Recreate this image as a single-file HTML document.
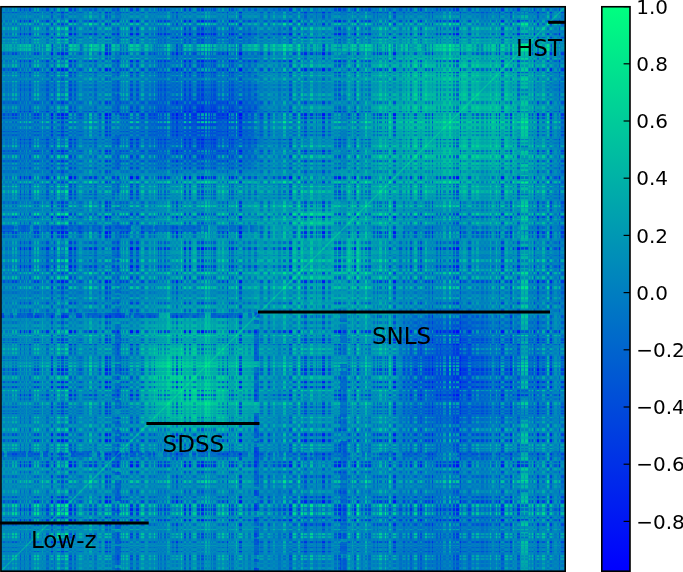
<!DOCTYPE html>
<html><head><meta charset="utf-8"><title>Correlation matrix</title>
<style>html,body{margin:0;padding:0;background:#fff;width:683px;height:572px;overflow:hidden}svg{display:block}</style>
</head><body><svg width="683" height="572" viewBox="0 0 683 572"><defs><clipPath id="pc"><rect x="0.90" y="6.75" width="564.30" height="564.45"/></clipPath><filter id="bl" x="-10%" y="-10%" width="120%" height="120%"><feGaussianBlur stdDeviation="4.0"/></filter><linearGradient id="cb" x1="0" y1="0" x2="0" y2="1"><stop offset="0" stop-color="#00ff80"/><stop offset="1" stop-color="#0000ff"/></linearGradient></defs><g clip-path="url(#pc)"><g filter="url(#bl)"><rect x="-10.9" y="-5.0" width="12.4" height="12.4" fill="#0080bf"/><rect x="0.9" y="-5.0" width="12.4" height="12.4" fill="#0080bf"/><rect x="12.7" y="-5.0" width="12.4" height="12.4" fill="#0080bf"/><rect x="24.4" y="-5.0" width="12.4" height="12.4" fill="#0080bf"/><rect x="36.2" y="-5.0" width="12.4" height="12.4" fill="#0081be"/><rect x="47.9" y="-5.0" width="12.4" height="12.4" fill="#0082be"/><rect x="59.7" y="-5.0" width="12.4" height="12.4" fill="#0081be"/><rect x="71.4" y="-5.0" width="12.4" height="12.4" fill="#007fbf"/><rect x="83.2" y="-5.0" width="12.4" height="12.4" fill="#0082be"/><rect x="95.0" y="-5.0" width="12.4" height="12.4" fill="#008aba"/><rect x="106.7" y="-5.0" width="12.4" height="12.4" fill="#0088bb"/><rect x="118.5" y="-5.0" width="12.4" height="12.4" fill="#0087bc"/><rect x="130.2" y="-5.0" width="12.4" height="12.4" fill="#0086bc"/><rect x="142.0" y="-5.0" width="12.4" height="12.4" fill="#0082be"/><rect x="153.7" y="-5.0" width="12.4" height="12.4" fill="#0081bf"/><rect x="165.5" y="-5.0" width="12.4" height="12.4" fill="#0083bd"/><rect x="177.2" y="-5.0" width="12.4" height="12.4" fill="#0085bc"/><rect x="189.0" y="-5.0" width="12.4" height="12.4" fill="#0087bc"/><rect x="200.8" y="-5.0" width="12.4" height="12.4" fill="#0087bb"/><rect x="212.5" y="-5.0" width="12.4" height="12.4" fill="#0086bc"/><rect x="224.3" y="-5.0" width="12.4" height="12.4" fill="#0087bc"/><rect x="236.0" y="-5.0" width="12.4" height="12.4" fill="#0089ba"/><rect x="247.8" y="-5.0" width="12.4" height="12.4" fill="#008bba"/><rect x="259.5" y="-5.0" width="12.4" height="12.4" fill="#0082be"/><rect x="271.3" y="-5.0" width="12.4" height="12.4" fill="#007ec0"/><rect x="283.1" y="-5.0" width="12.4" height="12.4" fill="#007cc1"/><rect x="294.8" y="-5.0" width="12.4" height="12.4" fill="#007bc1"/><rect x="306.6" y="-5.0" width="12.4" height="12.4" fill="#007bc1"/><rect x="318.3" y="-5.0" width="12.4" height="12.4" fill="#007fc0"/><rect x="330.1" y="-5.0" width="12.4" height="12.4" fill="#0084bd"/><rect x="341.8" y="-5.0" width="12.4" height="12.4" fill="#0083bd"/><rect x="353.6" y="-5.0" width="12.4" height="12.4" fill="#0081be"/><rect x="365.3" y="-5.0" width="12.4" height="12.4" fill="#007ec0"/><rect x="377.1" y="-5.0" width="12.4" height="12.4" fill="#007cc1"/><rect x="388.9" y="-5.0" width="12.4" height="12.4" fill="#007dc1"/><rect x="400.6" y="-5.0" width="12.4" height="12.4" fill="#0080bf"/><rect x="412.4" y="-5.0" width="12.4" height="12.4" fill="#0080bf"/><rect x="424.1" y="-5.0" width="12.4" height="12.4" fill="#007fc0"/><rect x="435.9" y="-5.0" width="12.4" height="12.4" fill="#0080bf"/><rect x="447.6" y="-5.0" width="12.4" height="12.4" fill="#0084bd"/><rect x="459.4" y="-5.0" width="12.4" height="12.4" fill="#0083be"/><rect x="471.2" y="-5.0" width="12.4" height="12.4" fill="#007cc1"/><rect x="482.9" y="-5.0" width="12.4" height="12.4" fill="#007bc2"/><rect x="494.7" y="-5.0" width="12.4" height="12.4" fill="#007fc0"/><rect x="506.4" y="-5.0" width="12.4" height="12.4" fill="#007fc0"/><rect x="518.2" y="-5.0" width="12.4" height="12.4" fill="#0084bd"/><rect x="529.9" y="-5.0" width="12.4" height="12.4" fill="#007ac2"/><rect x="541.7" y="-5.0" width="12.4" height="12.4" fill="#0080bf"/><rect x="553.4" y="-5.0" width="12.4" height="12.4" fill="#008aba"/><rect x="565.2" y="-5.0" width="12.4" height="12.4" fill="#008aba"/><rect x="-10.9" y="6.8" width="12.4" height="12.4" fill="#0080bf"/><rect x="0.9" y="6.8" width="12.4" height="12.4" fill="#0080bf"/><rect x="12.7" y="6.8" width="12.4" height="12.4" fill="#0080bf"/><rect x="24.4" y="6.8" width="12.4" height="12.4" fill="#0080bf"/><rect x="36.2" y="6.8" width="12.4" height="12.4" fill="#0081be"/><rect x="47.9" y="6.8" width="12.4" height="12.4" fill="#0082be"/><rect x="59.7" y="6.8" width="12.4" height="12.4" fill="#0081be"/><rect x="71.4" y="6.8" width="12.4" height="12.4" fill="#007fbf"/><rect x="83.2" y="6.8" width="12.4" height="12.4" fill="#0082be"/><rect x="95.0" y="6.8" width="12.4" height="12.4" fill="#008aba"/><rect x="106.7" y="6.8" width="12.4" height="12.4" fill="#0088bb"/><rect x="118.5" y="6.8" width="12.4" height="12.4" fill="#0087bc"/><rect x="130.2" y="6.8" width="12.4" height="12.4" fill="#0086bc"/><rect x="142.0" y="6.8" width="12.4" height="12.4" fill="#0082be"/><rect x="153.7" y="6.8" width="12.4" height="12.4" fill="#0081bf"/><rect x="165.5" y="6.8" width="12.4" height="12.4" fill="#0083bd"/><rect x="177.2" y="6.8" width="12.4" height="12.4" fill="#0085bc"/><rect x="189.0" y="6.8" width="12.4" height="12.4" fill="#0087bc"/><rect x="200.8" y="6.8" width="12.4" height="12.4" fill="#0087bb"/><rect x="212.5" y="6.8" width="12.4" height="12.4" fill="#0086bc"/><rect x="224.3" y="6.8" width="12.4" height="12.4" fill="#0087bc"/><rect x="236.0" y="6.8" width="12.4" height="12.4" fill="#0089ba"/><rect x="247.8" y="6.8" width="12.4" height="12.4" fill="#008bba"/><rect x="259.5" y="6.8" width="12.4" height="12.4" fill="#0082be"/><rect x="271.3" y="6.8" width="12.4" height="12.4" fill="#007ec0"/><rect x="283.1" y="6.8" width="12.4" height="12.4" fill="#007cc1"/><rect x="294.8" y="6.8" width="12.4" height="12.4" fill="#007bc1"/><rect x="306.6" y="6.8" width="12.4" height="12.4" fill="#007bc1"/><rect x="318.3" y="6.8" width="12.4" height="12.4" fill="#007fc0"/><rect x="330.1" y="6.8" width="12.4" height="12.4" fill="#0084bd"/><rect x="341.8" y="6.8" width="12.4" height="12.4" fill="#0083bd"/><rect x="353.6" y="6.8" width="12.4" height="12.4" fill="#0081be"/><rect x="365.3" y="6.8" width="12.4" height="12.4" fill="#007ec0"/><rect x="377.1" y="6.8" width="12.4" height="12.4" fill="#007cc1"/><rect x="388.9" y="6.8" width="12.4" height="12.4" fill="#007dc1"/><rect x="400.6" y="6.8" width="12.4" height="12.4" fill="#0080bf"/><rect x="412.4" y="6.8" width="12.4" height="12.4" fill="#0080bf"/><rect x="424.1" y="6.8" width="12.4" height="12.4" fill="#007fc0"/><rect x="435.9" y="6.8" width="12.4" height="12.4" fill="#0080bf"/><rect x="447.6" y="6.8" width="12.4" height="12.4" fill="#0084bd"/><rect x="459.4" y="6.8" width="12.4" height="12.4" fill="#0083be"/><rect x="471.2" y="6.8" width="12.4" height="12.4" fill="#007cc1"/><rect x="482.9" y="6.8" width="12.4" height="12.4" fill="#007bc2"/><rect x="494.7" y="6.8" width="12.4" height="12.4" fill="#007fc0"/><rect x="506.4" y="6.8" width="12.4" height="12.4" fill="#007fc0"/><rect x="518.2" y="6.8" width="12.4" height="12.4" fill="#0084bd"/><rect x="529.9" y="6.8" width="12.4" height="12.4" fill="#007ac2"/><rect x="541.7" y="6.8" width="12.4" height="12.4" fill="#0080bf"/><rect x="553.4" y="6.8" width="12.4" height="12.4" fill="#008aba"/><rect x="565.2" y="6.8" width="12.4" height="12.4" fill="#008aba"/><rect x="-10.9" y="18.5" width="12.4" height="12.4" fill="#0081bf"/><rect x="0.9" y="18.5" width="12.4" height="12.4" fill="#0081bf"/><rect x="12.7" y="18.5" width="12.4" height="12.4" fill="#0081be"/><rect x="24.4" y="18.5" width="12.4" height="12.4" fill="#0082be"/><rect x="36.2" y="18.5" width="12.4" height="12.4" fill="#0084bd"/><rect x="47.9" y="18.5" width="12.4" height="12.4" fill="#0086bc"/><rect x="59.7" y="18.5" width="12.4" height="12.4" fill="#0085bc"/><rect x="71.4" y="18.5" width="12.4" height="12.4" fill="#0081be"/><rect x="83.2" y="18.5" width="12.4" height="12.4" fill="#0083bd"/><rect x="95.0" y="18.5" width="12.4" height="12.4" fill="#008cb9"/><rect x="106.7" y="18.5" width="12.4" height="12.4" fill="#008aba"/><rect x="118.5" y="18.5" width="12.4" height="12.4" fill="#0088bb"/><rect x="130.2" y="18.5" width="12.4" height="12.4" fill="#0087bb"/><rect x="142.0" y="18.5" width="12.4" height="12.4" fill="#007fc0"/><rect x="153.7" y="18.5" width="12.4" height="12.4" fill="#0079c2"/><rect x="165.5" y="18.5" width="12.4" height="12.4" fill="#007bc1"/><rect x="177.2" y="18.5" width="12.4" height="12.4" fill="#007bc1"/><rect x="189.0" y="18.5" width="12.4" height="12.4" fill="#0079c2"/><rect x="200.8" y="18.5" width="12.4" height="12.4" fill="#0079c3"/><rect x="212.5" y="18.5" width="12.4" height="12.4" fill="#007ac2"/><rect x="224.3" y="18.5" width="12.4" height="12.4" fill="#007cc1"/><rect x="236.0" y="18.5" width="12.4" height="12.4" fill="#007ec0"/><rect x="247.8" y="18.5" width="12.4" height="12.4" fill="#0081bf"/><rect x="259.5" y="18.5" width="12.4" height="12.4" fill="#0084bd"/><rect x="271.3" y="18.5" width="12.4" height="12.4" fill="#0082be"/><rect x="283.1" y="18.5" width="12.4" height="12.4" fill="#0080bf"/><rect x="294.8" y="18.5" width="12.4" height="12.4" fill="#0081be"/><rect x="306.6" y="18.5" width="12.4" height="12.4" fill="#0084bd"/><rect x="318.3" y="18.5" width="12.4" height="12.4" fill="#0087bb"/><rect x="330.1" y="18.5" width="12.4" height="12.4" fill="#008bb9"/><rect x="341.8" y="18.5" width="12.4" height="12.4" fill="#008aba"/><rect x="353.6" y="18.5" width="12.4" height="12.4" fill="#0088bb"/><rect x="365.3" y="18.5" width="12.4" height="12.4" fill="#008aba"/><rect x="377.1" y="18.5" width="12.4" height="12.4" fill="#008bb9"/><rect x="388.9" y="18.5" width="12.4" height="12.4" fill="#008db9"/><rect x="400.6" y="18.5" width="12.4" height="12.4" fill="#0090b7"/><rect x="412.4" y="18.5" width="12.4" height="12.4" fill="#0091b7"/><rect x="424.1" y="18.5" width="12.4" height="12.4" fill="#008eb8"/><rect x="435.9" y="18.5" width="12.4" height="12.4" fill="#008fb8"/><rect x="447.6" y="18.5" width="12.4" height="12.4" fill="#0093b6"/><rect x="459.4" y="18.5" width="12.4" height="12.4" fill="#0092b6"/><rect x="471.2" y="18.5" width="12.4" height="12.4" fill="#008db9"/><rect x="482.9" y="18.5" width="12.4" height="12.4" fill="#008cb9"/><rect x="494.7" y="18.5" width="12.4" height="12.4" fill="#0090b7"/><rect x="506.4" y="18.5" width="12.4" height="12.4" fill="#008fb8"/><rect x="518.2" y="18.5" width="12.4" height="12.4" fill="#0094b5"/><rect x="529.9" y="18.5" width="12.4" height="12.4" fill="#008aba"/><rect x="541.7" y="18.5" width="12.4" height="12.4" fill="#0087bc"/><rect x="553.4" y="18.5" width="12.4" height="12.4" fill="#0082be"/><rect x="565.2" y="18.5" width="12.4" height="12.4" fill="#0082be"/><rect x="-10.9" y="30.3" width="12.4" height="12.4" fill="#0080bf"/><rect x="0.9" y="30.3" width="12.4" height="12.4" fill="#0080bf"/><rect x="12.7" y="30.3" width="12.4" height="12.4" fill="#0081bf"/><rect x="24.4" y="30.3" width="12.4" height="12.4" fill="#0083bd"/><rect x="36.2" y="30.3" width="12.4" height="12.4" fill="#0087bc"/><rect x="47.9" y="30.3" width="12.4" height="12.4" fill="#008cb9"/><rect x="59.7" y="30.3" width="12.4" height="12.4" fill="#008bba"/><rect x="71.4" y="30.3" width="12.4" height="12.4" fill="#0082be"/><rect x="83.2" y="30.3" width="12.4" height="12.4" fill="#0083be"/><rect x="95.0" y="30.3" width="12.4" height="12.4" fill="#008cb9"/><rect x="106.7" y="30.3" width="12.4" height="12.4" fill="#008bba"/><rect x="118.5" y="30.3" width="12.4" height="12.4" fill="#0088bb"/><rect x="130.2" y="30.3" width="12.4" height="12.4" fill="#0087bc"/><rect x="142.0" y="30.3" width="12.4" height="12.4" fill="#007cc1"/><rect x="153.7" y="30.3" width="12.4" height="12.4" fill="#0074c5"/><rect x="165.5" y="30.3" width="12.4" height="12.4" fill="#0076c4"/><rect x="177.2" y="30.3" width="12.4" height="12.4" fill="#0073c5"/><rect x="189.0" y="30.3" width="12.4" height="12.4" fill="#006bc9"/><rect x="200.8" y="30.3" width="12.4" height="12.4" fill="#006aca"/><rect x="212.5" y="30.3" width="12.4" height="12.4" fill="#006fc8"/><rect x="224.3" y="30.3" width="12.4" height="12.4" fill="#0073c6"/><rect x="236.0" y="30.3" width="12.4" height="12.4" fill="#0072c6"/><rect x="247.8" y="30.3" width="12.4" height="12.4" fill="#0076c4"/><rect x="259.5" y="30.3" width="12.4" height="12.4" fill="#0081be"/><rect x="271.3" y="30.3" width="12.4" height="12.4" fill="#0081be"/><rect x="283.1" y="30.3" width="12.4" height="12.4" fill="#007fbf"/><rect x="294.8" y="30.3" width="12.4" height="12.4" fill="#0084bd"/><rect x="306.6" y="30.3" width="12.4" height="12.4" fill="#008aba"/><rect x="318.3" y="30.3" width="12.4" height="12.4" fill="#008eb8"/><rect x="330.1" y="30.3" width="12.4" height="12.4" fill="#008fb8"/><rect x="341.8" y="30.3" width="12.4" height="12.4" fill="#008bb9"/><rect x="353.6" y="30.3" width="12.4" height="12.4" fill="#008aba"/><rect x="365.3" y="30.3" width="12.4" height="12.4" fill="#0090b7"/><rect x="377.1" y="30.3" width="12.4" height="12.4" fill="#0095b4"/><rect x="388.9" y="30.3" width="12.4" height="12.4" fill="#0098b3"/><rect x="400.6" y="30.3" width="12.4" height="12.4" fill="#009cb1"/><rect x="412.4" y="30.3" width="12.4" height="12.4" fill="#009bb2"/><rect x="424.1" y="30.3" width="12.4" height="12.4" fill="#0096b4"/><rect x="435.9" y="30.3" width="12.4" height="12.4" fill="#0096b4"/><rect x="447.6" y="30.3" width="12.4" height="12.4" fill="#0099b3"/><rect x="459.4" y="30.3" width="12.4" height="12.4" fill="#0099b2"/><rect x="471.2" y="30.3" width="12.4" height="12.4" fill="#0097b4"/><rect x="482.9" y="30.3" width="12.4" height="12.4" fill="#0097b4"/><rect x="494.7" y="30.3" width="12.4" height="12.4" fill="#009ab2"/><rect x="506.4" y="30.3" width="12.4" height="12.4" fill="#009ab2"/><rect x="518.2" y="30.3" width="12.4" height="12.4" fill="#00a1ae"/><rect x="529.9" y="30.3" width="12.4" height="12.4" fill="#0097b3"/><rect x="541.7" y="30.3" width="12.4" height="12.4" fill="#008eb8"/><rect x="553.4" y="30.3" width="12.4" height="12.4" fill="#0080bf"/><rect x="565.2" y="30.3" width="12.4" height="12.4" fill="#0080bf"/><rect x="-10.9" y="42.0" width="12.4" height="12.4" fill="#008aba"/><rect x="0.9" y="42.0" width="12.4" height="12.4" fill="#008aba"/><rect x="12.7" y="42.0" width="12.4" height="12.4" fill="#008bba"/><rect x="24.4" y="42.0" width="12.4" height="12.4" fill="#008db9"/><rect x="36.2" y="42.0" width="12.4" height="12.4" fill="#0091b7"/><rect x="47.9" y="42.0" width="12.4" height="12.4" fill="#0096b4"/><rect x="59.7" y="42.0" width="12.4" height="12.4" fill="#0094b5"/><rect x="71.4" y="42.0" width="12.4" height="12.4" fill="#008cb9"/><rect x="83.2" y="42.0" width="12.4" height="12.4" fill="#008db9"/><rect x="95.0" y="42.0" width="12.4" height="12.4" fill="#0096b4"/><rect x="106.7" y="42.0" width="12.4" height="12.4" fill="#0095b5"/><rect x="118.5" y="42.0" width="12.4" height="12.4" fill="#0092b6"/><rect x="130.2" y="42.0" width="12.4" height="12.4" fill="#0091b7"/><rect x="142.0" y="42.0" width="12.4" height="12.4" fill="#0086bc"/><rect x="153.7" y="42.0" width="12.4" height="12.4" fill="#007ec0"/><rect x="165.5" y="42.0" width="12.4" height="12.4" fill="#007fbf"/><rect x="177.2" y="42.0" width="12.4" height="12.4" fill="#007cc1"/><rect x="189.0" y="42.0" width="12.4" height="12.4" fill="#0074c5"/><rect x="200.8" y="42.0" width="12.4" height="12.4" fill="#0073c6"/><rect x="212.5" y="42.0" width="12.4" height="12.4" fill="#0078c3"/><rect x="224.3" y="42.0" width="12.4" height="12.4" fill="#007bc1"/><rect x="236.0" y="42.0" width="12.4" height="12.4" fill="#007bc2"/><rect x="247.8" y="42.0" width="12.4" height="12.4" fill="#007fbf"/><rect x="259.5" y="42.0" width="12.4" height="12.4" fill="#008bb9"/><rect x="271.3" y="42.0" width="12.4" height="12.4" fill="#008cb9"/><rect x="283.1" y="42.0" width="12.4" height="12.4" fill="#008aba"/><rect x="294.8" y="42.0" width="12.4" height="12.4" fill="#008eb8"/><rect x="306.6" y="42.0" width="12.4" height="12.4" fill="#0095b5"/><rect x="318.3" y="42.0" width="12.4" height="12.4" fill="#0098b3"/><rect x="330.1" y="42.0" width="12.4" height="12.4" fill="#0099b2"/><rect x="341.8" y="42.0" width="12.4" height="12.4" fill="#0096b4"/><rect x="353.6" y="42.0" width="12.4" height="12.4" fill="#0095b5"/><rect x="365.3" y="42.0" width="12.4" height="12.4" fill="#009bb1"/><rect x="377.1" y="42.0" width="12.4" height="12.4" fill="#00a1ae"/><rect x="388.9" y="42.0" width="12.4" height="12.4" fill="#00a4ad"/><rect x="400.6" y="42.0" width="12.4" height="12.4" fill="#00a8ab"/><rect x="412.4" y="42.0" width="12.4" height="12.4" fill="#00a7ab"/><rect x="424.1" y="42.0" width="12.4" height="12.4" fill="#00a2ae"/><rect x="435.9" y="42.0" width="12.4" height="12.4" fill="#00a2ae"/><rect x="447.6" y="42.0" width="12.4" height="12.4" fill="#00a6ac"/><rect x="459.4" y="42.0" width="12.4" height="12.4" fill="#00a7ac"/><rect x="471.2" y="42.0" width="12.4" height="12.4" fill="#00a3ad"/><rect x="482.9" y="42.0" width="12.4" height="12.4" fill="#00a3ad"/><rect x="494.7" y="42.0" width="12.4" height="12.4" fill="#00a7ac"/><rect x="506.4" y="42.0" width="12.4" height="12.4" fill="#00a6ac"/><rect x="518.2" y="42.0" width="12.4" height="12.4" fill="#00ada8"/><rect x="529.9" y="42.0" width="12.4" height="12.4" fill="#00a3ae"/><rect x="541.7" y="42.0" width="12.4" height="12.4" fill="#0099b3"/><rect x="553.4" y="42.0" width="12.4" height="12.4" fill="#008aba"/><rect x="565.2" y="42.0" width="12.4" height="12.4" fill="#008aba"/><rect x="-10.9" y="53.8" width="12.4" height="12.4" fill="#0081be"/><rect x="0.9" y="53.8" width="12.4" height="12.4" fill="#0081be"/><rect x="12.7" y="53.8" width="12.4" height="12.4" fill="#0082be"/><rect x="24.4" y="53.8" width="12.4" height="12.4" fill="#0083be"/><rect x="36.2" y="53.8" width="12.4" height="12.4" fill="#0084bd"/><rect x="47.9" y="53.8" width="12.4" height="12.4" fill="#0086bc"/><rect x="59.7" y="53.8" width="12.4" height="12.4" fill="#0085bc"/><rect x="71.4" y="53.8" width="12.4" height="12.4" fill="#0082be"/><rect x="83.2" y="53.8" width="12.4" height="12.4" fill="#0085bc"/><rect x="95.0" y="53.8" width="12.4" height="12.4" fill="#008eb8"/><rect x="106.7" y="53.8" width="12.4" height="12.4" fill="#008bb9"/><rect x="118.5" y="53.8" width="12.4" height="12.4" fill="#008aba"/><rect x="130.2" y="53.8" width="12.4" height="12.4" fill="#0088bb"/><rect x="142.0" y="53.8" width="12.4" height="12.4" fill="#007bc1"/><rect x="153.7" y="53.8" width="12.4" height="12.4" fill="#0073c6"/><rect x="165.5" y="53.8" width="12.4" height="12.4" fill="#0075c4"/><rect x="177.2" y="53.8" width="12.4" height="12.4" fill="#0074c5"/><rect x="189.0" y="53.8" width="12.4" height="12.4" fill="#006fc7"/><rect x="200.8" y="53.8" width="12.4" height="12.4" fill="#006fc8"/><rect x="212.5" y="53.8" width="12.4" height="12.4" fill="#0072c6"/><rect x="224.3" y="53.8" width="12.4" height="12.4" fill="#0076c4"/><rect x="236.0" y="53.8" width="12.4" height="12.4" fill="#0077c4"/><rect x="247.8" y="53.8" width="12.4" height="12.4" fill="#007cc1"/><rect x="259.5" y="53.8" width="12.4" height="12.4" fill="#008aba"/><rect x="271.3" y="53.8" width="12.4" height="12.4" fill="#008bba"/><rect x="283.1" y="53.8" width="12.4" height="12.4" fill="#008aba"/><rect x="294.8" y="53.8" width="12.4" height="12.4" fill="#008db9"/><rect x="306.6" y="53.8" width="12.4" height="12.4" fill="#008fb8"/><rect x="318.3" y="53.8" width="12.4" height="12.4" fill="#0092b6"/><rect x="330.1" y="53.8" width="12.4" height="12.4" fill="#0097b4"/><rect x="341.8" y="53.8" width="12.4" height="12.4" fill="#0095b4"/><rect x="353.6" y="53.8" width="12.4" height="12.4" fill="#0094b5"/><rect x="365.3" y="53.8" width="12.4" height="12.4" fill="#009db1"/><rect x="377.1" y="53.8" width="12.4" height="12.4" fill="#00a1ae"/><rect x="388.9" y="53.8" width="12.4" height="12.4" fill="#00a4ad"/><rect x="400.6" y="53.8" width="12.4" height="12.4" fill="#00ada8"/><rect x="412.4" y="53.8" width="12.4" height="12.4" fill="#00b0a7"/><rect x="424.1" y="53.8" width="12.4" height="12.4" fill="#00ada9"/><rect x="435.9" y="53.8" width="12.4" height="12.4" fill="#00aea8"/><rect x="447.6" y="53.8" width="12.4" height="12.4" fill="#00b4a5"/><rect x="459.4" y="53.8" width="12.4" height="12.4" fill="#00b3a5"/><rect x="471.2" y="53.8" width="12.4" height="12.4" fill="#00aca9"/><rect x="482.9" y="53.8" width="12.4" height="12.4" fill="#00aaaa"/><rect x="494.7" y="53.8" width="12.4" height="12.4" fill="#00ada8"/><rect x="506.4" y="53.8" width="12.4" height="12.4" fill="#00a8ab"/><rect x="518.2" y="53.8" width="12.4" height="12.4" fill="#00a7ac"/><rect x="529.9" y="53.8" width="12.4" height="12.4" fill="#009bb1"/><rect x="541.7" y="53.8" width="12.4" height="12.4" fill="#0091b7"/><rect x="553.4" y="53.8" width="12.4" height="12.4" fill="#0081bf"/><rect x="565.2" y="53.8" width="12.4" height="12.4" fill="#0081bf"/><rect x="-10.9" y="65.5" width="12.4" height="12.4" fill="#007fc0"/><rect x="0.9" y="65.5" width="12.4" height="12.4" fill="#007fc0"/><rect x="12.7" y="65.5" width="12.4" height="12.4" fill="#007fbf"/><rect x="24.4" y="65.5" width="12.4" height="12.4" fill="#0080bf"/><rect x="36.2" y="65.5" width="12.4" height="12.4" fill="#0080bf"/><rect x="47.9" y="65.5" width="12.4" height="12.4" fill="#007ec0"/><rect x="59.7" y="65.5" width="12.4" height="12.4" fill="#007ec0"/><rect x="71.4" y="65.5" width="12.4" height="12.4" fill="#0080bf"/><rect x="83.2" y="65.5" width="12.4" height="12.4" fill="#0085bd"/><rect x="95.0" y="65.5" width="12.4" height="12.4" fill="#008bba"/><rect x="106.7" y="65.5" width="12.4" height="12.4" fill="#0088bb"/><rect x="118.5" y="65.5" width="12.4" height="12.4" fill="#0088bb"/><rect x="130.2" y="65.5" width="12.4" height="12.4" fill="#0086bc"/><rect x="142.0" y="65.5" width="12.4" height="12.4" fill="#0079c2"/><rect x="153.7" y="65.5" width="12.4" height="12.4" fill="#0070c7"/><rect x="165.5" y="65.5" width="12.4" height="12.4" fill="#0073c6"/><rect x="177.2" y="65.5" width="12.4" height="12.4" fill="#0073c6"/><rect x="189.0" y="65.5" width="12.4" height="12.4" fill="#0071c7"/><rect x="200.8" y="65.5" width="12.4" height="12.4" fill="#0071c6"/><rect x="212.5" y="65.5" width="12.4" height="12.4" fill="#0071c6"/><rect x="224.3" y="65.5" width="12.4" height="12.4" fill="#0076c4"/><rect x="236.0" y="65.5" width="12.4" height="12.4" fill="#0077c3"/><rect x="247.8" y="65.5" width="12.4" height="12.4" fill="#007dc1"/><rect x="259.5" y="65.5" width="12.4" height="12.4" fill="#008cb9"/><rect x="271.3" y="65.5" width="12.4" height="12.4" fill="#008db8"/><rect x="283.1" y="65.5" width="12.4" height="12.4" fill="#008cb9"/><rect x="294.8" y="65.5" width="12.4" height="12.4" fill="#008eb8"/><rect x="306.6" y="65.5" width="12.4" height="12.4" fill="#008cb9"/><rect x="318.3" y="65.5" width="12.4" height="12.4" fill="#0090b7"/><rect x="330.1" y="65.5" width="12.4" height="12.4" fill="#0099b3"/><rect x="341.8" y="65.5" width="12.4" height="12.4" fill="#009ab2"/><rect x="353.6" y="65.5" width="12.4" height="12.4" fill="#0098b3"/><rect x="365.3" y="65.5" width="12.4" height="12.4" fill="#00a1ae"/><rect x="377.1" y="65.5" width="12.4" height="12.4" fill="#00a4ad"/><rect x="388.9" y="65.5" width="12.4" height="12.4" fill="#00a6ac"/><rect x="400.6" y="65.5" width="12.4" height="12.4" fill="#00b4a5"/><rect x="412.4" y="65.5" width="12.4" height="12.4" fill="#00b9a2"/><rect x="424.1" y="65.5" width="12.4" height="12.4" fill="#00b6a4"/><rect x="435.9" y="65.5" width="12.4" height="12.4" fill="#00b9a3"/><rect x="447.6" y="65.5" width="12.4" height="12.4" fill="#00c09f"/><rect x="459.4" y="65.5" width="12.4" height="12.4" fill="#00bfa0"/><rect x="471.2" y="65.5" width="12.4" height="12.4" fill="#00b3a6"/><rect x="482.9" y="65.5" width="12.4" height="12.4" fill="#00b0a7"/><rect x="494.7" y="65.5" width="12.4" height="12.4" fill="#00b5a5"/><rect x="506.4" y="65.5" width="12.4" height="12.4" fill="#00ada9"/><rect x="518.2" y="65.5" width="12.4" height="12.4" fill="#00a7ac"/><rect x="529.9" y="65.5" width="12.4" height="12.4" fill="#009bb2"/><rect x="541.7" y="65.5" width="12.4" height="12.4" fill="#0090b7"/><rect x="553.4" y="65.5" width="12.4" height="12.4" fill="#007fc0"/><rect x="565.2" y="65.5" width="12.4" height="12.4" fill="#007fc0"/><rect x="-10.9" y="77.3" width="12.4" height="12.4" fill="#0079c3"/><rect x="0.9" y="77.3" width="12.4" height="12.4" fill="#0079c3"/><rect x="12.7" y="77.3" width="12.4" height="12.4" fill="#007ac2"/><rect x="24.4" y="77.3" width="12.4" height="12.4" fill="#007dc1"/><rect x="36.2" y="77.3" width="12.4" height="12.4" fill="#007bc1"/><rect x="47.9" y="77.3" width="12.4" height="12.4" fill="#0076c4"/><rect x="59.7" y="77.3" width="12.4" height="12.4" fill="#0076c4"/><rect x="71.4" y="77.3" width="12.4" height="12.4" fill="#007ec0"/><rect x="83.2" y="77.3" width="12.4" height="12.4" fill="#0083bd"/><rect x="95.0" y="77.3" width="12.4" height="12.4" fill="#0087bc"/><rect x="106.7" y="77.3" width="12.4" height="12.4" fill="#0083bd"/><rect x="118.5" y="77.3" width="12.4" height="12.4" fill="#0084bd"/><rect x="130.2" y="77.3" width="12.4" height="12.4" fill="#0084bd"/><rect x="142.0" y="77.3" width="12.4" height="12.4" fill="#0077c4"/><rect x="153.7" y="77.3" width="12.4" height="12.4" fill="#006ec8"/><rect x="165.5" y="77.3" width="12.4" height="12.4" fill="#0070c7"/><rect x="177.2" y="77.3" width="12.4" height="12.4" fill="#0071c6"/><rect x="189.0" y="77.3" width="12.4" height="12.4" fill="#0072c6"/><rect x="200.8" y="77.3" width="12.4" height="12.4" fill="#0073c6"/><rect x="212.5" y="77.3" width="12.4" height="12.4" fill="#0070c7"/><rect x="224.3" y="77.3" width="12.4" height="12.4" fill="#0073c6"/><rect x="236.0" y="77.3" width="12.4" height="12.4" fill="#0074c5"/><rect x="247.8" y="77.3" width="12.4" height="12.4" fill="#007ac2"/><rect x="259.5" y="77.3" width="12.4" height="12.4" fill="#0089ba"/><rect x="271.3" y="77.3" width="12.4" height="12.4" fill="#008aba"/><rect x="283.1" y="77.3" width="12.4" height="12.4" fill="#0089bb"/><rect x="294.8" y="77.3" width="12.4" height="12.4" fill="#0088bb"/><rect x="306.6" y="77.3" width="12.4" height="12.4" fill="#0083bd"/><rect x="318.3" y="77.3" width="12.4" height="12.4" fill="#0088bb"/><rect x="330.1" y="77.3" width="12.4" height="12.4" fill="#0096b4"/><rect x="341.8" y="77.3" width="12.4" height="12.4" fill="#0099b3"/><rect x="353.6" y="77.3" width="12.4" height="12.4" fill="#0096b4"/><rect x="365.3" y="77.3" width="12.4" height="12.4" fill="#009db1"/><rect x="377.1" y="77.3" width="12.4" height="12.4" fill="#009db1"/><rect x="388.9" y="77.3" width="12.4" height="12.4" fill="#009eb0"/><rect x="400.6" y="77.3" width="12.4" height="12.4" fill="#00aea8"/><rect x="412.4" y="77.3" width="12.4" height="12.4" fill="#00b4a5"/><rect x="424.1" y="77.3" width="12.4" height="12.4" fill="#00b1a7"/><rect x="435.9" y="77.3" width="12.4" height="12.4" fill="#00b4a5"/><rect x="447.6" y="77.3" width="12.4" height="12.4" fill="#00bea0"/><rect x="459.4" y="77.3" width="12.4" height="12.4" fill="#00baa2"/><rect x="471.2" y="77.3" width="12.4" height="12.4" fill="#00aaaa"/><rect x="482.9" y="77.3" width="12.4" height="12.4" fill="#00a6ac"/><rect x="494.7" y="77.3" width="12.4" height="12.4" fill="#00afa7"/><rect x="506.4" y="77.3" width="12.4" height="12.4" fill="#00a9aa"/><rect x="518.2" y="77.3" width="12.4" height="12.4" fill="#00a3ae"/><rect x="529.9" y="77.3" width="12.4" height="12.4" fill="#0097b4"/><rect x="541.7" y="77.3" width="12.4" height="12.4" fill="#008bb9"/><rect x="553.4" y="77.3" width="12.4" height="12.4" fill="#007bc2"/><rect x="565.2" y="77.3" width="12.4" height="12.4" fill="#007bc2"/><rect x="-10.9" y="89.1" width="12.4" height="12.4" fill="#0075c4"/><rect x="0.9" y="89.1" width="12.4" height="12.4" fill="#0075c4"/><rect x="12.7" y="89.1" width="12.4" height="12.4" fill="#0076c4"/><rect x="24.4" y="89.1" width="12.4" height="12.4" fill="#0078c3"/><rect x="36.2" y="89.1" width="12.4" height="12.4" fill="#0077c3"/><rect x="47.9" y="89.1" width="12.4" height="12.4" fill="#0074c5"/><rect x="59.7" y="89.1" width="12.4" height="12.4" fill="#0074c5"/><rect x="71.4" y="89.1" width="12.4" height="12.4" fill="#007ac2"/><rect x="83.2" y="89.1" width="12.4" height="12.4" fill="#007fc0"/><rect x="95.0" y="89.1" width="12.4" height="12.4" fill="#0084bd"/><rect x="106.7" y="89.1" width="12.4" height="12.4" fill="#007ec0"/><rect x="118.5" y="89.1" width="12.4" height="12.4" fill="#007cc1"/><rect x="130.2" y="89.1" width="12.4" height="12.4" fill="#007cc1"/><rect x="142.0" y="89.1" width="12.4" height="12.4" fill="#006fc8"/><rect x="153.7" y="89.1" width="12.4" height="12.4" fill="#0066cc"/><rect x="165.5" y="89.1" width="12.4" height="12.4" fill="#0067cb"/><rect x="177.2" y="89.1" width="12.4" height="12.4" fill="#0066cc"/><rect x="189.0" y="89.1" width="12.4" height="12.4" fill="#0061ce"/><rect x="200.8" y="89.1" width="12.4" height="12.4" fill="#0061ce"/><rect x="212.5" y="89.1" width="12.4" height="12.4" fill="#0062ce"/><rect x="224.3" y="89.1" width="12.4" height="12.4" fill="#0067cc"/><rect x="236.0" y="89.1" width="12.4" height="12.4" fill="#0068cb"/><rect x="247.8" y="89.1" width="12.4" height="12.4" fill="#006fc8"/><rect x="259.5" y="89.1" width="12.4" height="12.4" fill="#0085bc"/><rect x="271.3" y="89.1" width="12.4" height="12.4" fill="#0087bb"/><rect x="283.1" y="89.1" width="12.4" height="12.4" fill="#0086bc"/><rect x="294.8" y="89.1" width="12.4" height="12.4" fill="#0087bc"/><rect x="306.6" y="89.1" width="12.4" height="12.4" fill="#0085bd"/><rect x="318.3" y="89.1" width="12.4" height="12.4" fill="#0089bb"/><rect x="330.1" y="89.1" width="12.4" height="12.4" fill="#0093b6"/><rect x="341.8" y="89.1" width="12.4" height="12.4" fill="#0094b5"/><rect x="353.6" y="89.1" width="12.4" height="12.4" fill="#0092b6"/><rect x="365.3" y="89.1" width="12.4" height="12.4" fill="#009cb1"/><rect x="377.1" y="89.1" width="12.4" height="12.4" fill="#009faf"/><rect x="388.9" y="89.1" width="12.4" height="12.4" fill="#00a1ae"/><rect x="400.6" y="89.1" width="12.4" height="12.4" fill="#00b0a7"/><rect x="412.4" y="89.1" width="12.4" height="12.4" fill="#00b5a5"/><rect x="424.1" y="89.1" width="12.4" height="12.4" fill="#00b2a6"/><rect x="435.9" y="89.1" width="12.4" height="12.4" fill="#00b4a5"/><rect x="447.6" y="89.1" width="12.4" height="12.4" fill="#00bba1"/><rect x="459.4" y="89.1" width="12.4" height="12.4" fill="#00b9a3"/><rect x="471.2" y="89.1" width="12.4" height="12.4" fill="#00aca9"/><rect x="482.9" y="89.1" width="12.4" height="12.4" fill="#00aaaa"/><rect x="494.7" y="89.1" width="12.4" height="12.4" fill="#00b2a6"/><rect x="506.4" y="89.1" width="12.4" height="12.4" fill="#00aba9"/><rect x="518.2" y="89.1" width="12.4" height="12.4" fill="#00a3ad"/><rect x="529.9" y="89.1" width="12.4" height="12.4" fill="#0097b4"/><rect x="541.7" y="89.1" width="12.4" height="12.4" fill="#008cb9"/><rect x="553.4" y="89.1" width="12.4" height="12.4" fill="#007cc1"/><rect x="565.2" y="89.1" width="12.4" height="12.4" fill="#007cc1"/><rect x="-10.9" y="100.8" width="12.4" height="12.4" fill="#0077c3"/><rect x="0.9" y="100.8" width="12.4" height="12.4" fill="#0077c3"/><rect x="12.7" y="100.8" width="12.4" height="12.4" fill="#0076c4"/><rect x="24.4" y="100.8" width="12.4" height="12.4" fill="#0074c5"/><rect x="36.2" y="100.8" width="12.4" height="12.4" fill="#0076c4"/><rect x="47.9" y="100.8" width="12.4" height="12.4" fill="#007cc1"/><rect x="59.7" y="100.8" width="12.4" height="12.4" fill="#007bc1"/><rect x="71.4" y="100.8" width="12.4" height="12.4" fill="#0077c4"/><rect x="83.2" y="100.8" width="12.4" height="12.4" fill="#0079c2"/><rect x="95.0" y="100.8" width="12.4" height="12.4" fill="#0084bd"/><rect x="106.7" y="100.8" width="12.4" height="12.4" fill="#007cc1"/><rect x="118.5" y="100.8" width="12.4" height="12.4" fill="#0073c5"/><rect x="130.2" y="100.8" width="12.4" height="12.4" fill="#0071c6"/><rect x="142.0" y="100.8" width="12.4" height="12.4" fill="#0065cc"/><rect x="153.7" y="100.8" width="12.4" height="12.4" fill="#005cd1"/><rect x="165.5" y="100.8" width="12.4" height="12.4" fill="#005ed0"/><rect x="177.2" y="100.8" width="12.4" height="12.4" fill="#0056d4"/><rect x="189.0" y="100.8" width="12.4" height="12.4" fill="#0044dd"/><rect x="200.8" y="100.8" width="12.4" height="12.4" fill="#0044dd"/><rect x="212.5" y="100.8" width="12.4" height="12.4" fill="#004dd8"/><rect x="224.3" y="100.8" width="12.4" height="12.4" fill="#0057d3"/><rect x="236.0" y="100.8" width="12.4" height="12.4" fill="#0058d3"/><rect x="247.8" y="100.8" width="12.4" height="12.4" fill="#0060cf"/><rect x="259.5" y="100.8" width="12.4" height="12.4" fill="#0081be"/><rect x="271.3" y="100.8" width="12.4" height="12.4" fill="#0086bc"/><rect x="283.1" y="100.8" width="12.4" height="12.4" fill="#0084bd"/><rect x="294.8" y="100.8" width="12.4" height="12.4" fill="#008aba"/><rect x="306.6" y="100.8" width="12.4" height="12.4" fill="#0092b6"/><rect x="318.3" y="100.8" width="12.4" height="12.4" fill="#0094b5"/><rect x="330.1" y="100.8" width="12.4" height="12.4" fill="#0091b6"/><rect x="341.8" y="100.8" width="12.4" height="12.4" fill="#008db8"/><rect x="353.6" y="100.8" width="12.4" height="12.4" fill="#008eb8"/><rect x="365.3" y="100.8" width="12.4" height="12.4" fill="#00a0af"/><rect x="377.1" y="100.8" width="12.4" height="12.4" fill="#00aca9"/><rect x="388.9" y="100.8" width="12.4" height="12.4" fill="#00afa7"/><rect x="400.6" y="100.8" width="12.4" height="12.4" fill="#00b9a3"/><rect x="412.4" y="100.8" width="12.4" height="12.4" fill="#00bca1"/><rect x="424.1" y="100.8" width="12.4" height="12.4" fill="#00b9a2"/><rect x="435.9" y="100.8" width="12.4" height="12.4" fill="#00b8a3"/><rect x="447.6" y="100.8" width="12.4" height="12.4" fill="#00baa2"/><rect x="459.4" y="100.8" width="12.4" height="12.4" fill="#00baa2"/><rect x="471.2" y="100.8" width="12.4" height="12.4" fill="#00b9a2"/><rect x="482.9" y="100.8" width="12.4" height="12.4" fill="#00bba2"/><rect x="494.7" y="100.8" width="12.4" height="12.4" fill="#00bfa0"/><rect x="506.4" y="100.8" width="12.4" height="12.4" fill="#00b3a5"/><rect x="518.2" y="100.8" width="12.4" height="12.4" fill="#00a7ac"/><rect x="529.9" y="100.8" width="12.4" height="12.4" fill="#009ab2"/><rect x="541.7" y="100.8" width="12.4" height="12.4" fill="#0092b6"/><rect x="553.4" y="100.8" width="12.4" height="12.4" fill="#0083bd"/><rect x="565.2" y="100.8" width="12.4" height="12.4" fill="#0083bd"/><rect x="-10.9" y="112.6" width="12.4" height="12.4" fill="#0079c3"/><rect x="0.9" y="112.6" width="12.4" height="12.4" fill="#0079c3"/><rect x="12.7" y="112.6" width="12.4" height="12.4" fill="#0077c3"/><rect x="24.4" y="112.6" width="12.4" height="12.4" fill="#0074c5"/><rect x="36.2" y="112.6" width="12.4" height="12.4" fill="#0077c4"/><rect x="47.9" y="112.6" width="12.4" height="12.4" fill="#007fbf"/><rect x="59.7" y="112.6" width="12.4" height="12.4" fill="#007ec0"/><rect x="71.4" y="112.6" width="12.4" height="12.4" fill="#0077c4"/><rect x="83.2" y="112.6" width="12.4" height="12.4" fill="#0079c3"/><rect x="95.0" y="112.6" width="12.4" height="12.4" fill="#0085bd"/><rect x="106.7" y="112.6" width="12.4" height="12.4" fill="#007dc1"/><rect x="118.5" y="112.6" width="12.4" height="12.4" fill="#0073c6"/><rect x="130.2" y="112.6" width="12.4" height="12.4" fill="#0070c7"/><rect x="142.0" y="112.6" width="12.4" height="12.4" fill="#0065cd"/><rect x="153.7" y="112.6" width="12.4" height="12.4" fill="#005cd1"/><rect x="165.5" y="112.6" width="12.4" height="12.4" fill="#005ed0"/><rect x="177.2" y="112.6" width="12.4" height="12.4" fill="#0055d5"/><rect x="189.0" y="112.6" width="12.4" height="12.4" fill="#0041de"/><rect x="200.8" y="112.6" width="12.4" height="12.4" fill="#0041df"/><rect x="212.5" y="112.6" width="12.4" height="12.4" fill="#004cd9"/><rect x="224.3" y="112.6" width="12.4" height="12.4" fill="#0057d3"/><rect x="236.0" y="112.6" width="12.4" height="12.4" fill="#0057d3"/><rect x="247.8" y="112.6" width="12.4" height="12.4" fill="#0060cf"/><rect x="259.5" y="112.6" width="12.4" height="12.4" fill="#0081be"/><rect x="271.3" y="112.6" width="12.4" height="12.4" fill="#0086bc"/><rect x="283.1" y="112.6" width="12.4" height="12.4" fill="#0084bd"/><rect x="294.8" y="112.6" width="12.4" height="12.4" fill="#008bb9"/><rect x="306.6" y="112.6" width="12.4" height="12.4" fill="#0095b4"/><rect x="318.3" y="112.6" width="12.4" height="12.4" fill="#0097b4"/><rect x="330.1" y="112.6" width="12.4" height="12.4" fill="#0091b6"/><rect x="341.8" y="112.6" width="12.4" height="12.4" fill="#008cb9"/><rect x="353.6" y="112.6" width="12.4" height="12.4" fill="#008db8"/><rect x="365.3" y="112.6" width="12.4" height="12.4" fill="#00a0af"/><rect x="377.1" y="112.6" width="12.4" height="12.4" fill="#00aea8"/><rect x="388.9" y="112.6" width="12.4" height="12.4" fill="#00b2a6"/><rect x="400.6" y="112.6" width="12.4" height="12.4" fill="#00baa2"/><rect x="412.4" y="112.6" width="12.4" height="12.4" fill="#00bca1"/><rect x="424.1" y="112.6" width="12.4" height="12.4" fill="#00b9a2"/><rect x="435.9" y="112.6" width="12.4" height="12.4" fill="#00b8a3"/><rect x="447.6" y="112.6" width="12.4" height="12.4" fill="#00b9a3"/><rect x="459.4" y="112.6" width="12.4" height="12.4" fill="#00baa2"/><rect x="471.2" y="112.6" width="12.4" height="12.4" fill="#00bca1"/><rect x="482.9" y="112.6" width="12.4" height="12.4" fill="#00bea0"/><rect x="494.7" y="112.6" width="12.4" height="12.4" fill="#00c19f"/><rect x="506.4" y="112.6" width="12.4" height="12.4" fill="#00b4a5"/><rect x="518.2" y="112.6" width="12.4" height="12.4" fill="#00a7ac"/><rect x="529.9" y="112.6" width="12.4" height="12.4" fill="#0099b2"/><rect x="541.7" y="112.6" width="12.4" height="12.4" fill="#0093b5"/><rect x="553.4" y="112.6" width="12.4" height="12.4" fill="#0084bd"/><rect x="565.2" y="112.6" width="12.4" height="12.4" fill="#0084bd"/><rect x="-10.9" y="124.3" width="12.4" height="12.4" fill="#0075c5"/><rect x="0.9" y="124.3" width="12.4" height="12.4" fill="#0075c5"/><rect x="12.7" y="124.3" width="12.4" height="12.4" fill="#0074c5"/><rect x="24.4" y="124.3" width="12.4" height="12.4" fill="#0073c6"/><rect x="36.2" y="124.3" width="12.4" height="12.4" fill="#0074c5"/><rect x="47.9" y="124.3" width="12.4" height="12.4" fill="#0078c3"/><rect x="59.7" y="124.3" width="12.4" height="12.4" fill="#0077c3"/><rect x="71.4" y="124.3" width="12.4" height="12.4" fill="#0077c4"/><rect x="83.2" y="124.3" width="12.4" height="12.4" fill="#007bc2"/><rect x="95.0" y="124.3" width="12.4" height="12.4" fill="#0084bd"/><rect x="106.7" y="124.3" width="12.4" height="12.4" fill="#007bc1"/><rect x="118.5" y="124.3" width="12.4" height="12.4" fill="#0073c5"/><rect x="130.2" y="124.3" width="12.4" height="12.4" fill="#0072c6"/><rect x="142.0" y="124.3" width="12.4" height="12.4" fill="#0068cb"/><rect x="153.7" y="124.3" width="12.4" height="12.4" fill="#0060cf"/><rect x="165.5" y="124.3" width="12.4" height="12.4" fill="#0062ce"/><rect x="177.2" y="124.3" width="12.4" height="12.4" fill="#005dd1"/><rect x="189.0" y="124.3" width="12.4" height="12.4" fill="#004fd8"/><rect x="200.8" y="124.3" width="12.4" height="12.4" fill="#004ed8"/><rect x="212.5" y="124.3" width="12.4" height="12.4" fill="#0056d4"/><rect x="224.3" y="124.3" width="12.4" height="12.4" fill="#005ed0"/><rect x="236.0" y="124.3" width="12.4" height="12.4" fill="#005ed0"/><rect x="247.8" y="124.3" width="12.4" height="12.4" fill="#0065cc"/><rect x="259.5" y="124.3" width="12.4" height="12.4" fill="#0082be"/><rect x="271.3" y="124.3" width="12.4" height="12.4" fill="#0086bc"/><rect x="283.1" y="124.3" width="12.4" height="12.4" fill="#0084bd"/><rect x="294.8" y="124.3" width="12.4" height="12.4" fill="#0088bb"/><rect x="306.6" y="124.3" width="12.4" height="12.4" fill="#008db8"/><rect x="318.3" y="124.3" width="12.4" height="12.4" fill="#0090b7"/><rect x="330.1" y="124.3" width="12.4" height="12.4" fill="#0092b6"/><rect x="341.8" y="124.3" width="12.4" height="12.4" fill="#008fb7"/><rect x="353.6" y="124.3" width="12.4" height="12.4" fill="#008eb8"/><rect x="365.3" y="124.3" width="12.4" height="12.4" fill="#009db0"/><rect x="377.1" y="124.3" width="12.4" height="12.4" fill="#00a7ac"/><rect x="388.9" y="124.3" width="12.4" height="12.4" fill="#00aaaa"/><rect x="400.6" y="124.3" width="12.4" height="12.4" fill="#00b4a5"/><rect x="412.4" y="124.3" width="12.4" height="12.4" fill="#00b7a4"/><rect x="424.1" y="124.3" width="12.4" height="12.4" fill="#00b2a6"/><rect x="435.9" y="124.3" width="12.4" height="12.4" fill="#00b3a6"/><rect x="447.6" y="124.3" width="12.4" height="12.4" fill="#00b7a3"/><rect x="459.4" y="124.3" width="12.4" height="12.4" fill="#00b8a3"/><rect x="471.2" y="124.3" width="12.4" height="12.4" fill="#00b4a5"/><rect x="482.9" y="124.3" width="12.4" height="12.4" fill="#00b4a5"/><rect x="494.7" y="124.3" width="12.4" height="12.4" fill="#00b9a3"/><rect x="506.4" y="124.3" width="12.4" height="12.4" fill="#00aea8"/><rect x="518.2" y="124.3" width="12.4" height="12.4" fill="#00a2ae"/><rect x="529.9" y="124.3" width="12.4" height="12.4" fill="#0095b4"/><rect x="541.7" y="124.3" width="12.4" height="12.4" fill="#008fb8"/><rect x="553.4" y="124.3" width="12.4" height="12.4" fill="#0080bf"/><rect x="565.2" y="124.3" width="12.4" height="12.4" fill="#0080bf"/><rect x="-10.9" y="136.1" width="12.4" height="12.4" fill="#0075c5"/><rect x="0.9" y="136.1" width="12.4" height="12.4" fill="#0075c5"/><rect x="12.7" y="136.1" width="12.4" height="12.4" fill="#0074c5"/><rect x="24.4" y="136.1" width="12.4" height="12.4" fill="#0074c5"/><rect x="36.2" y="136.1" width="12.4" height="12.4" fill="#0074c5"/><rect x="47.9" y="136.1" width="12.4" height="12.4" fill="#0076c4"/><rect x="59.7" y="136.1" width="12.4" height="12.4" fill="#0076c4"/><rect x="71.4" y="136.1" width="12.4" height="12.4" fill="#0079c2"/><rect x="83.2" y="136.1" width="12.4" height="12.4" fill="#007ec0"/><rect x="95.0" y="136.1" width="12.4" height="12.4" fill="#0086bc"/><rect x="106.7" y="136.1" width="12.4" height="12.4" fill="#007dc1"/><rect x="118.5" y="136.1" width="12.4" height="12.4" fill="#0076c4"/><rect x="130.2" y="136.1" width="12.4" height="12.4" fill="#0075c5"/><rect x="142.0" y="136.1" width="12.4" height="12.4" fill="#006cc9"/><rect x="153.7" y="136.1" width="12.4" height="12.4" fill="#0067cc"/><rect x="165.5" y="136.1" width="12.4" height="12.4" fill="#0069ca"/><rect x="177.2" y="136.1" width="12.4" height="12.4" fill="#0065cd"/><rect x="189.0" y="136.1" width="12.4" height="12.4" fill="#005bd2"/><rect x="200.8" y="136.1" width="12.4" height="12.4" fill="#005ad2"/><rect x="212.5" y="136.1" width="12.4" height="12.4" fill="#005fcf"/><rect x="224.3" y="136.1" width="12.4" height="12.4" fill="#0067cc"/><rect x="236.0" y="136.1" width="12.4" height="12.4" fill="#0067cc"/><rect x="247.8" y="136.1" width="12.4" height="12.4" fill="#006dc8"/><rect x="259.5" y="136.1" width="12.4" height="12.4" fill="#0085bc"/><rect x="271.3" y="136.1" width="12.4" height="12.4" fill="#0087bb"/><rect x="283.1" y="136.1" width="12.4" height="12.4" fill="#0086bc"/><rect x="294.8" y="136.1" width="12.4" height="12.4" fill="#0089ba"/><rect x="306.6" y="136.1" width="12.4" height="12.4" fill="#008cb9"/><rect x="318.3" y="136.1" width="12.4" height="12.4" fill="#0090b7"/><rect x="330.1" y="136.1" width="12.4" height="12.4" fill="#0094b5"/><rect x="341.8" y="136.1" width="12.4" height="12.4" fill="#0092b6"/><rect x="353.6" y="136.1" width="12.4" height="12.4" fill="#0091b7"/><rect x="365.3" y="136.1" width="12.4" height="12.4" fill="#009eb0"/><rect x="377.1" y="136.1" width="12.4" height="12.4" fill="#00a5ad"/><rect x="388.9" y="136.1" width="12.4" height="12.4" fill="#00a7ab"/><rect x="400.6" y="136.1" width="12.4" height="12.4" fill="#00b2a6"/><rect x="412.4" y="136.1" width="12.4" height="12.4" fill="#00b5a5"/><rect x="424.1" y="136.1" width="12.4" height="12.4" fill="#00b1a6"/><rect x="435.9" y="136.1" width="12.4" height="12.4" fill="#00b2a6"/><rect x="447.6" y="136.1" width="12.4" height="12.4" fill="#00b9a3"/><rect x="459.4" y="136.1" width="12.4" height="12.4" fill="#00b9a3"/><rect x="471.2" y="136.1" width="12.4" height="12.4" fill="#00b2a6"/><rect x="482.9" y="136.1" width="12.4" height="12.4" fill="#00b1a6"/><rect x="494.7" y="136.1" width="12.4" height="12.4" fill="#00b6a4"/><rect x="506.4" y="136.1" width="12.4" height="12.4" fill="#00aca9"/><rect x="518.2" y="136.1" width="12.4" height="12.4" fill="#00a2ae"/><rect x="529.9" y="136.1" width="12.4" height="12.4" fill="#0096b4"/><rect x="541.7" y="136.1" width="12.4" height="12.4" fill="#008eb8"/><rect x="553.4" y="136.1" width="12.4" height="12.4" fill="#007fc0"/><rect x="565.2" y="136.1" width="12.4" height="12.4" fill="#007fc0"/><rect x="-10.9" y="147.9" width="12.4" height="12.4" fill="#0076c4"/><rect x="0.9" y="147.9" width="12.4" height="12.4" fill="#0076c4"/><rect x="12.7" y="147.9" width="12.4" height="12.4" fill="#0076c4"/><rect x="24.4" y="147.9" width="12.4" height="12.4" fill="#0076c4"/><rect x="36.2" y="147.9" width="12.4" height="12.4" fill="#0076c4"/><rect x="47.9" y="147.9" width="12.4" height="12.4" fill="#0078c3"/><rect x="59.7" y="147.9" width="12.4" height="12.4" fill="#0078c3"/><rect x="71.4" y="147.9" width="12.4" height="12.4" fill="#007bc1"/><rect x="83.2" y="147.9" width="12.4" height="12.4" fill="#0080bf"/><rect x="95.0" y="147.9" width="12.4" height="12.4" fill="#0089bb"/><rect x="106.7" y="147.9" width="12.4" height="12.4" fill="#007fbf"/><rect x="118.5" y="147.9" width="12.4" height="12.4" fill="#0078c3"/><rect x="130.2" y="147.9" width="12.4" height="12.4" fill="#0076c4"/><rect x="142.0" y="147.9" width="12.4" height="12.4" fill="#006dc8"/><rect x="153.7" y="147.9" width="12.4" height="12.4" fill="#0067cb"/><rect x="165.5" y="147.9" width="12.4" height="12.4" fill="#0069ca"/><rect x="177.2" y="147.9" width="12.4" height="12.4" fill="#0065cd"/><rect x="189.0" y="147.9" width="12.4" height="12.4" fill="#005ad2"/><rect x="200.8" y="147.9" width="12.4" height="12.4" fill="#005ad2"/><rect x="212.5" y="147.9" width="12.4" height="12.4" fill="#005fcf"/><rect x="224.3" y="147.9" width="12.4" height="12.4" fill="#0067cc"/><rect x="236.0" y="147.9" width="12.4" height="12.4" fill="#0067cc"/><rect x="247.8" y="147.9" width="12.4" height="12.4" fill="#006ec8"/><rect x="259.5" y="147.9" width="12.4" height="12.4" fill="#0086bc"/><rect x="271.3" y="147.9" width="12.4" height="12.4" fill="#0089bb"/><rect x="283.1" y="147.9" width="12.4" height="12.4" fill="#0088bb"/><rect x="294.8" y="147.9" width="12.4" height="12.4" fill="#008cb9"/><rect x="306.6" y="147.9" width="12.4" height="12.4" fill="#008eb8"/><rect x="318.3" y="147.9" width="12.4" height="12.4" fill="#0092b6"/><rect x="330.1" y="147.9" width="12.4" height="12.4" fill="#0096b4"/><rect x="341.8" y="147.9" width="12.4" height="12.4" fill="#0094b5"/><rect x="353.6" y="147.9" width="12.4" height="12.4" fill="#0093b6"/><rect x="365.3" y="147.9" width="12.4" height="12.4" fill="#00a0af"/><rect x="377.1" y="147.9" width="12.4" height="12.4" fill="#00a8ab"/><rect x="388.9" y="147.9" width="12.4" height="12.4" fill="#00aaaa"/><rect x="400.6" y="147.9" width="12.4" height="12.4" fill="#00b4a5"/><rect x="412.4" y="147.9" width="12.4" height="12.4" fill="#00b7a3"/><rect x="424.1" y="147.9" width="12.4" height="12.4" fill="#00b5a4"/><rect x="435.9" y="147.9" width="12.4" height="12.4" fill="#00b7a4"/><rect x="447.6" y="147.9" width="12.4" height="12.4" fill="#00bca1"/><rect x="459.4" y="147.9" width="12.4" height="12.4" fill="#00bca1"/><rect x="471.2" y="147.9" width="12.4" height="12.4" fill="#00b5a4"/><rect x="482.9" y="147.9" width="12.4" height="12.4" fill="#00b4a5"/><rect x="494.7" y="147.9" width="12.4" height="12.4" fill="#00b9a2"/><rect x="506.4" y="147.9" width="12.4" height="12.4" fill="#00b0a7"/><rect x="518.2" y="147.9" width="12.4" height="12.4" fill="#00a8ab"/><rect x="529.9" y="147.9" width="12.4" height="12.4" fill="#009bb1"/><rect x="541.7" y="147.9" width="12.4" height="12.4" fill="#0091b7"/><rect x="553.4" y="147.9" width="12.4" height="12.4" fill="#0081bf"/><rect x="565.2" y="147.9" width="12.4" height="12.4" fill="#0081bf"/><rect x="-10.9" y="159.6" width="12.4" height="12.4" fill="#007ac2"/><rect x="0.9" y="159.6" width="12.4" height="12.4" fill="#007ac2"/><rect x="12.7" y="159.6" width="12.4" height="12.4" fill="#007ac2"/><rect x="24.4" y="159.6" width="12.4" height="12.4" fill="#007bc2"/><rect x="36.2" y="159.6" width="12.4" height="12.4" fill="#007bc2"/><rect x="47.9" y="159.6" width="12.4" height="12.4" fill="#007bc2"/><rect x="59.7" y="159.6" width="12.4" height="12.4" fill="#007bc2"/><rect x="71.4" y="159.6" width="12.4" height="12.4" fill="#007fc0"/><rect x="83.2" y="159.6" width="12.4" height="12.4" fill="#0084bd"/><rect x="95.0" y="159.6" width="12.4" height="12.4" fill="#008bb9"/><rect x="106.7" y="159.6" width="12.4" height="12.4" fill="#0083bd"/><rect x="118.5" y="159.6" width="12.4" height="12.4" fill="#007fc0"/><rect x="130.2" y="159.6" width="12.4" height="12.4" fill="#007dc0"/><rect x="142.0" y="159.6" width="12.4" height="12.4" fill="#0077c4"/><rect x="153.7" y="159.6" width="12.4" height="12.4" fill="#0073c5"/><rect x="165.5" y="159.6" width="12.4" height="12.4" fill="#0075c4"/><rect x="177.2" y="159.6" width="12.4" height="12.4" fill="#0073c5"/><rect x="189.0" y="159.6" width="12.4" height="12.4" fill="#006ec8"/><rect x="200.8" y="159.6" width="12.4" height="12.4" fill="#006dc8"/><rect x="212.5" y="159.6" width="12.4" height="12.4" fill="#0070c7"/><rect x="224.3" y="159.6" width="12.4" height="12.4" fill="#0074c5"/><rect x="236.0" y="159.6" width="12.4" height="12.4" fill="#0075c4"/><rect x="247.8" y="159.6" width="12.4" height="12.4" fill="#007bc2"/><rect x="259.5" y="159.6" width="12.4" height="12.4" fill="#008bb9"/><rect x="271.3" y="159.6" width="12.4" height="12.4" fill="#008db9"/><rect x="283.1" y="159.6" width="12.4" height="12.4" fill="#008cb9"/><rect x="294.8" y="159.6" width="12.4" height="12.4" fill="#008fb7"/><rect x="306.6" y="159.6" width="12.4" height="12.4" fill="#0090b7"/><rect x="318.3" y="159.6" width="12.4" height="12.4" fill="#0093b5"/><rect x="330.1" y="159.6" width="12.4" height="12.4" fill="#009ab2"/><rect x="341.8" y="159.6" width="12.4" height="12.4" fill="#0099b2"/><rect x="353.6" y="159.6" width="12.4" height="12.4" fill="#0098b3"/><rect x="365.3" y="159.6" width="12.4" height="12.4" fill="#00a2ae"/><rect x="377.1" y="159.6" width="12.4" height="12.4" fill="#00a7ab"/><rect x="388.9" y="159.6" width="12.4" height="12.4" fill="#00a9ab"/><rect x="400.6" y="159.6" width="12.4" height="12.4" fill="#00b1a7"/><rect x="412.4" y="159.6" width="12.4" height="12.4" fill="#00b4a5"/><rect x="424.1" y="159.6" width="12.4" height="12.4" fill="#00b2a6"/><rect x="435.9" y="159.6" width="12.4" height="12.4" fill="#00b4a5"/><rect x="447.6" y="159.6" width="12.4" height="12.4" fill="#00baa2"/><rect x="459.4" y="159.6" width="12.4" height="12.4" fill="#00b9a2"/><rect x="471.2" y="159.6" width="12.4" height="12.4" fill="#00b0a7"/><rect x="482.9" y="159.6" width="12.4" height="12.4" fill="#00aea8"/><rect x="494.7" y="159.6" width="12.4" height="12.4" fill="#00b4a5"/><rect x="506.4" y="159.6" width="12.4" height="12.4" fill="#00aea8"/><rect x="518.2" y="159.6" width="12.4" height="12.4" fill="#00a9ab"/><rect x="529.9" y="159.6" width="12.4" height="12.4" fill="#009cb1"/><rect x="541.7" y="159.6" width="12.4" height="12.4" fill="#0091b7"/><rect x="553.4" y="159.6" width="12.4" height="12.4" fill="#0080bf"/><rect x="565.2" y="159.6" width="12.4" height="12.4" fill="#0080bf"/><rect x="-10.9" y="171.4" width="12.4" height="12.4" fill="#0081bf"/><rect x="0.9" y="171.4" width="12.4" height="12.4" fill="#0081bf"/><rect x="12.7" y="171.4" width="12.4" height="12.4" fill="#0082be"/><rect x="24.4" y="171.4" width="12.4" height="12.4" fill="#0084bd"/><rect x="36.2" y="171.4" width="12.4" height="12.4" fill="#0084bd"/><rect x="47.9" y="171.4" width="12.4" height="12.4" fill="#0080bf"/><rect x="59.7" y="171.4" width="12.4" height="12.4" fill="#0080bf"/><rect x="71.4" y="171.4" width="12.4" height="12.4" fill="#0086bc"/><rect x="83.2" y="171.4" width="12.4" height="12.4" fill="#008aba"/><rect x="95.0" y="171.4" width="12.4" height="12.4" fill="#008eb8"/><rect x="106.7" y="171.4" width="12.4" height="12.4" fill="#008bb9"/><rect x="118.5" y="171.4" width="12.4" height="12.4" fill="#008cb9"/><rect x="130.2" y="171.4" width="12.4" height="12.4" fill="#008cb9"/><rect x="142.0" y="171.4" width="12.4" height="12.4" fill="#008cb9"/><rect x="153.7" y="171.4" width="12.4" height="12.4" fill="#008eb8"/><rect x="165.5" y="171.4" width="12.4" height="12.4" fill="#0090b7"/><rect x="177.2" y="171.4" width="12.4" height="12.4" fill="#0094b5"/><rect x="189.0" y="171.4" width="12.4" height="12.4" fill="#0099b2"/><rect x="200.8" y="171.4" width="12.4" height="12.4" fill="#009ab2"/><rect x="212.5" y="171.4" width="12.4" height="12.4" fill="#0095b5"/><rect x="224.3" y="171.4" width="12.4" height="12.4" fill="#0094b5"/><rect x="236.0" y="171.4" width="12.4" height="12.4" fill="#0095b4"/><rect x="247.8" y="171.4" width="12.4" height="12.4" fill="#0098b3"/><rect x="259.5" y="171.4" width="12.4" height="12.4" fill="#0096b4"/><rect x="271.3" y="171.4" width="12.4" height="12.4" fill="#0094b5"/><rect x="283.1" y="171.4" width="12.4" height="12.4" fill="#0094b5"/><rect x="294.8" y="171.4" width="12.4" height="12.4" fill="#0095b4"/><rect x="306.6" y="171.4" width="12.4" height="12.4" fill="#0091b6"/><rect x="318.3" y="171.4" width="12.4" height="12.4" fill="#0095b5"/><rect x="330.1" y="171.4" width="12.4" height="12.4" fill="#00a0af"/><rect x="341.8" y="171.4" width="12.4" height="12.4" fill="#00a2ae"/><rect x="353.6" y="171.4" width="12.4" height="12.4" fill="#00a0af"/><rect x="365.3" y="171.4" width="12.4" height="12.4" fill="#00a5ac"/><rect x="377.1" y="171.4" width="12.4" height="12.4" fill="#00a4ad"/><rect x="388.9" y="171.4" width="12.4" height="12.4" fill="#00a4ad"/><rect x="400.6" y="171.4" width="12.4" height="12.4" fill="#00a9ab"/><rect x="412.4" y="171.4" width="12.4" height="12.4" fill="#00aaaa"/><rect x="424.1" y="171.4" width="12.4" height="12.4" fill="#00a7ab"/><rect x="435.9" y="171.4" width="12.4" height="12.4" fill="#00aaaa"/><rect x="447.6" y="171.4" width="12.4" height="12.4" fill="#00b2a6"/><rect x="459.4" y="171.4" width="12.4" height="12.4" fill="#00afa7"/><rect x="471.2" y="171.4" width="12.4" height="12.4" fill="#00a2ae"/><rect x="482.9" y="171.4" width="12.4" height="12.4" fill="#009eb0"/><rect x="494.7" y="171.4" width="12.4" height="12.4" fill="#00a6ac"/><rect x="506.4" y="171.4" width="12.4" height="12.4" fill="#00a4ad"/><rect x="518.2" y="171.4" width="12.4" height="12.4" fill="#00a5ad"/><rect x="529.9" y="171.4" width="12.4" height="12.4" fill="#0098b3"/><rect x="541.7" y="171.4" width="12.4" height="12.4" fill="#008db9"/><rect x="553.4" y="171.4" width="12.4" height="12.4" fill="#007dc1"/><rect x="565.2" y="171.4" width="12.4" height="12.4" fill="#007dc1"/><rect x="-10.9" y="183.1" width="12.4" height="12.4" fill="#0081be"/><rect x="0.9" y="183.1" width="12.4" height="12.4" fill="#0081be"/><rect x="12.7" y="183.1" width="12.4" height="12.4" fill="#0082be"/><rect x="24.4" y="183.1" width="12.4" height="12.4" fill="#0085bd"/><rect x="36.2" y="183.1" width="12.4" height="12.4" fill="#0084bd"/><rect x="47.9" y="183.1" width="12.4" height="12.4" fill="#0082be"/><rect x="59.7" y="183.1" width="12.4" height="12.4" fill="#0082be"/><rect x="71.4" y="183.1" width="12.4" height="12.4" fill="#0085bc"/><rect x="83.2" y="183.1" width="12.4" height="12.4" fill="#0089ba"/><rect x="95.0" y="183.1" width="12.4" height="12.4" fill="#008eb8"/><rect x="106.7" y="183.1" width="12.4" height="12.4" fill="#008bb9"/><rect x="118.5" y="183.1" width="12.4" height="12.4" fill="#008bb9"/><rect x="130.2" y="183.1" width="12.4" height="12.4" fill="#008cb9"/><rect x="142.0" y="183.1" width="12.4" height="12.4" fill="#008db9"/><rect x="153.7" y="183.1" width="12.4" height="12.4" fill="#0090b7"/><rect x="165.5" y="183.1" width="12.4" height="12.4" fill="#0092b6"/><rect x="177.2" y="183.1" width="12.4" height="12.4" fill="#0097b4"/><rect x="189.0" y="183.1" width="12.4" height="12.4" fill="#009db1"/><rect x="200.8" y="183.1" width="12.4" height="12.4" fill="#009db1"/><rect x="212.5" y="183.1" width="12.4" height="12.4" fill="#0098b3"/><rect x="224.3" y="183.1" width="12.4" height="12.4" fill="#0096b4"/><rect x="236.0" y="183.1" width="12.4" height="12.4" fill="#0098b3"/><rect x="247.8" y="183.1" width="12.4" height="12.4" fill="#009ab2"/><rect x="259.5" y="183.1" width="12.4" height="12.4" fill="#0097b4"/><rect x="271.3" y="183.1" width="12.4" height="12.4" fill="#0094b5"/><rect x="283.1" y="183.1" width="12.4" height="12.4" fill="#0095b5"/><rect x="294.8" y="183.1" width="12.4" height="12.4" fill="#0097b4"/><rect x="306.6" y="183.1" width="12.4" height="12.4" fill="#0093b5"/><rect x="318.3" y="183.1" width="12.4" height="12.4" fill="#0097b4"/><rect x="330.1" y="183.1" width="12.4" height="12.4" fill="#00a0af"/><rect x="341.8" y="183.1" width="12.4" height="12.4" fill="#00a2ae"/><rect x="353.6" y="183.1" width="12.4" height="12.4" fill="#00a0af"/><rect x="365.3" y="183.1" width="12.4" height="12.4" fill="#00a4ad"/><rect x="377.1" y="183.1" width="12.4" height="12.4" fill="#00a4ad"/><rect x="388.9" y="183.1" width="12.4" height="12.4" fill="#00a4ad"/><rect x="400.6" y="183.1" width="12.4" height="12.4" fill="#00a7ab"/><rect x="412.4" y="183.1" width="12.4" height="12.4" fill="#00a8ab"/><rect x="424.1" y="183.1" width="12.4" height="12.4" fill="#00a5ad"/><rect x="435.9" y="183.1" width="12.4" height="12.4" fill="#00a7ac"/><rect x="447.6" y="183.1" width="12.4" height="12.4" fill="#00aea8"/><rect x="459.4" y="183.1" width="12.4" height="12.4" fill="#00aca9"/><rect x="471.2" y="183.1" width="12.4" height="12.4" fill="#00a0af"/><rect x="482.9" y="183.1" width="12.4" height="12.4" fill="#009db1"/><rect x="494.7" y="183.1" width="12.4" height="12.4" fill="#00a4ad"/><rect x="506.4" y="183.1" width="12.4" height="12.4" fill="#00a1ae"/><rect x="518.2" y="183.1" width="12.4" height="12.4" fill="#00a2ae"/><rect x="529.9" y="183.1" width="12.4" height="12.4" fill="#0096b4"/><rect x="541.7" y="183.1" width="12.4" height="12.4" fill="#008cb9"/><rect x="553.4" y="183.1" width="12.4" height="12.4" fill="#007cc1"/><rect x="565.2" y="183.1" width="12.4" height="12.4" fill="#007cc1"/><rect x="-10.9" y="194.9" width="12.4" height="12.4" fill="#0084bd"/><rect x="0.9" y="194.9" width="12.4" height="12.4" fill="#0084bd"/><rect x="12.7" y="194.9" width="12.4" height="12.4" fill="#0084bd"/><rect x="24.4" y="194.9" width="12.4" height="12.4" fill="#0084bd"/><rect x="36.2" y="194.9" width="12.4" height="12.4" fill="#0085bc"/><rect x="47.9" y="194.9" width="12.4" height="12.4" fill="#0089ba"/><rect x="59.7" y="194.9" width="12.4" height="12.4" fill="#0088bb"/><rect x="71.4" y="194.9" width="12.4" height="12.4" fill="#0083be"/><rect x="83.2" y="194.9" width="12.4" height="12.4" fill="#0084bd"/><rect x="95.0" y="194.9" width="12.4" height="12.4" fill="#008db8"/><rect x="106.7" y="194.9" width="12.4" height="12.4" fill="#008bb9"/><rect x="118.5" y="194.9" width="12.4" height="12.4" fill="#0088bb"/><rect x="130.2" y="194.9" width="12.4" height="12.4" fill="#0088bb"/><rect x="142.0" y="194.9" width="12.4" height="12.4" fill="#008aba"/><rect x="153.7" y="194.9" width="12.4" height="12.4" fill="#008fb8"/><rect x="165.5" y="194.9" width="12.4" height="12.4" fill="#0091b6"/><rect x="177.2" y="194.9" width="12.4" height="12.4" fill="#0093b5"/><rect x="189.0" y="194.9" width="12.4" height="12.4" fill="#0094b5"/><rect x="200.8" y="194.9" width="12.4" height="12.4" fill="#0094b5"/><rect x="212.5" y="194.9" width="12.4" height="12.4" fill="#0094b5"/><rect x="224.3" y="194.9" width="12.4" height="12.4" fill="#0094b5"/><rect x="236.0" y="194.9" width="12.4" height="12.4" fill="#0096b4"/><rect x="247.8" y="194.9" width="12.4" height="12.4" fill="#0098b3"/><rect x="259.5" y="194.9" width="12.4" height="12.4" fill="#0097b3"/><rect x="271.3" y="194.9" width="12.4" height="12.4" fill="#0096b4"/><rect x="283.1" y="194.9" width="12.4" height="12.4" fill="#0097b3"/><rect x="294.8" y="194.9" width="12.4" height="12.4" fill="#009db1"/><rect x="306.6" y="194.9" width="12.4" height="12.4" fill="#009faf"/><rect x="318.3" y="194.9" width="12.4" height="12.4" fill="#00a2ae"/><rect x="330.1" y="194.9" width="12.4" height="12.4" fill="#00a5ad"/><rect x="341.8" y="194.9" width="12.4" height="12.4" fill="#00a2ae"/><rect x="353.6" y="194.9" width="12.4" height="12.4" fill="#009eb0"/><rect x="365.3" y="194.9" width="12.4" height="12.4" fill="#00a1ae"/><rect x="377.1" y="194.9" width="12.4" height="12.4" fill="#00a5ac"/><rect x="388.9" y="194.9" width="12.4" height="12.4" fill="#00a6ac"/><rect x="400.6" y="194.9" width="12.4" height="12.4" fill="#00a4ad"/><rect x="412.4" y="194.9" width="12.4" height="12.4" fill="#00a2ae"/><rect x="424.1" y="194.9" width="12.4" height="12.4" fill="#009faf"/><rect x="435.9" y="194.9" width="12.4" height="12.4" fill="#009faf"/><rect x="447.6" y="194.9" width="12.4" height="12.4" fill="#00a2ae"/><rect x="459.4" y="194.9" width="12.4" height="12.4" fill="#00a2ae"/><rect x="471.2" y="194.9" width="12.4" height="12.4" fill="#009eb0"/><rect x="482.9" y="194.9" width="12.4" height="12.4" fill="#009eb0"/><rect x="494.7" y="194.9" width="12.4" height="12.4" fill="#00a2ae"/><rect x="506.4" y="194.9" width="12.4" height="12.4" fill="#009eb0"/><rect x="518.2" y="194.9" width="12.4" height="12.4" fill="#009cb1"/><rect x="529.9" y="194.9" width="12.4" height="12.4" fill="#0091b7"/><rect x="541.7" y="194.9" width="12.4" height="12.4" fill="#008bba"/><rect x="553.4" y="194.9" width="12.4" height="12.4" fill="#007ec0"/><rect x="565.2" y="194.9" width="12.4" height="12.4" fill="#007ec0"/><rect x="-10.9" y="206.7" width="12.4" height="12.4" fill="#0088bb"/><rect x="0.9" y="206.7" width="12.4" height="12.4" fill="#0088bb"/><rect x="12.7" y="206.7" width="12.4" height="12.4" fill="#0087bc"/><rect x="24.4" y="206.7" width="12.4" height="12.4" fill="#0084bd"/><rect x="36.2" y="206.7" width="12.4" height="12.4" fill="#0088bb"/><rect x="47.9" y="206.7" width="12.4" height="12.4" fill="#0091b6"/><rect x="59.7" y="206.7" width="12.4" height="12.4" fill="#0090b7"/><rect x="71.4" y="206.7" width="12.4" height="12.4" fill="#0083bd"/><rect x="83.2" y="206.7" width="12.4" height="12.4" fill="#0083be"/><rect x="95.0" y="206.7" width="12.4" height="12.4" fill="#008eb8"/><rect x="106.7" y="206.7" width="12.4" height="12.4" fill="#008cb9"/><rect x="118.5" y="206.7" width="12.4" height="12.4" fill="#0087bc"/><rect x="130.2" y="206.7" width="12.4" height="12.4" fill="#0086bc"/><rect x="142.0" y="206.7" width="12.4" height="12.4" fill="#008cb9"/><rect x="153.7" y="206.7" width="12.4" height="12.4" fill="#0093b6"/><rect x="165.5" y="206.7" width="12.4" height="12.4" fill="#0096b4"/><rect x="177.2" y="206.7" width="12.4" height="12.4" fill="#0096b4"/><rect x="189.0" y="206.7" width="12.4" height="12.4" fill="#0092b6"/><rect x="200.8" y="206.7" width="12.4" height="12.4" fill="#0091b6"/><rect x="212.5" y="206.7" width="12.4" height="12.4" fill="#0095b5"/><rect x="224.3" y="206.7" width="12.4" height="12.4" fill="#0097b3"/><rect x="236.0" y="206.7" width="12.4" height="12.4" fill="#0098b3"/><rect x="247.8" y="206.7" width="12.4" height="12.4" fill="#009bb2"/><rect x="259.5" y="206.7" width="12.4" height="12.4" fill="#009eb0"/><rect x="271.3" y="206.7" width="12.4" height="12.4" fill="#009db0"/><rect x="283.1" y="206.7" width="12.4" height="12.4" fill="#00a0af"/><rect x="294.8" y="206.7" width="12.4" height="12.4" fill="#00aaaa"/><rect x="306.6" y="206.7" width="12.4" height="12.4" fill="#00b2a6"/><rect x="318.3" y="206.7" width="12.4" height="12.4" fill="#00b4a5"/><rect x="330.1" y="206.7" width="12.4" height="12.4" fill="#00b0a7"/><rect x="341.8" y="206.7" width="12.4" height="12.4" fill="#00aaaa"/><rect x="353.6" y="206.7" width="12.4" height="12.4" fill="#00a7ab"/><rect x="365.3" y="206.7" width="12.4" height="12.4" fill="#009fb0"/><rect x="377.1" y="206.7" width="12.4" height="12.4" fill="#00a0af"/><rect x="388.9" y="206.7" width="12.4" height="12.4" fill="#00a0af"/><rect x="400.6" y="206.7" width="12.4" height="12.4" fill="#0098b3"/><rect x="412.4" y="206.7" width="12.4" height="12.4" fill="#0093b5"/><rect x="424.1" y="206.7" width="12.4" height="12.4" fill="#0092b6"/><rect x="435.9" y="206.7" width="12.4" height="12.4" fill="#008fb7"/><rect x="447.6" y="206.7" width="12.4" height="12.4" fill="#008eb8"/><rect x="459.4" y="206.7" width="12.4" height="12.4" fill="#008fb8"/><rect x="471.2" y="206.7" width="12.4" height="12.4" fill="#0093b6"/><rect x="482.9" y="206.7" width="12.4" height="12.4" fill="#0097b4"/><rect x="494.7" y="206.7" width="12.4" height="12.4" fill="#0099b3"/><rect x="506.4" y="206.7" width="12.4" height="12.4" fill="#0095b5"/><rect x="518.2" y="206.7" width="12.4" height="12.4" fill="#0095b4"/><rect x="529.9" y="206.7" width="12.4" height="12.4" fill="#008aba"/><rect x="541.7" y="206.7" width="12.4" height="12.4" fill="#0089bb"/><rect x="553.4" y="206.7" width="12.4" height="12.4" fill="#0082be"/><rect x="565.2" y="206.7" width="12.4" height="12.4" fill="#0082be"/><rect x="-10.9" y="218.4" width="12.4" height="12.4" fill="#008aba"/><rect x="0.9" y="218.4" width="12.4" height="12.4" fill="#008aba"/><rect x="12.7" y="218.4" width="12.4" height="12.4" fill="#0088bb"/><rect x="24.4" y="218.4" width="12.4" height="12.4" fill="#0084bd"/><rect x="36.2" y="218.4" width="12.4" height="12.4" fill="#0088bb"/><rect x="47.9" y="218.4" width="12.4" height="12.4" fill="#0097b4"/><rect x="59.7" y="218.4" width="12.4" height="12.4" fill="#0095b4"/><rect x="71.4" y="218.4" width="12.4" height="12.4" fill="#0084bd"/><rect x="83.2" y="218.4" width="12.4" height="12.4" fill="#0082be"/><rect x="95.0" y="218.4" width="12.4" height="12.4" fill="#008eb8"/><rect x="106.7" y="218.4" width="12.4" height="12.4" fill="#008cb9"/><rect x="118.5" y="218.4" width="12.4" height="12.4" fill="#0084bd"/><rect x="130.2" y="218.4" width="12.4" height="12.4" fill="#0083bd"/><rect x="142.0" y="218.4" width="12.4" height="12.4" fill="#008bb9"/><rect x="153.7" y="218.4" width="12.4" height="12.4" fill="#0095b5"/><rect x="165.5" y="218.4" width="12.4" height="12.4" fill="#009ab2"/><rect x="177.2" y="218.4" width="12.4" height="12.4" fill="#0098b3"/><rect x="189.0" y="218.4" width="12.4" height="12.4" fill="#008fb8"/><rect x="200.8" y="218.4" width="12.4" height="12.4" fill="#008db8"/><rect x="212.5" y="218.4" width="12.4" height="12.4" fill="#0093b6"/><rect x="224.3" y="218.4" width="12.4" height="12.4" fill="#0097b4"/><rect x="236.0" y="218.4" width="12.4" height="12.4" fill="#0099b3"/><rect x="247.8" y="218.4" width="12.4" height="12.4" fill="#009ab2"/><rect x="259.5" y="218.4" width="12.4" height="12.4" fill="#009eb0"/><rect x="271.3" y="218.4" width="12.4" height="12.4" fill="#009db1"/><rect x="283.1" y="218.4" width="12.4" height="12.4" fill="#00a0af"/><rect x="294.8" y="218.4" width="12.4" height="12.4" fill="#00ada8"/><rect x="306.6" y="218.4" width="12.4" height="12.4" fill="#00b9a2"/><rect x="318.3" y="218.4" width="12.4" height="12.4" fill="#00baa2"/><rect x="330.1" y="218.4" width="12.4" height="12.4" fill="#00b0a7"/><rect x="341.8" y="218.4" width="12.4" height="12.4" fill="#00a9aa"/><rect x="353.6" y="218.4" width="12.4" height="12.4" fill="#00aaaa"/><rect x="365.3" y="218.4" width="12.4" height="12.4" fill="#00a2ae"/><rect x="377.1" y="218.4" width="12.4" height="12.4" fill="#00a2ae"/><rect x="388.9" y="218.4" width="12.4" height="12.4" fill="#00a2ae"/><rect x="400.6" y="218.4" width="12.4" height="12.4" fill="#0099b2"/><rect x="412.4" y="218.4" width="12.4" height="12.4" fill="#0094b5"/><rect x="424.1" y="218.4" width="12.4" height="12.4" fill="#0093b6"/><rect x="435.9" y="218.4" width="12.4" height="12.4" fill="#008fb7"/><rect x="447.6" y="218.4" width="12.4" height="12.4" fill="#008cb9"/><rect x="459.4" y="218.4" width="12.4" height="12.4" fill="#008db8"/><rect x="471.2" y="218.4" width="12.4" height="12.4" fill="#0094b5"/><rect x="482.9" y="218.4" width="12.4" height="12.4" fill="#0099b2"/><rect x="494.7" y="218.4" width="12.4" height="12.4" fill="#009ab2"/><rect x="506.4" y="218.4" width="12.4" height="12.4" fill="#0096b4"/><rect x="518.2" y="218.4" width="12.4" height="12.4" fill="#0097b4"/><rect x="529.9" y="218.4" width="12.4" height="12.4" fill="#008cb9"/><rect x="541.7" y="218.4" width="12.4" height="12.4" fill="#008aba"/><rect x="553.4" y="218.4" width="12.4" height="12.4" fill="#0084bd"/><rect x="565.2" y="218.4" width="12.4" height="12.4" fill="#0084bd"/><rect x="-10.9" y="230.2" width="12.4" height="12.4" fill="#008cb9"/><rect x="0.9" y="230.2" width="12.4" height="12.4" fill="#008cb9"/><rect x="12.7" y="230.2" width="12.4" height="12.4" fill="#008bb9"/><rect x="24.4" y="230.2" width="12.4" height="12.4" fill="#0088bb"/><rect x="36.2" y="230.2" width="12.4" height="12.4" fill="#008cb9"/><rect x="47.9" y="230.2" width="12.4" height="12.4" fill="#0095b5"/><rect x="59.7" y="230.2" width="12.4" height="12.4" fill="#0094b5"/><rect x="71.4" y="230.2" width="12.4" height="12.4" fill="#008aba"/><rect x="83.2" y="230.2" width="12.4" height="12.4" fill="#008aba"/><rect x="95.0" y="230.2" width="12.4" height="12.4" fill="#0093b6"/><rect x="106.7" y="230.2" width="12.4" height="12.4" fill="#0090b7"/><rect x="118.5" y="230.2" width="12.4" height="12.4" fill="#008aba"/><rect x="130.2" y="230.2" width="12.4" height="12.4" fill="#008aba"/><rect x="142.0" y="230.2" width="12.4" height="12.4" fill="#0091b6"/><rect x="153.7" y="230.2" width="12.4" height="12.4" fill="#009ab2"/><rect x="165.5" y="230.2" width="12.4" height="12.4" fill="#009fb0"/><rect x="177.2" y="230.2" width="12.4" height="12.4" fill="#009eb0"/><rect x="189.0" y="230.2" width="12.4" height="12.4" fill="#009ab2"/><rect x="200.8" y="230.2" width="12.4" height="12.4" fill="#0098b3"/><rect x="212.5" y="230.2" width="12.4" height="12.4" fill="#009ab2"/><rect x="224.3" y="230.2" width="12.4" height="12.4" fill="#009cb1"/><rect x="236.0" y="230.2" width="12.4" height="12.4" fill="#009fb0"/><rect x="247.8" y="230.2" width="12.4" height="12.4" fill="#00a0af"/><rect x="259.5" y="230.2" width="12.4" height="12.4" fill="#00a2ae"/><rect x="271.3" y="230.2" width="12.4" height="12.4" fill="#00a0af"/><rect x="283.1" y="230.2" width="12.4" height="12.4" fill="#00a3ad"/><rect x="294.8" y="230.2" width="12.4" height="12.4" fill="#00aea8"/><rect x="306.6" y="230.2" width="12.4" height="12.4" fill="#00b4a5"/><rect x="318.3" y="230.2" width="12.4" height="12.4" fill="#00b6a4"/><rect x="330.1" y="230.2" width="12.4" height="12.4" fill="#00b4a5"/><rect x="341.8" y="230.2" width="12.4" height="12.4" fill="#00b0a7"/><rect x="353.6" y="230.2" width="12.4" height="12.4" fill="#00b0a7"/><rect x="365.3" y="230.2" width="12.4" height="12.4" fill="#00a6ac"/><rect x="377.1" y="230.2" width="12.4" height="12.4" fill="#00a1af"/><rect x="388.9" y="230.2" width="12.4" height="12.4" fill="#00a0af"/><rect x="400.6" y="230.2" width="12.4" height="12.4" fill="#0099b2"/><rect x="412.4" y="230.2" width="12.4" height="12.4" fill="#0096b4"/><rect x="424.1" y="230.2" width="12.4" height="12.4" fill="#0094b5"/><rect x="435.9" y="230.2" width="12.4" height="12.4" fill="#0092b6"/><rect x="447.6" y="230.2" width="12.4" height="12.4" fill="#0091b6"/><rect x="459.4" y="230.2" width="12.4" height="12.4" fill="#0091b6"/><rect x="471.2" y="230.2" width="12.4" height="12.4" fill="#0093b6"/><rect x="482.9" y="230.2" width="12.4" height="12.4" fill="#0096b4"/><rect x="494.7" y="230.2" width="12.4" height="12.4" fill="#0099b2"/><rect x="506.4" y="230.2" width="12.4" height="12.4" fill="#0097b4"/><rect x="518.2" y="230.2" width="12.4" height="12.4" fill="#009ab2"/><rect x="529.9" y="230.2" width="12.4" height="12.4" fill="#008fb8"/><rect x="541.7" y="230.2" width="12.4" height="12.4" fill="#008cb9"/><rect x="553.4" y="230.2" width="12.4" height="12.4" fill="#0084bd"/><rect x="565.2" y="230.2" width="12.4" height="12.4" fill="#0084bd"/><rect x="-10.9" y="241.9" width="12.4" height="12.4" fill="#007fc0"/><rect x="0.9" y="241.9" width="12.4" height="12.4" fill="#007fc0"/><rect x="12.7" y="241.9" width="12.4" height="12.4" fill="#0080bf"/><rect x="24.4" y="241.9" width="12.4" height="12.4" fill="#0084bd"/><rect x="36.2" y="241.9" width="12.4" height="12.4" fill="#0083be"/><rect x="47.9" y="241.9" width="12.4" height="12.4" fill="#007dc1"/><rect x="59.7" y="241.9" width="12.4" height="12.4" fill="#007ec0"/><rect x="71.4" y="241.9" width="12.4" height="12.4" fill="#0086bc"/><rect x="83.2" y="241.9" width="12.4" height="12.4" fill="#008bb9"/><rect x="95.0" y="241.9" width="12.4" height="12.4" fill="#008db9"/><rect x="106.7" y="241.9" width="12.4" height="12.4" fill="#008aba"/><rect x="118.5" y="241.9" width="12.4" height="12.4" fill="#008bb9"/><rect x="130.2" y="241.9" width="12.4" height="12.4" fill="#008cb9"/><rect x="142.0" y="241.9" width="12.4" height="12.4" fill="#008eb8"/><rect x="153.7" y="241.9" width="12.4" height="12.4" fill="#0093b5"/><rect x="165.5" y="241.9" width="12.4" height="12.4" fill="#0096b4"/><rect x="177.2" y="241.9" width="12.4" height="12.4" fill="#009bb1"/><rect x="189.0" y="241.9" width="12.4" height="12.4" fill="#00a3ae"/><rect x="200.8" y="241.9" width="12.4" height="12.4" fill="#00a3ae"/><rect x="212.5" y="241.9" width="12.4" height="12.4" fill="#009bb1"/><rect x="224.3" y="241.9" width="12.4" height="12.4" fill="#0099b3"/><rect x="236.0" y="241.9" width="12.4" height="12.4" fill="#009bb2"/><rect x="247.8" y="241.9" width="12.4" height="12.4" fill="#009fb0"/><rect x="259.5" y="241.9" width="12.4" height="12.4" fill="#00a4ad"/><rect x="271.3" y="241.9" width="12.4" height="12.4" fill="#00a4ad"/><rect x="283.1" y="241.9" width="12.4" height="12.4" fill="#00a6ac"/><rect x="294.8" y="241.9" width="12.4" height="12.4" fill="#00a8ab"/><rect x="306.6" y="241.9" width="12.4" height="12.4" fill="#00a0af"/><rect x="318.3" y="241.9" width="12.4" height="12.4" fill="#00a4ad"/><rect x="330.1" y="241.9" width="12.4" height="12.4" fill="#00b6a4"/><rect x="341.8" y="241.9" width="12.4" height="12.4" fill="#00baa2"/><rect x="353.6" y="241.9" width="12.4" height="12.4" fill="#00b5a5"/><rect x="365.3" y="241.9" width="12.4" height="12.4" fill="#00a3ad"/><rect x="377.1" y="241.9" width="12.4" height="12.4" fill="#0097b4"/><rect x="388.9" y="241.9" width="12.4" height="12.4" fill="#0095b5"/><rect x="400.6" y="241.9" width="12.4" height="12.4" fill="#0093b6"/><rect x="412.4" y="241.9" width="12.4" height="12.4" fill="#0092b6"/><rect x="424.1" y="241.9" width="12.4" height="12.4" fill="#0090b7"/><rect x="435.9" y="241.9" width="12.4" height="12.4" fill="#0090b7"/><rect x="447.6" y="241.9" width="12.4" height="12.4" fill="#0097b4"/><rect x="459.4" y="241.9" width="12.4" height="12.4" fill="#0094b5"/><rect x="471.2" y="241.9" width="12.4" height="12.4" fill="#0088bb"/><rect x="482.9" y="241.9" width="12.4" height="12.4" fill="#0088bb"/><rect x="494.7" y="241.9" width="12.4" height="12.4" fill="#008fb8"/><rect x="506.4" y="241.9" width="12.4" height="12.4" fill="#0091b6"/><rect x="518.2" y="241.9" width="12.4" height="12.4" fill="#0099b3"/><rect x="529.9" y="241.9" width="12.4" height="12.4" fill="#008eb8"/><rect x="541.7" y="241.9" width="12.4" height="12.4" fill="#0087bb"/><rect x="553.4" y="241.9" width="12.4" height="12.4" fill="#007fc0"/><rect x="565.2" y="241.9" width="12.4" height="12.4" fill="#007fc0"/><rect x="-10.9" y="253.7" width="12.4" height="12.4" fill="#0079c3"/><rect x="0.9" y="253.7" width="12.4" height="12.4" fill="#0079c3"/><rect x="12.7" y="253.7" width="12.4" height="12.4" fill="#007bc2"/><rect x="24.4" y="253.7" width="12.4" height="12.4" fill="#0080bf"/><rect x="36.2" y="253.7" width="12.4" height="12.4" fill="#007dc0"/><rect x="47.9" y="253.7" width="12.4" height="12.4" fill="#0074c5"/><rect x="59.7" y="253.7" width="12.4" height="12.4" fill="#0075c4"/><rect x="71.4" y="253.7" width="12.4" height="12.4" fill="#0081be"/><rect x="83.2" y="253.7" width="12.4" height="12.4" fill="#0087bb"/><rect x="95.0" y="253.7" width="12.4" height="12.4" fill="#0088bb"/><rect x="106.7" y="253.7" width="12.4" height="12.4" fill="#0085bc"/><rect x="118.5" y="253.7" width="12.4" height="12.4" fill="#0089bb"/><rect x="130.2" y="253.7" width="12.4" height="12.4" fill="#008aba"/><rect x="142.0" y="253.7" width="12.4" height="12.4" fill="#008aba"/><rect x="153.7" y="253.7" width="12.4" height="12.4" fill="#008eb8"/><rect x="165.5" y="253.7" width="12.4" height="12.4" fill="#0090b7"/><rect x="177.2" y="253.7" width="12.4" height="12.4" fill="#0096b4"/><rect x="189.0" y="253.7" width="12.4" height="12.4" fill="#00a1af"/><rect x="200.8" y="253.7" width="12.4" height="12.4" fill="#00a2ae"/><rect x="212.5" y="253.7" width="12.4" height="12.4" fill="#0098b3"/><rect x="224.3" y="253.7" width="12.4" height="12.4" fill="#0095b5"/><rect x="236.0" y="253.7" width="12.4" height="12.4" fill="#0097b4"/><rect x="247.8" y="253.7" width="12.4" height="12.4" fill="#009bb1"/><rect x="259.5" y="253.7" width="12.4" height="12.4" fill="#00a3ae"/><rect x="271.3" y="253.7" width="12.4" height="12.4" fill="#00a3ad"/><rect x="283.1" y="253.7" width="12.4" height="12.4" fill="#00a5ad"/><rect x="294.8" y="253.7" width="12.4" height="12.4" fill="#00a5ac"/><rect x="306.6" y="253.7" width="12.4" height="12.4" fill="#009ab2"/><rect x="318.3" y="253.7" width="12.4" height="12.4" fill="#009faf"/><rect x="330.1" y="253.7" width="12.4" height="12.4" fill="#00b4a5"/><rect x="341.8" y="253.7" width="12.4" height="12.4" fill="#00b9a2"/><rect x="353.6" y="253.7" width="12.4" height="12.4" fill="#00b3a6"/><rect x="365.3" y="253.7" width="12.4" height="12.4" fill="#00a1af"/><rect x="377.1" y="253.7" width="12.4" height="12.4" fill="#0093b5"/><rect x="388.9" y="253.7" width="12.4" height="12.4" fill="#0091b7"/><rect x="400.6" y="253.7" width="12.4" height="12.4" fill="#008fb7"/><rect x="412.4" y="253.7" width="12.4" height="12.4" fill="#008eb8"/><rect x="424.1" y="253.7" width="12.4" height="12.4" fill="#008cb9"/><rect x="435.9" y="253.7" width="12.4" height="12.4" fill="#008db8"/><rect x="447.6" y="253.7" width="12.4" height="12.4" fill="#0095b4"/><rect x="459.4" y="253.7" width="12.4" height="12.4" fill="#0092b6"/><rect x="471.2" y="253.7" width="12.4" height="12.4" fill="#0084bd"/><rect x="482.9" y="253.7" width="12.4" height="12.4" fill="#0083be"/><rect x="494.7" y="253.7" width="12.4" height="12.4" fill="#008bb9"/><rect x="506.4" y="253.7" width="12.4" height="12.4" fill="#008eb8"/><rect x="518.2" y="253.7" width="12.4" height="12.4" fill="#0095b5"/><rect x="529.9" y="253.7" width="12.4" height="12.4" fill="#008aba"/><rect x="541.7" y="253.7" width="12.4" height="12.4" fill="#0084bd"/><rect x="553.4" y="253.7" width="12.4" height="12.4" fill="#007bc1"/><rect x="565.2" y="253.7" width="12.4" height="12.4" fill="#007bc1"/><rect x="-10.9" y="265.5" width="12.4" height="12.4" fill="#007dc1"/><rect x="0.9" y="265.5" width="12.4" height="12.4" fill="#007dc1"/><rect x="12.7" y="265.5" width="12.4" height="12.4" fill="#007dc0"/><rect x="24.4" y="265.5" width="12.4" height="12.4" fill="#007fc0"/><rect x="36.2" y="265.5" width="12.4" height="12.4" fill="#007fc0"/><rect x="47.9" y="265.5" width="12.4" height="12.4" fill="#007ec0"/><rect x="59.7" y="265.5" width="12.4" height="12.4" fill="#007ec0"/><rect x="71.4" y="265.5" width="12.4" height="12.4" fill="#007ec0"/><rect x="83.2" y="265.5" width="12.4" height="12.4" fill="#0082be"/><rect x="95.0" y="265.5" width="12.4" height="12.4" fill="#0088bb"/><rect x="106.7" y="265.5" width="12.4" height="12.4" fill="#0086bc"/><rect x="118.5" y="265.5" width="12.4" height="12.4" fill="#0085bd"/><rect x="130.2" y="265.5" width="12.4" height="12.4" fill="#0085bc"/><rect x="142.0" y="265.5" width="12.4" height="12.4" fill="#0088bb"/><rect x="153.7" y="265.5" width="12.4" height="12.4" fill="#008db9"/><rect x="165.5" y="265.5" width="12.4" height="12.4" fill="#0090b7"/><rect x="177.2" y="265.5" width="12.4" height="12.4" fill="#0093b6"/><rect x="189.0" y="265.5" width="12.4" height="12.4" fill="#0096b4"/><rect x="200.8" y="265.5" width="12.4" height="12.4" fill="#0097b4"/><rect x="212.5" y="265.5" width="12.4" height="12.4" fill="#0093b5"/><rect x="224.3" y="265.5" width="12.4" height="12.4" fill="#0093b6"/><rect x="236.0" y="265.5" width="12.4" height="12.4" fill="#0095b5"/><rect x="247.8" y="265.5" width="12.4" height="12.4" fill="#0099b3"/><rect x="259.5" y="265.5" width="12.4" height="12.4" fill="#009fb0"/><rect x="271.3" y="265.5" width="12.4" height="12.4" fill="#009eb0"/><rect x="283.1" y="265.5" width="12.4" height="12.4" fill="#009faf"/><rect x="294.8" y="265.5" width="12.4" height="12.4" fill="#00a5ad"/><rect x="306.6" y="265.5" width="12.4" height="12.4" fill="#00a4ad"/><rect x="318.3" y="265.5" width="12.4" height="12.4" fill="#00a8ab"/><rect x="330.1" y="265.5" width="12.4" height="12.4" fill="#00aea8"/><rect x="341.8" y="265.5" width="12.4" height="12.4" fill="#00ada8"/><rect x="353.6" y="265.5" width="12.4" height="12.4" fill="#00abaa"/><rect x="365.3" y="265.5" width="12.4" height="12.4" fill="#009eb0"/><rect x="377.1" y="265.5" width="12.4" height="12.4" fill="#0096b4"/><rect x="388.9" y="265.5" width="12.4" height="12.4" fill="#0095b5"/><rect x="400.6" y="265.5" width="12.4" height="12.4" fill="#008fb8"/><rect x="412.4" y="265.5" width="12.4" height="12.4" fill="#008bb9"/><rect x="424.1" y="265.5" width="12.4" height="12.4" fill="#0089ba"/><rect x="435.9" y="265.5" width="12.4" height="12.4" fill="#0088bb"/><rect x="447.6" y="265.5" width="12.4" height="12.4" fill="#008bb9"/><rect x="459.4" y="265.5" width="12.4" height="12.4" fill="#008aba"/><rect x="471.2" y="265.5" width="12.4" height="12.4" fill="#0086bc"/><rect x="482.9" y="265.5" width="12.4" height="12.4" fill="#0088bb"/><rect x="494.7" y="265.5" width="12.4" height="12.4" fill="#008db9"/><rect x="506.4" y="265.5" width="12.4" height="12.4" fill="#008cb9"/><rect x="518.2" y="265.5" width="12.4" height="12.4" fill="#008fb8"/><rect x="529.9" y="265.5" width="12.4" height="12.4" fill="#0084bd"/><rect x="541.7" y="265.5" width="12.4" height="12.4" fill="#0081be"/><rect x="553.4" y="265.5" width="12.4" height="12.4" fill="#007bc2"/><rect x="565.2" y="265.5" width="12.4" height="12.4" fill="#007bc2"/><rect x="-10.9" y="277.2" width="12.4" height="12.4" fill="#0080bf"/><rect x="0.9" y="277.2" width="12.4" height="12.4" fill="#0080bf"/><rect x="12.7" y="277.2" width="12.4" height="12.4" fill="#0080bf"/><rect x="24.4" y="277.2" width="12.4" height="12.4" fill="#007fc0"/><rect x="36.2" y="277.2" width="12.4" height="12.4" fill="#0081bf"/><rect x="47.9" y="277.2" width="12.4" height="12.4" fill="#0085bd"/><rect x="59.7" y="277.2" width="12.4" height="12.4" fill="#0084bd"/><rect x="71.4" y="277.2" width="12.4" height="12.4" fill="#007dc0"/><rect x="83.2" y="277.2" width="12.4" height="12.4" fill="#007fc0"/><rect x="95.0" y="277.2" width="12.4" height="12.4" fill="#0089bb"/><rect x="106.7" y="277.2" width="12.4" height="12.4" fill="#0087bb"/><rect x="118.5" y="277.2" width="12.4" height="12.4" fill="#0084bd"/><rect x="130.2" y="277.2" width="12.4" height="12.4" fill="#0083bd"/><rect x="142.0" y="277.2" width="12.4" height="12.4" fill="#0087bc"/><rect x="153.7" y="277.2" width="12.4" height="12.4" fill="#008cb9"/><rect x="165.5" y="277.2" width="12.4" height="12.4" fill="#008fb7"/><rect x="177.2" y="277.2" width="12.4" height="12.4" fill="#0090b7"/><rect x="189.0" y="277.2" width="12.4" height="12.4" fill="#0090b7"/><rect x="200.8" y="277.2" width="12.4" height="12.4" fill="#0090b7"/><rect x="212.5" y="277.2" width="12.4" height="12.4" fill="#0090b7"/><rect x="224.3" y="277.2" width="12.4" height="12.4" fill="#0091b6"/><rect x="236.0" y="277.2" width="12.4" height="12.4" fill="#0093b5"/><rect x="247.8" y="277.2" width="12.4" height="12.4" fill="#0096b4"/><rect x="259.5" y="277.2" width="12.4" height="12.4" fill="#0098b3"/><rect x="271.3" y="277.2" width="12.4" height="12.4" fill="#0097b4"/><rect x="283.1" y="277.2" width="12.4" height="12.4" fill="#0098b3"/><rect x="294.8" y="277.2" width="12.4" height="12.4" fill="#009fb0"/><rect x="306.6" y="277.2" width="12.4" height="12.4" fill="#00a4ad"/><rect x="318.3" y="277.2" width="12.4" height="12.4" fill="#00a6ac"/><rect x="330.1" y="277.2" width="12.4" height="12.4" fill="#00a3ae"/><rect x="341.8" y="277.2" width="12.4" height="12.4" fill="#00a0af"/><rect x="353.6" y="277.2" width="12.4" height="12.4" fill="#00a0af"/><rect x="365.3" y="277.2" width="12.4" height="12.4" fill="#0098b3"/><rect x="377.1" y="277.2" width="12.4" height="12.4" fill="#0095b5"/><rect x="388.9" y="277.2" width="12.4" height="12.4" fill="#0094b5"/><rect x="400.6" y="277.2" width="12.4" height="12.4" fill="#008cb9"/><rect x="412.4" y="277.2" width="12.4" height="12.4" fill="#0087bb"/><rect x="424.1" y="277.2" width="12.4" height="12.4" fill="#0086bc"/><rect x="435.9" y="277.2" width="12.4" height="12.4" fill="#0084bd"/><rect x="447.6" y="277.2" width="12.4" height="12.4" fill="#0084bd"/><rect x="459.4" y="277.2" width="12.4" height="12.4" fill="#0084bd"/><rect x="471.2" y="277.2" width="12.4" height="12.4" fill="#0085bd"/><rect x="482.9" y="277.2" width="12.4" height="12.4" fill="#0088bb"/><rect x="494.7" y="277.2" width="12.4" height="12.4" fill="#008cb9"/><rect x="506.4" y="277.2" width="12.4" height="12.4" fill="#0089ba"/><rect x="518.2" y="277.2" width="12.4" height="12.4" fill="#008aba"/><rect x="529.9" y="277.2" width="12.4" height="12.4" fill="#0080bf"/><rect x="541.7" y="277.2" width="12.4" height="12.4" fill="#0080bf"/><rect x="553.4" y="277.2" width="12.4" height="12.4" fill="#007cc1"/><rect x="565.2" y="277.2" width="12.4" height="12.4" fill="#007cc1"/><rect x="-10.9" y="289.0" width="12.4" height="12.4" fill="#0081be"/><rect x="0.9" y="289.0" width="12.4" height="12.4" fill="#0081be"/><rect x="12.7" y="289.0" width="12.4" height="12.4" fill="#0081bf"/><rect x="24.4" y="289.0" width="12.4" height="12.4" fill="#0080bf"/><rect x="36.2" y="289.0" width="12.4" height="12.4" fill="#0082be"/><rect x="47.9" y="289.0" width="12.4" height="12.4" fill="#0087bb"/><rect x="59.7" y="289.0" width="12.4" height="12.4" fill="#0086bc"/><rect x="71.4" y="289.0" width="12.4" height="12.4" fill="#007ec0"/><rect x="83.2" y="289.0" width="12.4" height="12.4" fill="#007fc0"/><rect x="95.0" y="289.0" width="12.4" height="12.4" fill="#008aba"/><rect x="106.7" y="289.0" width="12.4" height="12.4" fill="#0088bb"/><rect x="118.5" y="289.0" width="12.4" height="12.4" fill="#0084bd"/><rect x="130.2" y="289.0" width="12.4" height="12.4" fill="#0083bd"/><rect x="142.0" y="289.0" width="12.4" height="12.4" fill="#0086bc"/><rect x="153.7" y="289.0" width="12.4" height="12.4" fill="#008cb9"/><rect x="165.5" y="289.0" width="12.4" height="12.4" fill="#008fb8"/><rect x="177.2" y="289.0" width="12.4" height="12.4" fill="#008fb7"/><rect x="189.0" y="289.0" width="12.4" height="12.4" fill="#008eb8"/><rect x="200.8" y="289.0" width="12.4" height="12.4" fill="#008eb8"/><rect x="212.5" y="289.0" width="12.4" height="12.4" fill="#008fb7"/><rect x="224.3" y="289.0" width="12.4" height="12.4" fill="#0091b7"/><rect x="236.0" y="289.0" width="12.4" height="12.4" fill="#0092b6"/><rect x="247.8" y="289.0" width="12.4" height="12.4" fill="#0094b5"/><rect x="259.5" y="289.0" width="12.4" height="12.4" fill="#0094b5"/><rect x="271.3" y="289.0" width="12.4" height="12.4" fill="#0093b5"/><rect x="283.1" y="289.0" width="12.4" height="12.4" fill="#0096b4"/><rect x="294.8" y="289.0" width="12.4" height="12.4" fill="#009eb0"/><rect x="306.6" y="289.0" width="12.4" height="12.4" fill="#00a3ad"/><rect x="318.3" y="289.0" width="12.4" height="12.4" fill="#00a4ad"/><rect x="330.1" y="289.0" width="12.4" height="12.4" fill="#009faf"/><rect x="341.8" y="289.0" width="12.4" height="12.4" fill="#009bb2"/><rect x="353.6" y="289.0" width="12.4" height="12.4" fill="#009cb1"/><rect x="365.3" y="289.0" width="12.4" height="12.4" fill="#0096b4"/><rect x="377.1" y="289.0" width="12.4" height="12.4" fill="#0094b5"/><rect x="388.9" y="289.0" width="12.4" height="12.4" fill="#0094b5"/><rect x="400.6" y="289.0" width="12.4" height="12.4" fill="#008cb9"/><rect x="412.4" y="289.0" width="12.4" height="12.4" fill="#0088bb"/><rect x="424.1" y="289.0" width="12.4" height="12.4" fill="#0087bc"/><rect x="435.9" y="289.0" width="12.4" height="12.4" fill="#0085bd"/><rect x="447.6" y="289.0" width="12.4" height="12.4" fill="#0085bd"/><rect x="459.4" y="289.0" width="12.4" height="12.4" fill="#0085bd"/><rect x="471.2" y="289.0" width="12.4" height="12.4" fill="#0087bc"/><rect x="482.9" y="289.0" width="12.4" height="12.4" fill="#008aba"/><rect x="494.7" y="289.0" width="12.4" height="12.4" fill="#008db9"/><rect x="506.4" y="289.0" width="12.4" height="12.4" fill="#008aba"/><rect x="518.2" y="289.0" width="12.4" height="12.4" fill="#008bb9"/><rect x="529.9" y="289.0" width="12.4" height="12.4" fill="#0081bf"/><rect x="541.7" y="289.0" width="12.4" height="12.4" fill="#0082be"/><rect x="553.4" y="289.0" width="12.4" height="12.4" fill="#007ec0"/><rect x="565.2" y="289.0" width="12.4" height="12.4" fill="#007ec0"/><rect x="-10.9" y="300.7" width="12.4" height="12.4" fill="#0083bd"/><rect x="0.9" y="300.7" width="12.4" height="12.4" fill="#0083bd"/><rect x="12.7" y="300.7" width="12.4" height="12.4" fill="#0083bd"/><rect x="24.4" y="300.7" width="12.4" height="12.4" fill="#0083bd"/><rect x="36.2" y="300.7" width="12.4" height="12.4" fill="#0085bc"/><rect x="47.9" y="300.7" width="12.4" height="12.4" fill="#008aba"/><rect x="59.7" y="300.7" width="12.4" height="12.4" fill="#0089bb"/><rect x="71.4" y="300.7" width="12.4" height="12.4" fill="#0081be"/><rect x="83.2" y="300.7" width="12.4" height="12.4" fill="#0083be"/><rect x="95.0" y="300.7" width="12.4" height="12.4" fill="#008eb8"/><rect x="106.7" y="300.7" width="12.4" height="12.4" fill="#008cb9"/><rect x="118.5" y="300.7" width="12.4" height="12.4" fill="#0088bb"/><rect x="130.2" y="300.7" width="12.4" height="12.4" fill="#0087bb"/><rect x="142.0" y="300.7" width="12.4" height="12.4" fill="#008bba"/><rect x="153.7" y="300.7" width="12.4" height="12.4" fill="#0091b6"/><rect x="165.5" y="300.7" width="12.4" height="12.4" fill="#0095b5"/><rect x="177.2" y="300.7" width="12.4" height="12.4" fill="#0096b4"/><rect x="189.0" y="300.7" width="12.4" height="12.4" fill="#0094b5"/><rect x="200.8" y="300.7" width="12.4" height="12.4" fill="#0094b5"/><rect x="212.5" y="300.7" width="12.4" height="12.4" fill="#0096b4"/><rect x="224.3" y="300.7" width="12.4" height="12.4" fill="#0095b4"/><rect x="236.0" y="300.7" width="12.4" height="12.4" fill="#0095b4"/><rect x="247.8" y="300.7" width="12.4" height="12.4" fill="#0095b5"/><rect x="259.5" y="300.7" width="12.4" height="12.4" fill="#0096b4"/><rect x="271.3" y="300.7" width="12.4" height="12.4" fill="#0095b5"/><rect x="283.1" y="300.7" width="12.4" height="12.4" fill="#0097b3"/><rect x="294.8" y="300.7" width="12.4" height="12.4" fill="#009fb0"/><rect x="306.6" y="300.7" width="12.4" height="12.4" fill="#00a4ad"/><rect x="318.3" y="300.7" width="12.4" height="12.4" fill="#00a5ad"/><rect x="330.1" y="300.7" width="12.4" height="12.4" fill="#00a1ae"/><rect x="341.8" y="300.7" width="12.4" height="12.4" fill="#009db1"/><rect x="353.6" y="300.7" width="12.4" height="12.4" fill="#009db0"/><rect x="365.3" y="300.7" width="12.4" height="12.4" fill="#0097b3"/><rect x="377.1" y="300.7" width="12.4" height="12.4" fill="#0097b3"/><rect x="388.9" y="300.7" width="12.4" height="12.4" fill="#0096b4"/><rect x="400.6" y="300.7" width="12.4" height="12.4" fill="#008bb9"/><rect x="412.4" y="300.7" width="12.4" height="12.4" fill="#0086bc"/><rect x="424.1" y="300.7" width="12.4" height="12.4" fill="#0085bd"/><rect x="435.9" y="300.7" width="12.4" height="12.4" fill="#0082be"/><rect x="447.6" y="300.7" width="12.4" height="12.4" fill="#0081bf"/><rect x="459.4" y="300.7" width="12.4" height="12.4" fill="#0081be"/><rect x="471.2" y="300.7" width="12.4" height="12.4" fill="#0085bc"/><rect x="482.9" y="300.7" width="12.4" height="12.4" fill="#008aba"/><rect x="494.7" y="300.7" width="12.4" height="12.4" fill="#008db9"/><rect x="506.4" y="300.7" width="12.4" height="12.4" fill="#008aba"/><rect x="518.2" y="300.7" width="12.4" height="12.4" fill="#008bb9"/><rect x="529.9" y="300.7" width="12.4" height="12.4" fill="#0081be"/><rect x="541.7" y="300.7" width="12.4" height="12.4" fill="#0084bd"/><rect x="553.4" y="300.7" width="12.4" height="12.4" fill="#0082be"/><rect x="565.2" y="300.7" width="12.4" height="12.4" fill="#0082be"/><rect x="-10.9" y="312.5" width="12.4" height="12.4" fill="#0088bb"/><rect x="0.9" y="312.5" width="12.4" height="12.4" fill="#0088bb"/><rect x="12.7" y="312.5" width="12.4" height="12.4" fill="#0089ba"/><rect x="24.4" y="312.5" width="12.4" height="12.4" fill="#008cb9"/><rect x="36.2" y="312.5" width="12.4" height="12.4" fill="#008eb8"/><rect x="47.9" y="312.5" width="12.4" height="12.4" fill="#0090b7"/><rect x="59.7" y="312.5" width="12.4" height="12.4" fill="#008fb8"/><rect x="71.4" y="312.5" width="12.4" height="12.4" fill="#008aba"/><rect x="83.2" y="312.5" width="12.4" height="12.4" fill="#008db9"/><rect x="95.0" y="312.5" width="12.4" height="12.4" fill="#0098b3"/><rect x="106.7" y="312.5" width="12.4" height="12.4" fill="#0094b5"/><rect x="118.5" y="312.5" width="12.4" height="12.4" fill="#0090b7"/><rect x="130.2" y="312.5" width="12.4" height="12.4" fill="#0091b7"/><rect x="142.0" y="312.5" width="12.4" height="12.4" fill="#009ab2"/><rect x="153.7" y="312.5" width="12.4" height="12.4" fill="#00a6ac"/><rect x="165.5" y="312.5" width="12.4" height="12.4" fill="#00abaa"/><rect x="177.2" y="312.5" width="12.4" height="12.4" fill="#00ada9"/><rect x="189.0" y="312.5" width="12.4" height="12.4" fill="#00ada9"/><rect x="200.8" y="312.5" width="12.4" height="12.4" fill="#00ada9"/><rect x="212.5" y="312.5" width="12.4" height="12.4" fill="#00aca9"/><rect x="224.3" y="312.5" width="12.4" height="12.4" fill="#00a2ae"/><rect x="236.0" y="312.5" width="12.4" height="12.4" fill="#009fb0"/><rect x="247.8" y="312.5" width="12.4" height="12.4" fill="#0094b5"/><rect x="259.5" y="312.5" width="12.4" height="12.4" fill="#0095b4"/><rect x="271.3" y="312.5" width="12.4" height="12.4" fill="#0095b4"/><rect x="283.1" y="312.5" width="12.4" height="12.4" fill="#0097b3"/><rect x="294.8" y="312.5" width="12.4" height="12.4" fill="#009ab2"/><rect x="306.6" y="312.5" width="12.4" height="12.4" fill="#009cb1"/><rect x="318.3" y="312.5" width="12.4" height="12.4" fill="#00a0af"/><rect x="330.1" y="312.5" width="12.4" height="12.4" fill="#00a1af"/><rect x="341.8" y="312.5" width="12.4" height="12.4" fill="#009bb1"/><rect x="353.6" y="312.5" width="12.4" height="12.4" fill="#009cb1"/><rect x="365.3" y="312.5" width="12.4" height="12.4" fill="#0099b2"/><rect x="377.1" y="312.5" width="12.4" height="12.4" fill="#009bb1"/><rect x="388.9" y="312.5" width="12.4" height="12.4" fill="#0099b3"/><rect x="400.6" y="312.5" width="12.4" height="12.4" fill="#007bc1"/><rect x="412.4" y="312.5" width="12.4" height="12.4" fill="#006ec8"/><rect x="424.1" y="312.5" width="12.4" height="12.4" fill="#006ec8"/><rect x="435.9" y="312.5" width="12.4" height="12.4" fill="#0067cc"/><rect x="447.6" y="312.5" width="12.4" height="12.4" fill="#0061cf"/><rect x="459.4" y="312.5" width="12.4" height="12.4" fill="#0061ce"/><rect x="471.2" y="312.5" width="12.4" height="12.4" fill="#006ec8"/><rect x="482.9" y="312.5" width="12.4" height="12.4" fill="#007bc2"/><rect x="494.7" y="312.5" width="12.4" height="12.4" fill="#007ec0"/><rect x="506.4" y="312.5" width="12.4" height="12.4" fill="#007dc1"/><rect x="518.2" y="312.5" width="12.4" height="12.4" fill="#0080bf"/><rect x="529.9" y="312.5" width="12.4" height="12.4" fill="#0077c4"/><rect x="541.7" y="312.5" width="12.4" height="12.4" fill="#0081be"/><rect x="553.4" y="312.5" width="12.4" height="12.4" fill="#008bb9"/><rect x="565.2" y="312.5" width="12.4" height="12.4" fill="#008bb9"/><rect x="-10.9" y="324.3" width="12.4" height="12.4" fill="#0090b7"/><rect x="0.9" y="324.3" width="12.4" height="12.4" fill="#0090b7"/><rect x="12.7" y="324.3" width="12.4" height="12.4" fill="#0092b6"/><rect x="24.4" y="324.3" width="12.4" height="12.4" fill="#0094b5"/><rect x="36.2" y="324.3" width="12.4" height="12.4" fill="#0097b4"/><rect x="47.9" y="324.3" width="12.4" height="12.4" fill="#0099b3"/><rect x="59.7" y="324.3" width="12.4" height="12.4" fill="#0097b3"/><rect x="71.4" y="324.3" width="12.4" height="12.4" fill="#0092b6"/><rect x="83.2" y="324.3" width="12.4" height="12.4" fill="#0095b4"/><rect x="95.0" y="324.3" width="12.4" height="12.4" fill="#00a1af"/><rect x="106.7" y="324.3" width="12.4" height="12.4" fill="#009db1"/><rect x="118.5" y="324.3" width="12.4" height="12.4" fill="#0099b2"/><rect x="130.2" y="324.3" width="12.4" height="12.4" fill="#009ab2"/><rect x="142.0" y="324.3" width="12.4" height="12.4" fill="#00a4ad"/><rect x="153.7" y="324.3" width="12.4" height="12.4" fill="#00b1a7"/><rect x="165.5" y="324.3" width="12.4" height="12.4" fill="#00b6a4"/><rect x="177.2" y="324.3" width="12.4" height="12.4" fill="#00b8a3"/><rect x="189.0" y="324.3" width="12.4" height="12.4" fill="#00b9a3"/><rect x="200.8" y="324.3" width="12.4" height="12.4" fill="#00b9a3"/><rect x="212.5" y="324.3" width="12.4" height="12.4" fill="#00b5a4"/><rect x="224.3" y="324.3" width="12.4" height="12.4" fill="#00aca9"/><rect x="236.0" y="324.3" width="12.4" height="12.4" fill="#00aca9"/><rect x="247.8" y="324.3" width="12.4" height="12.4" fill="#009fb0"/><rect x="259.5" y="324.3" width="12.4" height="12.4" fill="#0096b4"/><rect x="271.3" y="324.3" width="12.4" height="12.4" fill="#0093b5"/><rect x="283.1" y="324.3" width="12.4" height="12.4" fill="#0095b5"/><rect x="294.8" y="324.3" width="12.4" height="12.4" fill="#0096b4"/><rect x="306.6" y="324.3" width="12.4" height="12.4" fill="#0098b3"/><rect x="318.3" y="324.3" width="12.4" height="12.4" fill="#009cb1"/><rect x="330.1" y="324.3" width="12.4" height="12.4" fill="#00a0af"/><rect x="341.8" y="324.3" width="12.4" height="12.4" fill="#009ab2"/><rect x="353.6" y="324.3" width="12.4" height="12.4" fill="#009ab2"/><rect x="365.3" y="324.3" width="12.4" height="12.4" fill="#0098b3"/><rect x="377.1" y="324.3" width="12.4" height="12.4" fill="#009bb2"/><rect x="388.9" y="324.3" width="12.4" height="12.4" fill="#0098b3"/><rect x="400.6" y="324.3" width="12.4" height="12.4" fill="#0076c4"/><rect x="412.4" y="324.3" width="12.4" height="12.4" fill="#0068cb"/><rect x="424.1" y="324.3" width="12.4" height="12.4" fill="#0068cb"/><rect x="435.9" y="324.3" width="12.4" height="12.4" fill="#0060cf"/><rect x="447.6" y="324.3" width="12.4" height="12.4" fill="#0058d3"/><rect x="459.4" y="324.3" width="12.4" height="12.4" fill="#0059d3"/><rect x="471.2" y="324.3" width="12.4" height="12.4" fill="#0067cb"/><rect x="482.9" y="324.3" width="12.4" height="12.4" fill="#0076c4"/><rect x="494.7" y="324.3" width="12.4" height="12.4" fill="#0079c3"/><rect x="506.4" y="324.3" width="12.4" height="12.4" fill="#0078c3"/><rect x="518.2" y="324.3" width="12.4" height="12.4" fill="#007cc1"/><rect x="529.9" y="324.3" width="12.4" height="12.4" fill="#0073c5"/><rect x="541.7" y="324.3" width="12.4" height="12.4" fill="#007fc0"/><rect x="553.4" y="324.3" width="12.4" height="12.4" fill="#008aba"/><rect x="565.2" y="324.3" width="12.4" height="12.4" fill="#008aba"/><rect x="-10.9" y="336.0" width="12.4" height="12.4" fill="#008bb9"/><rect x="0.9" y="336.0" width="12.4" height="12.4" fill="#008bb9"/><rect x="12.7" y="336.0" width="12.4" height="12.4" fill="#008bb9"/><rect x="24.4" y="336.0" width="12.4" height="12.4" fill="#008cb9"/><rect x="36.2" y="336.0" width="12.4" height="12.4" fill="#008eb8"/><rect x="47.9" y="336.0" width="12.4" height="12.4" fill="#0092b6"/><rect x="59.7" y="336.0" width="12.4" height="12.4" fill="#0091b7"/><rect x="71.4" y="336.0" width="12.4" height="12.4" fill="#008aba"/><rect x="83.2" y="336.0" width="12.4" height="12.4" fill="#008db9"/><rect x="95.0" y="336.0" width="12.4" height="12.4" fill="#0098b3"/><rect x="106.7" y="336.0" width="12.4" height="12.4" fill="#0095b5"/><rect x="118.5" y="336.0" width="12.4" height="12.4" fill="#0092b6"/><rect x="130.2" y="336.0" width="12.4" height="12.4" fill="#0093b6"/><rect x="142.0" y="336.0" width="12.4" height="12.4" fill="#009cb1"/><rect x="153.7" y="336.0" width="12.4" height="12.4" fill="#00a8ab"/><rect x="165.5" y="336.0" width="12.4" height="12.4" fill="#00aca9"/><rect x="177.2" y="336.0" width="12.4" height="12.4" fill="#00afa7"/><rect x="189.0" y="336.0" width="12.4" height="12.4" fill="#00b1a7"/><rect x="200.8" y="336.0" width="12.4" height="12.4" fill="#00afa7"/><rect x="212.5" y="336.0" width="12.4" height="12.4" fill="#00a8ab"/><rect x="224.3" y="336.0" width="12.4" height="12.4" fill="#00a1ae"/><rect x="236.0" y="336.0" width="12.4" height="12.4" fill="#00aca9"/><rect x="247.8" y="336.0" width="12.4" height="12.4" fill="#00a3ae"/><rect x="259.5" y="336.0" width="12.4" height="12.4" fill="#0096b4"/><rect x="271.3" y="336.0" width="12.4" height="12.4" fill="#0091b6"/><rect x="283.1" y="336.0" width="12.4" height="12.4" fill="#0092b6"/><rect x="294.8" y="336.0" width="12.4" height="12.4" fill="#0094b5"/><rect x="306.6" y="336.0" width="12.4" height="12.4" fill="#0096b4"/><rect x="318.3" y="336.0" width="12.4" height="12.4" fill="#009ab2"/><rect x="330.1" y="336.0" width="12.4" height="12.4" fill="#009cb1"/><rect x="341.8" y="336.0" width="12.4" height="12.4" fill="#0096b4"/><rect x="353.6" y="336.0" width="12.4" height="12.4" fill="#0098b3"/><rect x="365.3" y="336.0" width="12.4" height="12.4" fill="#0096b4"/><rect x="377.1" y="336.0" width="12.4" height="12.4" fill="#009ab2"/><rect x="388.9" y="336.0" width="12.4" height="12.4" fill="#0098b3"/><rect x="400.6" y="336.0" width="12.4" height="12.4" fill="#0077c4"/><rect x="412.4" y="336.0" width="12.4" height="12.4" fill="#0068cb"/><rect x="424.1" y="336.0" width="12.4" height="12.4" fill="#0068cb"/><rect x="435.9" y="336.0" width="12.4" height="12.4" fill="#005fcf"/><rect x="447.6" y="336.0" width="12.4" height="12.4" fill="#0058d3"/><rect x="459.4" y="336.0" width="12.4" height="12.4" fill="#0058d3"/><rect x="471.2" y="336.0" width="12.4" height="12.4" fill="#0066cc"/><rect x="482.9" y="336.0" width="12.4" height="12.4" fill="#0074c5"/><rect x="494.7" y="336.0" width="12.4" height="12.4" fill="#0077c4"/><rect x="506.4" y="336.0" width="12.4" height="12.4" fill="#0077c4"/><rect x="518.2" y="336.0" width="12.4" height="12.4" fill="#007dc1"/><rect x="529.9" y="336.0" width="12.4" height="12.4" fill="#0074c5"/><rect x="541.7" y="336.0" width="12.4" height="12.4" fill="#007ec0"/><rect x="553.4" y="336.0" width="12.4" height="12.4" fill="#0088bb"/><rect x="565.2" y="336.0" width="12.4" height="12.4" fill="#0088bb"/><rect x="-10.9" y="347.8" width="12.4" height="12.4" fill="#008aba"/><rect x="0.9" y="347.8" width="12.4" height="12.4" fill="#008aba"/><rect x="12.7" y="347.8" width="12.4" height="12.4" fill="#0089ba"/><rect x="24.4" y="347.8" width="12.4" height="12.4" fill="#0088bb"/><rect x="36.2" y="347.8" width="12.4" height="12.4" fill="#008bba"/><rect x="47.9" y="347.8" width="12.4" height="12.4" fill="#0093b5"/><rect x="59.7" y="347.8" width="12.4" height="12.4" fill="#0091b6"/><rect x="71.4" y="347.8" width="12.4" height="12.4" fill="#0086bc"/><rect x="83.2" y="347.8" width="12.4" height="12.4" fill="#0087bc"/><rect x="95.0" y="347.8" width="12.4" height="12.4" fill="#0094b5"/><rect x="106.7" y="347.8" width="12.4" height="12.4" fill="#0091b6"/><rect x="118.5" y="347.8" width="12.4" height="12.4" fill="#008db9"/><rect x="130.2" y="347.8" width="12.4" height="12.4" fill="#008eb8"/><rect x="142.0" y="347.8" width="12.4" height="12.4" fill="#00a3ae"/><rect x="153.7" y="347.8" width="12.4" height="12.4" fill="#00bba2"/><rect x="165.5" y="347.8" width="12.4" height="12.4" fill="#00c09f"/><rect x="177.2" y="347.8" width="12.4" height="12.4" fill="#00c19f"/><rect x="189.0" y="347.8" width="12.4" height="12.4" fill="#00bea0"/><rect x="200.8" y="347.8" width="12.4" height="12.4" fill="#00bba1"/><rect x="212.5" y="347.8" width="12.4" height="12.4" fill="#00b2a6"/><rect x="224.3" y="347.8" width="12.4" height="12.4" fill="#00a7ac"/><rect x="236.0" y="347.8" width="12.4" height="12.4" fill="#00b4a5"/><rect x="247.8" y="347.8" width="12.4" height="12.4" fill="#00abaa"/><rect x="259.5" y="347.8" width="12.4" height="12.4" fill="#0096b4"/><rect x="271.3" y="347.8" width="12.4" height="12.4" fill="#008fb7"/><rect x="283.1" y="347.8" width="12.4" height="12.4" fill="#0090b7"/><rect x="294.8" y="347.8" width="12.4" height="12.4" fill="#0094b5"/><rect x="306.6" y="347.8" width="12.4" height="12.4" fill="#0099b3"/><rect x="318.3" y="347.8" width="12.4" height="12.4" fill="#009cb1"/><rect x="330.1" y="347.8" width="12.4" height="12.4" fill="#0099b2"/><rect x="341.8" y="347.8" width="12.4" height="12.4" fill="#0092b6"/><rect x="353.6" y="347.8" width="12.4" height="12.4" fill="#0094b5"/><rect x="365.3" y="347.8" width="12.4" height="12.4" fill="#0095b5"/><rect x="377.1" y="347.8" width="12.4" height="12.4" fill="#009bb2"/><rect x="388.9" y="347.8" width="12.4" height="12.4" fill="#0098b3"/><rect x="400.6" y="347.8" width="12.4" height="12.4" fill="#0072c6"/><rect x="412.4" y="347.8" width="12.4" height="12.4" fill="#0060cf"/><rect x="424.1" y="347.8" width="12.4" height="12.4" fill="#0061cf"/><rect x="435.9" y="347.8" width="12.4" height="12.4" fill="#0056d4"/><rect x="447.6" y="347.8" width="12.4" height="12.4" fill="#004dd9"/><rect x="459.4" y="347.8" width="12.4" height="12.4" fill="#004ed8"/><rect x="471.2" y="347.8" width="12.4" height="12.4" fill="#0061cf"/><rect x="482.9" y="347.8" width="12.4" height="12.4" fill="#0071c6"/><rect x="494.7" y="347.8" width="12.4" height="12.4" fill="#0072c6"/><rect x="506.4" y="347.8" width="12.4" height="12.4" fill="#0072c6"/><rect x="518.2" y="347.8" width="12.4" height="12.4" fill="#0079c3"/><rect x="529.9" y="347.8" width="12.4" height="12.4" fill="#0070c7"/><rect x="541.7" y="347.8" width="12.4" height="12.4" fill="#007bc2"/><rect x="553.4" y="347.8" width="12.4" height="12.4" fill="#0087bc"/><rect x="565.2" y="347.8" width="12.4" height="12.4" fill="#0087bc"/><rect x="-10.9" y="359.5" width="12.4" height="12.4" fill="#008eb8"/><rect x="0.9" y="359.5" width="12.4" height="12.4" fill="#008eb8"/><rect x="12.7" y="359.5" width="12.4" height="12.4" fill="#008cb9"/><rect x="24.4" y="359.5" width="12.4" height="12.4" fill="#0088bb"/><rect x="36.2" y="359.5" width="12.4" height="12.4" fill="#008db8"/><rect x="47.9" y="359.5" width="12.4" height="12.4" fill="#009bb1"/><rect x="59.7" y="359.5" width="12.4" height="12.4" fill="#0098b3"/><rect x="71.4" y="359.5" width="12.4" height="12.4" fill="#0085bd"/><rect x="83.2" y="359.5" width="12.4" height="12.4" fill="#0083bd"/><rect x="95.0" y="359.5" width="12.4" height="12.4" fill="#0095b5"/><rect x="106.7" y="359.5" width="12.4" height="12.4" fill="#0092b6"/><rect x="118.5" y="359.5" width="12.4" height="12.4" fill="#008aba"/><rect x="130.2" y="359.5" width="12.4" height="12.4" fill="#008cb9"/><rect x="142.0" y="359.5" width="12.4" height="12.4" fill="#00aaaa"/><rect x="153.7" y="359.5" width="12.4" height="12.4" fill="#00c99a"/><rect x="165.5" y="359.5" width="12.4" height="12.4" fill="#00d097"/><rect x="177.2" y="359.5" width="12.4" height="12.4" fill="#00ce98"/><rect x="189.0" y="359.5" width="12.4" height="12.4" fill="#00c59c"/><rect x="200.8" y="359.5" width="12.4" height="12.4" fill="#00c29e"/><rect x="212.5" y="359.5" width="12.4" height="12.4" fill="#00bda1"/><rect x="224.3" y="359.5" width="12.4" height="12.4" fill="#00afa8"/><rect x="236.0" y="359.5" width="12.4" height="12.4" fill="#00b8a3"/><rect x="247.8" y="359.5" width="12.4" height="12.4" fill="#00aca9"/><rect x="259.5" y="359.5" width="12.4" height="12.4" fill="#0093b5"/><rect x="271.3" y="359.5" width="12.4" height="12.4" fill="#008db8"/><rect x="283.1" y="359.5" width="12.4" height="12.4" fill="#008fb8"/><rect x="294.8" y="359.5" width="12.4" height="12.4" fill="#0095b4"/><rect x="306.6" y="359.5" width="12.4" height="12.4" fill="#00a0af"/><rect x="318.3" y="359.5" width="12.4" height="12.4" fill="#00a2ae"/><rect x="330.1" y="359.5" width="12.4" height="12.4" fill="#0097b3"/><rect x="341.8" y="359.5" width="12.4" height="12.4" fill="#008db9"/><rect x="353.6" y="359.5" width="12.4" height="12.4" fill="#0090b7"/><rect x="365.3" y="359.5" width="12.4" height="12.4" fill="#0093b5"/><rect x="377.1" y="359.5" width="12.4" height="12.4" fill="#009cb1"/><rect x="388.9" y="359.5" width="12.4" height="12.4" fill="#0099b2"/><rect x="400.6" y="359.5" width="12.4" height="12.4" fill="#006dc9"/><rect x="412.4" y="359.5" width="12.4" height="12.4" fill="#0059d3"/><rect x="424.1" y="359.5" width="12.4" height="12.4" fill="#005ad2"/><rect x="435.9" y="359.5" width="12.4" height="12.4" fill="#004ed8"/><rect x="447.6" y="359.5" width="12.4" height="12.4" fill="#003fdf"/><rect x="459.4" y="359.5" width="12.4" height="12.4" fill="#0042de"/><rect x="471.2" y="359.5" width="12.4" height="12.4" fill="#005ed0"/><rect x="482.9" y="359.5" width="12.4" height="12.4" fill="#0071c6"/><rect x="494.7" y="359.5" width="12.4" height="12.4" fill="#0070c7"/><rect x="506.4" y="359.5" width="12.4" height="12.4" fill="#006ec8"/><rect x="518.2" y="359.5" width="12.4" height="12.4" fill="#0072c6"/><rect x="529.9" y="359.5" width="12.4" height="12.4" fill="#006aca"/><rect x="541.7" y="359.5" width="12.4" height="12.4" fill="#0079c3"/><rect x="553.4" y="359.5" width="12.4" height="12.4" fill="#0087bc"/><rect x="565.2" y="359.5" width="12.4" height="12.4" fill="#0087bc"/><rect x="-10.9" y="371.3" width="12.4" height="12.4" fill="#008db8"/><rect x="0.9" y="371.3" width="12.4" height="12.4" fill="#008db8"/><rect x="12.7" y="371.3" width="12.4" height="12.4" fill="#008cb9"/><rect x="24.4" y="371.3" width="12.4" height="12.4" fill="#0088bb"/><rect x="36.2" y="371.3" width="12.4" height="12.4" fill="#008db9"/><rect x="47.9" y="371.3" width="12.4" height="12.4" fill="#009ab2"/><rect x="59.7" y="371.3" width="12.4" height="12.4" fill="#0098b3"/><rect x="71.4" y="371.3" width="12.4" height="12.4" fill="#0085bd"/><rect x="83.2" y="371.3" width="12.4" height="12.4" fill="#0084bd"/><rect x="95.0" y="371.3" width="12.4" height="12.4" fill="#0094b5"/><rect x="106.7" y="371.3" width="12.4" height="12.4" fill="#0091b6"/><rect x="118.5" y="371.3" width="12.4" height="12.4" fill="#008aba"/><rect x="130.2" y="371.3" width="12.4" height="12.4" fill="#008cb9"/><rect x="142.0" y="371.3" width="12.4" height="12.4" fill="#00aaaa"/><rect x="153.7" y="371.3" width="12.4" height="12.4" fill="#00ca9a"/><rect x="165.5" y="371.3" width="12.4" height="12.4" fill="#00d197"/><rect x="177.2" y="371.3" width="12.4" height="12.4" fill="#00d097"/><rect x="189.0" y="371.3" width="12.4" height="12.4" fill="#00c89b"/><rect x="200.8" y="371.3" width="12.4" height="12.4" fill="#00c59c"/><rect x="212.5" y="371.3" width="12.4" height="12.4" fill="#00bf9f"/><rect x="224.3" y="371.3" width="12.4" height="12.4" fill="#00b0a7"/><rect x="236.0" y="371.3" width="12.4" height="12.4" fill="#00b8a3"/><rect x="247.8" y="371.3" width="12.4" height="12.4" fill="#00aba9"/><rect x="259.5" y="371.3" width="12.4" height="12.4" fill="#0093b5"/><rect x="271.3" y="371.3" width="12.4" height="12.4" fill="#008db9"/><rect x="283.1" y="371.3" width="12.4" height="12.4" fill="#008fb8"/><rect x="294.8" y="371.3" width="12.4" height="12.4" fill="#0095b5"/><rect x="306.6" y="371.3" width="12.4" height="12.4" fill="#009fb0"/><rect x="318.3" y="371.3" width="12.4" height="12.4" fill="#00a1ae"/><rect x="330.1" y="371.3" width="12.4" height="12.4" fill="#0099b3"/><rect x="341.8" y="371.3" width="12.4" height="12.4" fill="#008eb8"/><rect x="353.6" y="371.3" width="12.4" height="12.4" fill="#0091b7"/><rect x="365.3" y="371.3" width="12.4" height="12.4" fill="#0092b6"/><rect x="377.1" y="371.3" width="12.4" height="12.4" fill="#009bb2"/><rect x="388.9" y="371.3" width="12.4" height="12.4" fill="#0098b3"/><rect x="400.6" y="371.3" width="12.4" height="12.4" fill="#006cc9"/><rect x="412.4" y="371.3" width="12.4" height="12.4" fill="#0059d3"/><rect x="424.1" y="371.3" width="12.4" height="12.4" fill="#005ad2"/><rect x="435.9" y="371.3" width="12.4" height="12.4" fill="#004ed8"/><rect x="447.6" y="371.3" width="12.4" height="12.4" fill="#0040df"/><rect x="459.4" y="371.3" width="12.4" height="12.4" fill="#0042de"/><rect x="471.2" y="371.3" width="12.4" height="12.4" fill="#005dd0"/><rect x="482.9" y="371.3" width="12.4" height="12.4" fill="#0070c7"/><rect x="494.7" y="371.3" width="12.4" height="12.4" fill="#0070c7"/><rect x="506.4" y="371.3" width="12.4" height="12.4" fill="#006ec8"/><rect x="518.2" y="371.3" width="12.4" height="12.4" fill="#0073c5"/><rect x="529.9" y="371.3" width="12.4" height="12.4" fill="#006bca"/><rect x="541.7" y="371.3" width="12.4" height="12.4" fill="#0078c3"/><rect x="553.4" y="371.3" width="12.4" height="12.4" fill="#0086bc"/><rect x="565.2" y="371.3" width="12.4" height="12.4" fill="#0086bc"/><rect x="-10.9" y="383.1" width="12.4" height="12.4" fill="#0089ba"/><rect x="0.9" y="383.1" width="12.4" height="12.4" fill="#0089ba"/><rect x="12.7" y="383.1" width="12.4" height="12.4" fill="#0089bb"/><rect x="24.4" y="383.1" width="12.4" height="12.4" fill="#0088bb"/><rect x="36.2" y="383.1" width="12.4" height="12.4" fill="#008aba"/><rect x="47.9" y="383.1" width="12.4" height="12.4" fill="#0091b7"/><rect x="59.7" y="383.1" width="12.4" height="12.4" fill="#008fb7"/><rect x="71.4" y="383.1" width="12.4" height="12.4" fill="#0086bc"/><rect x="83.2" y="383.1" width="12.4" height="12.4" fill="#0087bb"/><rect x="95.0" y="383.1" width="12.4" height="12.4" fill="#0094b5"/><rect x="106.7" y="383.1" width="12.4" height="12.4" fill="#0090b7"/><rect x="118.5" y="383.1" width="12.4" height="12.4" fill="#008cb9"/><rect x="130.2" y="383.1" width="12.4" height="12.4" fill="#008eb8"/><rect x="142.0" y="383.1" width="12.4" height="12.4" fill="#00a9ab"/><rect x="153.7" y="383.1" width="12.4" height="12.4" fill="#00c49d"/><rect x="165.5" y="383.1" width="12.4" height="12.4" fill="#00c89b"/><rect x="177.2" y="383.1" width="12.4" height="12.4" fill="#00cc99"/><rect x="189.0" y="383.1" width="12.4" height="12.4" fill="#00d097"/><rect x="200.8" y="383.1" width="12.4" height="12.4" fill="#00cf98"/><rect x="212.5" y="383.1" width="12.4" height="12.4" fill="#00c39e"/><rect x="224.3" y="383.1" width="12.4" height="12.4" fill="#00afa7"/><rect x="236.0" y="383.1" width="12.4" height="12.4" fill="#00b8a3"/><rect x="247.8" y="383.1" width="12.4" height="12.4" fill="#00aca9"/><rect x="259.5" y="383.1" width="12.4" height="12.4" fill="#0095b5"/><rect x="271.3" y="383.1" width="12.4" height="12.4" fill="#008eb8"/><rect x="283.1" y="383.1" width="12.4" height="12.4" fill="#0090b7"/><rect x="294.8" y="383.1" width="12.4" height="12.4" fill="#0092b6"/><rect x="306.6" y="383.1" width="12.4" height="12.4" fill="#0095b4"/><rect x="318.3" y="383.1" width="12.4" height="12.4" fill="#009ab2"/><rect x="330.1" y="383.1" width="12.4" height="12.4" fill="#009eb0"/><rect x="341.8" y="383.1" width="12.4" height="12.4" fill="#0097b3"/><rect x="353.6" y="383.1" width="12.4" height="12.4" fill="#0096b4"/><rect x="365.3" y="383.1" width="12.4" height="12.4" fill="#0093b6"/><rect x="377.1" y="383.1" width="12.4" height="12.4" fill="#0096b4"/><rect x="388.9" y="383.1" width="12.4" height="12.4" fill="#0094b5"/><rect x="400.6" y="383.1" width="12.4" height="12.4" fill="#0072c6"/><rect x="412.4" y="383.1" width="12.4" height="12.4" fill="#0063cd"/><rect x="424.1" y="383.1" width="12.4" height="12.4" fill="#0064cd"/><rect x="435.9" y="383.1" width="12.4" height="12.4" fill="#005bd1"/><rect x="447.6" y="383.1" width="12.4" height="12.4" fill="#0053d6"/><rect x="459.4" y="383.1" width="12.4" height="12.4" fill="#0053d5"/><rect x="471.2" y="383.1" width="12.4" height="12.4" fill="#0062ce"/><rect x="482.9" y="383.1" width="12.4" height="12.4" fill="#0070c7"/><rect x="494.7" y="383.1" width="12.4" height="12.4" fill="#0071c6"/><rect x="506.4" y="383.1" width="12.4" height="12.4" fill="#0073c6"/><rect x="518.2" y="383.1" width="12.4" height="12.4" fill="#007cc1"/><rect x="529.9" y="383.1" width="12.4" height="12.4" fill="#0073c6"/><rect x="541.7" y="383.1" width="12.4" height="12.4" fill="#007bc2"/><rect x="553.4" y="383.1" width="12.4" height="12.4" fill="#0085bd"/><rect x="565.2" y="383.1" width="12.4" height="12.4" fill="#0085bd"/><rect x="-10.9" y="394.8" width="12.4" height="12.4" fill="#0086bc"/><rect x="0.9" y="394.8" width="12.4" height="12.4" fill="#0086bc"/><rect x="12.7" y="394.8" width="12.4" height="12.4" fill="#0086bc"/><rect x="24.4" y="394.8" width="12.4" height="12.4" fill="#0086bc"/><rect x="36.2" y="394.8" width="12.4" height="12.4" fill="#0088bb"/><rect x="47.9" y="394.8" width="12.4" height="12.4" fill="#008bba"/><rect x="59.7" y="394.8" width="12.4" height="12.4" fill="#008aba"/><rect x="71.4" y="394.8" width="12.4" height="12.4" fill="#0085bc"/><rect x="83.2" y="394.8" width="12.4" height="12.4" fill="#0087bb"/><rect x="95.0" y="394.8" width="12.4" height="12.4" fill="#0091b6"/><rect x="106.7" y="394.8" width="12.4" height="12.4" fill="#008db8"/><rect x="118.5" y="394.8" width="12.4" height="12.4" fill="#008bba"/><rect x="130.2" y="394.8" width="12.4" height="12.4" fill="#008db8"/><rect x="142.0" y="394.8" width="12.4" height="12.4" fill="#00a5ad"/><rect x="153.7" y="394.8" width="12.4" height="12.4" fill="#00bea0"/><rect x="165.5" y="394.8" width="12.4" height="12.4" fill="#00c19e"/><rect x="177.2" y="394.8" width="12.4" height="12.4" fill="#00c89b"/><rect x="189.0" y="394.8" width="12.4" height="12.4" fill="#00d196"/><rect x="200.8" y="394.8" width="12.4" height="12.4" fill="#00d097"/><rect x="212.5" y="394.8" width="12.4" height="12.4" fill="#00c29e"/><rect x="224.3" y="394.8" width="12.4" height="12.4" fill="#00ada9"/><rect x="236.0" y="394.8" width="12.4" height="12.4" fill="#00b5a4"/><rect x="247.8" y="394.8" width="12.4" height="12.4" fill="#00aaaa"/><rect x="259.5" y="394.8" width="12.4" height="12.4" fill="#0094b5"/><rect x="271.3" y="394.8" width="12.4" height="12.4" fill="#008eb8"/><rect x="283.1" y="394.8" width="12.4" height="12.4" fill="#008fb8"/><rect x="294.8" y="394.8" width="12.4" height="12.4" fill="#008fb7"/><rect x="306.6" y="394.8" width="12.4" height="12.4" fill="#0090b7"/><rect x="318.3" y="394.8" width="12.4" height="12.4" fill="#0096b4"/><rect x="330.1" y="394.8" width="12.4" height="12.4" fill="#009eb0"/><rect x="341.8" y="394.8" width="12.4" height="12.4" fill="#0099b2"/><rect x="353.6" y="394.8" width="12.4" height="12.4" fill="#0096b4"/><rect x="365.3" y="394.8" width="12.4" height="12.4" fill="#0092b6"/><rect x="377.1" y="394.8" width="12.4" height="12.4" fill="#0093b6"/><rect x="388.9" y="394.8" width="12.4" height="12.4" fill="#0090b7"/><rect x="400.6" y="394.8" width="12.4" height="12.4" fill="#0075c5"/><rect x="412.4" y="394.8" width="12.4" height="12.4" fill="#0069cb"/><rect x="424.1" y="394.8" width="12.4" height="12.4" fill="#0069cb"/><rect x="435.9" y="394.8" width="12.4" height="12.4" fill="#0062ce"/><rect x="447.6" y="394.8" width="12.4" height="12.4" fill="#005dd0"/><rect x="459.4" y="394.8" width="12.4" height="12.4" fill="#005dd1"/><rect x="471.2" y="394.8" width="12.4" height="12.4" fill="#0066cc"/><rect x="482.9" y="394.8" width="12.4" height="12.4" fill="#0070c7"/><rect x="494.7" y="394.8" width="12.4" height="12.4" fill="#0072c6"/><rect x="506.4" y="394.8" width="12.4" height="12.4" fill="#0075c5"/><rect x="518.2" y="394.8" width="12.4" height="12.4" fill="#007fbf"/><rect x="529.9" y="394.8" width="12.4" height="12.4" fill="#0076c4"/><rect x="541.7" y="394.8" width="12.4" height="12.4" fill="#007bc2"/><rect x="553.4" y="394.8" width="12.4" height="12.4" fill="#0083be"/><rect x="565.2" y="394.8" width="12.4" height="12.4" fill="#0083be"/><rect x="-10.9" y="406.6" width="12.4" height="12.4" fill="#0084bd"/><rect x="0.9" y="406.6" width="12.4" height="12.4" fill="#0084bd"/><rect x="12.7" y="406.6" width="12.4" height="12.4" fill="#0084bd"/><rect x="24.4" y="406.6" width="12.4" height="12.4" fill="#0084bd"/><rect x="36.2" y="406.6" width="12.4" height="12.4" fill="#0085bc"/><rect x="47.9" y="406.6" width="12.4" height="12.4" fill="#0089ba"/><rect x="59.7" y="406.6" width="12.4" height="12.4" fill="#0088bb"/><rect x="71.4" y="406.6" width="12.4" height="12.4" fill="#0082be"/><rect x="83.2" y="406.6" width="12.4" height="12.4" fill="#0084bd"/><rect x="95.0" y="406.6" width="12.4" height="12.4" fill="#008db8"/><rect x="106.7" y="406.6" width="12.4" height="12.4" fill="#0089ba"/><rect x="118.5" y="406.6" width="12.4" height="12.4" fill="#0087bc"/><rect x="130.2" y="406.6" width="12.4" height="12.4" fill="#0089bb"/><rect x="142.0" y="406.6" width="12.4" height="12.4" fill="#00a0af"/><rect x="153.7" y="406.6" width="12.4" height="12.4" fill="#00b9a2"/><rect x="165.5" y="406.6" width="12.4" height="12.4" fill="#00bea0"/><rect x="177.2" y="406.6" width="12.4" height="12.4" fill="#00c39d"/><rect x="189.0" y="406.6" width="12.4" height="12.4" fill="#00ca9a"/><rect x="200.8" y="406.6" width="12.4" height="12.4" fill="#00c99b"/><rect x="212.5" y="406.6" width="12.4" height="12.4" fill="#00bda1"/><rect x="224.3" y="406.6" width="12.4" height="12.4" fill="#00a8ab"/><rect x="236.0" y="406.6" width="12.4" height="12.4" fill="#00b0a7"/><rect x="247.8" y="406.6" width="12.4" height="12.4" fill="#00a5ac"/><rect x="259.5" y="406.6" width="12.4" height="12.4" fill="#0090b7"/><rect x="271.3" y="406.6" width="12.4" height="12.4" fill="#008bb9"/><rect x="283.1" y="406.6" width="12.4" height="12.4" fill="#008cb9"/><rect x="294.8" y="406.6" width="12.4" height="12.4" fill="#008db9"/><rect x="306.6" y="406.6" width="12.4" height="12.4" fill="#008eb8"/><rect x="318.3" y="406.6" width="12.4" height="12.4" fill="#0093b5"/><rect x="330.1" y="406.6" width="12.4" height="12.4" fill="#009ab2"/><rect x="341.8" y="406.6" width="12.4" height="12.4" fill="#0094b5"/><rect x="353.6" y="406.6" width="12.4" height="12.4" fill="#0093b6"/><rect x="365.3" y="406.6" width="12.4" height="12.4" fill="#008fb8"/><rect x="377.1" y="406.6" width="12.4" height="12.4" fill="#0090b7"/><rect x="388.9" y="406.6" width="12.4" height="12.4" fill="#008eb8"/><rect x="400.6" y="406.6" width="12.4" height="12.4" fill="#0073c6"/><rect x="412.4" y="406.6" width="12.4" height="12.4" fill="#0067cc"/><rect x="424.1" y="406.6" width="12.4" height="12.4" fill="#0067cc"/><rect x="435.9" y="406.6" width="12.4" height="12.4" fill="#0060cf"/><rect x="447.6" y="406.6" width="12.4" height="12.4" fill="#005bd1"/><rect x="459.4" y="406.6" width="12.4" height="12.4" fill="#005bd2"/><rect x="471.2" y="406.6" width="12.4" height="12.4" fill="#0064cd"/><rect x="482.9" y="406.6" width="12.4" height="12.4" fill="#006ec8"/><rect x="494.7" y="406.6" width="12.4" height="12.4" fill="#0070c7"/><rect x="506.4" y="406.6" width="12.4" height="12.4" fill="#0072c6"/><rect x="518.2" y="406.6" width="12.4" height="12.4" fill="#007dc1"/><rect x="529.9" y="406.6" width="12.4" height="12.4" fill="#0074c5"/><rect x="541.7" y="406.6" width="12.4" height="12.4" fill="#0079c3"/><rect x="553.4" y="406.6" width="12.4" height="12.4" fill="#0080bf"/><rect x="565.2" y="406.6" width="12.4" height="12.4" fill="#0080bf"/><rect x="-10.9" y="418.3" width="12.4" height="12.4" fill="#0086bc"/><rect x="0.9" y="418.3" width="12.4" height="12.4" fill="#0086bc"/><rect x="12.7" y="418.3" width="12.4" height="12.4" fill="#0085bc"/><rect x="24.4" y="418.3" width="12.4" height="12.4" fill="#0085bd"/><rect x="36.2" y="418.3" width="12.4" height="12.4" fill="#0086bc"/><rect x="47.9" y="418.3" width="12.4" height="12.4" fill="#008aba"/><rect x="59.7" y="418.3" width="12.4" height="12.4" fill="#0089ba"/><rect x="71.4" y="418.3" width="12.4" height="12.4" fill="#0083be"/><rect x="83.2" y="418.3" width="12.4" height="12.4" fill="#0085bd"/><rect x="95.0" y="418.3" width="12.4" height="12.4" fill="#008eb8"/><rect x="106.7" y="418.3" width="12.4" height="12.4" fill="#0089ba"/><rect x="118.5" y="418.3" width="12.4" height="12.4" fill="#0086bc"/><rect x="130.2" y="418.3" width="12.4" height="12.4" fill="#0087bc"/><rect x="142.0" y="418.3" width="12.4" height="12.4" fill="#0093b5"/><rect x="153.7" y="418.3" width="12.4" height="12.4" fill="#00a3ad"/><rect x="165.5" y="418.3" width="12.4" height="12.4" fill="#00a9aa"/><rect x="177.2" y="418.3" width="12.4" height="12.4" fill="#00ada8"/><rect x="189.0" y="418.3" width="12.4" height="12.4" fill="#00afa7"/><rect x="200.8" y="418.3" width="12.4" height="12.4" fill="#00aea8"/><rect x="212.5" y="418.3" width="12.4" height="12.4" fill="#00a8ab"/><rect x="224.3" y="418.3" width="12.4" height="12.4" fill="#009eb0"/><rect x="236.0" y="418.3" width="12.4" height="12.4" fill="#00a5ad"/><rect x="247.8" y="418.3" width="12.4" height="12.4" fill="#009bb2"/><rect x="259.5" y="418.3" width="12.4" height="12.4" fill="#008bba"/><rect x="271.3" y="418.3" width="12.4" height="12.4" fill="#0086bc"/><rect x="283.1" y="418.3" width="12.4" height="12.4" fill="#0087bc"/><rect x="294.8" y="418.3" width="12.4" height="12.4" fill="#0088bb"/><rect x="306.6" y="418.3" width="12.4" height="12.4" fill="#008bb9"/><rect x="318.3" y="418.3" width="12.4" height="12.4" fill="#008fb7"/><rect x="330.1" y="418.3" width="12.4" height="12.4" fill="#0092b6"/><rect x="341.8" y="418.3" width="12.4" height="12.4" fill="#008cb9"/><rect x="353.6" y="418.3" width="12.4" height="12.4" fill="#008cb9"/><rect x="365.3" y="418.3" width="12.4" height="12.4" fill="#008aba"/><rect x="377.1" y="418.3" width="12.4" height="12.4" fill="#008db8"/><rect x="388.9" y="418.3" width="12.4" height="12.4" fill="#008cb9"/><rect x="400.6" y="418.3" width="12.4" height="12.4" fill="#0076c4"/><rect x="412.4" y="418.3" width="12.4" height="12.4" fill="#006cc9"/><rect x="424.1" y="418.3" width="12.4" height="12.4" fill="#006bc9"/><rect x="435.9" y="418.3" width="12.4" height="12.4" fill="#0066cc"/><rect x="447.6" y="418.3" width="12.4" height="12.4" fill="#0063ce"/><rect x="459.4" y="418.3" width="12.4" height="12.4" fill="#0063cd"/><rect x="471.2" y="418.3" width="12.4" height="12.4" fill="#006cc9"/><rect x="482.9" y="418.3" width="12.4" height="12.4" fill="#0076c4"/><rect x="494.7" y="418.3" width="12.4" height="12.4" fill="#0078c3"/><rect x="506.4" y="418.3" width="12.4" height="12.4" fill="#007ac2"/><rect x="518.2" y="418.3" width="12.4" height="12.4" fill="#0084bd"/><rect x="529.9" y="418.3" width="12.4" height="12.4" fill="#007bc2"/><rect x="541.7" y="418.3" width="12.4" height="12.4" fill="#007ec0"/><rect x="553.4" y="418.3" width="12.4" height="12.4" fill="#0082be"/><rect x="565.2" y="418.3" width="12.4" height="12.4" fill="#0082be"/><rect x="-10.9" y="430.1" width="12.4" height="12.4" fill="#008cb9"/><rect x="0.9" y="430.1" width="12.4" height="12.4" fill="#008cb9"/><rect x="12.7" y="430.1" width="12.4" height="12.4" fill="#008bb9"/><rect x="24.4" y="430.1" width="12.4" height="12.4" fill="#008aba"/><rect x="36.2" y="430.1" width="12.4" height="12.4" fill="#008bba"/><rect x="47.9" y="430.1" width="12.4" height="12.4" fill="#008fb7"/><rect x="59.7" y="430.1" width="12.4" height="12.4" fill="#008eb8"/><rect x="71.4" y="430.1" width="12.4" height="12.4" fill="#0088bb"/><rect x="83.2" y="430.1" width="12.4" height="12.4" fill="#008aba"/><rect x="95.0" y="430.1" width="12.4" height="12.4" fill="#0094b5"/><rect x="106.7" y="430.1" width="12.4" height="12.4" fill="#008eb8"/><rect x="118.5" y="430.1" width="12.4" height="12.4" fill="#0088bb"/><rect x="130.2" y="430.1" width="12.4" height="12.4" fill="#0088bb"/><rect x="142.0" y="430.1" width="12.4" height="12.4" fill="#0086bc"/><rect x="153.7" y="430.1" width="12.4" height="12.4" fill="#008aba"/><rect x="165.5" y="430.1" width="12.4" height="12.4" fill="#0091b7"/><rect x="177.2" y="430.1" width="12.4" height="12.4" fill="#0093b6"/><rect x="189.0" y="430.1" width="12.4" height="12.4" fill="#0091b7"/><rect x="200.8" y="430.1" width="12.4" height="12.4" fill="#0090b7"/><rect x="212.5" y="430.1" width="12.4" height="12.4" fill="#0091b7"/><rect x="224.3" y="430.1" width="12.4" height="12.4" fill="#0094b5"/><rect x="236.0" y="430.1" width="12.4" height="12.4" fill="#009ab2"/><rect x="247.8" y="430.1" width="12.4" height="12.4" fill="#0090b7"/><rect x="259.5" y="430.1" width="12.4" height="12.4" fill="#0086bc"/><rect x="271.3" y="430.1" width="12.4" height="12.4" fill="#0083be"/><rect x="283.1" y="430.1" width="12.4" height="12.4" fill="#0083be"/><rect x="294.8" y="430.1" width="12.4" height="12.4" fill="#0085bd"/><rect x="306.6" y="430.1" width="12.4" height="12.4" fill="#0089ba"/><rect x="318.3" y="430.1" width="12.4" height="12.4" fill="#008cb9"/><rect x="330.1" y="430.1" width="12.4" height="12.4" fill="#008aba"/><rect x="341.8" y="430.1" width="12.4" height="12.4" fill="#0083be"/><rect x="353.6" y="430.1" width="12.4" height="12.4" fill="#0086bc"/><rect x="365.3" y="430.1" width="12.4" height="12.4" fill="#0087bb"/><rect x="377.1" y="430.1" width="12.4" height="12.4" fill="#008cb9"/><rect x="388.9" y="430.1" width="12.4" height="12.4" fill="#008cb9"/><rect x="400.6" y="430.1" width="12.4" height="12.4" fill="#007dc1"/><rect x="412.4" y="430.1" width="12.4" height="12.4" fill="#0076c4"/><rect x="424.1" y="430.1" width="12.4" height="12.4" fill="#0074c5"/><rect x="435.9" y="430.1" width="12.4" height="12.4" fill="#0072c6"/><rect x="447.6" y="430.1" width="12.4" height="12.4" fill="#0070c7"/><rect x="459.4" y="430.1" width="12.4" height="12.4" fill="#0071c7"/><rect x="471.2" y="430.1" width="12.4" height="12.4" fill="#007bc2"/><rect x="482.9" y="430.1" width="12.4" height="12.4" fill="#0084bd"/><rect x="494.7" y="430.1" width="12.4" height="12.4" fill="#0086bc"/><rect x="506.4" y="430.1" width="12.4" height="12.4" fill="#0088bb"/><rect x="518.2" y="430.1" width="12.4" height="12.4" fill="#0091b7"/><rect x="529.9" y="430.1" width="12.4" height="12.4" fill="#0087bc"/><rect x="541.7" y="430.1" width="12.4" height="12.4" fill="#0087bb"/><rect x="553.4" y="430.1" width="12.4" height="12.4" fill="#0087bc"/><rect x="565.2" y="430.1" width="12.4" height="12.4" fill="#0087bc"/><rect x="-10.9" y="441.8" width="12.4" height="12.4" fill="#008bba"/><rect x="0.9" y="441.8" width="12.4" height="12.4" fill="#008bba"/><rect x="12.7" y="441.8" width="12.4" height="12.4" fill="#008aba"/><rect x="24.4" y="441.8" width="12.4" height="12.4" fill="#0089ba"/><rect x="36.2" y="441.8" width="12.4" height="12.4" fill="#0089ba"/><rect x="47.9" y="441.8" width="12.4" height="12.4" fill="#008cb9"/><rect x="59.7" y="441.8" width="12.4" height="12.4" fill="#008bb9"/><rect x="71.4" y="441.8" width="12.4" height="12.4" fill="#0088bb"/><rect x="83.2" y="441.8" width="12.4" height="12.4" fill="#008aba"/><rect x="95.0" y="441.8" width="12.4" height="12.4" fill="#0092b6"/><rect x="106.7" y="441.8" width="12.4" height="12.4" fill="#008cb9"/><rect x="118.5" y="441.8" width="12.4" height="12.4" fill="#0088bb"/><rect x="130.2" y="441.8" width="12.4" height="12.4" fill="#0088bb"/><rect x="142.0" y="441.8" width="12.4" height="12.4" fill="#0085bc"/><rect x="153.7" y="441.8" width="12.4" height="12.4" fill="#0088bb"/><rect x="165.5" y="441.8" width="12.4" height="12.4" fill="#008eb8"/><rect x="177.2" y="441.8" width="12.4" height="12.4" fill="#0091b7"/><rect x="189.0" y="441.8" width="12.4" height="12.4" fill="#008fb7"/><rect x="200.8" y="441.8" width="12.4" height="12.4" fill="#008fb8"/><rect x="212.5" y="441.8" width="12.4" height="12.4" fill="#0090b7"/><rect x="224.3" y="441.8" width="12.4" height="12.4" fill="#0093b6"/><rect x="236.0" y="441.8" width="12.4" height="12.4" fill="#0099b2"/><rect x="247.8" y="441.8" width="12.4" height="12.4" fill="#008fb7"/><rect x="259.5" y="441.8" width="12.4" height="12.4" fill="#0087bb"/><rect x="271.3" y="441.8" width="12.4" height="12.4" fill="#0084bd"/><rect x="283.1" y="441.8" width="12.4" height="12.4" fill="#0084bd"/><rect x="294.8" y="441.8" width="12.4" height="12.4" fill="#0085bd"/><rect x="306.6" y="441.8" width="12.4" height="12.4" fill="#0088bb"/><rect x="318.3" y="441.8" width="12.4" height="12.4" fill="#008bba"/><rect x="330.1" y="441.8" width="12.4" height="12.4" fill="#008aba"/><rect x="341.8" y="441.8" width="12.4" height="12.4" fill="#0084bd"/><rect x="353.6" y="441.8" width="12.4" height="12.4" fill="#0086bc"/><rect x="365.3" y="441.8" width="12.4" height="12.4" fill="#0088bb"/><rect x="377.1" y="441.8" width="12.4" height="12.4" fill="#008bb9"/><rect x="388.9" y="441.8" width="12.4" height="12.4" fill="#008cb9"/><rect x="400.6" y="441.8" width="12.4" height="12.4" fill="#007ec0"/><rect x="412.4" y="441.8" width="12.4" height="12.4" fill="#0078c3"/><rect x="424.1" y="441.8" width="12.4" height="12.4" fill="#0076c4"/><rect x="435.9" y="441.8" width="12.4" height="12.4" fill="#0073c5"/><rect x="447.6" y="441.8" width="12.4" height="12.4" fill="#0073c6"/><rect x="459.4" y="441.8" width="12.4" height="12.4" fill="#0073c5"/><rect x="471.2" y="441.8" width="12.4" height="12.4" fill="#007bc1"/><rect x="482.9" y="441.8" width="12.4" height="12.4" fill="#0084bd"/><rect x="494.7" y="441.8" width="12.4" height="12.4" fill="#0087bb"/><rect x="506.4" y="441.8" width="12.4" height="12.4" fill="#008aba"/><rect x="518.2" y="441.8" width="12.4" height="12.4" fill="#0092b6"/><rect x="529.9" y="441.8" width="12.4" height="12.4" fill="#0088bb"/><rect x="541.7" y="441.8" width="12.4" height="12.4" fill="#0088bb"/><rect x="553.4" y="441.8" width="12.4" height="12.4" fill="#0087bb"/><rect x="565.2" y="441.8" width="12.4" height="12.4" fill="#0087bb"/><rect x="-10.9" y="453.6" width="12.4" height="12.4" fill="#008aba"/><rect x="0.9" y="453.6" width="12.4" height="12.4" fill="#008aba"/><rect x="12.7" y="453.6" width="12.4" height="12.4" fill="#008aba"/><rect x="24.4" y="453.6" width="12.4" height="12.4" fill="#008bba"/><rect x="36.2" y="453.6" width="12.4" height="12.4" fill="#008aba"/><rect x="47.9" y="453.6" width="12.4" height="12.4" fill="#0089bb"/><rect x="59.7" y="453.6" width="12.4" height="12.4" fill="#0089bb"/><rect x="71.4" y="453.6" width="12.4" height="12.4" fill="#008bba"/><rect x="83.2" y="453.6" width="12.4" height="12.4" fill="#008eb8"/><rect x="95.0" y="453.6" width="12.4" height="12.4" fill="#0091b6"/><rect x="106.7" y="453.6" width="12.4" height="12.4" fill="#008bba"/><rect x="118.5" y="453.6" width="12.4" height="12.4" fill="#008cb9"/><rect x="130.2" y="453.6" width="12.4" height="12.4" fill="#008eb8"/><rect x="142.0" y="453.6" width="12.4" height="12.4" fill="#0089ba"/><rect x="153.7" y="453.6" width="12.4" height="12.4" fill="#0089ba"/><rect x="165.5" y="453.6" width="12.4" height="12.4" fill="#008eb8"/><rect x="177.2" y="453.6" width="12.4" height="12.4" fill="#0092b6"/><rect x="189.0" y="453.6" width="12.4" height="12.4" fill="#0094b5"/><rect x="200.8" y="453.6" width="12.4" height="12.4" fill="#0094b5"/><rect x="212.5" y="453.6" width="12.4" height="12.4" fill="#0092b6"/><rect x="224.3" y="453.6" width="12.4" height="12.4" fill="#0094b5"/><rect x="236.0" y="453.6" width="12.4" height="12.4" fill="#009cb1"/><rect x="247.8" y="453.6" width="12.4" height="12.4" fill="#0093b5"/><rect x="259.5" y="453.6" width="12.4" height="12.4" fill="#008bb9"/><rect x="271.3" y="453.6" width="12.4" height="12.4" fill="#0088bb"/><rect x="283.1" y="453.6" width="12.4" height="12.4" fill="#0088bb"/><rect x="294.8" y="453.6" width="12.4" height="12.4" fill="#0087bc"/><rect x="306.6" y="453.6" width="12.4" height="12.4" fill="#0086bc"/><rect x="318.3" y="453.6" width="12.4" height="12.4" fill="#008aba"/><rect x="330.1" y="453.6" width="12.4" height="12.4" fill="#0090b7"/><rect x="341.8" y="453.6" width="12.4" height="12.4" fill="#008cb9"/><rect x="353.6" y="453.6" width="12.4" height="12.4" fill="#008cb9"/><rect x="365.3" y="453.6" width="12.4" height="12.4" fill="#008bb9"/><rect x="377.1" y="453.6" width="12.4" height="12.4" fill="#008bb9"/><rect x="388.9" y="453.6" width="12.4" height="12.4" fill="#008cb9"/><rect x="400.6" y="453.6" width="12.4" height="12.4" fill="#0083bd"/><rect x="412.4" y="453.6" width="12.4" height="12.4" fill="#007fc0"/><rect x="424.1" y="453.6" width="12.4" height="12.4" fill="#007dc1"/><rect x="435.9" y="453.6" width="12.4" height="12.4" fill="#007bc1"/><rect x="447.6" y="453.6" width="12.4" height="12.4" fill="#007dc1"/><rect x="459.4" y="453.6" width="12.4" height="12.4" fill="#007cc1"/><rect x="471.2" y="453.6" width="12.4" height="12.4" fill="#007dc0"/><rect x="482.9" y="453.6" width="12.4" height="12.4" fill="#0083bd"/><rect x="494.7" y="453.6" width="12.4" height="12.4" fill="#0088bb"/><rect x="506.4" y="453.6" width="12.4" height="12.4" fill="#008bb9"/><rect x="518.2" y="453.6" width="12.4" height="12.4" fill="#0095b4"/><rect x="529.9" y="453.6" width="12.4" height="12.4" fill="#008bb9"/><rect x="541.7" y="453.6" width="12.4" height="12.4" fill="#008aba"/><rect x="553.4" y="453.6" width="12.4" height="12.4" fill="#0088bb"/><rect x="565.2" y="453.6" width="12.4" height="12.4" fill="#0088bb"/><rect x="-10.9" y="465.4" width="12.4" height="12.4" fill="#008fb7"/><rect x="0.9" y="465.4" width="12.4" height="12.4" fill="#008fb7"/><rect x="12.7" y="465.4" width="12.4" height="12.4" fill="#0090b7"/><rect x="24.4" y="465.4" width="12.4" height="12.4" fill="#0090b7"/><rect x="36.2" y="465.4" width="12.4" height="12.4" fill="#0090b7"/><rect x="47.9" y="465.4" width="12.4" height="12.4" fill="#0091b7"/><rect x="59.7" y="465.4" width="12.4" height="12.4" fill="#0090b7"/><rect x="71.4" y="465.4" width="12.4" height="12.4" fill="#008fb8"/><rect x="83.2" y="465.4" width="12.4" height="12.4" fill="#0091b7"/><rect x="95.0" y="465.4" width="12.4" height="12.4" fill="#0097b4"/><rect x="106.7" y="465.4" width="12.4" height="12.4" fill="#0091b6"/><rect x="118.5" y="465.4" width="12.4" height="12.4" fill="#0093b6"/><rect x="130.2" y="465.4" width="12.4" height="12.4" fill="#0094b5"/><rect x="142.0" y="465.4" width="12.4" height="12.4" fill="#008fb8"/><rect x="153.7" y="465.4" width="12.4" height="12.4" fill="#008db8"/><rect x="165.5" y="465.4" width="12.4" height="12.4" fill="#0091b6"/><rect x="177.2" y="465.4" width="12.4" height="12.4" fill="#0094b5"/><rect x="189.0" y="465.4" width="12.4" height="12.4" fill="#0095b4"/><rect x="200.8" y="465.4" width="12.4" height="12.4" fill="#0095b4"/><rect x="212.5" y="465.4" width="12.4" height="12.4" fill="#0094b5"/><rect x="224.3" y="465.4" width="12.4" height="12.4" fill="#0097b3"/><rect x="236.0" y="465.4" width="12.4" height="12.4" fill="#00a0af"/><rect x="247.8" y="465.4" width="12.4" height="12.4" fill="#0097b3"/><rect x="259.5" y="465.4" width="12.4" height="12.4" fill="#008db8"/><rect x="271.3" y="465.4" width="12.4" height="12.4" fill="#0089ba"/><rect x="283.1" y="465.4" width="12.4" height="12.4" fill="#0089ba"/><rect x="294.8" y="465.4" width="12.4" height="12.4" fill="#0089bb"/><rect x="306.6" y="465.4" width="12.4" height="12.4" fill="#0089bb"/><rect x="318.3" y="465.4" width="12.4" height="12.4" fill="#008db8"/><rect x="330.1" y="465.4" width="12.4" height="12.4" fill="#0093b5"/><rect x="341.8" y="465.4" width="12.4" height="12.4" fill="#008fb8"/><rect x="353.6" y="465.4" width="12.4" height="12.4" fill="#008eb8"/><rect x="365.3" y="465.4" width="12.4" height="12.4" fill="#008db8"/><rect x="377.1" y="465.4" width="12.4" height="12.4" fill="#008eb8"/><rect x="388.9" y="465.4" width="12.4" height="12.4" fill="#008fb8"/><rect x="400.6" y="465.4" width="12.4" height="12.4" fill="#008bb9"/><rect x="412.4" y="465.4" width="12.4" height="12.4" fill="#0089bb"/><rect x="424.1" y="465.4" width="12.4" height="12.4" fill="#0086bc"/><rect x="435.9" y="465.4" width="12.4" height="12.4" fill="#0084bd"/><rect x="447.6" y="465.4" width="12.4" height="12.4" fill="#0085bd"/><rect x="459.4" y="465.4" width="12.4" height="12.4" fill="#0084bd"/><rect x="471.2" y="465.4" width="12.4" height="12.4" fill="#0083bd"/><rect x="482.9" y="465.4" width="12.4" height="12.4" fill="#0087bc"/><rect x="494.7" y="465.4" width="12.4" height="12.4" fill="#008bba"/><rect x="506.4" y="465.4" width="12.4" height="12.4" fill="#008eb8"/><rect x="518.2" y="465.4" width="12.4" height="12.4" fill="#0097b4"/><rect x="529.9" y="465.4" width="12.4" height="12.4" fill="#008db8"/><rect x="541.7" y="465.4" width="12.4" height="12.4" fill="#008cb9"/><rect x="553.4" y="465.4" width="12.4" height="12.4" fill="#008aba"/><rect x="565.2" y="465.4" width="12.4" height="12.4" fill="#008aba"/><rect x="-10.9" y="477.1" width="12.4" height="12.4" fill="#008aba"/><rect x="0.9" y="477.1" width="12.4" height="12.4" fill="#008aba"/><rect x="12.7" y="477.1" width="12.4" height="12.4" fill="#0089ba"/><rect x="24.4" y="477.1" width="12.4" height="12.4" fill="#0087bb"/><rect x="36.2" y="477.1" width="12.4" height="12.4" fill="#008aba"/><rect x="47.9" y="477.1" width="12.4" height="12.4" fill="#0092b6"/><rect x="59.7" y="477.1" width="12.4" height="12.4" fill="#0090b7"/><rect x="71.4" y="477.1" width="12.4" height="12.4" fill="#0082be"/><rect x="83.2" y="477.1" width="12.4" height="12.4" fill="#0083be"/><rect x="95.0" y="477.1" width="12.4" height="12.4" fill="#0091b7"/><rect x="106.7" y="477.1" width="12.4" height="12.4" fill="#008db8"/><rect x="118.5" y="477.1" width="12.4" height="12.4" fill="#008aba"/><rect x="130.2" y="477.1" width="12.4" height="12.4" fill="#008aba"/><rect x="142.0" y="477.1" width="12.4" height="12.4" fill="#0085bd"/><rect x="153.7" y="477.1" width="12.4" height="12.4" fill="#0084bd"/><rect x="165.5" y="477.1" width="12.4" height="12.4" fill="#0088bb"/><rect x="177.2" y="477.1" width="12.4" height="12.4" fill="#0087bb"/><rect x="189.0" y="477.1" width="12.4" height="12.4" fill="#0084bd"/><rect x="200.8" y="477.1" width="12.4" height="12.4" fill="#0083bd"/><rect x="212.5" y="477.1" width="12.4" height="12.4" fill="#0086bc"/><rect x="224.3" y="477.1" width="12.4" height="12.4" fill="#008cb9"/><rect x="236.0" y="477.1" width="12.4" height="12.4" fill="#0095b4"/><rect x="247.8" y="477.1" width="12.4" height="12.4" fill="#008cb9"/><rect x="259.5" y="477.1" width="12.4" height="12.4" fill="#0082be"/><rect x="271.3" y="477.1" width="12.4" height="12.4" fill="#007ec0"/><rect x="283.1" y="477.1" width="12.4" height="12.4" fill="#007ec0"/><rect x="294.8" y="477.1" width="12.4" height="12.4" fill="#0081be"/><rect x="306.6" y="477.1" width="12.4" height="12.4" fill="#0087bb"/><rect x="318.3" y="477.1" width="12.4" height="12.4" fill="#008bb9"/><rect x="330.1" y="477.1" width="12.4" height="12.4" fill="#0089ba"/><rect x="341.8" y="477.1" width="12.4" height="12.4" fill="#0082be"/><rect x="353.6" y="477.1" width="12.4" height="12.4" fill="#0082be"/><rect x="365.3" y="477.1" width="12.4" height="12.4" fill="#0084bd"/><rect x="377.1" y="477.1" width="12.4" height="12.4" fill="#0089ba"/><rect x="388.9" y="477.1" width="12.4" height="12.4" fill="#008aba"/><rect x="400.6" y="477.1" width="12.4" height="12.4" fill="#0084bd"/><rect x="412.4" y="477.1" width="12.4" height="12.4" fill="#0080bf"/><rect x="424.1" y="477.1" width="12.4" height="12.4" fill="#007ec0"/><rect x="435.9" y="477.1" width="12.4" height="12.4" fill="#007bc2"/><rect x="447.6" y="477.1" width="12.4" height="12.4" fill="#0078c3"/><rect x="459.4" y="477.1" width="12.4" height="12.4" fill="#0079c3"/><rect x="471.2" y="477.1" width="12.4" height="12.4" fill="#007ec0"/><rect x="482.9" y="477.1" width="12.4" height="12.4" fill="#0083bd"/><rect x="494.7" y="477.1" width="12.4" height="12.4" fill="#0085bd"/><rect x="506.4" y="477.1" width="12.4" height="12.4" fill="#0085bc"/><rect x="518.2" y="477.1" width="12.4" height="12.4" fill="#008db9"/><rect x="529.9" y="477.1" width="12.4" height="12.4" fill="#0083be"/><rect x="541.7" y="477.1" width="12.4" height="12.4" fill="#0084bd"/><rect x="553.4" y="477.1" width="12.4" height="12.4" fill="#0082be"/><rect x="565.2" y="477.1" width="12.4" height="12.4" fill="#0082be"/><rect x="-10.9" y="488.9" width="12.4" height="12.4" fill="#0086bc"/><rect x="0.9" y="488.9" width="12.4" height="12.4" fill="#0086bc"/><rect x="12.7" y="488.9" width="12.4" height="12.4" fill="#0086bc"/><rect x="24.4" y="488.9" width="12.4" height="12.4" fill="#0085bc"/><rect x="36.2" y="488.9" width="12.4" height="12.4" fill="#0087bb"/><rect x="47.9" y="488.9" width="12.4" height="12.4" fill="#008cb9"/><rect x="59.7" y="488.9" width="12.4" height="12.4" fill="#008aba"/><rect x="71.4" y="488.9" width="12.4" height="12.4" fill="#0080bf"/><rect x="83.2" y="488.9" width="12.4" height="12.4" fill="#0082be"/><rect x="95.0" y="488.9" width="12.4" height="12.4" fill="#008fb8"/><rect x="106.7" y="488.9" width="12.4" height="12.4" fill="#008bba"/><rect x="118.5" y="488.9" width="12.4" height="12.4" fill="#0087bb"/><rect x="130.2" y="488.9" width="12.4" height="12.4" fill="#0088bb"/><rect x="142.0" y="488.9" width="12.4" height="12.4" fill="#0083bd"/><rect x="153.7" y="488.9" width="12.4" height="12.4" fill="#0082be"/><rect x="165.5" y="488.9" width="12.4" height="12.4" fill="#0085bc"/><rect x="177.2" y="488.9" width="12.4" height="12.4" fill="#0086bc"/><rect x="189.0" y="488.9" width="12.4" height="12.4" fill="#0085bc"/><rect x="200.8" y="488.9" width="12.4" height="12.4" fill="#0085bd"/><rect x="212.5" y="488.9" width="12.4" height="12.4" fill="#0085bd"/><rect x="224.3" y="488.9" width="12.4" height="12.4" fill="#0089ba"/><rect x="236.0" y="488.9" width="12.4" height="12.4" fill="#0092b6"/><rect x="247.8" y="488.9" width="12.4" height="12.4" fill="#0089ba"/><rect x="259.5" y="488.9" width="12.4" height="12.4" fill="#0080bf"/><rect x="271.3" y="488.9" width="12.4" height="12.4" fill="#007dc0"/><rect x="283.1" y="488.9" width="12.4" height="12.4" fill="#007dc1"/><rect x="294.8" y="488.9" width="12.4" height="12.4" fill="#007ec0"/><rect x="306.6" y="488.9" width="12.4" height="12.4" fill="#0081be"/><rect x="318.3" y="488.9" width="12.4" height="12.4" fill="#0086bc"/><rect x="330.1" y="488.9" width="12.4" height="12.4" fill="#008aba"/><rect x="341.8" y="488.9" width="12.4" height="12.4" fill="#0084bd"/><rect x="353.6" y="488.9" width="12.4" height="12.4" fill="#0083be"/><rect x="365.3" y="488.9" width="12.4" height="12.4" fill="#0082be"/><rect x="377.1" y="488.9" width="12.4" height="12.4" fill="#0085bc"/><rect x="388.9" y="488.9" width="12.4" height="12.4" fill="#0086bc"/><rect x="400.6" y="488.9" width="12.4" height="12.4" fill="#007fc0"/><rect x="412.4" y="488.9" width="12.4" height="12.4" fill="#007bc2"/><rect x="424.1" y="488.9" width="12.4" height="12.4" fill="#0079c2"/><rect x="435.9" y="488.9" width="12.4" height="12.4" fill="#0077c4"/><rect x="447.6" y="488.9" width="12.4" height="12.4" fill="#0076c4"/><rect x="459.4" y="488.9" width="12.4" height="12.4" fill="#0076c4"/><rect x="471.2" y="488.9" width="12.4" height="12.4" fill="#0079c2"/><rect x="482.9" y="488.9" width="12.4" height="12.4" fill="#007ec0"/><rect x="494.7" y="488.9" width="12.4" height="12.4" fill="#0080bf"/><rect x="506.4" y="488.9" width="12.4" height="12.4" fill="#0082be"/><rect x="518.2" y="488.9" width="12.4" height="12.4" fill="#008cb9"/><rect x="529.9" y="488.9" width="12.4" height="12.4" fill="#0082be"/><rect x="541.7" y="488.9" width="12.4" height="12.4" fill="#0081be"/><rect x="553.4" y="488.9" width="12.4" height="12.4" fill="#0080bf"/><rect x="565.2" y="488.9" width="12.4" height="12.4" fill="#0080bf"/><rect x="-10.9" y="500.6" width="12.4" height="12.4" fill="#0083be"/><rect x="0.9" y="500.6" width="12.4" height="12.4" fill="#0083be"/><rect x="12.7" y="500.6" width="12.4" height="12.4" fill="#0085bc"/><rect x="24.4" y="500.6" width="12.4" height="12.4" fill="#008aba"/><rect x="36.2" y="500.6" width="12.4" height="12.4" fill="#0087bb"/><rect x="47.9" y="500.6" width="12.4" height="12.4" fill="#007ec0"/><rect x="59.7" y="500.6" width="12.4" height="12.4" fill="#007fc0"/><rect x="71.4" y="500.6" width="12.4" height="12.4" fill="#008aba"/><rect x="83.2" y="500.6" width="12.4" height="12.4" fill="#0090b7"/><rect x="95.0" y="500.6" width="12.4" height="12.4" fill="#0090b7"/><rect x="106.7" y="500.6" width="12.4" height="12.4" fill="#0088bb"/><rect x="118.5" y="500.6" width="12.4" height="12.4" fill="#008bb9"/><rect x="130.2" y="500.6" width="12.4" height="12.4" fill="#008eb8"/><rect x="142.0" y="500.6" width="12.4" height="12.4" fill="#0089ba"/><rect x="153.7" y="500.6" width="12.4" height="12.4" fill="#0088bb"/><rect x="165.5" y="500.6" width="12.4" height="12.4" fill="#008aba"/><rect x="177.2" y="500.6" width="12.4" height="12.4" fill="#008fb7"/><rect x="189.0" y="500.6" width="12.4" height="12.4" fill="#0099b3"/><rect x="200.8" y="500.6" width="12.4" height="12.4" fill="#0099b3"/><rect x="212.5" y="500.6" width="12.4" height="12.4" fill="#0090b7"/><rect x="224.3" y="500.6" width="12.4" height="12.4" fill="#008fb8"/><rect x="236.0" y="500.6" width="12.4" height="12.4" fill="#0096b4"/><rect x="247.8" y="500.6" width="12.4" height="12.4" fill="#008eb8"/><rect x="259.5" y="500.6" width="12.4" height="12.4" fill="#0088bb"/><rect x="271.3" y="500.6" width="12.4" height="12.4" fill="#0085bd"/><rect x="283.1" y="500.6" width="12.4" height="12.4" fill="#0084bd"/><rect x="294.8" y="500.6" width="12.4" height="12.4" fill="#007fc0"/><rect x="306.6" y="500.6" width="12.4" height="12.4" fill="#0076c4"/><rect x="318.3" y="500.6" width="12.4" height="12.4" fill="#007ec0"/><rect x="330.1" y="500.6" width="12.4" height="12.4" fill="#0093b5"/><rect x="341.8" y="500.6" width="12.4" height="12.4" fill="#0094b5"/><rect x="353.6" y="500.6" width="12.4" height="12.4" fill="#008fb7"/><rect x="365.3" y="500.6" width="12.4" height="12.4" fill="#0088bb"/><rect x="377.1" y="500.6" width="12.4" height="12.4" fill="#0082be"/><rect x="388.9" y="500.6" width="12.4" height="12.4" fill="#0080bf"/><rect x="400.6" y="500.6" width="12.4" height="12.4" fill="#007ac2"/><rect x="412.4" y="500.6" width="12.4" height="12.4" fill="#0077c3"/><rect x="424.1" y="500.6" width="12.4" height="12.4" fill="#0076c4"/><rect x="435.9" y="500.6" width="12.4" height="12.4" fill="#0077c4"/><rect x="447.6" y="500.6" width="12.4" height="12.4" fill="#007dc0"/><rect x="459.4" y="500.6" width="12.4" height="12.4" fill="#007ac2"/><rect x="471.2" y="500.6" width="12.4" height="12.4" fill="#0073c5"/><rect x="482.9" y="500.6" width="12.4" height="12.4" fill="#0076c4"/><rect x="494.7" y="500.6" width="12.4" height="12.4" fill="#007dc1"/><rect x="506.4" y="500.6" width="12.4" height="12.4" fill="#0084bd"/><rect x="518.2" y="500.6" width="12.4" height="12.4" fill="#0094b5"/><rect x="529.9" y="500.6" width="12.4" height="12.4" fill="#008bba"/><rect x="541.7" y="500.6" width="12.4" height="12.4" fill="#0085bc"/><rect x="553.4" y="500.6" width="12.4" height="12.4" fill="#0081bf"/><rect x="565.2" y="500.6" width="12.4" height="12.4" fill="#0081bf"/><rect x="-10.9" y="512.4" width="12.4" height="12.4" fill="#0083be"/><rect x="0.9" y="512.4" width="12.4" height="12.4" fill="#0083be"/><rect x="12.7" y="512.4" width="12.4" height="12.4" fill="#0085bc"/><rect x="24.4" y="512.4" width="12.4" height="12.4" fill="#008aba"/><rect x="36.2" y="512.4" width="12.4" height="12.4" fill="#0088bb"/><rect x="47.9" y="512.4" width="12.4" height="12.4" fill="#007dc0"/><rect x="59.7" y="512.4" width="12.4" height="12.4" fill="#007fbf"/><rect x="71.4" y="512.4" width="12.4" height="12.4" fill="#008db9"/><rect x="83.2" y="512.4" width="12.4" height="12.4" fill="#0092b6"/><rect x="95.0" y="512.4" width="12.4" height="12.4" fill="#0090b7"/><rect x="106.7" y="512.4" width="12.4" height="12.4" fill="#0088bb"/><rect x="118.5" y="512.4" width="12.4" height="12.4" fill="#008cb9"/><rect x="130.2" y="512.4" width="12.4" height="12.4" fill="#0090b7"/><rect x="142.0" y="512.4" width="12.4" height="12.4" fill="#008aba"/><rect x="153.7" y="512.4" width="12.4" height="12.4" fill="#0089bb"/><rect x="165.5" y="512.4" width="12.4" height="12.4" fill="#008bba"/><rect x="177.2" y="512.4" width="12.4" height="12.4" fill="#0091b7"/><rect x="189.0" y="512.4" width="12.4" height="12.4" fill="#009cb1"/><rect x="200.8" y="512.4" width="12.4" height="12.4" fill="#009cb1"/><rect x="212.5" y="512.4" width="12.4" height="12.4" fill="#0092b6"/><rect x="224.3" y="512.4" width="12.4" height="12.4" fill="#0090b7"/><rect x="236.0" y="512.4" width="12.4" height="12.4" fill="#0098b3"/><rect x="247.8" y="512.4" width="12.4" height="12.4" fill="#0090b7"/><rect x="259.5" y="512.4" width="12.4" height="12.4" fill="#0089ba"/><rect x="271.3" y="512.4" width="12.4" height="12.4" fill="#0086bc"/><rect x="283.1" y="512.4" width="12.4" height="12.4" fill="#0085bc"/><rect x="294.8" y="512.4" width="12.4" height="12.4" fill="#007fbf"/><rect x="306.6" y="512.4" width="12.4" height="12.4" fill="#0075c5"/><rect x="318.3" y="512.4" width="12.4" height="12.4" fill="#007dc1"/><rect x="330.1" y="512.4" width="12.4" height="12.4" fill="#0094b5"/><rect x="341.8" y="512.4" width="12.4" height="12.4" fill="#0096b4"/><rect x="353.6" y="512.4" width="12.4" height="12.4" fill="#0091b6"/><rect x="365.3" y="512.4" width="12.4" height="12.4" fill="#0089ba"/><rect x="377.1" y="512.4" width="12.4" height="12.4" fill="#0082be"/><rect x="388.9" y="512.4" width="12.4" height="12.4" fill="#0080bf"/><rect x="400.6" y="512.4" width="12.4" height="12.4" fill="#007ac2"/><rect x="412.4" y="512.4" width="12.4" height="12.4" fill="#0078c3"/><rect x="424.1" y="512.4" width="12.4" height="12.4" fill="#0076c4"/><rect x="435.9" y="512.4" width="12.4" height="12.4" fill="#0078c3"/><rect x="447.6" y="512.4" width="12.4" height="12.4" fill="#007fc0"/><rect x="459.4" y="512.4" width="12.4" height="12.4" fill="#007cc1"/><rect x="471.2" y="512.4" width="12.4" height="12.4" fill="#0073c5"/><rect x="482.9" y="512.4" width="12.4" height="12.4" fill="#0076c4"/><rect x="494.7" y="512.4" width="12.4" height="12.4" fill="#007dc0"/><rect x="506.4" y="512.4" width="12.4" height="12.4" fill="#0085bc"/><rect x="518.2" y="512.4" width="12.4" height="12.4" fill="#0096b4"/><rect x="529.9" y="512.4" width="12.4" height="12.4" fill="#008db9"/><rect x="541.7" y="512.4" width="12.4" height="12.4" fill="#0086bc"/><rect x="553.4" y="512.4" width="12.4" height="12.4" fill="#0082be"/><rect x="565.2" y="512.4" width="12.4" height="12.4" fill="#0082be"/><rect x="-10.9" y="524.2" width="12.4" height="12.4" fill="#0086bc"/><rect x="0.9" y="524.2" width="12.4" height="12.4" fill="#0086bc"/><rect x="12.7" y="524.2" width="12.4" height="12.4" fill="#0087bc"/><rect x="24.4" y="524.2" width="12.4" height="12.4" fill="#0087bc"/><rect x="36.2" y="524.2" width="12.4" height="12.4" fill="#0089bb"/><rect x="47.9" y="524.2" width="12.4" height="12.4" fill="#008bb9"/><rect x="59.7" y="524.2" width="12.4" height="12.4" fill="#008cb9"/><rect x="71.4" y="524.2" width="12.4" height="12.4" fill="#0089ba"/><rect x="83.2" y="524.2" width="12.4" height="12.4" fill="#008bba"/><rect x="95.0" y="524.2" width="12.4" height="12.4" fill="#0090b7"/><rect x="106.7" y="524.2" width="12.4" height="12.4" fill="#008aba"/><rect x="118.5" y="524.2" width="12.4" height="12.4" fill="#0089ba"/><rect x="130.2" y="524.2" width="12.4" height="12.4" fill="#008bba"/><rect x="142.0" y="524.2" width="12.4" height="12.4" fill="#0086bc"/><rect x="153.7" y="524.2" width="12.4" height="12.4" fill="#0085bc"/><rect x="165.5" y="524.2" width="12.4" height="12.4" fill="#0088bb"/><rect x="177.2" y="524.2" width="12.4" height="12.4" fill="#008bba"/><rect x="189.0" y="524.2" width="12.4" height="12.4" fill="#008eb8"/><rect x="200.8" y="524.2" width="12.4" height="12.4" fill="#008eb8"/><rect x="212.5" y="524.2" width="12.4" height="12.4" fill="#008aba"/><rect x="224.3" y="524.2" width="12.4" height="12.4" fill="#008db9"/><rect x="236.0" y="524.2" width="12.4" height="12.4" fill="#0096b4"/><rect x="247.8" y="524.2" width="12.4" height="12.4" fill="#008eb8"/><rect x="259.5" y="524.2" width="12.4" height="12.4" fill="#0085bd"/><rect x="271.3" y="524.2" width="12.4" height="12.4" fill="#0081be"/><rect x="283.1" y="524.2" width="12.4" height="12.4" fill="#0081bf"/><rect x="294.8" y="524.2" width="12.4" height="12.4" fill="#007fbf"/><rect x="306.6" y="524.2" width="12.4" height="12.4" fill="#007ec0"/><rect x="318.3" y="524.2" width="12.4" height="12.4" fill="#0083be"/><rect x="330.1" y="524.2" width="12.4" height="12.4" fill="#008bb9"/><rect x="341.8" y="524.2" width="12.4" height="12.4" fill="#0088bb"/><rect x="353.6" y="524.2" width="12.4" height="12.4" fill="#0088bb"/><rect x="365.3" y="524.2" width="12.4" height="12.4" fill="#0085bc"/><rect x="377.1" y="524.2" width="12.4" height="12.4" fill="#0084bd"/><rect x="388.9" y="524.2" width="12.4" height="12.4" fill="#0084bd"/><rect x="400.6" y="524.2" width="12.4" height="12.4" fill="#007bc2"/><rect x="412.4" y="524.2" width="12.4" height="12.4" fill="#0076c4"/><rect x="424.1" y="524.2" width="12.4" height="12.4" fill="#0075c5"/><rect x="435.9" y="524.2" width="12.4" height="12.4" fill="#0074c5"/><rect x="447.6" y="524.2" width="12.4" height="12.4" fill="#0076c4"/><rect x="459.4" y="524.2" width="12.4" height="12.4" fill="#0075c4"/><rect x="471.2" y="524.2" width="12.4" height="12.4" fill="#0076c4"/><rect x="482.9" y="524.2" width="12.4" height="12.4" fill="#007cc1"/><rect x="494.7" y="524.2" width="12.4" height="12.4" fill="#0080bf"/><rect x="506.4" y="524.2" width="12.4" height="12.4" fill="#0084bd"/><rect x="518.2" y="524.2" width="12.4" height="12.4" fill="#0091b7"/><rect x="529.9" y="524.2" width="12.4" height="12.4" fill="#0087bb"/><rect x="541.7" y="524.2" width="12.4" height="12.4" fill="#0084bd"/><rect x="553.4" y="524.2" width="12.4" height="12.4" fill="#0081be"/><rect x="565.2" y="524.2" width="12.4" height="12.4" fill="#0081be"/><rect x="-10.9" y="535.9" width="12.4" height="12.4" fill="#0086bc"/><rect x="0.9" y="535.9" width="12.4" height="12.4" fill="#0086bc"/><rect x="12.7" y="535.9" width="12.4" height="12.4" fill="#0086bc"/><rect x="24.4" y="535.9" width="12.4" height="12.4" fill="#0085bc"/><rect x="36.2" y="535.9" width="12.4" height="12.4" fill="#0088bb"/><rect x="47.9" y="535.9" width="12.4" height="12.4" fill="#008eb8"/><rect x="59.7" y="535.9" width="12.4" height="12.4" fill="#008eb8"/><rect x="71.4" y="535.9" width="12.4" height="12.4" fill="#0087bc"/><rect x="83.2" y="535.9" width="12.4" height="12.4" fill="#0088bb"/><rect x="95.0" y="535.9" width="12.4" height="12.4" fill="#0090b7"/><rect x="106.7" y="535.9" width="12.4" height="12.4" fill="#008bba"/><rect x="118.5" y="535.9" width="12.4" height="12.4" fill="#0089ba"/><rect x="130.2" y="535.9" width="12.4" height="12.4" fill="#008aba"/><rect x="142.0" y="535.9" width="12.4" height="12.4" fill="#0085bd"/><rect x="153.7" y="535.9" width="12.4" height="12.4" fill="#0084bd"/><rect x="165.5" y="535.9" width="12.4" height="12.4" fill="#0086bc"/><rect x="177.2" y="535.9" width="12.4" height="12.4" fill="#0088bb"/><rect x="189.0" y="535.9" width="12.4" height="12.4" fill="#0089bb"/><rect x="200.8" y="535.9" width="12.4" height="12.4" fill="#0088bb"/><rect x="212.5" y="535.9" width="12.4" height="12.4" fill="#0087bc"/><rect x="224.3" y="535.9" width="12.4" height="12.4" fill="#008bba"/><rect x="236.0" y="535.9" width="12.4" height="12.4" fill="#0094b5"/><rect x="247.8" y="535.9" width="12.4" height="12.4" fill="#008cb9"/><rect x="259.5" y="535.9" width="12.4" height="12.4" fill="#0082be"/><rect x="271.3" y="535.9" width="12.4" height="12.4" fill="#007fc0"/><rect x="283.1" y="535.9" width="12.4" height="12.4" fill="#007ec0"/><rect x="294.8" y="535.9" width="12.4" height="12.4" fill="#007fc0"/><rect x="306.6" y="535.9" width="12.4" height="12.4" fill="#0080bf"/><rect x="318.3" y="535.9" width="12.4" height="12.4" fill="#0084bd"/><rect x="330.1" y="535.9" width="12.4" height="12.4" fill="#0088bb"/><rect x="341.8" y="535.9" width="12.4" height="12.4" fill="#0083bd"/><rect x="353.6" y="535.9" width="12.4" height="12.4" fill="#0084bd"/><rect x="365.3" y="535.9" width="12.4" height="12.4" fill="#0083bd"/><rect x="377.1" y="535.9" width="12.4" height="12.4" fill="#0084bd"/><rect x="388.9" y="535.9" width="12.4" height="12.4" fill="#0084bd"/><rect x="400.6" y="535.9" width="12.4" height="12.4" fill="#007ac2"/><rect x="412.4" y="535.9" width="12.4" height="12.4" fill="#0075c4"/><rect x="424.1" y="535.9" width="12.4" height="12.4" fill="#0074c5"/><rect x="435.9" y="535.9" width="12.4" height="12.4" fill="#0073c6"/><rect x="447.6" y="535.9" width="12.4" height="12.4" fill="#0074c5"/><rect x="459.4" y="535.9" width="12.4" height="12.4" fill="#0074c5"/><rect x="471.2" y="535.9" width="12.4" height="12.4" fill="#0077c4"/><rect x="482.9" y="535.9" width="12.4" height="12.4" fill="#007dc0"/><rect x="494.7" y="535.9" width="12.4" height="12.4" fill="#0080bf"/><rect x="506.4" y="535.9" width="12.4" height="12.4" fill="#0083be"/><rect x="518.2" y="535.9" width="12.4" height="12.4" fill="#008db9"/><rect x="529.9" y="535.9" width="12.4" height="12.4" fill="#0083bd"/><rect x="541.7" y="535.9" width="12.4" height="12.4" fill="#0082be"/><rect x="553.4" y="535.9" width="12.4" height="12.4" fill="#0081bf"/><rect x="565.2" y="535.9" width="12.4" height="12.4" fill="#0081bf"/><rect x="-10.9" y="547.7" width="12.4" height="12.4" fill="#0081bf"/><rect x="0.9" y="547.7" width="12.4" height="12.4" fill="#0081bf"/><rect x="12.7" y="547.7" width="12.4" height="12.4" fill="#0082be"/><rect x="24.4" y="547.7" width="12.4" height="12.4" fill="#0085bc"/><rect x="36.2" y="547.7" width="12.4" height="12.4" fill="#0087bc"/><rect x="47.9" y="547.7" width="12.4" height="12.4" fill="#0086bc"/><rect x="59.7" y="547.7" width="12.4" height="12.4" fill="#0086bc"/><rect x="71.4" y="547.7" width="12.4" height="12.4" fill="#0086bc"/><rect x="83.2" y="547.7" width="12.4" height="12.4" fill="#0089bb"/><rect x="95.0" y="547.7" width="12.4" height="12.4" fill="#008fb7"/><rect x="106.7" y="547.7" width="12.4" height="12.4" fill="#008aba"/><rect x="118.5" y="547.7" width="12.4" height="12.4" fill="#008aba"/><rect x="130.2" y="547.7" width="12.4" height="12.4" fill="#008bb9"/><rect x="142.0" y="547.7" width="12.4" height="12.4" fill="#0085bc"/><rect x="153.7" y="547.7" width="12.4" height="12.4" fill="#0084bd"/><rect x="165.5" y="547.7" width="12.4" height="12.4" fill="#0086bc"/><rect x="177.2" y="547.7" width="12.4" height="12.4" fill="#0089bb"/><rect x="189.0" y="547.7" width="12.4" height="12.4" fill="#008cb9"/><rect x="200.8" y="547.7" width="12.4" height="12.4" fill="#008cb9"/><rect x="212.5" y="547.7" width="12.4" height="12.4" fill="#0088bb"/><rect x="224.3" y="547.7" width="12.4" height="12.4" fill="#008aba"/><rect x="236.0" y="547.7" width="12.4" height="12.4" fill="#0091b6"/><rect x="247.8" y="547.7" width="12.4" height="12.4" fill="#0089ba"/><rect x="259.5" y="547.7" width="12.4" height="12.4" fill="#0082be"/><rect x="271.3" y="547.7" width="12.4" height="12.4" fill="#0080bf"/><rect x="283.1" y="547.7" width="12.4" height="12.4" fill="#007fbf"/><rect x="294.8" y="547.7" width="12.4" height="12.4" fill="#007dc0"/><rect x="306.6" y="547.7" width="12.4" height="12.4" fill="#007bc2"/><rect x="318.3" y="547.7" width="12.4" height="12.4" fill="#0080bf"/><rect x="330.1" y="547.7" width="12.4" height="12.4" fill="#008bba"/><rect x="341.8" y="547.7" width="12.4" height="12.4" fill="#0088bb"/><rect x="353.6" y="547.7" width="12.4" height="12.4" fill="#0086bc"/><rect x="365.3" y="547.7" width="12.4" height="12.4" fill="#0083be"/><rect x="377.1" y="547.7" width="12.4" height="12.4" fill="#0082be"/><rect x="388.9" y="547.7" width="12.4" height="12.4" fill="#0081be"/><rect x="400.6" y="547.7" width="12.4" height="12.4" fill="#0079c2"/><rect x="412.4" y="547.7" width="12.4" height="12.4" fill="#0075c4"/><rect x="424.1" y="547.7" width="12.4" height="12.4" fill="#0074c5"/><rect x="435.9" y="547.7" width="12.4" height="12.4" fill="#0074c5"/><rect x="447.6" y="547.7" width="12.4" height="12.4" fill="#0077c4"/><rect x="459.4" y="547.7" width="12.4" height="12.4" fill="#0076c4"/><rect x="471.2" y="547.7" width="12.4" height="12.4" fill="#0075c4"/><rect x="482.9" y="547.7" width="12.4" height="12.4" fill="#007ac2"/><rect x="494.7" y="547.7" width="12.4" height="12.4" fill="#007ec0"/><rect x="506.4" y="547.7" width="12.4" height="12.4" fill="#0081be"/><rect x="518.2" y="547.7" width="12.4" height="12.4" fill="#008bba"/><rect x="529.9" y="547.7" width="12.4" height="12.4" fill="#0081bf"/><rect x="541.7" y="547.7" width="12.4" height="12.4" fill="#0081be"/><rect x="553.4" y="547.7" width="12.4" height="12.4" fill="#0080bf"/><rect x="565.2" y="547.7" width="12.4" height="12.4" fill="#0080bf"/><rect x="-10.9" y="559.4" width="12.4" height="12.4" fill="#007fc0"/><rect x="0.9" y="559.4" width="12.4" height="12.4" fill="#007fc0"/><rect x="12.7" y="559.4" width="12.4" height="12.4" fill="#0081bf"/><rect x="24.4" y="559.4" width="12.4" height="12.4" fill="#0085bc"/><rect x="36.2" y="559.4" width="12.4" height="12.4" fill="#0086bc"/><rect x="47.9" y="559.4" width="12.4" height="12.4" fill="#0082be"/><rect x="59.7" y="559.4" width="12.4" height="12.4" fill="#0082be"/><rect x="71.4" y="559.4" width="12.4" height="12.4" fill="#0085bc"/><rect x="83.2" y="559.4" width="12.4" height="12.4" fill="#0089ba"/><rect x="95.0" y="559.4" width="12.4" height="12.4" fill="#008fb8"/><rect x="106.7" y="559.4" width="12.4" height="12.4" fill="#0089ba"/><rect x="118.5" y="559.4" width="12.4" height="12.4" fill="#008aba"/><rect x="130.2" y="559.4" width="12.4" height="12.4" fill="#008cb9"/><rect x="142.0" y="559.4" width="12.4" height="12.4" fill="#0086bc"/><rect x="153.7" y="559.4" width="12.4" height="12.4" fill="#0084bd"/><rect x="165.5" y="559.4" width="12.4" height="12.4" fill="#0086bc"/><rect x="177.2" y="559.4" width="12.4" height="12.4" fill="#0089ba"/><rect x="189.0" y="559.4" width="12.4" height="12.4" fill="#008eb8"/><rect x="200.8" y="559.4" width="12.4" height="12.4" fill="#008eb8"/><rect x="212.5" y="559.4" width="12.4" height="12.4" fill="#0089ba"/><rect x="224.3" y="559.4" width="12.4" height="12.4" fill="#008aba"/><rect x="236.0" y="559.4" width="12.4" height="12.4" fill="#0090b7"/><rect x="247.8" y="559.4" width="12.4" height="12.4" fill="#0088bb"/><rect x="259.5" y="559.4" width="12.4" height="12.4" fill="#0082be"/><rect x="271.3" y="559.4" width="12.4" height="12.4" fill="#0080bf"/><rect x="283.1" y="559.4" width="12.4" height="12.4" fill="#0080bf"/><rect x="294.8" y="559.4" width="12.4" height="12.4" fill="#007dc1"/><rect x="306.6" y="559.4" width="12.4" height="12.4" fill="#0078c3"/><rect x="318.3" y="559.4" width="12.4" height="12.4" fill="#007ec0"/><rect x="330.1" y="559.4" width="12.4" height="12.4" fill="#008cb9"/><rect x="341.8" y="559.4" width="12.4" height="12.4" fill="#008aba"/><rect x="353.6" y="559.4" width="12.4" height="12.4" fill="#0087bb"/><rect x="365.3" y="559.4" width="12.4" height="12.4" fill="#0083be"/><rect x="377.1" y="559.4" width="12.4" height="12.4" fill="#0080bf"/><rect x="388.9" y="559.4" width="12.4" height="12.4" fill="#0080bf"/><rect x="400.6" y="559.4" width="12.4" height="12.4" fill="#0079c3"/><rect x="412.4" y="559.4" width="12.4" height="12.4" fill="#0075c4"/><rect x="424.1" y="559.4" width="12.4" height="12.4" fill="#0074c5"/><rect x="435.9" y="559.4" width="12.4" height="12.4" fill="#0074c5"/><rect x="447.6" y="559.4" width="12.4" height="12.4" fill="#0078c3"/><rect x="459.4" y="559.4" width="12.4" height="12.4" fill="#0077c4"/><rect x="471.2" y="559.4" width="12.4" height="12.4" fill="#0074c5"/><rect x="482.9" y="559.4" width="12.4" height="12.4" fill="#0078c3"/><rect x="494.7" y="559.4" width="12.4" height="12.4" fill="#007ec0"/><rect x="506.4" y="559.4" width="12.4" height="12.4" fill="#0081bf"/><rect x="518.2" y="559.4" width="12.4" height="12.4" fill="#0089ba"/><rect x="529.9" y="559.4" width="12.4" height="12.4" fill="#0080bf"/><rect x="541.7" y="559.4" width="12.4" height="12.4" fill="#0080bf"/><rect x="553.4" y="559.4" width="12.4" height="12.4" fill="#007fbf"/><rect x="565.2" y="559.4" width="12.4" height="12.4" fill="#007fbf"/><rect x="-10.9" y="571.2" width="12.4" height="12.4" fill="#007fc0"/><rect x="0.9" y="571.2" width="12.4" height="12.4" fill="#007fc0"/><rect x="12.7" y="571.2" width="12.4" height="12.4" fill="#0081bf"/><rect x="24.4" y="571.2" width="12.4" height="12.4" fill="#0085bc"/><rect x="36.2" y="571.2" width="12.4" height="12.4" fill="#0086bc"/><rect x="47.9" y="571.2" width="12.4" height="12.4" fill="#0082be"/><rect x="59.7" y="571.2" width="12.4" height="12.4" fill="#0082be"/><rect x="71.4" y="571.2" width="12.4" height="12.4" fill="#0085bc"/><rect x="83.2" y="571.2" width="12.4" height="12.4" fill="#0089ba"/><rect x="95.0" y="571.2" width="12.4" height="12.4" fill="#008fb8"/><rect x="106.7" y="571.2" width="12.4" height="12.4" fill="#0089ba"/><rect x="118.5" y="571.2" width="12.4" height="12.4" fill="#008aba"/><rect x="130.2" y="571.2" width="12.4" height="12.4" fill="#008cb9"/><rect x="142.0" y="571.2" width="12.4" height="12.4" fill="#0086bc"/><rect x="153.7" y="571.2" width="12.4" height="12.4" fill="#0084bd"/><rect x="165.5" y="571.2" width="12.4" height="12.4" fill="#0086bc"/><rect x="177.2" y="571.2" width="12.4" height="12.4" fill="#0089ba"/><rect x="189.0" y="571.2" width="12.4" height="12.4" fill="#008eb8"/><rect x="200.8" y="571.2" width="12.4" height="12.4" fill="#008eb8"/><rect x="212.5" y="571.2" width="12.4" height="12.4" fill="#0089ba"/><rect x="224.3" y="571.2" width="12.4" height="12.4" fill="#008aba"/><rect x="236.0" y="571.2" width="12.4" height="12.4" fill="#0090b7"/><rect x="247.8" y="571.2" width="12.4" height="12.4" fill="#0088bb"/><rect x="259.5" y="571.2" width="12.4" height="12.4" fill="#0082be"/><rect x="271.3" y="571.2" width="12.4" height="12.4" fill="#0080bf"/><rect x="283.1" y="571.2" width="12.4" height="12.4" fill="#0080bf"/><rect x="294.8" y="571.2" width="12.4" height="12.4" fill="#007dc1"/><rect x="306.6" y="571.2" width="12.4" height="12.4" fill="#0078c3"/><rect x="318.3" y="571.2" width="12.4" height="12.4" fill="#007ec0"/><rect x="330.1" y="571.2" width="12.4" height="12.4" fill="#008cb9"/><rect x="341.8" y="571.2" width="12.4" height="12.4" fill="#008aba"/><rect x="353.6" y="571.2" width="12.4" height="12.4" fill="#0087bb"/><rect x="365.3" y="571.2" width="12.4" height="12.4" fill="#0083be"/><rect x="377.1" y="571.2" width="12.4" height="12.4" fill="#0080bf"/><rect x="388.9" y="571.2" width="12.4" height="12.4" fill="#0080bf"/><rect x="400.6" y="571.2" width="12.4" height="12.4" fill="#0079c3"/><rect x="412.4" y="571.2" width="12.4" height="12.4" fill="#0075c4"/><rect x="424.1" y="571.2" width="12.4" height="12.4" fill="#0074c5"/><rect x="435.9" y="571.2" width="12.4" height="12.4" fill="#0074c5"/><rect x="447.6" y="571.2" width="12.4" height="12.4" fill="#0078c3"/><rect x="459.4" y="571.2" width="12.4" height="12.4" fill="#0077c4"/><rect x="471.2" y="571.2" width="12.4" height="12.4" fill="#0074c5"/><rect x="482.9" y="571.2" width="12.4" height="12.4" fill="#0078c3"/><rect x="494.7" y="571.2" width="12.4" height="12.4" fill="#007ec0"/><rect x="506.4" y="571.2" width="12.4" height="12.4" fill="#0081bf"/><rect x="518.2" y="571.2" width="12.4" height="12.4" fill="#0089ba"/><rect x="529.9" y="571.2" width="12.4" height="12.4" fill="#0080bf"/><rect x="541.7" y="571.2" width="12.4" height="12.4" fill="#0080bf"/><rect x="553.4" y="571.2" width="12.4" height="12.4" fill="#007fbf"/><rect x="565.2" y="571.2" width="12.4" height="12.4" fill="#007fbf"/></g><defs><mask id="mp" maskUnits="userSpaceOnUse" x="0" y="0" width="683" height="572"><rect x="0.9" y="567.2" width="564.3" height="2" fill="#fff" fill-opacity="0.38"/><rect x="0.9" y="563.2" width="564.3" height="1" fill="#fff" fill-opacity="0.39"/><rect x="0.9" y="558.2" width="564.3" height="2" fill="#fff" fill-opacity="0.63"/><rect x="0.9" y="555.2" width="564.3" height="2" fill="#fff" fill-opacity="0.63"/><rect x="0.9" y="536.2" width="564.3" height="2" fill="#fff" fill-opacity="0.72"/><rect x="0.9" y="533.2" width="564.3" height="2" fill="#fff" fill-opacity="0.81"/><rect x="0.9" y="519.2" width="564.3" height="2" fill="#fff" fill-opacity="0.87"/><rect x="0.9" y="512.2" width="564.3" height="3" fill="#fff" fill-opacity="0.99"/><rect x="0.9" y="508.2" width="564.3" height="3" fill="#fff" fill-opacity="0.84"/><rect x="0.9" y="504.2" width="564.3" height="3" fill="#fff" fill-opacity="0.98"/><rect x="0.9" y="490.2" width="564.3" height="3" fill="#fff" fill-opacity="0.41"/><rect x="0.9" y="471.2" width="564.3" height="2" fill="#fff" fill-opacity="0.43"/><rect x="0.9" y="464.2" width="564.3" height="3" fill="#fff" fill-opacity="0.92"/><rect x="0.9" y="461.2" width="564.3" height="2" fill="#fff" fill-opacity="0.71"/><rect x="0.9" y="450.2" width="564.3" height="2" fill="#fff" fill-opacity="0.45"/><rect x="0.9" y="448.2" width="564.3" height="1" fill="#fff" fill-opacity="0.73"/><rect x="0.9" y="444.2" width="564.3" height="2" fill="#fff" fill-opacity="0.62"/><rect x="0.9" y="428.2" width="564.3" height="3" fill="#fff" fill-opacity="0.61"/><rect x="0.9" y="421.2" width="564.3" height="2" fill="#fff" fill-opacity="0.42"/><rect x="0.9" y="417.2" width="564.3" height="1" fill="#fff" fill-opacity="0.72"/><rect x="0.9" y="398.2" width="564.3" height="2" fill="#fff" fill-opacity="0.42"/><rect x="0.9" y="394.2" width="564.3" height="2" fill="#fff" fill-opacity="0.80"/><rect x="0.9" y="390.2" width="564.3" height="1" fill="#fff" fill-opacity="0.97"/><rect x="0.9" y="376.2" width="564.3" height="3" fill="#fff" fill-opacity="0.46"/><rect x="0.9" y="352.2" width="564.3" height="2" fill="#fff" fill-opacity="0.42"/><rect x="0.9" y="348.2" width="564.3" height="2" fill="#fff" fill-opacity="0.66"/><rect x="0.9" y="344.2" width="564.3" height="1" fill="#fff" fill-opacity="0.77"/><rect x="0.9" y="330.2" width="564.3" height="3" fill="#fff" fill-opacity="0.97"/><rect x="0.9" y="309.2" width="564.3" height="3" fill="#fff" fill-opacity="0.36"/><rect x="0.9" y="302.2" width="564.3" height="2" fill="#fff" fill-opacity="0.49"/><rect x="0.9" y="276.2" width="564.3" height="3" fill="#fff" fill-opacity="0.68"/><rect x="0.9" y="269.2" width="564.3" height="2" fill="#fff" fill-opacity="0.75"/><rect x="0.9" y="265.2" width="564.3" height="3" fill="#fff" fill-opacity="0.79"/><rect x="0.9" y="259.2" width="564.3" height="3" fill="#fff" fill-opacity="0.85"/><rect x="0.9" y="255.2" width="564.3" height="1" fill="#fff" fill-opacity="0.53"/><rect x="0.9" y="251.2" width="564.3" height="3" fill="#fff" fill-opacity="0.37"/><rect x="0.9" y="247.2" width="564.3" height="3" fill="#fff" fill-opacity="0.98"/><rect x="0.9" y="241.2" width="564.3" height="3" fill="#fff" fill-opacity="0.53"/><rect x="0.9" y="222.2" width="564.3" height="2" fill="#fff" fill-opacity="0.61"/><rect x="0.9" y="213.2" width="564.3" height="2" fill="#fff" fill-opacity="0.92"/><rect x="0.9" y="197.2" width="564.3" height="2" fill="#fff" fill-opacity="0.41"/><rect x="0.9" y="194.2" width="564.3" height="1" fill="#fff" fill-opacity="0.65"/><rect x="0.9" y="190.2" width="564.3" height="3" fill="#fff" fill-opacity="0.76"/><rect x="0.9" y="186.2" width="564.3" height="1" fill="#fff" fill-opacity="0.95"/><rect x="0.9" y="184.2" width="564.3" height="1" fill="#fff" fill-opacity="0.53"/><rect x="0.9" y="176.2" width="564.3" height="3" fill="#fff" fill-opacity="0.95"/><rect x="0.9" y="167.2" width="564.3" height="2" fill="#fff" fill-opacity="0.40"/><rect x="0.9" y="163.2" width="564.3" height="1" fill="#fff" fill-opacity="0.43"/><rect x="0.9" y="155.2" width="564.3" height="3" fill="#fff" fill-opacity="0.69"/><rect x="0.9" y="145.2" width="564.3" height="2" fill="#fff" fill-opacity="0.68"/><rect x="0.9" y="142.2" width="564.3" height="2" fill="#fff" fill-opacity="0.36"/><rect x="0.9" y="139.2" width="564.3" height="1" fill="#fff" fill-opacity="0.83"/><rect x="0.9" y="111.2" width="564.3" height="1" fill="#fff" fill-opacity="0.83"/><rect x="0.9" y="106.2" width="564.3" height="3" fill="#fff" fill-opacity="0.40"/><rect x="0.9" y="98.2" width="564.3" height="2" fill="#fff" fill-opacity="0.47"/><rect x="0.9" y="93.2" width="564.3" height="3" fill="#fff" fill-opacity="0.59"/><rect x="0.9" y="88.2" width="564.3" height="3" fill="#fff" fill-opacity="0.37"/><rect x="0.9" y="84.2" width="564.3" height="2" fill="#fff" fill-opacity="0.35"/><rect x="0.9" y="81.2" width="564.3" height="1" fill="#fff" fill-opacity="0.68"/><rect x="0.9" y="75.2" width="564.3" height="1" fill="#fff" fill-opacity="0.73"/><rect x="0.9" y="72.2" width="564.3" height="1" fill="#fff" fill-opacity="0.76"/><rect x="0.9" y="64.2" width="564.3" height="3" fill="#fff" fill-opacity="0.56"/><rect x="0.9" y="60.2" width="564.3" height="2" fill="#fff" fill-opacity="0.75"/><rect x="0.9" y="42.2" width="564.3" height="1" fill="#fff" fill-opacity="0.44"/><rect x="0.9" y="39.2" width="564.3" height="1" fill="#fff" fill-opacity="0.64"/><rect x="0.9" y="33.2" width="564.3" height="2" fill="#fff" fill-opacity="0.87"/><rect x="0.9" y="27.2" width="564.3" height="3" fill="#fff" fill-opacity="0.69"/><rect x="0.9" y="20.2" width="564.3" height="2" fill="#fff" fill-opacity="0.77"/><rect x="0.9" y="8.2" width="564.3" height="3" fill="#fff" fill-opacity="0.52"/></mask><mask id="mn" maskUnits="userSpaceOnUse" x="0" y="0" width="683" height="572"><rect x="0.9" y="551.2" width="564.3" height="1" fill="#fff" fill-opacity="0.76"/><rect x="0.9" y="547.2" width="564.3" height="1" fill="#fff" fill-opacity="0.61"/><rect x="0.9" y="545.2" width="564.3" height="1" fill="#fff" fill-opacity="0.44"/><rect x="0.9" y="541.2" width="564.3" height="2" fill="#fff" fill-opacity="0.72"/><rect x="0.9" y="529.2" width="564.3" height="1" fill="#fff" fill-opacity="0.67"/><rect x="0.9" y="523.2" width="564.3" height="3" fill="#fff" fill-opacity="0.65"/><rect x="0.9" y="517.2" width="564.3" height="1" fill="#fff" fill-opacity="0.69"/><rect x="0.9" y="500.2" width="564.3" height="3" fill="#fff" fill-opacity="0.92"/><rect x="0.9" y="496.2" width="564.3" height="2" fill="#fff" fill-opacity="0.74"/><rect x="0.9" y="485.2" width="564.3" height="3" fill="#fff" fill-opacity="0.39"/><rect x="0.9" y="480.2" width="564.3" height="3" fill="#fff" fill-opacity="0.88"/><rect x="0.9" y="475.2" width="564.3" height="3" fill="#fff" fill-opacity="0.58"/><rect x="0.9" y="468.2" width="564.3" height="2" fill="#fff" fill-opacity="0.43"/><rect x="0.9" y="457.2" width="564.3" height="3" fill="#fff" fill-opacity="0.53"/><rect x="0.9" y="453.2" width="564.3" height="2" fill="#fff" fill-opacity="0.60"/><rect x="0.9" y="439.2" width="564.3" height="3" fill="#fff" fill-opacity="0.97"/><rect x="0.9" y="433.2" width="564.3" height="3" fill="#fff" fill-opacity="0.83"/><rect x="0.9" y="424.2" width="564.3" height="3" fill="#fff" fill-opacity="0.39"/><rect x="0.9" y="413.2" width="564.3" height="1" fill="#fff" fill-opacity="0.75"/><rect x="0.9" y="410.2" width="564.3" height="2" fill="#fff" fill-opacity="0.45"/><rect x="0.9" y="406.2" width="564.3" height="2" fill="#fff" fill-opacity="0.66"/><rect x="0.9" y="402.2" width="564.3" height="3" fill="#fff" fill-opacity="0.65"/><rect x="0.9" y="386.2" width="564.3" height="2" fill="#fff" fill-opacity="0.94"/><rect x="0.9" y="381.2" width="564.3" height="2" fill="#fff" fill-opacity="0.91"/><rect x="0.9" y="372.2" width="564.3" height="3" fill="#fff" fill-opacity="0.68"/><rect x="0.9" y="368.2" width="564.3" height="3" fill="#fff" fill-opacity="0.99"/><rect x="0.9" y="365.2" width="564.3" height="2" fill="#fff" fill-opacity="0.83"/><rect x="0.9" y="362.2" width="564.3" height="2" fill="#fff" fill-opacity="0.58"/><rect x="0.9" y="360.2" width="564.3" height="1" fill="#fff" fill-opacity="0.66"/><rect x="0.9" y="356.2" width="564.3" height="3" fill="#fff" fill-opacity="0.64"/><rect x="0.9" y="342.2" width="564.3" height="1" fill="#fff" fill-opacity="0.86"/><rect x="0.9" y="338.2" width="564.3" height="3" fill="#fff" fill-opacity="0.63"/><rect x="0.9" y="335.2" width="564.3" height="1" fill="#fff" fill-opacity="0.98"/><rect x="0.9" y="327.2" width="564.3" height="2" fill="#fff" fill-opacity="0.37"/><rect x="0.9" y="321.2" width="564.3" height="3" fill="#fff" fill-opacity="0.45"/><rect x="0.9" y="315.2" width="564.3" height="3" fill="#fff" fill-opacity="0.58"/><rect x="0.9" y="305.2" width="564.3" height="3" fill="#fff" fill-opacity="0.44"/><rect x="0.9" y="297.2" width="564.3" height="2" fill="#fff" fill-opacity="0.56"/><rect x="0.9" y="291.2" width="564.3" height="3" fill="#fff" fill-opacity="0.39"/><rect x="0.9" y="286.2" width="564.3" height="3" fill="#fff" fill-opacity="0.88"/><rect x="0.9" y="280.2" width="564.3" height="3" fill="#fff" fill-opacity="0.92"/><rect x="0.9" y="272.2" width="564.3" height="2" fill="#fff" fill-opacity="0.85"/><rect x="0.9" y="235.2" width="564.3" height="3" fill="#fff" fill-opacity="0.68"/><rect x="0.9" y="231.2" width="564.3" height="3" fill="#fff" fill-opacity="0.96"/><rect x="0.9" y="226.2" width="564.3" height="3" fill="#fff" fill-opacity="0.48"/><rect x="0.9" y="219.2" width="564.3" height="1" fill="#fff" fill-opacity="0.63"/><rect x="0.9" y="216.2" width="564.3" height="2" fill="#fff" fill-opacity="0.93"/><rect x="0.9" y="209.2" width="564.3" height="2" fill="#fff" fill-opacity="0.41"/><rect x="0.9" y="205.2" width="564.3" height="2" fill="#fff" fill-opacity="0.89"/><rect x="0.9" y="201.2" width="564.3" height="3" fill="#fff" fill-opacity="0.61"/><rect x="0.9" y="181.2" width="564.3" height="2" fill="#fff" fill-opacity="0.88"/><rect x="0.9" y="170.2" width="564.3" height="3" fill="#fff" fill-opacity="0.41"/><rect x="0.9" y="165.2" width="564.3" height="1" fill="#fff" fill-opacity="0.40"/><rect x="0.9" y="160.2" width="564.3" height="2" fill="#fff" fill-opacity="0.62"/><rect x="0.9" y="153.2" width="564.3" height="1" fill="#fff" fill-opacity="0.52"/><rect x="0.9" y="150.2" width="564.3" height="2" fill="#fff" fill-opacity="0.76"/><rect x="0.9" y="134.2" width="564.3" height="2" fill="#fff" fill-opacity="0.51"/><rect x="0.9" y="131.2" width="564.3" height="1" fill="#fff" fill-opacity="0.77"/><rect x="0.9" y="126.2" width="564.3" height="3" fill="#fff" fill-opacity="0.61"/><rect x="0.9" y="121.2" width="564.3" height="2" fill="#fff" fill-opacity="0.99"/><rect x="0.9" y="117.2" width="564.3" height="2" fill="#fff" fill-opacity="0.81"/><rect x="0.9" y="113.2" width="564.3" height="3" fill="#fff" fill-opacity="0.99"/><rect x="0.9" y="101.2" width="564.3" height="3" fill="#fff" fill-opacity="0.53"/><rect x="0.9" y="78.2" width="564.3" height="2" fill="#fff" fill-opacity="0.35"/><rect x="0.9" y="68.2" width="564.3" height="3" fill="#fff" fill-opacity="0.90"/><rect x="0.9" y="58.2" width="564.3" height="1" fill="#fff" fill-opacity="0.81"/><rect x="0.9" y="52.2" width="564.3" height="3" fill="#fff" fill-opacity="0.88"/><rect x="0.9" y="48.2" width="564.3" height="3" fill="#fff" fill-opacity="0.72"/><rect x="0.9" y="44.2" width="564.3" height="3" fill="#fff" fill-opacity="0.81"/><rect x="0.9" y="37.2" width="564.3" height="1" fill="#fff" fill-opacity="0.79"/><rect x="0.9" y="23.2" width="564.3" height="2" fill="#fff" fill-opacity="0.90"/><rect x="0.9" y="15.2" width="564.3" height="3" fill="#fff" fill-opacity="0.40"/><rect x="0.9" y="12.2" width="564.3" height="1" fill="#fff" fill-opacity="0.77"/></mask></defs><g opacity="0.900" shape-rendering="crispEdges"><g fill="#00ff80"><g mask="url(#mp)"><rect x="2.9" y="6.8" width="2" height="564.5" fill-opacity="0.38"/><rect x="7.9" y="6.8" width="1" height="564.5" fill-opacity="0.39"/><rect x="11.9" y="6.8" width="2" height="564.5" fill-opacity="0.63"/><rect x="14.9" y="6.8" width="2" height="564.5" fill-opacity="0.63"/><rect x="33.9" y="6.8" width="2" height="564.5" fill-opacity="0.72"/><rect x="36.9" y="6.8" width="2" height="564.5" fill-opacity="0.81"/><rect x="50.9" y="6.8" width="2" height="564.5" fill-opacity="0.87"/><rect x="56.9" y="6.8" width="3" height="564.5" fill-opacity="0.99"/><rect x="60.9" y="6.8" width="3" height="564.5" fill-opacity="0.84"/><rect x="64.9" y="6.8" width="3" height="564.5" fill-opacity="0.98"/><rect x="78.9" y="6.8" width="3" height="564.5" fill-opacity="0.41"/><rect x="98.9" y="6.8" width="2" height="564.5" fill-opacity="0.43"/><rect x="104.9" y="6.8" width="3" height="564.5" fill-opacity="0.92"/><rect x="108.9" y="6.8" width="2" height="564.5" fill-opacity="0.71"/><rect x="119.9" y="6.8" width="2" height="564.5" fill-opacity="0.45"/><rect x="122.9" y="6.8" width="1" height="564.5" fill-opacity="0.73"/><rect x="125.9" y="6.8" width="2" height="564.5" fill-opacity="0.62"/><rect x="140.9" y="6.8" width="3" height="564.5" fill-opacity="0.61"/><rect x="148.9" y="6.8" width="2" height="564.5" fill-opacity="0.42"/><rect x="153.9" y="6.8" width="1" height="564.5" fill-opacity="0.72"/><rect x="171.9" y="6.8" width="2" height="564.5" fill-opacity="0.42"/><rect x="175.9" y="6.8" width="2" height="564.5" fill-opacity="0.80"/><rect x="180.9" y="6.8" width="1" height="564.5" fill-opacity="0.97"/><rect x="192.9" y="6.8" width="3" height="564.5" fill-opacity="0.46"/><rect x="217.9" y="6.8" width="2" height="564.5" fill-opacity="0.42"/><rect x="221.9" y="6.8" width="2" height="564.5" fill-opacity="0.66"/><rect x="226.9" y="6.8" width="1" height="564.5" fill-opacity="0.77"/><rect x="238.9" y="6.8" width="3" height="564.5" fill-opacity="0.97"/><rect x="259.9" y="6.8" width="3" height="564.5" fill-opacity="0.36"/><rect x="267.9" y="6.8" width="2" height="564.5" fill-opacity="0.49"/><rect x="292.9" y="6.8" width="3" height="564.5" fill-opacity="0.68"/><rect x="300.9" y="6.8" width="2" height="564.5" fill-opacity="0.75"/><rect x="303.9" y="6.8" width="3" height="564.5" fill-opacity="0.79"/><rect x="309.9" y="6.8" width="3" height="564.5" fill-opacity="0.85"/><rect x="315.9" y="6.8" width="1" height="564.5" fill-opacity="0.53"/><rect x="317.9" y="6.8" width="3" height="564.5" fill-opacity="0.37"/><rect x="321.9" y="6.8" width="3" height="564.5" fill-opacity="0.98"/><rect x="327.9" y="6.8" width="3" height="564.5" fill-opacity="0.53"/><rect x="347.9" y="6.8" width="2" height="564.5" fill-opacity="0.61"/><rect x="356.9" y="6.8" width="2" height="564.5" fill-opacity="0.92"/><rect x="372.9" y="6.8" width="2" height="564.5" fill-opacity="0.41"/><rect x="376.9" y="6.8" width="1" height="564.5" fill-opacity="0.65"/><rect x="378.9" y="6.8" width="3" height="564.5" fill-opacity="0.76"/><rect x="384.9" y="6.8" width="1" height="564.5" fill-opacity="0.95"/><rect x="386.9" y="6.8" width="1" height="564.5" fill-opacity="0.53"/><rect x="392.9" y="6.8" width="3" height="564.5" fill-opacity="0.95"/><rect x="402.9" y="6.8" width="2" height="564.5" fill-opacity="0.40"/><rect x="407.9" y="6.8" width="1" height="564.5" fill-opacity="0.43"/><rect x="413.9" y="6.8" width="3" height="564.5" fill-opacity="0.69"/><rect x="424.9" y="6.8" width="2" height="564.5" fill-opacity="0.68"/><rect x="427.9" y="6.8" width="2" height="564.5" fill-opacity="0.36"/><rect x="431.9" y="6.8" width="1" height="564.5" fill-opacity="0.83"/><rect x="459.9" y="6.8" width="1" height="564.5" fill-opacity="0.83"/><rect x="462.9" y="6.8" width="3" height="564.5" fill-opacity="0.40"/><rect x="471.9" y="6.8" width="2" height="564.5" fill-opacity="0.47"/><rect x="475.9" y="6.8" width="3" height="564.5" fill-opacity="0.59"/><rect x="480.9" y="6.8" width="3" height="564.5" fill-opacity="0.37"/><rect x="485.9" y="6.8" width="2" height="564.5" fill-opacity="0.35"/><rect x="489.9" y="6.8" width="1" height="564.5" fill-opacity="0.68"/><rect x="495.9" y="6.8" width="1" height="564.5" fill-opacity="0.73"/><rect x="498.9" y="6.8" width="1" height="564.5" fill-opacity="0.76"/><rect x="504.9" y="6.8" width="3" height="564.5" fill-opacity="0.56"/><rect x="509.9" y="6.8" width="2" height="564.5" fill-opacity="0.75"/><rect x="528.9" y="6.8" width="1" height="564.5" fill-opacity="0.44"/><rect x="531.9" y="6.8" width="1" height="564.5" fill-opacity="0.64"/><rect x="536.9" y="6.8" width="2" height="564.5" fill-opacity="0.87"/><rect x="541.9" y="6.8" width="3" height="564.5" fill-opacity="0.69"/><rect x="549.9" y="6.8" width="2" height="564.5" fill-opacity="0.77"/><rect x="560.9" y="6.8" width="3" height="564.5" fill-opacity="0.52"/></g><g mask="url(#mn)"><rect x="19.9" y="6.8" width="1" height="564.5" fill-opacity="0.76"/><rect x="23.9" y="6.8" width="1" height="564.5" fill-opacity="0.61"/><rect x="25.9" y="6.8" width="1" height="564.5" fill-opacity="0.44"/><rect x="28.9" y="6.8" width="2" height="564.5" fill-opacity="0.72"/><rect x="41.9" y="6.8" width="1" height="564.5" fill-opacity="0.67"/><rect x="45.9" y="6.8" width="3" height="564.5" fill-opacity="0.65"/><rect x="53.9" y="6.8" width="1" height="564.5" fill-opacity="0.69"/><rect x="68.9" y="6.8" width="3" height="564.5" fill-opacity="0.92"/><rect x="73.9" y="6.8" width="2" height="564.5" fill-opacity="0.74"/><rect x="83.9" y="6.8" width="3" height="564.5" fill-opacity="0.39"/><rect x="88.9" y="6.8" width="3" height="564.5" fill-opacity="0.88"/><rect x="93.9" y="6.8" width="3" height="564.5" fill-opacity="0.58"/><rect x="101.9" y="6.8" width="2" height="564.5" fill-opacity="0.43"/><rect x="111.9" y="6.8" width="3" height="564.5" fill-opacity="0.53"/><rect x="116.9" y="6.8" width="2" height="564.5" fill-opacity="0.60"/><rect x="129.9" y="6.8" width="3" height="564.5" fill-opacity="0.97"/><rect x="135.9" y="6.8" width="3" height="564.5" fill-opacity="0.83"/><rect x="144.9" y="6.8" width="3" height="564.5" fill-opacity="0.39"/><rect x="157.9" y="6.8" width="1" height="564.5" fill-opacity="0.75"/><rect x="159.9" y="6.8" width="2" height="564.5" fill-opacity="0.45"/><rect x="163.9" y="6.8" width="2" height="564.5" fill-opacity="0.66"/><rect x="166.9" y="6.8" width="3" height="564.5" fill-opacity="0.65"/><rect x="183.9" y="6.8" width="2" height="564.5" fill-opacity="0.94"/><rect x="188.9" y="6.8" width="2" height="564.5" fill-opacity="0.91"/><rect x="196.9" y="6.8" width="3" height="564.5" fill-opacity="0.68"/><rect x="200.9" y="6.8" width="3" height="564.5" fill-opacity="0.99"/><rect x="204.9" y="6.8" width="2" height="564.5" fill-opacity="0.83"/><rect x="207.9" y="6.8" width="2" height="564.5" fill-opacity="0.58"/><rect x="210.9" y="6.8" width="1" height="564.5" fill-opacity="0.66"/><rect x="212.9" y="6.8" width="3" height="564.5" fill-opacity="0.64"/><rect x="228.9" y="6.8" width="1" height="564.5" fill-opacity="0.86"/><rect x="230.9" y="6.8" width="3" height="564.5" fill-opacity="0.63"/><rect x="235.9" y="6.8" width="1" height="564.5" fill-opacity="0.98"/><rect x="242.9" y="6.8" width="2" height="564.5" fill-opacity="0.37"/><rect x="247.9" y="6.8" width="3" height="564.5" fill-opacity="0.45"/><rect x="253.9" y="6.8" width="3" height="564.5" fill-opacity="0.58"/><rect x="263.9" y="6.8" width="3" height="564.5" fill-opacity="0.44"/><rect x="272.9" y="6.8" width="2" height="564.5" fill-opacity="0.56"/><rect x="277.9" y="6.8" width="3" height="564.5" fill-opacity="0.39"/><rect x="282.9" y="6.8" width="3" height="564.5" fill-opacity="0.88"/><rect x="288.9" y="6.8" width="3" height="564.5" fill-opacity="0.92"/><rect x="297.9" y="6.8" width="2" height="564.5" fill-opacity="0.85"/><rect x="333.9" y="6.8" width="3" height="564.5" fill-opacity="0.68"/><rect x="337.9" y="6.8" width="3" height="564.5" fill-opacity="0.96"/><rect x="342.9" y="6.8" width="3" height="564.5" fill-opacity="0.48"/><rect x="351.9" y="6.8" width="1" height="564.5" fill-opacity="0.63"/><rect x="353.9" y="6.8" width="2" height="564.5" fill-opacity="0.93"/><rect x="360.9" y="6.8" width="2" height="564.5" fill-opacity="0.41"/><rect x="364.9" y="6.8" width="2" height="564.5" fill-opacity="0.89"/><rect x="367.9" y="6.8" width="3" height="564.5" fill-opacity="0.61"/><rect x="388.9" y="6.8" width="2" height="564.5" fill-opacity="0.88"/><rect x="398.9" y="6.8" width="3" height="564.5" fill-opacity="0.41"/><rect x="405.9" y="6.8" width="1" height="564.5" fill-opacity="0.40"/><rect x="409.9" y="6.8" width="2" height="564.5" fill-opacity="0.62"/><rect x="417.9" y="6.8" width="1" height="564.5" fill-opacity="0.52"/><rect x="419.9" y="6.8" width="2" height="564.5" fill-opacity="0.76"/><rect x="435.9" y="6.8" width="2" height="564.5" fill-opacity="0.51"/><rect x="439.9" y="6.8" width="1" height="564.5" fill-opacity="0.77"/><rect x="442.9" y="6.8" width="3" height="564.5" fill-opacity="0.61"/><rect x="448.9" y="6.8" width="2" height="564.5" fill-opacity="0.99"/><rect x="452.9" y="6.8" width="2" height="564.5" fill-opacity="0.81"/><rect x="455.9" y="6.8" width="3" height="564.5" fill-opacity="0.99"/><rect x="467.9" y="6.8" width="3" height="564.5" fill-opacity="0.53"/><rect x="491.9" y="6.8" width="2" height="564.5" fill-opacity="0.35"/><rect x="500.9" y="6.8" width="3" height="564.5" fill-opacity="0.90"/><rect x="512.9" y="6.8" width="1" height="564.5" fill-opacity="0.81"/><rect x="516.9" y="6.8" width="3" height="564.5" fill-opacity="0.88"/><rect x="520.9" y="6.8" width="3" height="564.5" fill-opacity="0.72"/><rect x="524.9" y="6.8" width="3" height="564.5" fill-opacity="0.81"/><rect x="533.9" y="6.8" width="1" height="564.5" fill-opacity="0.79"/><rect x="546.9" y="6.8" width="2" height="564.5" fill-opacity="0.90"/><rect x="553.9" y="6.8" width="3" height="564.5" fill-opacity="0.40"/><rect x="558.9" y="6.8" width="1" height="564.5" fill-opacity="0.77"/></g></g><g fill="#0000ff"><g mask="url(#mn)"><rect x="2.9" y="6.8" width="2" height="564.5" fill-opacity="0.38"/><rect x="7.9" y="6.8" width="1" height="564.5" fill-opacity="0.39"/><rect x="11.9" y="6.8" width="2" height="564.5" fill-opacity="0.63"/><rect x="14.9" y="6.8" width="2" height="564.5" fill-opacity="0.63"/><rect x="33.9" y="6.8" width="2" height="564.5" fill-opacity="0.72"/><rect x="36.9" y="6.8" width="2" height="564.5" fill-opacity="0.81"/><rect x="50.9" y="6.8" width="2" height="564.5" fill-opacity="0.87"/><rect x="56.9" y="6.8" width="3" height="564.5" fill-opacity="0.99"/><rect x="60.9" y="6.8" width="3" height="564.5" fill-opacity="0.84"/><rect x="64.9" y="6.8" width="3" height="564.5" fill-opacity="0.98"/><rect x="78.9" y="6.8" width="3" height="564.5" fill-opacity="0.41"/><rect x="98.9" y="6.8" width="2" height="564.5" fill-opacity="0.43"/><rect x="104.9" y="6.8" width="3" height="564.5" fill-opacity="0.92"/><rect x="108.9" y="6.8" width="2" height="564.5" fill-opacity="0.71"/><rect x="119.9" y="6.8" width="2" height="564.5" fill-opacity="0.45"/><rect x="122.9" y="6.8" width="1" height="564.5" fill-opacity="0.73"/><rect x="125.9" y="6.8" width="2" height="564.5" fill-opacity="0.62"/><rect x="140.9" y="6.8" width="3" height="564.5" fill-opacity="0.61"/><rect x="148.9" y="6.8" width="2" height="564.5" fill-opacity="0.42"/><rect x="153.9" y="6.8" width="1" height="564.5" fill-opacity="0.72"/><rect x="171.9" y="6.8" width="2" height="564.5" fill-opacity="0.42"/><rect x="175.9" y="6.8" width="2" height="564.5" fill-opacity="0.80"/><rect x="180.9" y="6.8" width="1" height="564.5" fill-opacity="0.97"/><rect x="192.9" y="6.8" width="3" height="564.5" fill-opacity="0.46"/><rect x="217.9" y="6.8" width="2" height="564.5" fill-opacity="0.42"/><rect x="221.9" y="6.8" width="2" height="564.5" fill-opacity="0.66"/><rect x="226.9" y="6.8" width="1" height="564.5" fill-opacity="0.77"/><rect x="238.9" y="6.8" width="3" height="564.5" fill-opacity="0.97"/><rect x="259.9" y="6.8" width="3" height="564.5" fill-opacity="0.36"/><rect x="267.9" y="6.8" width="2" height="564.5" fill-opacity="0.49"/><rect x="292.9" y="6.8" width="3" height="564.5" fill-opacity="0.68"/><rect x="300.9" y="6.8" width="2" height="564.5" fill-opacity="0.75"/><rect x="303.9" y="6.8" width="3" height="564.5" fill-opacity="0.79"/><rect x="309.9" y="6.8" width="3" height="564.5" fill-opacity="0.85"/><rect x="315.9" y="6.8" width="1" height="564.5" fill-opacity="0.53"/><rect x="317.9" y="6.8" width="3" height="564.5" fill-opacity="0.37"/><rect x="321.9" y="6.8" width="3" height="564.5" fill-opacity="0.98"/><rect x="327.9" y="6.8" width="3" height="564.5" fill-opacity="0.53"/><rect x="347.9" y="6.8" width="2" height="564.5" fill-opacity="0.61"/><rect x="356.9" y="6.8" width="2" height="564.5" fill-opacity="0.92"/><rect x="372.9" y="6.8" width="2" height="564.5" fill-opacity="0.41"/><rect x="376.9" y="6.8" width="1" height="564.5" fill-opacity="0.65"/><rect x="378.9" y="6.8" width="3" height="564.5" fill-opacity="0.76"/><rect x="384.9" y="6.8" width="1" height="564.5" fill-opacity="0.95"/><rect x="386.9" y="6.8" width="1" height="564.5" fill-opacity="0.53"/><rect x="392.9" y="6.8" width="3" height="564.5" fill-opacity="0.95"/><rect x="402.9" y="6.8" width="2" height="564.5" fill-opacity="0.40"/><rect x="407.9" y="6.8" width="1" height="564.5" fill-opacity="0.43"/><rect x="413.9" y="6.8" width="3" height="564.5" fill-opacity="0.69"/><rect x="424.9" y="6.8" width="2" height="564.5" fill-opacity="0.68"/><rect x="427.9" y="6.8" width="2" height="564.5" fill-opacity="0.36"/><rect x="431.9" y="6.8" width="1" height="564.5" fill-opacity="0.83"/><rect x="459.9" y="6.8" width="1" height="564.5" fill-opacity="0.83"/><rect x="462.9" y="6.8" width="3" height="564.5" fill-opacity="0.40"/><rect x="471.9" y="6.8" width="2" height="564.5" fill-opacity="0.47"/><rect x="475.9" y="6.8" width="3" height="564.5" fill-opacity="0.59"/><rect x="480.9" y="6.8" width="3" height="564.5" fill-opacity="0.37"/><rect x="485.9" y="6.8" width="2" height="564.5" fill-opacity="0.35"/><rect x="489.9" y="6.8" width="1" height="564.5" fill-opacity="0.68"/><rect x="495.9" y="6.8" width="1" height="564.5" fill-opacity="0.73"/><rect x="498.9" y="6.8" width="1" height="564.5" fill-opacity="0.76"/><rect x="504.9" y="6.8" width="3" height="564.5" fill-opacity="0.56"/><rect x="509.9" y="6.8" width="2" height="564.5" fill-opacity="0.75"/><rect x="528.9" y="6.8" width="1" height="564.5" fill-opacity="0.44"/><rect x="531.9" y="6.8" width="1" height="564.5" fill-opacity="0.64"/><rect x="536.9" y="6.8" width="2" height="564.5" fill-opacity="0.87"/><rect x="541.9" y="6.8" width="3" height="564.5" fill-opacity="0.69"/><rect x="549.9" y="6.8" width="2" height="564.5" fill-opacity="0.77"/><rect x="560.9" y="6.8" width="3" height="564.5" fill-opacity="0.52"/></g><g mask="url(#mp)"><rect x="19.9" y="6.8" width="1" height="564.5" fill-opacity="0.76"/><rect x="23.9" y="6.8" width="1" height="564.5" fill-opacity="0.61"/><rect x="25.9" y="6.8" width="1" height="564.5" fill-opacity="0.44"/><rect x="28.9" y="6.8" width="2" height="564.5" fill-opacity="0.72"/><rect x="41.9" y="6.8" width="1" height="564.5" fill-opacity="0.67"/><rect x="45.9" y="6.8" width="3" height="564.5" fill-opacity="0.65"/><rect x="53.9" y="6.8" width="1" height="564.5" fill-opacity="0.69"/><rect x="68.9" y="6.8" width="3" height="564.5" fill-opacity="0.92"/><rect x="73.9" y="6.8" width="2" height="564.5" fill-opacity="0.74"/><rect x="83.9" y="6.8" width="3" height="564.5" fill-opacity="0.39"/><rect x="88.9" y="6.8" width="3" height="564.5" fill-opacity="0.88"/><rect x="93.9" y="6.8" width="3" height="564.5" fill-opacity="0.58"/><rect x="101.9" y="6.8" width="2" height="564.5" fill-opacity="0.43"/><rect x="111.9" y="6.8" width="3" height="564.5" fill-opacity="0.53"/><rect x="116.9" y="6.8" width="2" height="564.5" fill-opacity="0.60"/><rect x="129.9" y="6.8" width="3" height="564.5" fill-opacity="0.97"/><rect x="135.9" y="6.8" width="3" height="564.5" fill-opacity="0.83"/><rect x="144.9" y="6.8" width="3" height="564.5" fill-opacity="0.39"/><rect x="157.9" y="6.8" width="1" height="564.5" fill-opacity="0.75"/><rect x="159.9" y="6.8" width="2" height="564.5" fill-opacity="0.45"/><rect x="163.9" y="6.8" width="2" height="564.5" fill-opacity="0.66"/><rect x="166.9" y="6.8" width="3" height="564.5" fill-opacity="0.65"/><rect x="183.9" y="6.8" width="2" height="564.5" fill-opacity="0.94"/><rect x="188.9" y="6.8" width="2" height="564.5" fill-opacity="0.91"/><rect x="196.9" y="6.8" width="3" height="564.5" fill-opacity="0.68"/><rect x="200.9" y="6.8" width="3" height="564.5" fill-opacity="0.99"/><rect x="204.9" y="6.8" width="2" height="564.5" fill-opacity="0.83"/><rect x="207.9" y="6.8" width="2" height="564.5" fill-opacity="0.58"/><rect x="210.9" y="6.8" width="1" height="564.5" fill-opacity="0.66"/><rect x="212.9" y="6.8" width="3" height="564.5" fill-opacity="0.64"/><rect x="228.9" y="6.8" width="1" height="564.5" fill-opacity="0.86"/><rect x="230.9" y="6.8" width="3" height="564.5" fill-opacity="0.63"/><rect x="235.9" y="6.8" width="1" height="564.5" fill-opacity="0.98"/><rect x="242.9" y="6.8" width="2" height="564.5" fill-opacity="0.37"/><rect x="247.9" y="6.8" width="3" height="564.5" fill-opacity="0.45"/><rect x="253.9" y="6.8" width="3" height="564.5" fill-opacity="0.58"/><rect x="263.9" y="6.8" width="3" height="564.5" fill-opacity="0.44"/><rect x="272.9" y="6.8" width="2" height="564.5" fill-opacity="0.56"/><rect x="277.9" y="6.8" width="3" height="564.5" fill-opacity="0.39"/><rect x="282.9" y="6.8" width="3" height="564.5" fill-opacity="0.88"/><rect x="288.9" y="6.8" width="3" height="564.5" fill-opacity="0.92"/><rect x="297.9" y="6.8" width="2" height="564.5" fill-opacity="0.85"/><rect x="333.9" y="6.8" width="3" height="564.5" fill-opacity="0.68"/><rect x="337.9" y="6.8" width="3" height="564.5" fill-opacity="0.96"/><rect x="342.9" y="6.8" width="3" height="564.5" fill-opacity="0.48"/><rect x="351.9" y="6.8" width="1" height="564.5" fill-opacity="0.63"/><rect x="353.9" y="6.8" width="2" height="564.5" fill-opacity="0.93"/><rect x="360.9" y="6.8" width="2" height="564.5" fill-opacity="0.41"/><rect x="364.9" y="6.8" width="2" height="564.5" fill-opacity="0.89"/><rect x="367.9" y="6.8" width="3" height="564.5" fill-opacity="0.61"/><rect x="388.9" y="6.8" width="2" height="564.5" fill-opacity="0.88"/><rect x="398.9" y="6.8" width="3" height="564.5" fill-opacity="0.41"/><rect x="405.9" y="6.8" width="1" height="564.5" fill-opacity="0.40"/><rect x="409.9" y="6.8" width="2" height="564.5" fill-opacity="0.62"/><rect x="417.9" y="6.8" width="1" height="564.5" fill-opacity="0.52"/><rect x="419.9" y="6.8" width="2" height="564.5" fill-opacity="0.76"/><rect x="435.9" y="6.8" width="2" height="564.5" fill-opacity="0.51"/><rect x="439.9" y="6.8" width="1" height="564.5" fill-opacity="0.77"/><rect x="442.9" y="6.8" width="3" height="564.5" fill-opacity="0.61"/><rect x="448.9" y="6.8" width="2" height="564.5" fill-opacity="0.99"/><rect x="452.9" y="6.8" width="2" height="564.5" fill-opacity="0.81"/><rect x="455.9" y="6.8" width="3" height="564.5" fill-opacity="0.99"/><rect x="467.9" y="6.8" width="3" height="564.5" fill-opacity="0.53"/><rect x="491.9" y="6.8" width="2" height="564.5" fill-opacity="0.35"/><rect x="500.9" y="6.8" width="3" height="564.5" fill-opacity="0.90"/><rect x="512.9" y="6.8" width="1" height="564.5" fill-opacity="0.81"/><rect x="516.9" y="6.8" width="3" height="564.5" fill-opacity="0.88"/><rect x="520.9" y="6.8" width="3" height="564.5" fill-opacity="0.72"/><rect x="524.9" y="6.8" width="3" height="564.5" fill-opacity="0.81"/><rect x="533.9" y="6.8" width="1" height="564.5" fill-opacity="0.79"/><rect x="546.9" y="6.8" width="2" height="564.5" fill-opacity="0.90"/><rect x="553.9" y="6.8" width="3" height="564.5" fill-opacity="0.40"/><rect x="558.9" y="6.8" width="1" height="564.5" fill-opacity="0.77"/></g></g></g><g opacity="0.150" shape-rendering="crispEdges"><rect x="2.9" y="6.8" width="2" height="564.5" fill="#00ff80" fill-opacity="0.38"/><rect x="7.9" y="6.8" width="1" height="564.5" fill="#00ff80" fill-opacity="0.39"/><rect x="11.9" y="6.8" width="2" height="564.5" fill="#00ff80" fill-opacity="0.63"/><rect x="14.9" y="6.8" width="2" height="564.5" fill="#00ff80" fill-opacity="0.63"/><rect x="19.9" y="6.8" width="1" height="564.5" fill="#0000ff" fill-opacity="0.76"/><rect x="23.9" y="6.8" width="1" height="564.5" fill="#0000ff" fill-opacity="0.61"/><rect x="25.9" y="6.8" width="1" height="564.5" fill="#00ff80" fill-opacity="0.44"/><rect x="28.9" y="6.8" width="2" height="564.5" fill="#0000ff" fill-opacity="0.72"/><rect x="33.9" y="6.8" width="2" height="564.5" fill="#00ff80" fill-opacity="0.72"/><rect x="36.9" y="6.8" width="2" height="564.5" fill="#00ff80" fill-opacity="0.81"/><rect x="41.9" y="6.8" width="1" height="564.5" fill="#00ff80" fill-opacity="0.67"/><rect x="45.9" y="6.8" width="3" height="564.5" fill="#0000ff" fill-opacity="0.65"/><rect x="50.9" y="6.8" width="2" height="564.5" fill="#0000ff" fill-opacity="0.87"/><rect x="53.9" y="6.8" width="1" height="564.5" fill="#0000ff" fill-opacity="0.69"/><rect x="56.9" y="6.8" width="3" height="564.5" fill="#00ff80" fill-opacity="0.99"/><rect x="60.9" y="6.8" width="3" height="564.5" fill="#0000ff" fill-opacity="0.84"/><rect x="64.9" y="6.8" width="3" height="564.5" fill="#00ff80" fill-opacity="0.98"/><rect x="68.9" y="6.8" width="3" height="564.5" fill="#0000ff" fill-opacity="0.92"/><rect x="73.9" y="6.8" width="2" height="564.5" fill="#0000ff" fill-opacity="0.74"/><rect x="78.9" y="6.8" width="3" height="564.5" fill="#00ff80" fill-opacity="0.41"/><rect x="83.9" y="6.8" width="3" height="564.5" fill="#00ff80" fill-opacity="0.39"/><rect x="88.9" y="6.8" width="3" height="564.5" fill="#00ff80" fill-opacity="0.88"/><rect x="93.9" y="6.8" width="3" height="564.5" fill="#0000ff" fill-opacity="0.58"/><rect x="98.9" y="6.8" width="2" height="564.5" fill="#0000ff" fill-opacity="0.43"/><rect x="101.9" y="6.8" width="2" height="564.5" fill="#00ff80" fill-opacity="0.43"/><rect x="104.9" y="6.8" width="3" height="564.5" fill="#0000ff" fill-opacity="0.92"/><rect x="108.9" y="6.8" width="2" height="564.5" fill="#0000ff" fill-opacity="0.71"/><rect x="111.9" y="6.8" width="3" height="564.5" fill="#0000ff" fill-opacity="0.53"/><rect x="116.9" y="6.8" width="2" height="564.5" fill="#0000ff" fill-opacity="0.60"/><rect x="119.9" y="6.8" width="2" height="564.5" fill="#00ff80" fill-opacity="0.45"/><rect x="122.9" y="6.8" width="1" height="564.5" fill="#00ff80" fill-opacity="0.73"/><rect x="125.9" y="6.8" width="2" height="564.5" fill="#00ff80" fill-opacity="0.62"/><rect x="129.9" y="6.8" width="3" height="564.5" fill="#0000ff" fill-opacity="0.97"/><rect x="135.9" y="6.8" width="3" height="564.5" fill="#0000ff" fill-opacity="0.83"/><rect x="140.9" y="6.8" width="3" height="564.5" fill="#00ff80" fill-opacity="0.61"/><rect x="144.9" y="6.8" width="3" height="564.5" fill="#00ff80" fill-opacity="0.39"/><rect x="148.9" y="6.8" width="2" height="564.5" fill="#00ff80" fill-opacity="0.42"/><rect x="153.9" y="6.8" width="1" height="564.5" fill="#00ff80" fill-opacity="0.72"/><rect x="157.9" y="6.8" width="1" height="564.5" fill="#0000ff" fill-opacity="0.75"/><rect x="159.9" y="6.8" width="2" height="564.5" fill="#0000ff" fill-opacity="0.45"/><rect x="163.9" y="6.8" width="2" height="564.5" fill="#0000ff" fill-opacity="0.66"/><rect x="166.9" y="6.8" width="3" height="564.5" fill="#00ff80" fill-opacity="0.65"/><rect x="171.9" y="6.8" width="2" height="564.5" fill="#0000ff" fill-opacity="0.42"/><rect x="175.9" y="6.8" width="2" height="564.5" fill="#0000ff" fill-opacity="0.80"/><rect x="180.9" y="6.8" width="1" height="564.5" fill="#00ff80" fill-opacity="0.97"/><rect x="183.9" y="6.8" width="2" height="564.5" fill="#0000ff" fill-opacity="0.94"/><rect x="188.9" y="6.8" width="2" height="564.5" fill="#0000ff" fill-opacity="0.91"/><rect x="192.9" y="6.8" width="3" height="564.5" fill="#00ff80" fill-opacity="0.46"/><rect x="196.9" y="6.8" width="3" height="564.5" fill="#0000ff" fill-opacity="0.68"/><rect x="200.9" y="6.8" width="3" height="564.5" fill="#0000ff" fill-opacity="0.99"/><rect x="204.9" y="6.8" width="2" height="564.5" fill="#00ff80" fill-opacity="0.83"/><rect x="207.9" y="6.8" width="2" height="564.5" fill="#00ff80" fill-opacity="0.58"/><rect x="210.9" y="6.8" width="1" height="564.5" fill="#0000ff" fill-opacity="0.66"/><rect x="212.9" y="6.8" width="3" height="564.5" fill="#0000ff" fill-opacity="0.64"/><rect x="217.9" y="6.8" width="2" height="564.5" fill="#00ff80" fill-opacity="0.42"/><rect x="221.9" y="6.8" width="2" height="564.5" fill="#00ff80" fill-opacity="0.66"/><rect x="226.9" y="6.8" width="1" height="564.5" fill="#0000ff" fill-opacity="0.77"/><rect x="228.9" y="6.8" width="1" height="564.5" fill="#0000ff" fill-opacity="0.86"/><rect x="230.9" y="6.8" width="3" height="564.5" fill="#0000ff" fill-opacity="0.63"/><rect x="235.9" y="6.8" width="1" height="564.5" fill="#00ff80" fill-opacity="0.98"/><rect x="238.9" y="6.8" width="3" height="564.5" fill="#0000ff" fill-opacity="0.97"/><rect x="242.9" y="6.8" width="2" height="564.5" fill="#0000ff" fill-opacity="0.37"/><rect x="247.9" y="6.8" width="3" height="564.5" fill="#0000ff" fill-opacity="0.45"/><rect x="253.9" y="6.8" width="3" height="564.5" fill="#0000ff" fill-opacity="0.58"/><rect x="259.9" y="6.8" width="3" height="564.5" fill="#0000ff" fill-opacity="0.36"/><rect x="263.9" y="6.8" width="3" height="564.5" fill="#00ff80" fill-opacity="0.44"/><rect x="267.9" y="6.8" width="2" height="564.5" fill="#0000ff" fill-opacity="0.49"/><rect x="272.9" y="6.8" width="2" height="564.5" fill="#00ff80" fill-opacity="0.56"/><rect x="277.9" y="6.8" width="3" height="564.5" fill="#0000ff" fill-opacity="0.39"/><rect x="282.9" y="6.8" width="3" height="564.5" fill="#00ff80" fill-opacity="0.88"/><rect x="288.9" y="6.8" width="3" height="564.5" fill="#0000ff" fill-opacity="0.92"/><rect x="292.9" y="6.8" width="3" height="564.5" fill="#00ff80" fill-opacity="0.68"/><rect x="297.9" y="6.8" width="2" height="564.5" fill="#00ff80" fill-opacity="0.85"/><rect x="300.9" y="6.8" width="2" height="564.5" fill="#00ff80" fill-opacity="0.75"/><rect x="303.9" y="6.8" width="3" height="564.5" fill="#0000ff" fill-opacity="0.79"/><rect x="309.9" y="6.8" width="3" height="564.5" fill="#00ff80" fill-opacity="0.85"/><rect x="315.9" y="6.8" width="1" height="564.5" fill="#0000ff" fill-opacity="0.53"/><rect x="317.9" y="6.8" width="3" height="564.5" fill="#00ff80" fill-opacity="0.37"/><rect x="321.9" y="6.8" width="3" height="564.5" fill="#0000ff" fill-opacity="0.98"/><rect x="327.9" y="6.8" width="3" height="564.5" fill="#0000ff" fill-opacity="0.53"/><rect x="333.9" y="6.8" width="3" height="564.5" fill="#0000ff" fill-opacity="0.68"/><rect x="337.9" y="6.8" width="3" height="564.5" fill="#0000ff" fill-opacity="0.96"/><rect x="342.9" y="6.8" width="3" height="564.5" fill="#0000ff" fill-opacity="0.48"/><rect x="347.9" y="6.8" width="2" height="564.5" fill="#00ff80" fill-opacity="0.61"/><rect x="351.9" y="6.8" width="1" height="564.5" fill="#00ff80" fill-opacity="0.63"/><rect x="353.9" y="6.8" width="2" height="564.5" fill="#0000ff" fill-opacity="0.93"/><rect x="356.9" y="6.8" width="2" height="564.5" fill="#00ff80" fill-opacity="0.92"/><rect x="360.9" y="6.8" width="2" height="564.5" fill="#0000ff" fill-opacity="0.41"/><rect x="364.9" y="6.8" width="2" height="564.5" fill="#00ff80" fill-opacity="0.89"/><rect x="367.9" y="6.8" width="3" height="564.5" fill="#0000ff" fill-opacity="0.61"/><rect x="372.9" y="6.8" width="2" height="564.5" fill="#0000ff" fill-opacity="0.41"/><rect x="376.9" y="6.8" width="1" height="564.5" fill="#0000ff" fill-opacity="0.65"/><rect x="378.9" y="6.8" width="3" height="564.5" fill="#00ff80" fill-opacity="0.76"/><rect x="384.9" y="6.8" width="1" height="564.5" fill="#00ff80" fill-opacity="0.95"/><rect x="386.9" y="6.8" width="1" height="564.5" fill="#0000ff" fill-opacity="0.53"/><rect x="388.9" y="6.8" width="2" height="564.5" fill="#00ff80" fill-opacity="0.88"/><rect x="392.9" y="6.8" width="3" height="564.5" fill="#0000ff" fill-opacity="0.95"/><rect x="398.9" y="6.8" width="3" height="564.5" fill="#0000ff" fill-opacity="0.41"/><rect x="402.9" y="6.8" width="2" height="564.5" fill="#0000ff" fill-opacity="0.40"/><rect x="405.9" y="6.8" width="1" height="564.5" fill="#0000ff" fill-opacity="0.40"/><rect x="407.9" y="6.8" width="1" height="564.5" fill="#00ff80" fill-opacity="0.43"/><rect x="409.9" y="6.8" width="2" height="564.5" fill="#0000ff" fill-opacity="0.62"/><rect x="413.9" y="6.8" width="3" height="564.5" fill="#00ff80" fill-opacity="0.69"/><rect x="417.9" y="6.8" width="1" height="564.5" fill="#0000ff" fill-opacity="0.52"/><rect x="419.9" y="6.8" width="2" height="564.5" fill="#0000ff" fill-opacity="0.76"/><rect x="424.9" y="6.8" width="2" height="564.5" fill="#00ff80" fill-opacity="0.68"/><rect x="427.9" y="6.8" width="2" height="564.5" fill="#0000ff" fill-opacity="0.36"/><rect x="431.9" y="6.8" width="1" height="564.5" fill="#0000ff" fill-opacity="0.83"/><rect x="435.9" y="6.8" width="2" height="564.5" fill="#0000ff" fill-opacity="0.51"/><rect x="439.9" y="6.8" width="1" height="564.5" fill="#0000ff" fill-opacity="0.77"/><rect x="442.9" y="6.8" width="3" height="564.5" fill="#00ff80" fill-opacity="0.61"/><rect x="448.9" y="6.8" width="2" height="564.5" fill="#00ff80" fill-opacity="0.99"/><rect x="452.9" y="6.8" width="2" height="564.5" fill="#0000ff" fill-opacity="0.81"/><rect x="455.9" y="6.8" width="3" height="564.5" fill="#0000ff" fill-opacity="0.99"/><rect x="459.9" y="6.8" width="1" height="564.5" fill="#0000ff" fill-opacity="0.83"/><rect x="462.9" y="6.8" width="3" height="564.5" fill="#00ff80" fill-opacity="0.40"/><rect x="467.9" y="6.8" width="3" height="564.5" fill="#0000ff" fill-opacity="0.53"/><rect x="471.9" y="6.8" width="2" height="564.5" fill="#00ff80" fill-opacity="0.47"/><rect x="475.9" y="6.8" width="3" height="564.5" fill="#00ff80" fill-opacity="0.59"/><rect x="480.9" y="6.8" width="3" height="564.5" fill="#0000ff" fill-opacity="0.37"/><rect x="485.9" y="6.8" width="2" height="564.5" fill="#0000ff" fill-opacity="0.35"/><rect x="489.9" y="6.8" width="1" height="564.5" fill="#00ff80" fill-opacity="0.68"/><rect x="491.9" y="6.8" width="2" height="564.5" fill="#00ff80" fill-opacity="0.35"/><rect x="495.9" y="6.8" width="1" height="564.5" fill="#00ff80" fill-opacity="0.73"/><rect x="498.9" y="6.8" width="1" height="564.5" fill="#0000ff" fill-opacity="0.76"/><rect x="500.9" y="6.8" width="3" height="564.5" fill="#0000ff" fill-opacity="0.90"/><rect x="504.9" y="6.8" width="3" height="564.5" fill="#00ff80" fill-opacity="0.56"/><rect x="509.9" y="6.8" width="2" height="564.5" fill="#0000ff" fill-opacity="0.75"/><rect x="512.9" y="6.8" width="1" height="564.5" fill="#00ff80" fill-opacity="0.81"/><rect x="516.9" y="6.8" width="3" height="564.5" fill="#0000ff" fill-opacity="0.88"/><rect x="520.9" y="6.8" width="3" height="564.5" fill="#00ff80" fill-opacity="0.72"/><rect x="524.9" y="6.8" width="3" height="564.5" fill="#00ff80" fill-opacity="0.81"/><rect x="528.9" y="6.8" width="1" height="564.5" fill="#00ff80" fill-opacity="0.44"/><rect x="531.9" y="6.8" width="1" height="564.5" fill="#00ff80" fill-opacity="0.64"/><rect x="533.9" y="6.8" width="1" height="564.5" fill="#0000ff" fill-opacity="0.79"/><rect x="536.9" y="6.8" width="2" height="564.5" fill="#0000ff" fill-opacity="0.87"/><rect x="541.9" y="6.8" width="3" height="564.5" fill="#00ff80" fill-opacity="0.69"/><rect x="546.9" y="6.8" width="2" height="564.5" fill="#00ff80" fill-opacity="0.90"/><rect x="549.9" y="6.8" width="2" height="564.5" fill="#0000ff" fill-opacity="0.77"/><rect x="553.9" y="6.8" width="3" height="564.5" fill="#00ff80" fill-opacity="0.40"/><rect x="558.9" y="6.8" width="1" height="564.5" fill="#0000ff" fill-opacity="0.77"/><rect x="560.9" y="6.8" width="3" height="564.5" fill="#0000ff" fill-opacity="0.52"/></g><g opacity="0.150" shape-rendering="crispEdges"><rect x="0.9" y="567.2" width="564.3" height="2" fill="#00ff80" fill-opacity="0.38"/><rect x="0.9" y="563.2" width="564.3" height="1" fill="#00ff80" fill-opacity="0.39"/><rect x="0.9" y="558.2" width="564.3" height="2" fill="#00ff80" fill-opacity="0.63"/><rect x="0.9" y="555.2" width="564.3" height="2" fill="#00ff80" fill-opacity="0.63"/><rect x="0.9" y="551.2" width="564.3" height="1" fill="#0000ff" fill-opacity="0.76"/><rect x="0.9" y="547.2" width="564.3" height="1" fill="#0000ff" fill-opacity="0.61"/><rect x="0.9" y="545.2" width="564.3" height="1" fill="#00ff80" fill-opacity="0.44"/><rect x="0.9" y="541.2" width="564.3" height="2" fill="#0000ff" fill-opacity="0.72"/><rect x="0.9" y="536.2" width="564.3" height="2" fill="#00ff80" fill-opacity="0.72"/><rect x="0.9" y="533.2" width="564.3" height="2" fill="#00ff80" fill-opacity="0.81"/><rect x="0.9" y="529.2" width="564.3" height="1" fill="#00ff80" fill-opacity="0.67"/><rect x="0.9" y="523.2" width="564.3" height="3" fill="#0000ff" fill-opacity="0.65"/><rect x="0.9" y="519.2" width="564.3" height="2" fill="#0000ff" fill-opacity="0.87"/><rect x="0.9" y="517.2" width="564.3" height="1" fill="#0000ff" fill-opacity="0.69"/><rect x="0.9" y="512.2" width="564.3" height="3" fill="#00ff80" fill-opacity="0.99"/><rect x="0.9" y="508.2" width="564.3" height="3" fill="#0000ff" fill-opacity="0.84"/><rect x="0.9" y="504.2" width="564.3" height="3" fill="#00ff80" fill-opacity="0.98"/><rect x="0.9" y="500.2" width="564.3" height="3" fill="#0000ff" fill-opacity="0.92"/><rect x="0.9" y="496.2" width="564.3" height="2" fill="#0000ff" fill-opacity="0.74"/><rect x="0.9" y="490.2" width="564.3" height="3" fill="#00ff80" fill-opacity="0.41"/><rect x="0.9" y="485.2" width="564.3" height="3" fill="#00ff80" fill-opacity="0.39"/><rect x="0.9" y="480.2" width="564.3" height="3" fill="#00ff80" fill-opacity="0.88"/><rect x="0.9" y="475.2" width="564.3" height="3" fill="#0000ff" fill-opacity="0.58"/><rect x="0.9" y="471.2" width="564.3" height="2" fill="#0000ff" fill-opacity="0.43"/><rect x="0.9" y="468.2" width="564.3" height="2" fill="#00ff80" fill-opacity="0.43"/><rect x="0.9" y="464.2" width="564.3" height="3" fill="#0000ff" fill-opacity="0.92"/><rect x="0.9" y="461.2" width="564.3" height="2" fill="#0000ff" fill-opacity="0.71"/><rect x="0.9" y="457.2" width="564.3" height="3" fill="#0000ff" fill-opacity="0.53"/><rect x="0.9" y="453.2" width="564.3" height="2" fill="#0000ff" fill-opacity="0.60"/><rect x="0.9" y="450.2" width="564.3" height="2" fill="#00ff80" fill-opacity="0.45"/><rect x="0.9" y="448.2" width="564.3" height="1" fill="#00ff80" fill-opacity="0.73"/><rect x="0.9" y="444.2" width="564.3" height="2" fill="#00ff80" fill-opacity="0.62"/><rect x="0.9" y="439.2" width="564.3" height="3" fill="#0000ff" fill-opacity="0.97"/><rect x="0.9" y="433.2" width="564.3" height="3" fill="#0000ff" fill-opacity="0.83"/><rect x="0.9" y="428.2" width="564.3" height="3" fill="#00ff80" fill-opacity="0.61"/><rect x="0.9" y="424.2" width="564.3" height="3" fill="#00ff80" fill-opacity="0.39"/><rect x="0.9" y="421.2" width="564.3" height="2" fill="#00ff80" fill-opacity="0.42"/><rect x="0.9" y="417.2" width="564.3" height="1" fill="#00ff80" fill-opacity="0.72"/><rect x="0.9" y="413.2" width="564.3" height="1" fill="#0000ff" fill-opacity="0.75"/><rect x="0.9" y="410.2" width="564.3" height="2" fill="#0000ff" fill-opacity="0.45"/><rect x="0.9" y="406.2" width="564.3" height="2" fill="#0000ff" fill-opacity="0.66"/><rect x="0.9" y="402.2" width="564.3" height="3" fill="#00ff80" fill-opacity="0.65"/><rect x="0.9" y="398.2" width="564.3" height="2" fill="#0000ff" fill-opacity="0.42"/><rect x="0.9" y="394.2" width="564.3" height="2" fill="#0000ff" fill-opacity="0.80"/><rect x="0.9" y="390.2" width="564.3" height="1" fill="#00ff80" fill-opacity="0.97"/><rect x="0.9" y="386.2" width="564.3" height="2" fill="#0000ff" fill-opacity="0.94"/><rect x="0.9" y="381.2" width="564.3" height="2" fill="#0000ff" fill-opacity="0.91"/><rect x="0.9" y="376.2" width="564.3" height="3" fill="#00ff80" fill-opacity="0.46"/><rect x="0.9" y="372.2" width="564.3" height="3" fill="#0000ff" fill-opacity="0.68"/><rect x="0.9" y="368.2" width="564.3" height="3" fill="#0000ff" fill-opacity="0.99"/><rect x="0.9" y="365.2" width="564.3" height="2" fill="#00ff80" fill-opacity="0.83"/><rect x="0.9" y="362.2" width="564.3" height="2" fill="#00ff80" fill-opacity="0.58"/><rect x="0.9" y="360.2" width="564.3" height="1" fill="#0000ff" fill-opacity="0.66"/><rect x="0.9" y="356.2" width="564.3" height="3" fill="#0000ff" fill-opacity="0.64"/><rect x="0.9" y="352.2" width="564.3" height="2" fill="#00ff80" fill-opacity="0.42"/><rect x="0.9" y="348.2" width="564.3" height="2" fill="#00ff80" fill-opacity="0.66"/><rect x="0.9" y="344.2" width="564.3" height="1" fill="#0000ff" fill-opacity="0.77"/><rect x="0.9" y="342.2" width="564.3" height="1" fill="#0000ff" fill-opacity="0.86"/><rect x="0.9" y="338.2" width="564.3" height="3" fill="#0000ff" fill-opacity="0.63"/><rect x="0.9" y="335.2" width="564.3" height="1" fill="#00ff80" fill-opacity="0.98"/><rect x="0.9" y="330.2" width="564.3" height="3" fill="#0000ff" fill-opacity="0.97"/><rect x="0.9" y="327.2" width="564.3" height="2" fill="#0000ff" fill-opacity="0.37"/><rect x="0.9" y="321.2" width="564.3" height="3" fill="#0000ff" fill-opacity="0.45"/><rect x="0.9" y="315.2" width="564.3" height="3" fill="#0000ff" fill-opacity="0.58"/><rect x="0.9" y="309.2" width="564.3" height="3" fill="#0000ff" fill-opacity="0.36"/><rect x="0.9" y="305.2" width="564.3" height="3" fill="#00ff80" fill-opacity="0.44"/><rect x="0.9" y="302.2" width="564.3" height="2" fill="#0000ff" fill-opacity="0.49"/><rect x="0.9" y="297.2" width="564.3" height="2" fill="#00ff80" fill-opacity="0.56"/><rect x="0.9" y="291.2" width="564.3" height="3" fill="#0000ff" fill-opacity="0.39"/><rect x="0.9" y="286.2" width="564.3" height="3" fill="#00ff80" fill-opacity="0.88"/><rect x="0.9" y="280.2" width="564.3" height="3" fill="#0000ff" fill-opacity="0.92"/><rect x="0.9" y="276.2" width="564.3" height="3" fill="#00ff80" fill-opacity="0.68"/><rect x="0.9" y="272.2" width="564.3" height="2" fill="#00ff80" fill-opacity="0.85"/><rect x="0.9" y="269.2" width="564.3" height="2" fill="#00ff80" fill-opacity="0.75"/><rect x="0.9" y="265.2" width="564.3" height="3" fill="#0000ff" fill-opacity="0.79"/><rect x="0.9" y="259.2" width="564.3" height="3" fill="#00ff80" fill-opacity="0.85"/><rect x="0.9" y="255.2" width="564.3" height="1" fill="#0000ff" fill-opacity="0.53"/><rect x="0.9" y="251.2" width="564.3" height="3" fill="#00ff80" fill-opacity="0.37"/><rect x="0.9" y="247.2" width="564.3" height="3" fill="#0000ff" fill-opacity="0.98"/><rect x="0.9" y="241.2" width="564.3" height="3" fill="#0000ff" fill-opacity="0.53"/><rect x="0.9" y="235.2" width="564.3" height="3" fill="#0000ff" fill-opacity="0.68"/><rect x="0.9" y="231.2" width="564.3" height="3" fill="#0000ff" fill-opacity="0.96"/><rect x="0.9" y="226.2" width="564.3" height="3" fill="#0000ff" fill-opacity="0.48"/><rect x="0.9" y="222.2" width="564.3" height="2" fill="#00ff80" fill-opacity="0.61"/><rect x="0.9" y="219.2" width="564.3" height="1" fill="#00ff80" fill-opacity="0.63"/><rect x="0.9" y="216.2" width="564.3" height="2" fill="#0000ff" fill-opacity="0.93"/><rect x="0.9" y="213.2" width="564.3" height="2" fill="#00ff80" fill-opacity="0.92"/><rect x="0.9" y="209.2" width="564.3" height="2" fill="#0000ff" fill-opacity="0.41"/><rect x="0.9" y="205.2" width="564.3" height="2" fill="#00ff80" fill-opacity="0.89"/><rect x="0.9" y="201.2" width="564.3" height="3" fill="#0000ff" fill-opacity="0.61"/><rect x="0.9" y="197.2" width="564.3" height="2" fill="#0000ff" fill-opacity="0.41"/><rect x="0.9" y="194.2" width="564.3" height="1" fill="#0000ff" fill-opacity="0.65"/><rect x="0.9" y="190.2" width="564.3" height="3" fill="#00ff80" fill-opacity="0.76"/><rect x="0.9" y="186.2" width="564.3" height="1" fill="#00ff80" fill-opacity="0.95"/><rect x="0.9" y="184.2" width="564.3" height="1" fill="#0000ff" fill-opacity="0.53"/><rect x="0.9" y="181.2" width="564.3" height="2" fill="#00ff80" fill-opacity="0.88"/><rect x="0.9" y="176.2" width="564.3" height="3" fill="#0000ff" fill-opacity="0.95"/><rect x="0.9" y="170.2" width="564.3" height="3" fill="#0000ff" fill-opacity="0.41"/><rect x="0.9" y="167.2" width="564.3" height="2" fill="#0000ff" fill-opacity="0.40"/><rect x="0.9" y="165.2" width="564.3" height="1" fill="#0000ff" fill-opacity="0.40"/><rect x="0.9" y="163.2" width="564.3" height="1" fill="#00ff80" fill-opacity="0.43"/><rect x="0.9" y="160.2" width="564.3" height="2" fill="#0000ff" fill-opacity="0.62"/><rect x="0.9" y="155.2" width="564.3" height="3" fill="#00ff80" fill-opacity="0.69"/><rect x="0.9" y="153.2" width="564.3" height="1" fill="#0000ff" fill-opacity="0.52"/><rect x="0.9" y="150.2" width="564.3" height="2" fill="#0000ff" fill-opacity="0.76"/><rect x="0.9" y="145.2" width="564.3" height="2" fill="#00ff80" fill-opacity="0.68"/><rect x="0.9" y="142.2" width="564.3" height="2" fill="#0000ff" fill-opacity="0.36"/><rect x="0.9" y="139.2" width="564.3" height="1" fill="#0000ff" fill-opacity="0.83"/><rect x="0.9" y="134.2" width="564.3" height="2" fill="#0000ff" fill-opacity="0.51"/><rect x="0.9" y="131.2" width="564.3" height="1" fill="#0000ff" fill-opacity="0.77"/><rect x="0.9" y="126.2" width="564.3" height="3" fill="#00ff80" fill-opacity="0.61"/><rect x="0.9" y="121.2" width="564.3" height="2" fill="#00ff80" fill-opacity="0.99"/><rect x="0.9" y="117.2" width="564.3" height="2" fill="#0000ff" fill-opacity="0.81"/><rect x="0.9" y="113.2" width="564.3" height="3" fill="#0000ff" fill-opacity="0.99"/><rect x="0.9" y="111.2" width="564.3" height="1" fill="#0000ff" fill-opacity="0.83"/><rect x="0.9" y="106.2" width="564.3" height="3" fill="#00ff80" fill-opacity="0.40"/><rect x="0.9" y="101.2" width="564.3" height="3" fill="#0000ff" fill-opacity="0.53"/><rect x="0.9" y="98.2" width="564.3" height="2" fill="#00ff80" fill-opacity="0.47"/><rect x="0.9" y="93.2" width="564.3" height="3" fill="#00ff80" fill-opacity="0.59"/><rect x="0.9" y="88.2" width="564.3" height="3" fill="#0000ff" fill-opacity="0.37"/><rect x="0.9" y="84.2" width="564.3" height="2" fill="#0000ff" fill-opacity="0.35"/><rect x="0.9" y="81.2" width="564.3" height="1" fill="#00ff80" fill-opacity="0.68"/><rect x="0.9" y="78.2" width="564.3" height="2" fill="#00ff80" fill-opacity="0.35"/><rect x="0.9" y="75.2" width="564.3" height="1" fill="#00ff80" fill-opacity="0.73"/><rect x="0.9" y="72.2" width="564.3" height="1" fill="#0000ff" fill-opacity="0.76"/><rect x="0.9" y="68.2" width="564.3" height="3" fill="#0000ff" fill-opacity="0.90"/><rect x="0.9" y="64.2" width="564.3" height="3" fill="#00ff80" fill-opacity="0.56"/><rect x="0.9" y="60.2" width="564.3" height="2" fill="#0000ff" fill-opacity="0.75"/><rect x="0.9" y="58.2" width="564.3" height="1" fill="#00ff80" fill-opacity="0.81"/><rect x="0.9" y="52.2" width="564.3" height="3" fill="#0000ff" fill-opacity="0.88"/><rect x="0.9" y="48.2" width="564.3" height="3" fill="#00ff80" fill-opacity="0.72"/><rect x="0.9" y="44.2" width="564.3" height="3" fill="#00ff80" fill-opacity="0.81"/><rect x="0.9" y="42.2" width="564.3" height="1" fill="#00ff80" fill-opacity="0.44"/><rect x="0.9" y="39.2" width="564.3" height="1" fill="#00ff80" fill-opacity="0.64"/><rect x="0.9" y="37.2" width="564.3" height="1" fill="#0000ff" fill-opacity="0.79"/><rect x="0.9" y="33.2" width="564.3" height="2" fill="#0000ff" fill-opacity="0.87"/><rect x="0.9" y="27.2" width="564.3" height="3" fill="#00ff80" fill-opacity="0.69"/><rect x="0.9" y="23.2" width="564.3" height="2" fill="#00ff80" fill-opacity="0.90"/><rect x="0.9" y="20.2" width="564.3" height="2" fill="#0000ff" fill-opacity="0.77"/><rect x="0.9" y="15.2" width="564.3" height="3" fill="#00ff80" fill-opacity="0.40"/><rect x="0.9" y="12.2" width="564.3" height="1" fill="#0000ff" fill-opacity="0.77"/><rect x="0.9" y="8.2" width="564.3" height="3" fill="#0000ff" fill-opacity="0.52"/></g><g shape-rendering="crispEdges"><rect x="340.4" y="569.2" width="7.0" height="2.0" fill="#0000ff" fill-opacity="0.28"/><rect x="0.9" y="224.7" width="2.0" height="7.0" fill="#0000ff" fill-opacity="0.28"/><rect x="340.4" y="565.2" width="7.0" height="4.0" fill="#0000ff" fill-opacity="0.26"/><rect x="2.9" y="224.7" width="4.0" height="7.0" fill="#0000ff" fill-opacity="0.26"/><rect x="340.4" y="560.2" width="7.0" height="5.0" fill="#0000ff" fill-opacity="0.28"/><rect x="6.9" y="224.7" width="5.0" height="7.0" fill="#0000ff" fill-opacity="0.28"/><rect x="340.4" y="558.2" width="7.0" height="2.0" fill="#0000ff" fill-opacity="0.22"/><rect x="11.9" y="224.7" width="2.0" height="7.0" fill="#0000ff" fill-opacity="0.22"/><rect x="340.4" y="551.2" width="7.0" height="3.0" fill="#0000ff" fill-opacity="0.20"/><rect x="17.9" y="224.7" width="3.0" height="7.0" fill="#0000ff" fill-opacity="0.20"/><rect x="340.4" y="549.2" width="7.0" height="2.0" fill="#0000ff" fill-opacity="0.27"/><rect x="20.9" y="224.7" width="2.0" height="7.0" fill="#0000ff" fill-opacity="0.27"/><rect x="340.4" y="546.2" width="7.0" height="3.0" fill="#0000ff" fill-opacity="0.31"/><rect x="22.9" y="224.7" width="3.0" height="7.0" fill="#0000ff" fill-opacity="0.31"/><rect x="340.4" y="544.2" width="7.0" height="2.0" fill="#0000ff" fill-opacity="0.25"/><rect x="25.9" y="224.7" width="2.0" height="7.0" fill="#0000ff" fill-opacity="0.25"/><rect x="340.4" y="542.2" width="7.0" height="2.0" fill="#0000ff" fill-opacity="0.20"/><rect x="27.9" y="224.7" width="2.0" height="7.0" fill="#0000ff" fill-opacity="0.20"/><rect x="340.4" y="539.2" width="7.0" height="3.0" fill="#00ff80" fill-opacity="0.11"/><rect x="29.9" y="224.7" width="3.0" height="7.0" fill="#00ff80" fill-opacity="0.11"/><rect x="340.4" y="537.2" width="7.0" height="2.0" fill="#0000ff" fill-opacity="0.20"/><rect x="32.9" y="224.7" width="2.0" height="7.0" fill="#0000ff" fill-opacity="0.20"/><rect x="340.4" y="533.2" width="7.0" height="4.0" fill="#0000ff" fill-opacity="0.27"/><rect x="34.9" y="224.7" width="4.0" height="7.0" fill="#0000ff" fill-opacity="0.27"/><rect x="340.4" y="525.2" width="7.0" height="6.0" fill="#0000ff" fill-opacity="0.19"/><rect x="40.9" y="224.7" width="6.0" height="7.0" fill="#0000ff" fill-opacity="0.19"/><rect x="340.4" y="523.2" width="7.0" height="2.0" fill="#0000ff" fill-opacity="0.30"/><rect x="46.9" y="224.7" width="2.0" height="7.0" fill="#0000ff" fill-opacity="0.30"/><rect x="340.4" y="519.2" width="7.0" height="4.0" fill="#0000ff" fill-opacity="0.17"/><rect x="48.9" y="224.7" width="4.0" height="7.0" fill="#0000ff" fill-opacity="0.17"/><rect x="340.4" y="514.2" width="7.0" height="5.0" fill="#0000ff" fill-opacity="0.30"/><rect x="52.9" y="224.7" width="5.0" height="7.0" fill="#0000ff" fill-opacity="0.30"/><rect x="340.4" y="511.2" width="7.0" height="3.0" fill="#0000ff" fill-opacity="0.28"/><rect x="57.9" y="224.7" width="3.0" height="7.0" fill="#0000ff" fill-opacity="0.28"/><rect x="340.4" y="505.2" width="7.0" height="6.0" fill="#0000ff" fill-opacity="0.30"/><rect x="60.9" y="224.7" width="6.0" height="7.0" fill="#0000ff" fill-opacity="0.30"/><rect x="340.4" y="503.2" width="7.0" height="2.0" fill="#0000ff" fill-opacity="0.17"/><rect x="66.9" y="224.7" width="2.0" height="7.0" fill="#0000ff" fill-opacity="0.17"/><rect x="340.4" y="499.2" width="7.0" height="4.0" fill="#0000ff" fill-opacity="0.28"/><rect x="68.9" y="224.7" width="4.0" height="7.0" fill="#0000ff" fill-opacity="0.28"/><rect x="340.4" y="494.2" width="7.0" height="5.0" fill="#0000ff" fill-opacity="0.19"/><rect x="72.9" y="224.7" width="5.0" height="7.0" fill="#0000ff" fill-opacity="0.19"/><rect x="340.4" y="491.2" width="7.0" height="3.0" fill="#0000ff" fill-opacity="0.31"/><rect x="77.9" y="224.7" width="3.0" height="7.0" fill="#0000ff" fill-opacity="0.31"/><rect x="340.4" y="488.2" width="7.0" height="3.0" fill="#0000ff" fill-opacity="0.21"/><rect x="80.9" y="224.7" width="3.0" height="7.0" fill="#0000ff" fill-opacity="0.21"/><rect x="340.4" y="485.2" width="7.0" height="3.0" fill="#0000ff" fill-opacity="0.19"/><rect x="83.9" y="224.7" width="3.0" height="7.0" fill="#0000ff" fill-opacity="0.19"/><rect x="340.4" y="482.2" width="7.0" height="3.0" fill="#0000ff" fill-opacity="0.20"/><rect x="86.9" y="224.7" width="3.0" height="7.0" fill="#0000ff" fill-opacity="0.20"/><rect x="340.4" y="479.2" width="7.0" height="3.0" fill="#0000ff" fill-opacity="0.21"/><rect x="89.9" y="224.7" width="3.0" height="7.0" fill="#0000ff" fill-opacity="0.21"/><rect x="340.4" y="476.2" width="7.0" height="3.0" fill="#0000ff" fill-opacity="0.24"/><rect x="92.9" y="224.7" width="3.0" height="7.0" fill="#0000ff" fill-opacity="0.24"/><rect x="340.4" y="474.2" width="7.0" height="2.0" fill="#0000ff" fill-opacity="0.20"/><rect x="95.9" y="224.7" width="2.0" height="7.0" fill="#0000ff" fill-opacity="0.20"/><rect x="340.4" y="472.2" width="7.0" height="2.0" fill="#0000ff" fill-opacity="0.23"/><rect x="97.9" y="224.7" width="2.0" height="7.0" fill="#0000ff" fill-opacity="0.23"/><rect x="340.4" y="469.2" width="7.0" height="3.0" fill="#0000ff" fill-opacity="0.18"/><rect x="99.9" y="224.7" width="3.0" height="7.0" fill="#0000ff" fill-opacity="0.18"/><rect x="340.4" y="462.2" width="7.0" height="2.0" fill="#0000ff" fill-opacity="0.22"/><rect x="107.9" y="224.7" width="2.0" height="7.0" fill="#0000ff" fill-opacity="0.22"/><rect x="340.4" y="459.2" width="7.0" height="3.0" fill="#0000ff" fill-opacity="0.19"/><rect x="109.9" y="224.7" width="3.0" height="7.0" fill="#0000ff" fill-opacity="0.19"/><rect x="340.4" y="457.2" width="7.0" height="2.0" fill="#0000ff" fill-opacity="0.20"/><rect x="112.9" y="224.7" width="2.0" height="7.0" fill="#0000ff" fill-opacity="0.20"/><rect x="340.4" y="451.2" width="7.0" height="6.0" fill="#0000ff" fill-opacity="0.18"/><rect x="114.9" y="224.7" width="6.0" height="7.0" fill="#0000ff" fill-opacity="0.18"/><rect x="340.4" y="449.2" width="7.0" height="2.0" fill="#0000ff" fill-opacity="0.25"/><rect x="120.9" y="224.7" width="2.0" height="7.0" fill="#0000ff" fill-opacity="0.25"/><rect x="340.4" y="445.2" width="7.0" height="4.0" fill="#0000ff" fill-opacity="0.20"/><rect x="122.9" y="224.7" width="4.0" height="7.0" fill="#0000ff" fill-opacity="0.20"/><rect x="340.4" y="441.2" width="7.0" height="4.0" fill="#0000ff" fill-opacity="0.30"/><rect x="126.9" y="224.7" width="4.0" height="7.0" fill="#0000ff" fill-opacity="0.30"/><rect x="340.4" y="437.2" width="7.0" height="4.0" fill="#00ff80" fill-opacity="0.11"/><rect x="130.9" y="224.7" width="4.0" height="7.0" fill="#00ff80" fill-opacity="0.11"/><rect x="340.4" y="429.2" width="7.0" height="2.0" fill="#0000ff" fill-opacity="0.29"/><rect x="140.9" y="224.7" width="2.0" height="7.0" fill="#0000ff" fill-opacity="0.29"/><rect x="340.4" y="426.2" width="7.0" height="3.0" fill="#0000ff" fill-opacity="0.20"/><rect x="142.9" y="224.7" width="3.0" height="7.0" fill="#0000ff" fill-opacity="0.20"/><rect x="340.4" y="424.2" width="7.0" height="2.0" fill="#0000ff" fill-opacity="0.25"/><rect x="145.9" y="224.7" width="2.0" height="7.0" fill="#0000ff" fill-opacity="0.25"/><rect x="340.4" y="419.2" width="7.0" height="5.0" fill="#0000ff" fill-opacity="0.22"/><rect x="147.9" y="224.7" width="5.0" height="7.0" fill="#0000ff" fill-opacity="0.22"/><rect x="340.4" y="414.2" width="7.0" height="3.0" fill="#0000ff" fill-opacity="0.30"/><rect x="154.9" y="224.7" width="3.0" height="7.0" fill="#0000ff" fill-opacity="0.30"/><rect x="340.4" y="408.2" width="7.0" height="6.0" fill="#0000ff" fill-opacity="0.21"/><rect x="157.9" y="224.7" width="6.0" height="7.0" fill="#0000ff" fill-opacity="0.21"/><rect x="340.4" y="405.2" width="7.0" height="3.0" fill="#0000ff" fill-opacity="0.28"/><rect x="163.9" y="224.7" width="3.0" height="7.0" fill="#0000ff" fill-opacity="0.28"/><rect x="340.4" y="402.2" width="7.0" height="3.0" fill="#0000ff" fill-opacity="0.29"/><rect x="166.9" y="224.7" width="3.0" height="7.0" fill="#0000ff" fill-opacity="0.29"/><rect x="340.4" y="396.2" width="7.0" height="6.0" fill="#0000ff" fill-opacity="0.30"/><rect x="169.9" y="224.7" width="6.0" height="7.0" fill="#0000ff" fill-opacity="0.30"/><rect x="340.4" y="390.2" width="7.0" height="6.0" fill="#0000ff" fill-opacity="0.18"/><rect x="175.9" y="224.7" width="6.0" height="7.0" fill="#0000ff" fill-opacity="0.18"/><rect x="340.4" y="387.2" width="7.0" height="3.0" fill="#0000ff" fill-opacity="0.28"/><rect x="181.9" y="224.7" width="3.0" height="7.0" fill="#0000ff" fill-opacity="0.28"/><rect x="340.4" y="385.2" width="7.0" height="2.0" fill="#0000ff" fill-opacity="0.24"/><rect x="184.9" y="224.7" width="2.0" height="7.0" fill="#0000ff" fill-opacity="0.24"/><rect x="340.4" y="380.2" width="7.0" height="5.0" fill="#0000ff" fill-opacity="0.26"/><rect x="186.9" y="224.7" width="5.0" height="7.0" fill="#0000ff" fill-opacity="0.26"/><rect x="340.4" y="377.2" width="7.0" height="3.0" fill="#0000ff" fill-opacity="0.25"/><rect x="191.9" y="224.7" width="3.0" height="7.0" fill="#0000ff" fill-opacity="0.25"/><rect x="340.4" y="375.2" width="7.0" height="2.0" fill="#0000ff" fill-opacity="0.16"/><rect x="194.9" y="224.7" width="2.0" height="7.0" fill="#0000ff" fill-opacity="0.16"/><rect x="340.4" y="373.2" width="7.0" height="2.0" fill="#0000ff" fill-opacity="0.25"/><rect x="196.9" y="224.7" width="2.0" height="7.0" fill="#0000ff" fill-opacity="0.25"/><rect x="340.4" y="371.2" width="7.0" height="2.0" fill="#0000ff" fill-opacity="0.26"/><rect x="198.9" y="224.7" width="2.0" height="7.0" fill="#0000ff" fill-opacity="0.26"/><rect x="340.4" y="364.2" width="7.0" height="4.0" fill="#0000ff" fill-opacity="0.27"/><rect x="203.9" y="224.7" width="4.0" height="7.0" fill="#0000ff" fill-opacity="0.27"/><rect x="340.4" y="362.2" width="7.0" height="2.0" fill="#00ff80" fill-opacity="0.11"/><rect x="207.9" y="224.7" width="2.0" height="7.0" fill="#00ff80" fill-opacity="0.11"/><rect x="340.4" y="349.2" width="7.0" height="6.0" fill="#0000ff" fill-opacity="0.18"/><rect x="216.9" y="224.7" width="6.0" height="7.0" fill="#0000ff" fill-opacity="0.18"/><rect x="340.4" y="347.2" width="7.0" height="2.0" fill="#0000ff" fill-opacity="0.18"/><rect x="222.9" y="224.7" width="2.0" height="7.0" fill="#0000ff" fill-opacity="0.18"/><rect x="340.4" y="345.2" width="7.0" height="2.0" fill="#0000ff" fill-opacity="0.18"/><rect x="224.9" y="224.7" width="2.0" height="7.0" fill="#0000ff" fill-opacity="0.18"/><rect x="340.4" y="337.2" width="7.0" height="6.0" fill="#0000ff" fill-opacity="0.24"/><rect x="228.9" y="224.7" width="6.0" height="7.0" fill="#0000ff" fill-opacity="0.24"/><rect x="340.4" y="335.2" width="7.0" height="2.0" fill="#0000ff" fill-opacity="0.26"/><rect x="234.9" y="224.7" width="2.0" height="7.0" fill="#0000ff" fill-opacity="0.26"/><rect x="340.4" y="332.2" width="7.0" height="3.0" fill="#0000ff" fill-opacity="0.26"/><rect x="236.9" y="224.7" width="3.0" height="7.0" fill="#0000ff" fill-opacity="0.26"/><rect x="340.4" y="328.2" width="7.0" height="4.0" fill="#0000ff" fill-opacity="0.20"/><rect x="239.9" y="224.7" width="4.0" height="7.0" fill="#0000ff" fill-opacity="0.20"/><rect x="340.4" y="324.2" width="7.0" height="4.0" fill="#0000ff" fill-opacity="0.17"/><rect x="243.9" y="224.7" width="4.0" height="7.0" fill="#0000ff" fill-opacity="0.17"/><rect x="340.4" y="320.2" width="7.0" height="2.0" fill="#0000ff" fill-opacity="0.30"/><rect x="249.9" y="224.7" width="2.0" height="7.0" fill="#0000ff" fill-opacity="0.30"/><rect x="340.4" y="314.2" width="7.0" height="6.0" fill="#0000ff" fill-opacity="0.24"/><rect x="251.9" y="224.7" width="6.0" height="7.0" fill="#0000ff" fill-opacity="0.24"/><rect x="340.4" y="312.2" width="7.0" height="2.0" fill="#0000ff" fill-opacity="0.08"/><rect x="257.9" y="224.7" width="2.0" height="7.0" fill="#0000ff" fill-opacity="0.08"/><rect x="340.4" y="310.2" width="7.0" height="2.0" fill="#0000ff" fill-opacity="0.10"/><rect x="259.9" y="224.7" width="2.0" height="7.0" fill="#0000ff" fill-opacity="0.10"/><rect x="340.4" y="307.2" width="7.0" height="3.0" fill="#0000ff" fill-opacity="0.09"/><rect x="261.9" y="224.7" width="3.0" height="7.0" fill="#0000ff" fill-opacity="0.09"/><rect x="340.4" y="296.2" width="7.0" height="5.0" fill="#00ff80" fill-opacity="0.04"/><rect x="270.9" y="224.7" width="5.0" height="7.0" fill="#00ff80" fill-opacity="0.04"/><rect x="340.4" y="294.2" width="7.0" height="2.0" fill="#00ff80" fill-opacity="0.04"/><rect x="275.9" y="224.7" width="2.0" height="7.0" fill="#00ff80" fill-opacity="0.04"/><rect x="340.4" y="291.2" width="7.0" height="3.0" fill="#00ff80" fill-opacity="0.04"/><rect x="277.9" y="224.7" width="3.0" height="7.0" fill="#00ff80" fill-opacity="0.04"/><rect x="340.4" y="286.2" width="7.0" height="5.0" fill="#0000ff" fill-opacity="0.06"/><rect x="280.9" y="224.7" width="5.0" height="7.0" fill="#0000ff" fill-opacity="0.06"/><rect x="340.4" y="280.2" width="7.0" height="6.0" fill="#00ff80" fill-opacity="0.04"/><rect x="285.9" y="224.7" width="6.0" height="7.0" fill="#00ff80" fill-opacity="0.04"/><rect x="340.4" y="277.2" width="7.0" height="3.0" fill="#0000ff" fill-opacity="0.08"/><rect x="291.9" y="224.7" width="3.0" height="7.0" fill="#0000ff" fill-opacity="0.08"/><rect x="340.4" y="274.2" width="7.0" height="3.0" fill="#0000ff" fill-opacity="0.09"/><rect x="294.9" y="224.7" width="3.0" height="7.0" fill="#0000ff" fill-opacity="0.09"/><rect x="340.4" y="268.2" width="7.0" height="6.0" fill="#00ff80" fill-opacity="0.04"/><rect x="297.9" y="224.7" width="6.0" height="7.0" fill="#00ff80" fill-opacity="0.04"/><rect x="340.4" y="265.2" width="7.0" height="3.0" fill="#0000ff" fill-opacity="0.07"/><rect x="303.9" y="224.7" width="3.0" height="7.0" fill="#0000ff" fill-opacity="0.07"/><rect x="340.4" y="260.2" width="7.0" height="2.0" fill="#0000ff" fill-opacity="0.10"/><rect x="309.9" y="224.7" width="2.0" height="7.0" fill="#0000ff" fill-opacity="0.10"/><rect x="340.4" y="258.2" width="7.0" height="2.0" fill="#0000ff" fill-opacity="0.08"/><rect x="311.9" y="224.7" width="2.0" height="7.0" fill="#0000ff" fill-opacity="0.08"/><rect x="340.4" y="256.2" width="7.0" height="2.0" fill="#00ff80" fill-opacity="0.04"/><rect x="313.9" y="224.7" width="2.0" height="7.0" fill="#00ff80" fill-opacity="0.04"/><rect x="340.4" y="250.2" width="7.0" height="6.0" fill="#0000ff" fill-opacity="0.10"/><rect x="315.9" y="224.7" width="6.0" height="7.0" fill="#0000ff" fill-opacity="0.10"/><rect x="340.4" y="244.2" width="7.0" height="6.0" fill="#0000ff" fill-opacity="0.06"/><rect x="321.9" y="224.7" width="6.0" height="7.0" fill="#0000ff" fill-opacity="0.06"/><rect x="340.4" y="238.2" width="7.0" height="6.0" fill="#0000ff" fill-opacity="0.08"/><rect x="327.9" y="224.7" width="6.0" height="7.0" fill="#0000ff" fill-opacity="0.08"/><rect x="340.4" y="232.2" width="7.0" height="6.0" fill="#0000ff" fill-opacity="0.08"/><rect x="333.9" y="224.7" width="6.0" height="7.0" fill="#0000ff" fill-opacity="0.08"/><rect x="340.4" y="229.2" width="7.0" height="3.0" fill="#0000ff" fill-opacity="0.10"/><rect x="339.9" y="224.7" width="3.0" height="7.0" fill="#0000ff" fill-opacity="0.10"/><rect x="340.4" y="225.2" width="7.0" height="4.0" fill="#0000ff" fill-opacity="0.05"/><rect x="342.9" y="224.7" width="4.0" height="7.0" fill="#0000ff" fill-opacity="0.05"/><rect x="340.4" y="223.2" width="7.0" height="2.0" fill="#0000ff" fill-opacity="0.07"/><rect x="346.9" y="224.7" width="2.0" height="7.0" fill="#0000ff" fill-opacity="0.07"/><rect x="340.4" y="217.2" width="7.0" height="6.0" fill="#0000ff" fill-opacity="0.07"/><rect x="348.9" y="224.7" width="6.0" height="7.0" fill="#0000ff" fill-opacity="0.07"/><rect x="340.4" y="211.2" width="7.0" height="6.0" fill="#0000ff" fill-opacity="0.09"/><rect x="354.9" y="224.7" width="6.0" height="7.0" fill="#0000ff" fill-opacity="0.09"/><rect x="340.4" y="205.2" width="7.0" height="6.0" fill="#0000ff" fill-opacity="0.09"/><rect x="360.9" y="224.7" width="6.0" height="7.0" fill="#0000ff" fill-opacity="0.09"/><rect x="340.4" y="202.2" width="7.0" height="3.0" fill="#0000ff" fill-opacity="0.06"/><rect x="366.9" y="224.7" width="3.0" height="7.0" fill="#0000ff" fill-opacity="0.06"/><rect x="340.4" y="197.2" width="7.0" height="5.0" fill="#0000ff" fill-opacity="0.09"/><rect x="369.9" y="224.7" width="5.0" height="7.0" fill="#0000ff" fill-opacity="0.09"/><rect x="340.4" y="191.2" width="7.0" height="6.0" fill="#0000ff" fill-opacity="0.07"/><rect x="374.9" y="224.7" width="6.0" height="7.0" fill="#0000ff" fill-opacity="0.07"/><rect x="340.4" y="185.2" width="7.0" height="6.0" fill="#00ff80" fill-opacity="0.04"/><rect x="380.9" y="224.7" width="6.0" height="7.0" fill="#00ff80" fill-opacity="0.04"/><rect x="340.4" y="183.2" width="7.0" height="2.0" fill="#0000ff" fill-opacity="0.08"/><rect x="386.9" y="224.7" width="2.0" height="7.0" fill="#0000ff" fill-opacity="0.08"/><rect x="340.4" y="177.2" width="7.0" height="6.0" fill="#0000ff" fill-opacity="0.06"/><rect x="388.9" y="224.7" width="6.0" height="7.0" fill="#0000ff" fill-opacity="0.06"/><rect x="340.4" y="171.2" width="7.0" height="6.0" fill="#00ff80" fill-opacity="0.04"/><rect x="394.9" y="224.7" width="6.0" height="7.0" fill="#00ff80" fill-opacity="0.04"/><rect x="340.4" y="168.2" width="7.0" height="3.0" fill="#00ff80" fill-opacity="0.04"/><rect x="400.9" y="224.7" width="3.0" height="7.0" fill="#00ff80" fill-opacity="0.04"/><rect x="340.4" y="163.2" width="7.0" height="5.0" fill="#0000ff" fill-opacity="0.09"/><rect x="403.9" y="224.7" width="5.0" height="7.0" fill="#0000ff" fill-opacity="0.09"/><rect x="340.4" y="160.2" width="7.0" height="3.0" fill="#0000ff" fill-opacity="0.09"/><rect x="408.9" y="224.7" width="3.0" height="7.0" fill="#0000ff" fill-opacity="0.09"/><rect x="340.4" y="157.2" width="7.0" height="3.0" fill="#0000ff" fill-opacity="0.08"/><rect x="411.9" y="224.7" width="3.0" height="7.0" fill="#0000ff" fill-opacity="0.08"/><rect x="340.4" y="154.2" width="7.0" height="3.0" fill="#0000ff" fill-opacity="0.10"/><rect x="414.9" y="224.7" width="3.0" height="7.0" fill="#0000ff" fill-opacity="0.10"/><rect x="340.4" y="151.2" width="7.0" height="3.0" fill="#0000ff" fill-opacity="0.09"/><rect x="417.9" y="224.7" width="3.0" height="7.0" fill="#0000ff" fill-opacity="0.09"/><rect x="340.4" y="146.2" width="7.0" height="5.0" fill="#0000ff" fill-opacity="0.06"/><rect x="420.9" y="224.7" width="5.0" height="7.0" fill="#0000ff" fill-opacity="0.06"/><rect x="340.4" y="141.2" width="7.0" height="5.0" fill="#0000ff" fill-opacity="0.10"/><rect x="425.9" y="224.7" width="5.0" height="7.0" fill="#0000ff" fill-opacity="0.10"/><rect x="340.4" y="137.2" width="7.0" height="4.0" fill="#0000ff" fill-opacity="0.10"/><rect x="430.9" y="224.7" width="4.0" height="7.0" fill="#0000ff" fill-opacity="0.10"/><rect x="340.4" y="134.2" width="7.0" height="3.0" fill="#0000ff" fill-opacity="0.10"/><rect x="434.9" y="224.7" width="3.0" height="7.0" fill="#0000ff" fill-opacity="0.10"/><rect x="340.4" y="131.2" width="7.0" height="3.0" fill="#0000ff" fill-opacity="0.09"/><rect x="437.9" y="224.7" width="3.0" height="7.0" fill="#0000ff" fill-opacity="0.09"/><rect x="340.4" y="125.2" width="7.0" height="6.0" fill="#0000ff" fill-opacity="0.06"/><rect x="440.9" y="224.7" width="6.0" height="7.0" fill="#0000ff" fill-opacity="0.06"/><rect x="340.4" y="119.2" width="7.0" height="6.0" fill="#0000ff" fill-opacity="0.10"/><rect x="446.9" y="224.7" width="6.0" height="7.0" fill="#0000ff" fill-opacity="0.10"/><rect x="340.4" y="116.2" width="7.0" height="3.0" fill="#0000ff" fill-opacity="0.07"/><rect x="452.9" y="224.7" width="3.0" height="7.0" fill="#0000ff" fill-opacity="0.07"/><rect x="340.4" y="113.2" width="7.0" height="3.0" fill="#0000ff" fill-opacity="0.07"/><rect x="455.9" y="224.7" width="3.0" height="7.0" fill="#0000ff" fill-opacity="0.07"/><rect x="340.4" y="111.2" width="7.0" height="2.0" fill="#0000ff" fill-opacity="0.09"/><rect x="458.9" y="224.7" width="2.0" height="7.0" fill="#0000ff" fill-opacity="0.09"/><rect x="340.4" y="106.2" width="7.0" height="5.0" fill="#0000ff" fill-opacity="0.09"/><rect x="460.9" y="224.7" width="5.0" height="7.0" fill="#0000ff" fill-opacity="0.09"/><rect x="340.4" y="95.2" width="7.0" height="5.0" fill="#0000ff" fill-opacity="0.09"/><rect x="471.9" y="224.7" width="5.0" height="7.0" fill="#0000ff" fill-opacity="0.09"/><rect x="340.4" y="90.2" width="7.0" height="5.0" fill="#00ff80" fill-opacity="0.04"/><rect x="476.9" y="224.7" width="5.0" height="7.0" fill="#00ff80" fill-opacity="0.04"/><rect x="340.4" y="86.2" width="7.0" height="4.0" fill="#0000ff" fill-opacity="0.06"/><rect x="481.9" y="224.7" width="4.0" height="7.0" fill="#0000ff" fill-opacity="0.06"/><rect x="340.4" y="84.2" width="7.0" height="2.0" fill="#0000ff" fill-opacity="0.09"/><rect x="485.9" y="224.7" width="2.0" height="7.0" fill="#0000ff" fill-opacity="0.09"/><rect x="340.4" y="82.2" width="7.0" height="2.0" fill="#0000ff" fill-opacity="0.08"/><rect x="487.9" y="224.7" width="2.0" height="7.0" fill="#0000ff" fill-opacity="0.08"/><rect x="340.4" y="75.2" width="7.0" height="5.0" fill="#0000ff" fill-opacity="0.08"/><rect x="491.9" y="224.7" width="5.0" height="7.0" fill="#0000ff" fill-opacity="0.08"/><rect x="340.4" y="72.2" width="7.0" height="3.0" fill="#00ff80" fill-opacity="0.04"/><rect x="496.9" y="224.7" width="3.0" height="7.0" fill="#00ff80" fill-opacity="0.04"/><rect x="340.4" y="70.2" width="7.0" height="2.0" fill="#0000ff" fill-opacity="0.08"/><rect x="499.9" y="224.7" width="2.0" height="7.0" fill="#0000ff" fill-opacity="0.08"/><rect x="340.4" y="59.2" width="7.0" height="6.0" fill="#0000ff" fill-opacity="0.10"/><rect x="506.9" y="224.7" width="6.0" height="7.0" fill="#0000ff" fill-opacity="0.10"/><rect x="340.4" y="54.2" width="7.0" height="5.0" fill="#0000ff" fill-opacity="0.08"/><rect x="512.9" y="224.7" width="5.0" height="7.0" fill="#0000ff" fill-opacity="0.08"/><rect x="340.4" y="51.2" width="7.0" height="3.0" fill="#00ff80" fill-opacity="0.04"/><rect x="517.9" y="224.7" width="3.0" height="7.0" fill="#00ff80" fill-opacity="0.04"/><rect x="340.4" y="43.2" width="7.0" height="6.0" fill="#0000ff" fill-opacity="0.07"/><rect x="522.9" y="224.7" width="6.0" height="7.0" fill="#0000ff" fill-opacity="0.07"/><rect x="340.4" y="41.2" width="7.0" height="2.0" fill="#0000ff" fill-opacity="0.07"/><rect x="528.9" y="224.7" width="2.0" height="7.0" fill="#0000ff" fill-opacity="0.07"/><rect x="340.4" y="36.2" width="7.0" height="5.0" fill="#0000ff" fill-opacity="0.09"/><rect x="530.9" y="224.7" width="5.0" height="7.0" fill="#0000ff" fill-opacity="0.09"/><rect x="340.4" y="34.2" width="7.0" height="2.0" fill="#0000ff" fill-opacity="0.08"/><rect x="535.9" y="224.7" width="2.0" height="7.0" fill="#0000ff" fill-opacity="0.08"/><rect x="340.4" y="31.2" width="7.0" height="3.0" fill="#0000ff" fill-opacity="0.10"/><rect x="537.9" y="224.7" width="3.0" height="7.0" fill="#0000ff" fill-opacity="0.10"/><rect x="340.4" y="29.2" width="7.0" height="2.0" fill="#0000ff" fill-opacity="0.09"/><rect x="540.9" y="224.7" width="2.0" height="7.0" fill="#0000ff" fill-opacity="0.09"/><rect x="340.4" y="23.2" width="7.0" height="3.0" fill="#0000ff" fill-opacity="0.08"/><rect x="545.9" y="224.7" width="3.0" height="7.0" fill="#0000ff" fill-opacity="0.08"/><rect x="340.4" y="15.2" width="7.0" height="3.0" fill="#0000ff" fill-opacity="0.10"/><rect x="553.9" y="224.7" width="3.0" height="7.0" fill="#0000ff" fill-opacity="0.10"/><rect x="340.4" y="13.2" width="7.0" height="2.0" fill="#0000ff" fill-opacity="0.06"/><rect x="556.9" y="224.7" width="2.0" height="7.0" fill="#0000ff" fill-opacity="0.06"/><rect x="340.4" y="8.2" width="7.0" height="5.0" fill="#0000ff" fill-opacity="0.10"/><rect x="558.9" y="224.7" width="5.0" height="7.0" fill="#0000ff" fill-opacity="0.10"/><rect x="115.4" y="568.2" width="6.0" height="3.0" fill="#0000ff" fill-opacity="0.24"/><rect x="0.9" y="450.7" width="3.0" height="6.0" fill="#0000ff" fill-opacity="0.24"/><rect x="115.4" y="565.2" width="6.0" height="3.0" fill="#00ff80" fill-opacity="0.12"/><rect x="3.9" y="450.7" width="3.0" height="6.0" fill="#00ff80" fill-opacity="0.12"/><rect x="115.4" y="563.2" width="6.0" height="2.0" fill="#0000ff" fill-opacity="0.22"/><rect x="6.9" y="450.7" width="2.0" height="6.0" fill="#0000ff" fill-opacity="0.22"/><rect x="115.4" y="560.2" width="6.0" height="3.0" fill="#0000ff" fill-opacity="0.23"/><rect x="8.9" y="450.7" width="3.0" height="6.0" fill="#0000ff" fill-opacity="0.23"/><rect x="115.4" y="555.2" width="6.0" height="5.0" fill="#0000ff" fill-opacity="0.34"/><rect x="11.9" y="450.7" width="5.0" height="6.0" fill="#0000ff" fill-opacity="0.34"/><rect x="115.4" y="552.2" width="6.0" height="3.0" fill="#0000ff" fill-opacity="0.24"/><rect x="16.9" y="450.7" width="3.0" height="6.0" fill="#0000ff" fill-opacity="0.24"/><rect x="115.4" y="550.2" width="6.0" height="2.0" fill="#0000ff" fill-opacity="0.24"/><rect x="19.9" y="450.7" width="2.0" height="6.0" fill="#0000ff" fill-opacity="0.24"/><rect x="115.4" y="546.2" width="6.0" height="4.0" fill="#0000ff" fill-opacity="0.29"/><rect x="21.9" y="450.7" width="4.0" height="6.0" fill="#0000ff" fill-opacity="0.29"/><rect x="115.4" y="539.2" width="6.0" height="5.0" fill="#0000ff" fill-opacity="0.28"/><rect x="27.9" y="450.7" width="5.0" height="6.0" fill="#0000ff" fill-opacity="0.28"/><rect x="115.4" y="536.2" width="6.0" height="3.0" fill="#0000ff" fill-opacity="0.22"/><rect x="32.9" y="450.7" width="3.0" height="6.0" fill="#0000ff" fill-opacity="0.22"/><rect x="115.4" y="532.2" width="6.0" height="4.0" fill="#0000ff" fill-opacity="0.23"/><rect x="35.9" y="450.7" width="4.0" height="6.0" fill="#0000ff" fill-opacity="0.23"/><rect x="115.4" y="529.2" width="6.0" height="3.0" fill="#00ff80" fill-opacity="0.12"/><rect x="39.9" y="450.7" width="3.0" height="6.0" fill="#00ff80" fill-opacity="0.12"/><rect x="115.4" y="524.2" width="6.0" height="5.0" fill="#0000ff" fill-opacity="0.31"/><rect x="42.9" y="450.7" width="5.0" height="6.0" fill="#0000ff" fill-opacity="0.31"/><rect x="115.4" y="510.2" width="6.0" height="3.0" fill="#0000ff" fill-opacity="0.25"/><rect x="58.9" y="450.7" width="3.0" height="6.0" fill="#0000ff" fill-opacity="0.25"/><rect x="115.4" y="501.2" width="6.0" height="3.0" fill="#00ff80" fill-opacity="0.12"/><rect x="67.9" y="450.7" width="3.0" height="6.0" fill="#00ff80" fill-opacity="0.12"/><rect x="115.4" y="497.2" width="6.0" height="4.0" fill="#0000ff" fill-opacity="0.34"/><rect x="70.9" y="450.7" width="4.0" height="6.0" fill="#0000ff" fill-opacity="0.34"/><rect x="115.4" y="493.2" width="6.0" height="4.0" fill="#0000ff" fill-opacity="0.25"/><rect x="74.9" y="450.7" width="4.0" height="6.0" fill="#0000ff" fill-opacity="0.25"/><rect x="115.4" y="490.2" width="6.0" height="3.0" fill="#0000ff" fill-opacity="0.21"/><rect x="78.9" y="450.7" width="3.0" height="6.0" fill="#0000ff" fill-opacity="0.21"/><rect x="115.4" y="485.2" width="6.0" height="5.0" fill="#0000ff" fill-opacity="0.28"/><rect x="81.9" y="450.7" width="5.0" height="6.0" fill="#0000ff" fill-opacity="0.28"/><rect x="115.4" y="480.2" width="6.0" height="5.0" fill="#0000ff" fill-opacity="0.31"/><rect x="86.9" y="450.7" width="5.0" height="6.0" fill="#0000ff" fill-opacity="0.31"/><rect x="115.4" y="475.2" width="6.0" height="5.0" fill="#00ff80" fill-opacity="0.12"/><rect x="91.9" y="450.7" width="5.0" height="6.0" fill="#00ff80" fill-opacity="0.12"/><rect x="115.4" y="472.2" width="6.0" height="3.0" fill="#0000ff" fill-opacity="0.32"/><rect x="96.9" y="450.7" width="3.0" height="6.0" fill="#0000ff" fill-opacity="0.32"/><rect x="115.4" y="468.2" width="6.0" height="4.0" fill="#00ff80" fill-opacity="0.12"/><rect x="99.9" y="450.7" width="4.0" height="6.0" fill="#00ff80" fill-opacity="0.12"/><rect x="115.4" y="464.2" width="6.0" height="4.0" fill="#0000ff" fill-opacity="0.21"/><rect x="103.9" y="450.7" width="4.0" height="6.0" fill="#0000ff" fill-opacity="0.21"/><rect x="115.4" y="461.2" width="6.0" height="3.0" fill="#0000ff" fill-opacity="0.25"/><rect x="107.9" y="450.7" width="3.0" height="6.0" fill="#0000ff" fill-opacity="0.25"/><rect x="115.4" y="458.2" width="6.0" height="3.0" fill="#0000ff" fill-opacity="0.20"/><rect x="110.9" y="450.7" width="3.0" height="6.0" fill="#0000ff" fill-opacity="0.20"/><rect x="115.4" y="456.2" width="6.0" height="2.0" fill="#0000ff" fill-opacity="0.26"/><rect x="113.9" y="450.7" width="2.0" height="6.0" fill="#0000ff" fill-opacity="0.26"/><rect x="115.4" y="454.2" width="6.0" height="2.0" fill="#0000ff" fill-opacity="0.33"/><rect x="115.9" y="450.7" width="2.0" height="6.0" fill="#0000ff" fill-opacity="0.33"/><rect x="115.4" y="451.2" width="6.0" height="3.0" fill="#0000ff" fill-opacity="0.21"/><rect x="117.9" y="450.7" width="3.0" height="6.0" fill="#0000ff" fill-opacity="0.21"/><rect x="115.4" y="444.2" width="6.0" height="3.0" fill="#0000ff" fill-opacity="0.22"/><rect x="124.9" y="450.7" width="3.0" height="6.0" fill="#0000ff" fill-opacity="0.22"/><rect x="115.4" y="436.2" width="6.0" height="6.0" fill="#0000ff" fill-opacity="0.31"/><rect x="129.9" y="450.7" width="6.0" height="6.0" fill="#0000ff" fill-opacity="0.31"/><rect x="115.4" y="430.2" width="6.0" height="4.0" fill="#0000ff" fill-opacity="0.21"/><rect x="137.9" y="450.7" width="4.0" height="6.0" fill="#0000ff" fill-opacity="0.21"/><rect x="115.4" y="424.2" width="6.0" height="3.0" fill="#0000ff" fill-opacity="0.21"/><rect x="144.9" y="450.7" width="3.0" height="6.0" fill="#0000ff" fill-opacity="0.21"/><rect x="115.4" y="421.2" width="6.0" height="3.0" fill="#0000ff" fill-opacity="0.26"/><rect x="147.9" y="450.7" width="3.0" height="6.0" fill="#0000ff" fill-opacity="0.26"/><rect x="115.4" y="417.2" width="6.0" height="2.0" fill="#0000ff" fill-opacity="0.33"/><rect x="152.9" y="450.7" width="2.0" height="6.0" fill="#0000ff" fill-opacity="0.33"/><rect x="115.4" y="409.2" width="6.0" height="5.0" fill="#00ff80" fill-opacity="0.12"/><rect x="157.9" y="450.7" width="5.0" height="6.0" fill="#00ff80" fill-opacity="0.12"/><rect x="115.4" y="403.2" width="6.0" height="6.0" fill="#0000ff" fill-opacity="0.21"/><rect x="162.9" y="450.7" width="6.0" height="6.0" fill="#0000ff" fill-opacity="0.21"/><rect x="115.4" y="400.2" width="6.0" height="3.0" fill="#0000ff" fill-opacity="0.28"/><rect x="168.9" y="450.7" width="3.0" height="6.0" fill="#0000ff" fill-opacity="0.28"/><rect x="115.4" y="398.2" width="6.0" height="2.0" fill="#00ff80" fill-opacity="0.12"/><rect x="171.9" y="450.7" width="2.0" height="6.0" fill="#00ff80" fill-opacity="0.12"/><rect x="115.4" y="392.2" width="6.0" height="6.0" fill="#0000ff" fill-opacity="0.23"/><rect x="173.9" y="450.7" width="6.0" height="6.0" fill="#0000ff" fill-opacity="0.23"/><rect x="115.4" y="389.2" width="6.0" height="3.0" fill="#0000ff" fill-opacity="0.33"/><rect x="179.9" y="450.7" width="3.0" height="6.0" fill="#0000ff" fill-opacity="0.33"/><rect x="115.4" y="386.2" width="6.0" height="3.0" fill="#0000ff" fill-opacity="0.20"/><rect x="182.9" y="450.7" width="3.0" height="6.0" fill="#0000ff" fill-opacity="0.20"/><rect x="115.4" y="383.2" width="6.0" height="3.0" fill="#0000ff" fill-opacity="0.21"/><rect x="185.9" y="450.7" width="3.0" height="6.0" fill="#0000ff" fill-opacity="0.21"/><rect x="115.4" y="380.2" width="6.0" height="3.0" fill="#00ff80" fill-opacity="0.12"/><rect x="188.9" y="450.7" width="3.0" height="6.0" fill="#00ff80" fill-opacity="0.12"/><rect x="115.4" y="376.2" width="6.0" height="4.0" fill="#0000ff" fill-opacity="0.30"/><rect x="191.9" y="450.7" width="4.0" height="6.0" fill="#0000ff" fill-opacity="0.30"/><rect x="115.4" y="371.2" width="6.0" height="3.0" fill="#0000ff" fill-opacity="0.21"/><rect x="197.9" y="450.7" width="3.0" height="6.0" fill="#0000ff" fill-opacity="0.21"/><rect x="115.4" y="368.2" width="6.0" height="3.0" fill="#0000ff" fill-opacity="0.28"/><rect x="200.9" y="450.7" width="3.0" height="6.0" fill="#0000ff" fill-opacity="0.28"/><rect x="115.4" y="366.2" width="6.0" height="2.0" fill="#0000ff" fill-opacity="0.26"/><rect x="203.9" y="450.7" width="2.0" height="6.0" fill="#0000ff" fill-opacity="0.26"/><rect x="115.4" y="364.2" width="6.0" height="2.0" fill="#0000ff" fill-opacity="0.34"/><rect x="205.9" y="450.7" width="2.0" height="6.0" fill="#0000ff" fill-opacity="0.34"/><rect x="115.4" y="360.2" width="6.0" height="2.0" fill="#0000ff" fill-opacity="0.19"/><rect x="209.9" y="450.7" width="2.0" height="6.0" fill="#0000ff" fill-opacity="0.19"/><rect x="115.4" y="355.2" width="6.0" height="5.0" fill="#0000ff" fill-opacity="0.21"/><rect x="211.9" y="450.7" width="5.0" height="6.0" fill="#0000ff" fill-opacity="0.21"/><rect x="115.4" y="349.2" width="6.0" height="6.0" fill="#0000ff" fill-opacity="0.26"/><rect x="216.9" y="450.7" width="6.0" height="6.0" fill="#0000ff" fill-opacity="0.26"/><rect x="115.4" y="345.2" width="6.0" height="4.0" fill="#0000ff" fill-opacity="0.31"/><rect x="222.9" y="450.7" width="4.0" height="6.0" fill="#0000ff" fill-opacity="0.31"/><rect x="115.4" y="342.2" width="6.0" height="3.0" fill="#0000ff" fill-opacity="0.30"/><rect x="226.9" y="450.7" width="3.0" height="6.0" fill="#0000ff" fill-opacity="0.30"/><rect x="115.4" y="339.2" width="6.0" height="3.0" fill="#0000ff" fill-opacity="0.21"/><rect x="229.9" y="450.7" width="3.0" height="6.0" fill="#0000ff" fill-opacity="0.21"/><rect x="115.4" y="335.2" width="6.0" height="4.0" fill="#0000ff" fill-opacity="0.33"/><rect x="232.9" y="450.7" width="4.0" height="6.0" fill="#0000ff" fill-opacity="0.33"/><rect x="115.4" y="331.2" width="6.0" height="4.0" fill="#0000ff" fill-opacity="0.31"/><rect x="236.9" y="450.7" width="4.0" height="6.0" fill="#0000ff" fill-opacity="0.31"/><rect x="115.4" y="327.2" width="6.0" height="4.0" fill="#0000ff" fill-opacity="0.22"/><rect x="240.9" y="450.7" width="4.0" height="6.0" fill="#0000ff" fill-opacity="0.22"/><rect x="115.4" y="324.2" width="6.0" height="3.0" fill="#0000ff" fill-opacity="0.23"/><rect x="244.9" y="450.7" width="3.0" height="6.0" fill="#0000ff" fill-opacity="0.23"/><rect x="115.4" y="322.2" width="6.0" height="2.0" fill="#00ff80" fill-opacity="0.12"/><rect x="247.9" y="450.7" width="2.0" height="6.0" fill="#00ff80" fill-opacity="0.12"/><rect x="115.4" y="315.2" width="6.0" height="3.0" fill="#0000ff" fill-opacity="0.20"/><rect x="253.9" y="450.7" width="3.0" height="6.0" fill="#0000ff" fill-opacity="0.20"/><rect x="115.4" y="309.2" width="6.0" height="6.0" fill="#0000ff" fill-opacity="0.17"/><rect x="256.9" y="450.7" width="6.0" height="6.0" fill="#0000ff" fill-opacity="0.17"/><rect x="115.4" y="306.2" width="6.0" height="3.0" fill="#0000ff" fill-opacity="0.16"/><rect x="262.9" y="450.7" width="3.0" height="6.0" fill="#0000ff" fill-opacity="0.16"/><rect x="115.4" y="299.2" width="6.0" height="4.0" fill="#0000ff" fill-opacity="0.15"/><rect x="268.9" y="450.7" width="4.0" height="6.0" fill="#0000ff" fill-opacity="0.15"/><rect x="115.4" y="295.2" width="6.0" height="2.0" fill="#0000ff" fill-opacity="0.12"/><rect x="274.9" y="450.7" width="2.0" height="6.0" fill="#0000ff" fill-opacity="0.12"/><rect x="115.4" y="293.2" width="6.0" height="2.0" fill="#00ff80" fill-opacity="0.07"/><rect x="276.9" y="450.7" width="2.0" height="6.0" fill="#00ff80" fill-opacity="0.07"/><rect x="115.4" y="291.2" width="6.0" height="2.0" fill="#0000ff" fill-opacity="0.16"/><rect x="278.9" y="450.7" width="2.0" height="6.0" fill="#0000ff" fill-opacity="0.16"/><rect x="115.4" y="288.2" width="6.0" height="3.0" fill="#0000ff" fill-opacity="0.14"/><rect x="280.9" y="450.7" width="3.0" height="6.0" fill="#0000ff" fill-opacity="0.14"/><rect x="115.4" y="286.2" width="6.0" height="2.0" fill="#00ff80" fill-opacity="0.07"/><rect x="283.9" y="450.7" width="2.0" height="6.0" fill="#00ff80" fill-opacity="0.07"/><rect x="115.4" y="280.2" width="6.0" height="6.0" fill="#0000ff" fill-opacity="0.15"/><rect x="285.9" y="450.7" width="6.0" height="6.0" fill="#0000ff" fill-opacity="0.15"/><rect x="115.4" y="278.2" width="6.0" height="2.0" fill="#0000ff" fill-opacity="0.11"/><rect x="291.9" y="450.7" width="2.0" height="6.0" fill="#0000ff" fill-opacity="0.11"/><rect x="115.4" y="274.2" width="6.0" height="4.0" fill="#0000ff" fill-opacity="0.13"/><rect x="293.9" y="450.7" width="4.0" height="6.0" fill="#0000ff" fill-opacity="0.13"/><rect x="115.4" y="268.2" width="6.0" height="6.0" fill="#0000ff" fill-opacity="0.17"/><rect x="297.9" y="450.7" width="6.0" height="6.0" fill="#0000ff" fill-opacity="0.17"/><rect x="115.4" y="262.2" width="6.0" height="3.0" fill="#00ff80" fill-opacity="0.07"/><rect x="306.9" y="450.7" width="3.0" height="6.0" fill="#00ff80" fill-opacity="0.07"/><rect x="115.4" y="260.2" width="6.0" height="2.0" fill="#0000ff" fill-opacity="0.19"/><rect x="309.9" y="450.7" width="2.0" height="6.0" fill="#0000ff" fill-opacity="0.19"/><rect x="115.4" y="258.2" width="6.0" height="2.0" fill="#00ff80" fill-opacity="0.07"/><rect x="311.9" y="450.7" width="2.0" height="6.0" fill="#00ff80" fill-opacity="0.07"/><rect x="115.4" y="254.2" width="6.0" height="4.0" fill="#0000ff" fill-opacity="0.20"/><rect x="313.9" y="450.7" width="4.0" height="6.0" fill="#0000ff" fill-opacity="0.20"/><rect x="115.4" y="251.2" width="6.0" height="3.0" fill="#0000ff" fill-opacity="0.17"/><rect x="317.9" y="450.7" width="3.0" height="6.0" fill="#0000ff" fill-opacity="0.17"/><rect x="115.4" y="249.2" width="6.0" height="2.0" fill="#0000ff" fill-opacity="0.11"/><rect x="320.9" y="450.7" width="2.0" height="6.0" fill="#0000ff" fill-opacity="0.11"/><rect x="115.4" y="243.2" width="6.0" height="6.0" fill="#0000ff" fill-opacity="0.13"/><rect x="322.9" y="450.7" width="6.0" height="6.0" fill="#0000ff" fill-opacity="0.13"/><rect x="115.4" y="241.2" width="6.0" height="2.0" fill="#0000ff" fill-opacity="0.19"/><rect x="328.9" y="450.7" width="2.0" height="6.0" fill="#0000ff" fill-opacity="0.19"/><rect x="115.4" y="237.2" width="6.0" height="4.0" fill="#0000ff" fill-opacity="0.13"/><rect x="330.9" y="450.7" width="4.0" height="6.0" fill="#0000ff" fill-opacity="0.13"/><rect x="115.4" y="235.2" width="6.0" height="2.0" fill="#0000ff" fill-opacity="0.14"/><rect x="334.9" y="450.7" width="2.0" height="6.0" fill="#0000ff" fill-opacity="0.14"/><rect x="115.4" y="232.2" width="6.0" height="3.0" fill="#0000ff" fill-opacity="0.16"/><rect x="336.9" y="450.7" width="3.0" height="6.0" fill="#0000ff" fill-opacity="0.16"/><rect x="115.4" y="226.2" width="6.0" height="3.0" fill="#0000ff" fill-opacity="0.18"/><rect x="342.9" y="450.7" width="3.0" height="6.0" fill="#0000ff" fill-opacity="0.18"/><rect x="115.4" y="222.2" width="6.0" height="4.0" fill="#0000ff" fill-opacity="0.13"/><rect x="345.9" y="450.7" width="4.0" height="6.0" fill="#0000ff" fill-opacity="0.13"/><rect x="115.4" y="216.2" width="6.0" height="6.0" fill="#00ff80" fill-opacity="0.07"/><rect x="349.9" y="450.7" width="6.0" height="6.0" fill="#00ff80" fill-opacity="0.07"/><rect x="115.4" y="210.2" width="6.0" height="6.0" fill="#00ff80" fill-opacity="0.07"/><rect x="355.9" y="450.7" width="6.0" height="6.0" fill="#00ff80" fill-opacity="0.07"/><rect x="115.4" y="207.2" width="6.0" height="3.0" fill="#0000ff" fill-opacity="0.19"/><rect x="361.9" y="450.7" width="3.0" height="6.0" fill="#0000ff" fill-opacity="0.19"/><rect x="115.4" y="205.2" width="6.0" height="2.0" fill="#00ff80" fill-opacity="0.07"/><rect x="364.9" y="450.7" width="2.0" height="6.0" fill="#00ff80" fill-opacity="0.07"/><rect x="115.4" y="201.2" width="6.0" height="4.0" fill="#0000ff" fill-opacity="0.12"/><rect x="366.9" y="450.7" width="4.0" height="6.0" fill="#0000ff" fill-opacity="0.12"/><rect x="115.4" y="199.2" width="6.0" height="2.0" fill="#00ff80" fill-opacity="0.07"/><rect x="370.9" y="450.7" width="2.0" height="6.0" fill="#00ff80" fill-opacity="0.07"/><rect x="115.4" y="193.2" width="6.0" height="6.0" fill="#00ff80" fill-opacity="0.07"/><rect x="372.9" y="450.7" width="6.0" height="6.0" fill="#00ff80" fill-opacity="0.07"/><rect x="115.4" y="189.2" width="6.0" height="4.0" fill="#0000ff" fill-opacity="0.18"/><rect x="378.9" y="450.7" width="4.0" height="6.0" fill="#0000ff" fill-opacity="0.18"/><rect x="115.4" y="184.2" width="6.0" height="5.0" fill="#0000ff" fill-opacity="0.13"/><rect x="382.9" y="450.7" width="5.0" height="6.0" fill="#0000ff" fill-opacity="0.13"/><rect x="115.4" y="179.2" width="6.0" height="5.0" fill="#0000ff" fill-opacity="0.18"/><rect x="387.9" y="450.7" width="5.0" height="6.0" fill="#0000ff" fill-opacity="0.18"/><rect x="115.4" y="170.2" width="6.0" height="6.0" fill="#00ff80" fill-opacity="0.07"/><rect x="395.9" y="450.7" width="6.0" height="6.0" fill="#00ff80" fill-opacity="0.07"/><rect x="115.4" y="168.2" width="6.0" height="2.0" fill="#0000ff" fill-opacity="0.14"/><rect x="401.9" y="450.7" width="2.0" height="6.0" fill="#0000ff" fill-opacity="0.14"/><rect x="115.4" y="165.2" width="6.0" height="3.0" fill="#0000ff" fill-opacity="0.17"/><rect x="403.9" y="450.7" width="3.0" height="6.0" fill="#0000ff" fill-opacity="0.17"/><rect x="115.4" y="160.2" width="6.0" height="5.0" fill="#0000ff" fill-opacity="0.20"/><rect x="406.9" y="450.7" width="5.0" height="6.0" fill="#0000ff" fill-opacity="0.20"/><rect x="115.4" y="156.2" width="6.0" height="4.0" fill="#0000ff" fill-opacity="0.12"/><rect x="411.9" y="450.7" width="4.0" height="6.0" fill="#0000ff" fill-opacity="0.12"/><rect x="115.4" y="150.2" width="6.0" height="6.0" fill="#0000ff" fill-opacity="0.15"/><rect x="415.9" y="450.7" width="6.0" height="6.0" fill="#0000ff" fill-opacity="0.15"/><rect x="115.4" y="140.2" width="6.0" height="5.0" fill="#0000ff" fill-opacity="0.18"/><rect x="426.9" y="450.7" width="5.0" height="6.0" fill="#0000ff" fill-opacity="0.18"/><rect x="115.4" y="138.2" width="6.0" height="2.0" fill="#0000ff" fill-opacity="0.12"/><rect x="431.9" y="450.7" width="2.0" height="6.0" fill="#0000ff" fill-opacity="0.12"/><rect x="115.4" y="135.2" width="6.0" height="3.0" fill="#0000ff" fill-opacity="0.16"/><rect x="433.9" y="450.7" width="3.0" height="6.0" fill="#0000ff" fill-opacity="0.16"/><rect x="115.4" y="119.2" width="6.0" height="6.0" fill="#00ff80" fill-opacity="0.07"/><rect x="446.9" y="450.7" width="6.0" height="6.0" fill="#00ff80" fill-opacity="0.07"/><rect x="115.4" y="115.2" width="6.0" height="4.0" fill="#00ff80" fill-opacity="0.07"/><rect x="452.9" y="450.7" width="4.0" height="6.0" fill="#00ff80" fill-opacity="0.07"/><rect x="115.4" y="112.2" width="6.0" height="3.0" fill="#0000ff" fill-opacity="0.16"/><rect x="456.9" y="450.7" width="3.0" height="6.0" fill="#0000ff" fill-opacity="0.16"/><rect x="115.4" y="108.2" width="6.0" height="4.0" fill="#0000ff" fill-opacity="0.15"/><rect x="459.9" y="450.7" width="4.0" height="6.0" fill="#0000ff" fill-opacity="0.15"/><rect x="115.4" y="105.2" width="6.0" height="3.0" fill="#0000ff" fill-opacity="0.15"/><rect x="463.9" y="450.7" width="3.0" height="6.0" fill="#0000ff" fill-opacity="0.15"/><rect x="115.4" y="102.2" width="6.0" height="3.0" fill="#0000ff" fill-opacity="0.16"/><rect x="466.9" y="450.7" width="3.0" height="6.0" fill="#0000ff" fill-opacity="0.16"/><rect x="115.4" y="100.2" width="6.0" height="2.0" fill="#0000ff" fill-opacity="0.19"/><rect x="469.9" y="450.7" width="2.0" height="6.0" fill="#0000ff" fill-opacity="0.19"/><rect x="115.4" y="94.2" width="6.0" height="6.0" fill="#0000ff" fill-opacity="0.18"/><rect x="471.9" y="450.7" width="6.0" height="6.0" fill="#0000ff" fill-opacity="0.18"/><rect x="115.4" y="86.2" width="6.0" height="6.0" fill="#0000ff" fill-opacity="0.14"/><rect x="479.9" y="450.7" width="6.0" height="6.0" fill="#0000ff" fill-opacity="0.14"/><rect x="115.4" y="83.2" width="6.0" height="3.0" fill="#0000ff" fill-opacity="0.13"/><rect x="485.9" y="450.7" width="3.0" height="6.0" fill="#0000ff" fill-opacity="0.13"/><rect x="115.4" y="80.2" width="6.0" height="3.0" fill="#0000ff" fill-opacity="0.17"/><rect x="488.9" y="450.7" width="3.0" height="6.0" fill="#0000ff" fill-opacity="0.17"/><rect x="115.4" y="70.2" width="6.0" height="6.0" fill="#0000ff" fill-opacity="0.16"/><rect x="495.9" y="450.7" width="6.0" height="6.0" fill="#0000ff" fill-opacity="0.16"/><rect x="115.4" y="64.2" width="6.0" height="6.0" fill="#0000ff" fill-opacity="0.14"/><rect x="501.9" y="450.7" width="6.0" height="6.0" fill="#0000ff" fill-opacity="0.14"/><rect x="115.4" y="58.2" width="6.0" height="6.0" fill="#0000ff" fill-opacity="0.20"/><rect x="507.9" y="450.7" width="6.0" height="6.0" fill="#0000ff" fill-opacity="0.20"/><rect x="115.4" y="56.2" width="6.0" height="2.0" fill="#0000ff" fill-opacity="0.14"/><rect x="513.9" y="450.7" width="2.0" height="6.0" fill="#0000ff" fill-opacity="0.14"/><rect x="115.4" y="54.2" width="6.0" height="2.0" fill="#0000ff" fill-opacity="0.15"/><rect x="515.9" y="450.7" width="2.0" height="6.0" fill="#0000ff" fill-opacity="0.15"/><rect x="115.4" y="49.2" width="6.0" height="5.0" fill="#0000ff" fill-opacity="0.12"/><rect x="517.9" y="450.7" width="5.0" height="6.0" fill="#0000ff" fill-opacity="0.12"/><rect x="115.4" y="47.2" width="6.0" height="2.0" fill="#0000ff" fill-opacity="0.12"/><rect x="522.9" y="450.7" width="2.0" height="6.0" fill="#0000ff" fill-opacity="0.12"/><rect x="115.4" y="42.2" width="6.0" height="5.0" fill="#0000ff" fill-opacity="0.13"/><rect x="524.9" y="450.7" width="5.0" height="6.0" fill="#0000ff" fill-opacity="0.13"/><rect x="115.4" y="39.2" width="6.0" height="3.0" fill="#0000ff" fill-opacity="0.18"/><rect x="529.9" y="450.7" width="3.0" height="6.0" fill="#0000ff" fill-opacity="0.18"/><rect x="115.4" y="33.2" width="6.0" height="6.0" fill="#0000ff" fill-opacity="0.13"/><rect x="532.9" y="450.7" width="6.0" height="6.0" fill="#0000ff" fill-opacity="0.13"/><rect x="115.4" y="30.2" width="6.0" height="3.0" fill="#0000ff" fill-opacity="0.13"/><rect x="538.9" y="450.7" width="3.0" height="6.0" fill="#0000ff" fill-opacity="0.13"/><rect x="115.4" y="27.2" width="6.0" height="3.0" fill="#0000ff" fill-opacity="0.15"/><rect x="541.9" y="450.7" width="3.0" height="6.0" fill="#0000ff" fill-opacity="0.15"/><rect x="115.4" y="15.2" width="6.0" height="6.0" fill="#0000ff" fill-opacity="0.14"/><rect x="550.9" y="450.7" width="6.0" height="6.0" fill="#0000ff" fill-opacity="0.14"/><rect x="115.4" y="13.2" width="6.0" height="2.0" fill="#0000ff" fill-opacity="0.17"/><rect x="556.9" y="450.7" width="2.0" height="6.0" fill="#0000ff" fill-opacity="0.17"/><rect x="115.4" y="7.2" width="6.0" height="6.0" fill="#0000ff" fill-opacity="0.13"/><rect x="558.9" y="450.7" width="6.0" height="6.0" fill="#0000ff" fill-opacity="0.13"/><rect x="115.4" y="6.9" width="6.0" height="0.3" fill="#00ff80" fill-opacity="0.07"/><rect x="564.9" y="450.7" width="0.3" height="6.0" fill="#00ff80" fill-opacity="0.07"/><rect x="254.4" y="568.2" width="5.0" height="3.0" fill="#0000ff" fill-opacity="0.41"/><rect x="0.9" y="312.7" width="3.0" height="5.0" fill="#0000ff" fill-opacity="0.41"/><rect x="254.4" y="559.2" width="5.0" height="3.0" fill="#0000ff" fill-opacity="0.26"/><rect x="9.9" y="312.7" width="3.0" height="5.0" fill="#0000ff" fill-opacity="0.26"/><rect x="254.4" y="555.2" width="5.0" height="4.0" fill="#00ff80" fill-opacity="0.14"/><rect x="12.9" y="312.7" width="4.0" height="5.0" fill="#00ff80" fill-opacity="0.14"/><rect x="254.4" y="551.2" width="5.0" height="4.0" fill="#0000ff" fill-opacity="0.27"/><rect x="16.9" y="312.7" width="4.0" height="5.0" fill="#0000ff" fill-opacity="0.27"/><rect x="254.4" y="545.2" width="5.0" height="6.0" fill="#0000ff" fill-opacity="0.22"/><rect x="20.9" y="312.7" width="6.0" height="5.0" fill="#0000ff" fill-opacity="0.22"/><rect x="254.4" y="543.2" width="5.0" height="2.0" fill="#0000ff" fill-opacity="0.35"/><rect x="26.9" y="312.7" width="2.0" height="5.0" fill="#0000ff" fill-opacity="0.35"/><rect x="254.4" y="541.2" width="5.0" height="2.0" fill="#0000ff" fill-opacity="0.37"/><rect x="28.9" y="312.7" width="2.0" height="5.0" fill="#0000ff" fill-opacity="0.37"/><rect x="254.4" y="539.2" width="5.0" height="2.0" fill="#0000ff" fill-opacity="0.37"/><rect x="30.9" y="312.7" width="2.0" height="5.0" fill="#0000ff" fill-opacity="0.37"/><rect x="254.4" y="533.2" width="5.0" height="4.0" fill="#0000ff" fill-opacity="0.38"/><rect x="34.9" y="312.7" width="4.0" height="5.0" fill="#0000ff" fill-opacity="0.38"/><rect x="254.4" y="528.2" width="5.0" height="5.0" fill="#0000ff" fill-opacity="0.27"/><rect x="38.9" y="312.7" width="5.0" height="5.0" fill="#0000ff" fill-opacity="0.27"/><rect x="254.4" y="520.2" width="5.0" height="6.0" fill="#0000ff" fill-opacity="0.24"/><rect x="45.9" y="312.7" width="6.0" height="5.0" fill="#0000ff" fill-opacity="0.24"/><rect x="254.4" y="517.2" width="5.0" height="3.0" fill="#0000ff" fill-opacity="0.31"/><rect x="51.9" y="312.7" width="3.0" height="5.0" fill="#0000ff" fill-opacity="0.31"/><rect x="254.4" y="511.2" width="5.0" height="6.0" fill="#00ff80" fill-opacity="0.14"/><rect x="54.9" y="312.7" width="6.0" height="5.0" fill="#00ff80" fill-opacity="0.14"/><rect x="254.4" y="509.2" width="5.0" height="2.0" fill="#0000ff" fill-opacity="0.23"/><rect x="60.9" y="312.7" width="2.0" height="5.0" fill="#0000ff" fill-opacity="0.23"/><rect x="254.4" y="505.2" width="5.0" height="4.0" fill="#0000ff" fill-opacity="0.41"/><rect x="62.9" y="312.7" width="4.0" height="5.0" fill="#0000ff" fill-opacity="0.41"/><rect x="254.4" y="503.2" width="5.0" height="2.0" fill="#0000ff" fill-opacity="0.32"/><rect x="66.9" y="312.7" width="2.0" height="5.0" fill="#0000ff" fill-opacity="0.32"/><rect x="254.4" y="493.2" width="5.0" height="3.0" fill="#0000ff" fill-opacity="0.40"/><rect x="75.9" y="312.7" width="3.0" height="5.0" fill="#0000ff" fill-opacity="0.40"/><rect x="254.4" y="490.2" width="5.0" height="3.0" fill="#0000ff" fill-opacity="0.38"/><rect x="78.9" y="312.7" width="3.0" height="5.0" fill="#0000ff" fill-opacity="0.38"/><rect x="254.4" y="484.2" width="5.0" height="3.0" fill="#0000ff" fill-opacity="0.22"/><rect x="84.9" y="312.7" width="3.0" height="5.0" fill="#0000ff" fill-opacity="0.22"/><rect x="254.4" y="480.2" width="5.0" height="4.0" fill="#0000ff" fill-opacity="0.37"/><rect x="87.9" y="312.7" width="4.0" height="5.0" fill="#0000ff" fill-opacity="0.37"/><rect x="254.4" y="474.2" width="5.0" height="6.0" fill="#0000ff" fill-opacity="0.30"/><rect x="91.9" y="312.7" width="6.0" height="5.0" fill="#0000ff" fill-opacity="0.30"/><rect x="254.4" y="469.2" width="5.0" height="5.0" fill="#0000ff" fill-opacity="0.25"/><rect x="97.9" y="312.7" width="5.0" height="5.0" fill="#0000ff" fill-opacity="0.25"/><rect x="254.4" y="464.2" width="5.0" height="5.0" fill="#0000ff" fill-opacity="0.22"/><rect x="102.9" y="312.7" width="5.0" height="5.0" fill="#0000ff" fill-opacity="0.22"/><rect x="254.4" y="458.2" width="5.0" height="6.0" fill="#0000ff" fill-opacity="0.38"/><rect x="107.9" y="312.7" width="6.0" height="5.0" fill="#0000ff" fill-opacity="0.38"/><rect x="254.4" y="453.2" width="5.0" height="5.0" fill="#0000ff" fill-opacity="0.37"/><rect x="113.9" y="312.7" width="5.0" height="5.0" fill="#0000ff" fill-opacity="0.37"/><rect x="254.4" y="447.2" width="5.0" height="6.0" fill="#0000ff" fill-opacity="0.39"/><rect x="118.9" y="312.7" width="6.0" height="5.0" fill="#0000ff" fill-opacity="0.39"/><rect x="254.4" y="441.2" width="5.0" height="2.0" fill="#0000ff" fill-opacity="0.27"/><rect x="128.9" y="312.7" width="2.0" height="5.0" fill="#0000ff" fill-opacity="0.27"/><rect x="254.4" y="433.2" width="5.0" height="5.0" fill="#0000ff" fill-opacity="0.31"/><rect x="133.9" y="312.7" width="5.0" height="5.0" fill="#0000ff" fill-opacity="0.31"/><rect x="254.4" y="429.2" width="5.0" height="4.0" fill="#0000ff" fill-opacity="0.31"/><rect x="138.9" y="312.7" width="4.0" height="5.0" fill="#0000ff" fill-opacity="0.31"/><rect x="254.4" y="426.2" width="5.0" height="3.0" fill="#0000ff" fill-opacity="0.23"/><rect x="142.9" y="312.7" width="3.0" height="5.0" fill="#0000ff" fill-opacity="0.23"/><rect x="254.4" y="421.2" width="5.0" height="5.0" fill="#0000ff" fill-opacity="0.38"/><rect x="145.9" y="312.7" width="5.0" height="5.0" fill="#0000ff" fill-opacity="0.38"/><rect x="254.4" y="416.2" width="5.0" height="5.0" fill="#0000ff" fill-opacity="0.34"/><rect x="150.9" y="312.7" width="5.0" height="5.0" fill="#0000ff" fill-opacity="0.34"/><rect x="254.4" y="413.2" width="5.0" height="3.0" fill="#0000ff" fill-opacity="0.27"/><rect x="155.9" y="312.7" width="3.0" height="5.0" fill="#0000ff" fill-opacity="0.27"/><rect x="254.4" y="411.2" width="5.0" height="2.0" fill="#00ff80" fill-opacity="0.14"/><rect x="158.9" y="312.7" width="2.0" height="5.0" fill="#00ff80" fill-opacity="0.14"/><rect x="254.4" y="405.2" width="5.0" height="6.0" fill="#00ff80" fill-opacity="0.14"/><rect x="160.9" y="312.7" width="6.0" height="5.0" fill="#00ff80" fill-opacity="0.14"/><rect x="254.4" y="402.2" width="5.0" height="3.0" fill="#00ff80" fill-opacity="0.14"/><rect x="166.9" y="312.7" width="3.0" height="5.0" fill="#00ff80" fill-opacity="0.14"/><rect x="254.4" y="398.2" width="5.0" height="4.0" fill="#0000ff" fill-opacity="0.31"/><rect x="169.9" y="312.7" width="4.0" height="5.0" fill="#0000ff" fill-opacity="0.31"/><rect x="254.4" y="395.2" width="5.0" height="3.0" fill="#0000ff" fill-opacity="0.39"/><rect x="173.9" y="312.7" width="3.0" height="5.0" fill="#0000ff" fill-opacity="0.39"/><rect x="254.4" y="392.2" width="5.0" height="3.0" fill="#0000ff" fill-opacity="0.29"/><rect x="176.9" y="312.7" width="3.0" height="5.0" fill="#0000ff" fill-opacity="0.29"/><rect x="254.4" y="389.2" width="5.0" height="3.0" fill="#0000ff" fill-opacity="0.40"/><rect x="179.9" y="312.7" width="3.0" height="5.0" fill="#0000ff" fill-opacity="0.40"/><rect x="254.4" y="383.2" width="5.0" height="6.0" fill="#0000ff" fill-opacity="0.34"/><rect x="182.9" y="312.7" width="6.0" height="5.0" fill="#0000ff" fill-opacity="0.34"/><rect x="254.4" y="380.2" width="5.0" height="3.0" fill="#0000ff" fill-opacity="0.23"/><rect x="188.9" y="312.7" width="3.0" height="5.0" fill="#0000ff" fill-opacity="0.23"/><rect x="254.4" y="375.2" width="5.0" height="5.0" fill="#0000ff" fill-opacity="0.33"/><rect x="191.9" y="312.7" width="5.0" height="5.0" fill="#0000ff" fill-opacity="0.33"/><rect x="254.4" y="373.2" width="5.0" height="2.0" fill="#0000ff" fill-opacity="0.40"/><rect x="196.9" y="312.7" width="2.0" height="5.0" fill="#0000ff" fill-opacity="0.40"/><rect x="254.4" y="367.2" width="5.0" height="6.0" fill="#0000ff" fill-opacity="0.26"/><rect x="198.9" y="312.7" width="6.0" height="5.0" fill="#0000ff" fill-opacity="0.26"/><rect x="254.4" y="356.2" width="5.0" height="5.0" fill="#0000ff" fill-opacity="0.40"/><rect x="210.9" y="312.7" width="5.0" height="5.0" fill="#0000ff" fill-opacity="0.40"/><rect x="254.4" y="351.2" width="5.0" height="5.0" fill="#0000ff" fill-opacity="0.35"/><rect x="215.9" y="312.7" width="5.0" height="5.0" fill="#0000ff" fill-opacity="0.35"/><rect x="254.4" y="348.2" width="5.0" height="3.0" fill="#0000ff" fill-opacity="0.30"/><rect x="220.9" y="312.7" width="3.0" height="5.0" fill="#0000ff" fill-opacity="0.30"/><rect x="254.4" y="345.2" width="5.0" height="3.0" fill="#0000ff" fill-opacity="0.36"/><rect x="223.9" y="312.7" width="3.0" height="5.0" fill="#0000ff" fill-opacity="0.36"/><rect x="254.4" y="339.2" width="5.0" height="6.0" fill="#0000ff" fill-opacity="0.32"/><rect x="226.9" y="312.7" width="6.0" height="5.0" fill="#0000ff" fill-opacity="0.32"/><rect x="254.4" y="337.2" width="5.0" height="2.0" fill="#0000ff" fill-opacity="0.24"/><rect x="232.9" y="312.7" width="2.0" height="5.0" fill="#0000ff" fill-opacity="0.24"/><rect x="254.4" y="331.2" width="5.0" height="6.0" fill="#0000ff" fill-opacity="0.33"/><rect x="234.9" y="312.7" width="6.0" height="5.0" fill="#0000ff" fill-opacity="0.33"/><rect x="254.4" y="329.2" width="5.0" height="2.0" fill="#0000ff" fill-opacity="0.28"/><rect x="240.9" y="312.7" width="2.0" height="5.0" fill="#0000ff" fill-opacity="0.28"/><rect x="254.4" y="324.2" width="5.0" height="5.0" fill="#00ff80" fill-opacity="0.14"/><rect x="242.9" y="312.7" width="5.0" height="5.0" fill="#00ff80" fill-opacity="0.14"/><rect x="254.4" y="320.2" width="5.0" height="4.0" fill="#0000ff" fill-opacity="0.24"/><rect x="247.9" y="312.7" width="4.0" height="5.0" fill="#0000ff" fill-opacity="0.24"/><rect x="254.4" y="317.2" width="5.0" height="3.0" fill="#00ff80" fill-opacity="0.14"/><rect x="251.9" y="312.7" width="3.0" height="5.0" fill="#00ff80" fill-opacity="0.14"/><rect x="254.4" y="312.2" width="5.0" height="5.0" fill="#0000ff" fill-opacity="0.24"/><rect x="254.9" y="312.7" width="5.0" height="5.0" fill="#0000ff" fill-opacity="0.24"/><rect x="254.4" y="308.2" width="5.0" height="4.0" fill="#00ff80" fill-opacity="0.12"/><rect x="259.9" y="312.7" width="4.0" height="5.0" fill="#00ff80" fill-opacity="0.12"/><rect x="254.4" y="306.2" width="5.0" height="2.0" fill="#00ff80" fill-opacity="0.10"/><rect x="263.9" y="312.7" width="2.0" height="5.0" fill="#00ff80" fill-opacity="0.10"/><rect x="254.4" y="304.2" width="5.0" height="2.0" fill="#00ff80" fill-opacity="0.08"/><rect x="265.9" y="312.7" width="2.0" height="5.0" fill="#00ff80" fill-opacity="0.08"/><rect x="254.4" y="302.2" width="5.0" height="2.0" fill="#00ff80" fill-opacity="0.14"/><rect x="267.9" y="312.7" width="2.0" height="5.0" fill="#00ff80" fill-opacity="0.14"/><rect x="254.4" y="299.2" width="5.0" height="3.0" fill="#00ff80" fill-opacity="0.11"/><rect x="269.9" y="312.7" width="3.0" height="5.0" fill="#00ff80" fill-opacity="0.11"/><rect x="254.4" y="294.2" width="5.0" height="5.0" fill="#00ff80" fill-opacity="0.14"/><rect x="272.9" y="312.7" width="5.0" height="5.0" fill="#00ff80" fill-opacity="0.14"/><rect x="254.4" y="289.2" width="5.0" height="5.0" fill="#00ff80" fill-opacity="0.09"/><rect x="277.9" y="312.7" width="5.0" height="5.0" fill="#00ff80" fill-opacity="0.09"/><rect x="254.4" y="284.2" width="5.0" height="3.0" fill="#00ff80" fill-opacity="0.09"/><rect x="284.9" y="312.7" width="3.0" height="5.0" fill="#00ff80" fill-opacity="0.09"/><rect x="254.4" y="282.2" width="5.0" height="2.0" fill="#00ff80" fill-opacity="0.08"/><rect x="287.9" y="312.7" width="2.0" height="5.0" fill="#00ff80" fill-opacity="0.08"/><rect x="254.4" y="276.2" width="5.0" height="3.0" fill="#00ff80" fill-opacity="0.12"/><rect x="292.9" y="312.7" width="3.0" height="5.0" fill="#00ff80" fill-opacity="0.12"/><rect x="254.4" y="274.2" width="5.0" height="2.0" fill="#00ff80" fill-opacity="0.11"/><rect x="295.9" y="312.7" width="2.0" height="5.0" fill="#00ff80" fill-opacity="0.11"/><rect x="254.4" y="271.2" width="5.0" height="3.0" fill="#00ff80" fill-opacity="0.09"/><rect x="297.9" y="312.7" width="3.0" height="5.0" fill="#00ff80" fill-opacity="0.09"/><rect x="254.4" y="265.2" width="5.0" height="6.0" fill="#0000ff" fill-opacity="0.05"/><rect x="300.9" y="312.7" width="6.0" height="5.0" fill="#0000ff" fill-opacity="0.05"/><rect x="254.4" y="260.2" width="5.0" height="5.0" fill="#00ff80" fill-opacity="0.12"/><rect x="306.9" y="312.7" width="5.0" height="5.0" fill="#00ff80" fill-opacity="0.12"/><rect x="254.4" y="252.2" width="5.0" height="6.0" fill="#0000ff" fill-opacity="0.05"/><rect x="313.9" y="312.7" width="6.0" height="5.0" fill="#0000ff" fill-opacity="0.05"/><rect x="254.4" y="247.2" width="5.0" height="5.0" fill="#00ff80" fill-opacity="0.07"/><rect x="319.9" y="312.7" width="5.0" height="5.0" fill="#00ff80" fill-opacity="0.07"/><rect x="254.4" y="245.2" width="5.0" height="2.0" fill="#00ff80" fill-opacity="0.09"/><rect x="324.9" y="312.7" width="2.0" height="5.0" fill="#00ff80" fill-opacity="0.09"/><rect x="254.4" y="241.2" width="5.0" height="4.0" fill="#00ff80" fill-opacity="0.10"/><rect x="326.9" y="312.7" width="4.0" height="5.0" fill="#00ff80" fill-opacity="0.10"/><rect x="254.4" y="239.2" width="5.0" height="2.0" fill="#0000ff" fill-opacity="0.05"/><rect x="330.9" y="312.7" width="2.0" height="5.0" fill="#0000ff" fill-opacity="0.05"/><rect x="254.4" y="235.2" width="5.0" height="4.0" fill="#00ff80" fill-opacity="0.12"/><rect x="332.9" y="312.7" width="4.0" height="5.0" fill="#00ff80" fill-opacity="0.12"/><rect x="254.4" y="231.2" width="5.0" height="4.0" fill="#00ff80" fill-opacity="0.09"/><rect x="336.9" y="312.7" width="4.0" height="5.0" fill="#00ff80" fill-opacity="0.09"/><rect x="254.4" y="225.2" width="5.0" height="6.0" fill="#00ff80" fill-opacity="0.11"/><rect x="340.9" y="312.7" width="6.0" height="5.0" fill="#00ff80" fill-opacity="0.11"/><rect x="254.4" y="223.2" width="5.0" height="2.0" fill="#00ff80" fill-opacity="0.09"/><rect x="346.9" y="312.7" width="2.0" height="5.0" fill="#00ff80" fill-opacity="0.09"/><rect x="254.4" y="221.2" width="5.0" height="2.0" fill="#00ff80" fill-opacity="0.11"/><rect x="348.9" y="312.7" width="2.0" height="5.0" fill="#00ff80" fill-opacity="0.11"/><rect x="254.4" y="216.2" width="5.0" height="5.0" fill="#0000ff" fill-opacity="0.05"/><rect x="350.9" y="312.7" width="5.0" height="5.0" fill="#0000ff" fill-opacity="0.05"/><rect x="254.4" y="213.2" width="5.0" height="3.0" fill="#00ff80" fill-opacity="0.13"/><rect x="355.9" y="312.7" width="3.0" height="5.0" fill="#00ff80" fill-opacity="0.13"/><rect x="254.4" y="210.2" width="5.0" height="3.0" fill="#00ff80" fill-opacity="0.12"/><rect x="358.9" y="312.7" width="3.0" height="5.0" fill="#00ff80" fill-opacity="0.12"/><rect x="254.4" y="208.2" width="5.0" height="2.0" fill="#00ff80" fill-opacity="0.13"/><rect x="361.9" y="312.7" width="2.0" height="5.0" fill="#00ff80" fill-opacity="0.13"/><rect x="254.4" y="202.2" width="5.0" height="6.0" fill="#00ff80" fill-opacity="0.11"/><rect x="363.9" y="312.7" width="6.0" height="5.0" fill="#00ff80" fill-opacity="0.11"/><rect x="254.4" y="199.2" width="5.0" height="3.0" fill="#0000ff" fill-opacity="0.05"/><rect x="369.9" y="312.7" width="3.0" height="5.0" fill="#0000ff" fill-opacity="0.05"/><rect x="254.4" y="195.2" width="5.0" height="4.0" fill="#00ff80" fill-opacity="0.10"/><rect x="372.9" y="312.7" width="4.0" height="5.0" fill="#00ff80" fill-opacity="0.10"/><rect x="254.4" y="192.2" width="5.0" height="3.0" fill="#0000ff" fill-opacity="0.05"/><rect x="376.9" y="312.7" width="3.0" height="5.0" fill="#0000ff" fill-opacity="0.05"/><rect x="254.4" y="188.2" width="5.0" height="2.0" fill="#00ff80" fill-opacity="0.10"/><rect x="381.9" y="312.7" width="2.0" height="5.0" fill="#00ff80" fill-opacity="0.10"/><rect x="254.4" y="183.2" width="5.0" height="5.0" fill="#00ff80" fill-opacity="0.12"/><rect x="383.9" y="312.7" width="5.0" height="5.0" fill="#00ff80" fill-opacity="0.12"/><rect x="254.4" y="180.2" width="5.0" height="3.0" fill="#0000ff" fill-opacity="0.05"/><rect x="388.9" y="312.7" width="3.0" height="5.0" fill="#0000ff" fill-opacity="0.05"/><rect x="254.4" y="177.2" width="5.0" height="3.0" fill="#00ff80" fill-opacity="0.11"/><rect x="391.9" y="312.7" width="3.0" height="5.0" fill="#00ff80" fill-opacity="0.11"/><rect x="254.4" y="175.2" width="5.0" height="2.0" fill="#00ff80" fill-opacity="0.09"/><rect x="394.9" y="312.7" width="2.0" height="5.0" fill="#00ff80" fill-opacity="0.09"/><rect x="254.4" y="167.2" width="5.0" height="3.0" fill="#00ff80" fill-opacity="0.07"/><rect x="401.9" y="312.7" width="3.0" height="5.0" fill="#00ff80" fill-opacity="0.07"/><rect x="254.4" y="162.2" width="5.0" height="5.0" fill="#00ff80" fill-opacity="0.11"/><rect x="404.9" y="312.7" width="5.0" height="5.0" fill="#00ff80" fill-opacity="0.11"/><rect x="254.4" y="154.2" width="5.0" height="4.0" fill="#00ff80" fill-opacity="0.07"/><rect x="413.9" y="312.7" width="4.0" height="5.0" fill="#00ff80" fill-opacity="0.07"/><rect x="254.4" y="151.2" width="5.0" height="3.0" fill="#00ff80" fill-opacity="0.12"/><rect x="417.9" y="312.7" width="3.0" height="5.0" fill="#00ff80" fill-opacity="0.12"/><rect x="254.4" y="148.2" width="5.0" height="3.0" fill="#00ff80" fill-opacity="0.13"/><rect x="420.9" y="312.7" width="3.0" height="5.0" fill="#00ff80" fill-opacity="0.13"/><rect x="254.4" y="146.2" width="5.0" height="2.0" fill="#00ff80" fill-opacity="0.08"/><rect x="423.9" y="312.7" width="2.0" height="5.0" fill="#00ff80" fill-opacity="0.08"/><rect x="254.4" y="144.2" width="5.0" height="2.0" fill="#00ff80" fill-opacity="0.11"/><rect x="425.9" y="312.7" width="2.0" height="5.0" fill="#00ff80" fill-opacity="0.11"/><rect x="254.4" y="136.2" width="5.0" height="3.0" fill="#00ff80" fill-opacity="0.12"/><rect x="432.9" y="312.7" width="3.0" height="5.0" fill="#00ff80" fill-opacity="0.12"/><rect x="254.4" y="132.2" width="5.0" height="2.0" fill="#00ff80" fill-opacity="0.11"/><rect x="437.9" y="312.7" width="2.0" height="5.0" fill="#00ff80" fill-opacity="0.11"/><rect x="254.4" y="128.2" width="5.0" height="4.0" fill="#00ff80" fill-opacity="0.11"/><rect x="439.9" y="312.7" width="4.0" height="5.0" fill="#00ff80" fill-opacity="0.11"/><rect x="254.4" y="125.2" width="5.0" height="3.0" fill="#00ff80" fill-opacity="0.08"/><rect x="443.9" y="312.7" width="3.0" height="5.0" fill="#00ff80" fill-opacity="0.08"/><rect x="254.4" y="123.2" width="5.0" height="2.0" fill="#00ff80" fill-opacity="0.12"/><rect x="446.9" y="312.7" width="2.0" height="5.0" fill="#00ff80" fill-opacity="0.12"/><rect x="254.4" y="121.2" width="5.0" height="2.0" fill="#00ff80" fill-opacity="0.12"/><rect x="448.9" y="312.7" width="2.0" height="5.0" fill="#00ff80" fill-opacity="0.12"/><rect x="254.4" y="115.2" width="5.0" height="6.0" fill="#00ff80" fill-opacity="0.11"/><rect x="450.9" y="312.7" width="6.0" height="5.0" fill="#00ff80" fill-opacity="0.11"/><rect x="254.4" y="112.2" width="5.0" height="3.0" fill="#00ff80" fill-opacity="0.09"/><rect x="456.9" y="312.7" width="3.0" height="5.0" fill="#00ff80" fill-opacity="0.09"/><rect x="254.4" y="110.2" width="5.0" height="2.0" fill="#00ff80" fill-opacity="0.11"/><rect x="459.9" y="312.7" width="2.0" height="5.0" fill="#00ff80" fill-opacity="0.11"/><rect x="254.4" y="104.2" width="5.0" height="6.0" fill="#0000ff" fill-opacity="0.05"/><rect x="461.9" y="312.7" width="6.0" height="5.0" fill="#0000ff" fill-opacity="0.05"/><rect x="254.4" y="96.2" width="5.0" height="2.0" fill="#00ff80" fill-opacity="0.07"/><rect x="473.9" y="312.7" width="2.0" height="5.0" fill="#00ff80" fill-opacity="0.07"/><rect x="254.4" y="93.2" width="5.0" height="3.0" fill="#0000ff" fill-opacity="0.05"/><rect x="475.9" y="312.7" width="3.0" height="5.0" fill="#0000ff" fill-opacity="0.05"/><rect x="254.4" y="90.2" width="5.0" height="3.0" fill="#00ff80" fill-opacity="0.12"/><rect x="478.9" y="312.7" width="3.0" height="5.0" fill="#00ff80" fill-opacity="0.12"/><rect x="254.4" y="81.2" width="5.0" height="3.0" fill="#00ff80" fill-opacity="0.10"/><rect x="487.9" y="312.7" width="3.0" height="5.0" fill="#00ff80" fill-opacity="0.10"/><rect x="254.4" y="79.2" width="5.0" height="2.0" fill="#00ff80" fill-opacity="0.13"/><rect x="490.9" y="312.7" width="2.0" height="5.0" fill="#00ff80" fill-opacity="0.13"/><rect x="254.4" y="75.2" width="5.0" height="4.0" fill="#0000ff" fill-opacity="0.05"/><rect x="492.9" y="312.7" width="4.0" height="5.0" fill="#0000ff" fill-opacity="0.05"/><rect x="254.4" y="73.2" width="5.0" height="2.0" fill="#00ff80" fill-opacity="0.12"/><rect x="496.9" y="312.7" width="2.0" height="5.0" fill="#00ff80" fill-opacity="0.12"/><rect x="254.4" y="69.2" width="5.0" height="4.0" fill="#00ff80" fill-opacity="0.13"/><rect x="498.9" y="312.7" width="4.0" height="5.0" fill="#00ff80" fill-opacity="0.13"/><rect x="254.4" y="66.2" width="5.0" height="3.0" fill="#00ff80" fill-opacity="0.09"/><rect x="502.9" y="312.7" width="3.0" height="5.0" fill="#00ff80" fill-opacity="0.09"/><rect x="254.4" y="63.2" width="5.0" height="3.0" fill="#00ff80" fill-opacity="0.08"/><rect x="505.9" y="312.7" width="3.0" height="5.0" fill="#00ff80" fill-opacity="0.08"/><rect x="254.4" y="60.2" width="5.0" height="3.0" fill="#0000ff" fill-opacity="0.05"/><rect x="508.9" y="312.7" width="3.0" height="5.0" fill="#0000ff" fill-opacity="0.05"/><rect x="254.4" y="57.2" width="5.0" height="3.0" fill="#0000ff" fill-opacity="0.05"/><rect x="511.9" y="312.7" width="3.0" height="5.0" fill="#0000ff" fill-opacity="0.05"/><rect x="254.4" y="55.2" width="5.0" height="2.0" fill="#0000ff" fill-opacity="0.05"/><rect x="514.9" y="312.7" width="2.0" height="5.0" fill="#0000ff" fill-opacity="0.05"/><rect x="254.4" y="53.2" width="5.0" height="2.0" fill="#0000ff" fill-opacity="0.05"/><rect x="516.9" y="312.7" width="2.0" height="5.0" fill="#0000ff" fill-opacity="0.05"/><rect x="254.4" y="51.2" width="5.0" height="2.0" fill="#0000ff" fill-opacity="0.05"/><rect x="518.9" y="312.7" width="2.0" height="5.0" fill="#0000ff" fill-opacity="0.05"/><rect x="254.4" y="47.2" width="5.0" height="4.0" fill="#00ff80" fill-opacity="0.09"/><rect x="520.9" y="312.7" width="4.0" height="5.0" fill="#00ff80" fill-opacity="0.09"/><rect x="254.4" y="44.2" width="5.0" height="3.0" fill="#00ff80" fill-opacity="0.11"/><rect x="524.9" y="312.7" width="3.0" height="5.0" fill="#00ff80" fill-opacity="0.11"/><rect x="254.4" y="42.2" width="5.0" height="2.0" fill="#00ff80" fill-opacity="0.07"/><rect x="527.9" y="312.7" width="2.0" height="5.0" fill="#00ff80" fill-opacity="0.07"/><rect x="254.4" y="36.2" width="5.0" height="6.0" fill="#00ff80" fill-opacity="0.13"/><rect x="529.9" y="312.7" width="6.0" height="5.0" fill="#00ff80" fill-opacity="0.13"/><rect x="254.4" y="34.2" width="5.0" height="2.0" fill="#00ff80" fill-opacity="0.13"/><rect x="535.9" y="312.7" width="2.0" height="5.0" fill="#00ff80" fill-opacity="0.13"/><rect x="254.4" y="32.2" width="5.0" height="2.0" fill="#00ff80" fill-opacity="0.12"/><rect x="537.9" y="312.7" width="2.0" height="5.0" fill="#00ff80" fill-opacity="0.12"/><rect x="254.4" y="30.2" width="5.0" height="2.0" fill="#00ff80" fill-opacity="0.10"/><rect x="539.9" y="312.7" width="2.0" height="5.0" fill="#00ff80" fill-opacity="0.10"/><rect x="254.4" y="25.2" width="5.0" height="5.0" fill="#00ff80" fill-opacity="0.10"/><rect x="541.9" y="312.7" width="5.0" height="5.0" fill="#00ff80" fill-opacity="0.10"/><rect x="254.4" y="20.2" width="5.0" height="3.0" fill="#00ff80" fill-opacity="0.13"/><rect x="548.9" y="312.7" width="3.0" height="5.0" fill="#00ff80" fill-opacity="0.13"/><rect x="254.4" y="18.2" width="5.0" height="2.0" fill="#0000ff" fill-opacity="0.05"/><rect x="551.9" y="312.7" width="2.0" height="5.0" fill="#0000ff" fill-opacity="0.05"/><rect x="254.4" y="7.2" width="5.0" height="2.0" fill="#00ff80" fill-opacity="0.07"/><rect x="562.9" y="312.7" width="2.0" height="5.0" fill="#00ff80" fill-opacity="0.07"/><rect x="521.4" y="569.2" width="7.0" height="2.0" fill="#00ff80" fill-opacity="0.20"/><rect x="0.9" y="43.7" width="2.0" height="7.0" fill="#00ff80" fill-opacity="0.20"/><rect x="521.4" y="567.2" width="7.0" height="2.0" fill="#00ff80" fill-opacity="0.20"/><rect x="2.9" y="43.7" width="2.0" height="7.0" fill="#00ff80" fill-opacity="0.20"/><rect x="521.4" y="565.2" width="7.0" height="2.0" fill="#00ff80" fill-opacity="0.15"/><rect x="4.9" y="43.7" width="2.0" height="7.0" fill="#00ff80" fill-opacity="0.15"/><rect x="521.4" y="561.2" width="7.0" height="4.0" fill="#00ff80" fill-opacity="0.22"/><rect x="6.9" y="43.7" width="4.0" height="7.0" fill="#00ff80" fill-opacity="0.22"/><rect x="521.4" y="555.2" width="7.0" height="6.0" fill="#00ff80" fill-opacity="0.20"/><rect x="10.9" y="43.7" width="6.0" height="7.0" fill="#00ff80" fill-opacity="0.20"/><rect x="521.4" y="553.2" width="7.0" height="2.0" fill="#00ff80" fill-opacity="0.18"/><rect x="16.9" y="43.7" width="2.0" height="7.0" fill="#00ff80" fill-opacity="0.18"/><rect x="521.4" y="548.2" width="7.0" height="5.0" fill="#00ff80" fill-opacity="0.20"/><rect x="18.9" y="43.7" width="5.0" height="7.0" fill="#00ff80" fill-opacity="0.20"/><rect x="521.4" y="544.2" width="7.0" height="4.0" fill="#00ff80" fill-opacity="0.19"/><rect x="23.9" y="43.7" width="4.0" height="7.0" fill="#00ff80" fill-opacity="0.19"/><rect x="521.4" y="541.2" width="7.0" height="3.0" fill="#00ff80" fill-opacity="0.23"/><rect x="27.9" y="43.7" width="3.0" height="7.0" fill="#00ff80" fill-opacity="0.23"/><rect x="521.4" y="534.2" width="7.0" height="3.0" fill="#00ff80" fill-opacity="0.15"/><rect x="34.9" y="43.7" width="3.0" height="7.0" fill="#00ff80" fill-opacity="0.15"/><rect x="521.4" y="532.2" width="7.0" height="2.0" fill="#00ff80" fill-opacity="0.23"/><rect x="37.9" y="43.7" width="2.0" height="7.0" fill="#00ff80" fill-opacity="0.23"/><rect x="521.4" y="526.2" width="7.0" height="6.0" fill="#0000ff" fill-opacity="0.10"/><rect x="39.9" y="43.7" width="6.0" height="7.0" fill="#0000ff" fill-opacity="0.10"/><rect x="521.4" y="520.2" width="7.0" height="6.0" fill="#00ff80" fill-opacity="0.22"/><rect x="45.9" y="43.7" width="6.0" height="7.0" fill="#00ff80" fill-opacity="0.22"/><rect x="521.4" y="515.2" width="7.0" height="5.0" fill="#0000ff" fill-opacity="0.10"/><rect x="51.9" y="43.7" width="5.0" height="7.0" fill="#0000ff" fill-opacity="0.10"/><rect x="521.4" y="510.2" width="7.0" height="5.0" fill="#00ff80" fill-opacity="0.24"/><rect x="56.9" y="43.7" width="5.0" height="7.0" fill="#00ff80" fill-opacity="0.24"/><rect x="521.4" y="507.2" width="7.0" height="3.0" fill="#00ff80" fill-opacity="0.17"/><rect x="61.9" y="43.7" width="3.0" height="7.0" fill="#00ff80" fill-opacity="0.17"/><rect x="521.4" y="499.2" width="7.0" height="3.0" fill="#00ff80" fill-opacity="0.26"/><rect x="69.9" y="43.7" width="3.0" height="7.0" fill="#00ff80" fill-opacity="0.26"/><rect x="521.4" y="497.2" width="7.0" height="2.0" fill="#00ff80" fill-opacity="0.19"/><rect x="72.9" y="43.7" width="2.0" height="7.0" fill="#00ff80" fill-opacity="0.19"/><rect x="521.4" y="495.2" width="7.0" height="2.0" fill="#00ff80" fill-opacity="0.20"/><rect x="74.9" y="43.7" width="2.0" height="7.0" fill="#00ff80" fill-opacity="0.20"/><rect x="521.4" y="492.2" width="7.0" height="3.0" fill="#00ff80" fill-opacity="0.23"/><rect x="76.9" y="43.7" width="3.0" height="7.0" fill="#00ff80" fill-opacity="0.23"/><rect x="521.4" y="489.2" width="7.0" height="3.0" fill="#0000ff" fill-opacity="0.10"/><rect x="79.9" y="43.7" width="3.0" height="7.0" fill="#0000ff" fill-opacity="0.10"/><rect x="521.4" y="481.2" width="7.0" height="2.0" fill="#0000ff" fill-opacity="0.10"/><rect x="88.9" y="43.7" width="2.0" height="7.0" fill="#0000ff" fill-opacity="0.10"/><rect x="521.4" y="478.2" width="7.0" height="3.0" fill="#00ff80" fill-opacity="0.23"/><rect x="90.9" y="43.7" width="3.0" height="7.0" fill="#00ff80" fill-opacity="0.23"/><rect x="521.4" y="475.2" width="7.0" height="3.0" fill="#00ff80" fill-opacity="0.21"/><rect x="93.9" y="43.7" width="3.0" height="7.0" fill="#00ff80" fill-opacity="0.21"/><rect x="521.4" y="472.2" width="7.0" height="3.0" fill="#00ff80" fill-opacity="0.27"/><rect x="96.9" y="43.7" width="3.0" height="7.0" fill="#00ff80" fill-opacity="0.27"/><rect x="521.4" y="467.2" width="7.0" height="5.0" fill="#00ff80" fill-opacity="0.22"/><rect x="99.9" y="43.7" width="5.0" height="7.0" fill="#00ff80" fill-opacity="0.22"/><rect x="521.4" y="457.2" width="7.0" height="3.0" fill="#00ff80" fill-opacity="0.21"/><rect x="111.9" y="43.7" width="3.0" height="7.0" fill="#00ff80" fill-opacity="0.21"/><rect x="521.4" y="452.2" width="7.0" height="5.0" fill="#00ff80" fill-opacity="0.21"/><rect x="114.9" y="43.7" width="5.0" height="7.0" fill="#00ff80" fill-opacity="0.21"/><rect x="521.4" y="441.2" width="7.0" height="3.0" fill="#00ff80" fill-opacity="0.24"/><rect x="127.9" y="43.7" width="3.0" height="7.0" fill="#00ff80" fill-opacity="0.24"/><rect x="521.4" y="439.2" width="7.0" height="2.0" fill="#00ff80" fill-opacity="0.20"/><rect x="130.9" y="43.7" width="2.0" height="7.0" fill="#00ff80" fill-opacity="0.20"/><rect x="521.4" y="434.2" width="7.0" height="5.0" fill="#00ff80" fill-opacity="0.20"/><rect x="132.9" y="43.7" width="5.0" height="7.0" fill="#00ff80" fill-opacity="0.20"/><rect x="521.4" y="428.2" width="7.0" height="6.0" fill="#00ff80" fill-opacity="0.15"/><rect x="137.9" y="43.7" width="6.0" height="7.0" fill="#00ff80" fill-opacity="0.15"/><rect x="521.4" y="422.2" width="7.0" height="6.0" fill="#00ff80" fill-opacity="0.18"/><rect x="143.9" y="43.7" width="6.0" height="7.0" fill="#00ff80" fill-opacity="0.18"/><rect x="521.4" y="420.2" width="7.0" height="2.0" fill="#00ff80" fill-opacity="0.26"/><rect x="149.9" y="43.7" width="2.0" height="7.0" fill="#00ff80" fill-opacity="0.26"/><rect x="521.4" y="410.2" width="7.0" height="6.0" fill="#0000ff" fill-opacity="0.10"/><rect x="155.9" y="43.7" width="6.0" height="7.0" fill="#0000ff" fill-opacity="0.10"/><rect x="521.4" y="400.2" width="7.0" height="5.0" fill="#00ff80" fill-opacity="0.15"/><rect x="166.9" y="43.7" width="5.0" height="7.0" fill="#00ff80" fill-opacity="0.15"/><rect x="521.4" y="398.2" width="7.0" height="2.0" fill="#00ff80" fill-opacity="0.22"/><rect x="171.9" y="43.7" width="2.0" height="7.0" fill="#00ff80" fill-opacity="0.22"/><rect x="521.4" y="389.2" width="7.0" height="4.0" fill="#0000ff" fill-opacity="0.10"/><rect x="178.9" y="43.7" width="4.0" height="7.0" fill="#0000ff" fill-opacity="0.10"/><rect x="521.4" y="387.2" width="7.0" height="2.0" fill="#00ff80" fill-opacity="0.15"/><rect x="182.9" y="43.7" width="2.0" height="7.0" fill="#00ff80" fill-opacity="0.15"/><rect x="521.4" y="383.2" width="7.0" height="4.0" fill="#00ff80" fill-opacity="0.22"/><rect x="184.9" y="43.7" width="4.0" height="7.0" fill="#00ff80" fill-opacity="0.22"/><rect x="521.4" y="379.2" width="7.0" height="4.0" fill="#00ff80" fill-opacity="0.22"/><rect x="188.9" y="43.7" width="4.0" height="7.0" fill="#00ff80" fill-opacity="0.22"/><rect x="521.4" y="376.2" width="7.0" height="3.0" fill="#00ff80" fill-opacity="0.15"/><rect x="192.9" y="43.7" width="3.0" height="7.0" fill="#00ff80" fill-opacity="0.15"/><rect x="521.4" y="374.2" width="7.0" height="2.0" fill="#00ff80" fill-opacity="0.16"/><rect x="195.9" y="43.7" width="2.0" height="7.0" fill="#00ff80" fill-opacity="0.16"/><rect x="521.4" y="371.2" width="7.0" height="3.0" fill="#00ff80" fill-opacity="0.18"/><rect x="197.9" y="43.7" width="3.0" height="7.0" fill="#00ff80" fill-opacity="0.18"/><rect x="521.4" y="369.2" width="7.0" height="2.0" fill="#00ff80" fill-opacity="0.27"/><rect x="200.9" y="43.7" width="2.0" height="7.0" fill="#00ff80" fill-opacity="0.27"/><rect x="521.4" y="363.2" width="7.0" height="6.0" fill="#00ff80" fill-opacity="0.22"/><rect x="202.9" y="43.7" width="6.0" height="7.0" fill="#00ff80" fill-opacity="0.22"/><rect x="521.4" y="360.2" width="7.0" height="3.0" fill="#00ff80" fill-opacity="0.23"/><rect x="208.9" y="43.7" width="3.0" height="7.0" fill="#00ff80" fill-opacity="0.23"/><rect x="521.4" y="356.2" width="7.0" height="2.0" fill="#00ff80" fill-opacity="0.22"/><rect x="213.9" y="43.7" width="2.0" height="7.0" fill="#00ff80" fill-opacity="0.22"/><rect x="521.4" y="354.2" width="7.0" height="2.0" fill="#00ff80" fill-opacity="0.20"/><rect x="215.9" y="43.7" width="2.0" height="7.0" fill="#00ff80" fill-opacity="0.20"/><rect x="521.4" y="351.2" width="7.0" height="3.0" fill="#00ff80" fill-opacity="0.22"/><rect x="217.9" y="43.7" width="3.0" height="7.0" fill="#00ff80" fill-opacity="0.22"/><rect x="521.4" y="348.2" width="7.0" height="3.0" fill="#00ff80" fill-opacity="0.25"/><rect x="220.9" y="43.7" width="3.0" height="7.0" fill="#00ff80" fill-opacity="0.25"/><rect x="521.4" y="346.2" width="7.0" height="2.0" fill="#00ff80" fill-opacity="0.26"/><rect x="223.9" y="43.7" width="2.0" height="7.0" fill="#00ff80" fill-opacity="0.26"/><rect x="521.4" y="344.2" width="7.0" height="2.0" fill="#00ff80" fill-opacity="0.20"/><rect x="225.9" y="43.7" width="2.0" height="7.0" fill="#00ff80" fill-opacity="0.20"/><rect x="521.4" y="341.2" width="7.0" height="3.0" fill="#00ff80" fill-opacity="0.16"/><rect x="227.9" y="43.7" width="3.0" height="7.0" fill="#00ff80" fill-opacity="0.16"/><rect x="521.4" y="339.2" width="7.0" height="2.0" fill="#0000ff" fill-opacity="0.10"/><rect x="230.9" y="43.7" width="2.0" height="7.0" fill="#0000ff" fill-opacity="0.10"/><rect x="521.4" y="332.2" width="7.0" height="2.0" fill="#00ff80" fill-opacity="0.17"/><rect x="237.9" y="43.7" width="2.0" height="7.0" fill="#00ff80" fill-opacity="0.17"/><rect x="521.4" y="330.2" width="7.0" height="2.0" fill="#00ff80" fill-opacity="0.18"/><rect x="239.9" y="43.7" width="2.0" height="7.0" fill="#00ff80" fill-opacity="0.18"/><rect x="521.4" y="328.2" width="7.0" height="2.0" fill="#00ff80" fill-opacity="0.21"/><rect x="241.9" y="43.7" width="2.0" height="7.0" fill="#00ff80" fill-opacity="0.21"/><rect x="521.4" y="323.2" width="7.0" height="5.0" fill="#00ff80" fill-opacity="0.22"/><rect x="243.9" y="43.7" width="5.0" height="7.0" fill="#00ff80" fill-opacity="0.22"/><rect x="521.4" y="320.2" width="7.0" height="3.0" fill="#00ff80" fill-opacity="0.26"/><rect x="248.9" y="43.7" width="3.0" height="7.0" fill="#00ff80" fill-opacity="0.26"/><rect x="521.4" y="314.2" width="7.0" height="6.0" fill="#00ff80" fill-opacity="0.27"/><rect x="251.9" y="43.7" width="6.0" height="7.0" fill="#00ff80" fill-opacity="0.27"/><rect x="521.4" y="311.2" width="7.0" height="3.0" fill="#00ff80" fill-opacity="0.15"/><rect x="257.9" y="43.7" width="3.0" height="7.0" fill="#00ff80" fill-opacity="0.15"/><rect x="521.4" y="307.2" width="7.0" height="4.0" fill="#00ff80" fill-opacity="0.15"/><rect x="260.9" y="43.7" width="4.0" height="7.0" fill="#00ff80" fill-opacity="0.15"/><rect x="521.4" y="304.2" width="7.0" height="3.0" fill="#00ff80" fill-opacity="0.26"/><rect x="264.9" y="43.7" width="3.0" height="7.0" fill="#00ff80" fill-opacity="0.26"/><rect x="521.4" y="299.2" width="7.0" height="5.0" fill="#00ff80" fill-opacity="0.24"/><rect x="267.9" y="43.7" width="5.0" height="7.0" fill="#00ff80" fill-opacity="0.24"/><rect x="521.4" y="296.2" width="7.0" height="3.0" fill="#00ff80" fill-opacity="0.19"/><rect x="272.9" y="43.7" width="3.0" height="7.0" fill="#00ff80" fill-opacity="0.19"/><rect x="521.4" y="291.2" width="7.0" height="5.0" fill="#00ff80" fill-opacity="0.16"/><rect x="275.9" y="43.7" width="5.0" height="7.0" fill="#00ff80" fill-opacity="0.16"/><rect x="521.4" y="289.2" width="7.0" height="2.0" fill="#00ff80" fill-opacity="0.22"/><rect x="280.9" y="43.7" width="2.0" height="7.0" fill="#00ff80" fill-opacity="0.22"/><rect x="521.4" y="287.2" width="7.0" height="2.0" fill="#00ff80" fill-opacity="0.24"/><rect x="282.9" y="43.7" width="2.0" height="7.0" fill="#00ff80" fill-opacity="0.24"/><rect x="521.4" y="283.2" width="7.0" height="4.0" fill="#00ff80" fill-opacity="0.27"/><rect x="284.9" y="43.7" width="4.0" height="7.0" fill="#00ff80" fill-opacity="0.27"/><rect x="521.4" y="278.2" width="7.0" height="5.0" fill="#00ff80" fill-opacity="0.23"/><rect x="288.9" y="43.7" width="5.0" height="7.0" fill="#00ff80" fill-opacity="0.23"/><rect x="521.4" y="274.2" width="7.0" height="4.0" fill="#00ff80" fill-opacity="0.22"/><rect x="293.9" y="43.7" width="4.0" height="7.0" fill="#00ff80" fill-opacity="0.22"/><rect x="521.4" y="272.2" width="7.0" height="2.0" fill="#00ff80" fill-opacity="0.15"/><rect x="297.9" y="43.7" width="2.0" height="7.0" fill="#00ff80" fill-opacity="0.15"/><rect x="521.4" y="269.2" width="7.0" height="3.0" fill="#00ff80" fill-opacity="0.21"/><rect x="299.9" y="43.7" width="3.0" height="7.0" fill="#00ff80" fill-opacity="0.21"/><rect x="521.4" y="265.2" width="7.0" height="4.0" fill="#00ff80" fill-opacity="0.25"/><rect x="302.9" y="43.7" width="4.0" height="7.0" fill="#00ff80" fill-opacity="0.25"/><rect x="521.4" y="259.2" width="7.0" height="6.0" fill="#00ff80" fill-opacity="0.15"/><rect x="306.9" y="43.7" width="6.0" height="7.0" fill="#00ff80" fill-opacity="0.15"/><rect x="521.4" y="257.2" width="7.0" height="2.0" fill="#00ff80" fill-opacity="0.25"/><rect x="312.9" y="43.7" width="2.0" height="7.0" fill="#00ff80" fill-opacity="0.25"/><rect x="521.4" y="254.2" width="7.0" height="3.0" fill="#00ff80" fill-opacity="0.25"/><rect x="314.9" y="43.7" width="3.0" height="7.0" fill="#00ff80" fill-opacity="0.25"/><rect x="521.4" y="249.2" width="7.0" height="5.0" fill="#00ff80" fill-opacity="0.17"/><rect x="317.9" y="43.7" width="5.0" height="7.0" fill="#00ff80" fill-opacity="0.17"/><rect x="521.4" y="243.2" width="7.0" height="3.0" fill="#00ff80" fill-opacity="0.24"/><rect x="325.9" y="43.7" width="3.0" height="7.0" fill="#00ff80" fill-opacity="0.24"/><rect x="521.4" y="238.2" width="7.0" height="5.0" fill="#00ff80" fill-opacity="0.17"/><rect x="328.9" y="43.7" width="5.0" height="7.0" fill="#00ff80" fill-opacity="0.17"/><rect x="521.4" y="230.2" width="7.0" height="5.0" fill="#0000ff" fill-opacity="0.10"/><rect x="336.9" y="43.7" width="5.0" height="7.0" fill="#0000ff" fill-opacity="0.10"/><rect x="521.4" y="227.2" width="7.0" height="3.0" fill="#00ff80" fill-opacity="0.23"/><rect x="341.9" y="43.7" width="3.0" height="7.0" fill="#00ff80" fill-opacity="0.23"/><rect x="521.4" y="221.2" width="7.0" height="6.0" fill="#00ff80" fill-opacity="0.20"/><rect x="344.9" y="43.7" width="6.0" height="7.0" fill="#00ff80" fill-opacity="0.20"/><rect x="521.4" y="218.2" width="7.0" height="3.0" fill="#00ff80" fill-opacity="0.23"/><rect x="350.9" y="43.7" width="3.0" height="7.0" fill="#00ff80" fill-opacity="0.23"/><rect x="521.4" y="212.2" width="7.0" height="6.0" fill="#00ff80" fill-opacity="0.16"/><rect x="353.9" y="43.7" width="6.0" height="7.0" fill="#00ff80" fill-opacity="0.16"/><rect x="521.4" y="208.2" width="7.0" height="4.0" fill="#00ff80" fill-opacity="0.23"/><rect x="359.9" y="43.7" width="4.0" height="7.0" fill="#00ff80" fill-opacity="0.23"/><rect x="521.4" y="200.2" width="7.0" height="5.0" fill="#00ff80" fill-opacity="0.21"/><rect x="366.9" y="43.7" width="5.0" height="7.0" fill="#00ff80" fill-opacity="0.21"/><rect x="521.4" y="196.2" width="7.0" height="4.0" fill="#00ff80" fill-opacity="0.15"/><rect x="371.9" y="43.7" width="4.0" height="7.0" fill="#00ff80" fill-opacity="0.15"/><rect x="521.4" y="190.2" width="7.0" height="3.0" fill="#00ff80" fill-opacity="0.26"/><rect x="378.9" y="43.7" width="3.0" height="7.0" fill="#00ff80" fill-opacity="0.26"/><rect x="521.4" y="187.2" width="7.0" height="3.0" fill="#00ff80" fill-opacity="0.23"/><rect x="381.9" y="43.7" width="3.0" height="7.0" fill="#00ff80" fill-opacity="0.23"/><rect x="521.4" y="184.2" width="7.0" height="3.0" fill="#00ff80" fill-opacity="0.17"/><rect x="384.9" y="43.7" width="3.0" height="7.0" fill="#00ff80" fill-opacity="0.17"/><rect x="521.4" y="182.2" width="7.0" height="2.0" fill="#00ff80" fill-opacity="0.20"/><rect x="387.9" y="43.7" width="2.0" height="7.0" fill="#00ff80" fill-opacity="0.20"/><rect x="521.4" y="180.2" width="7.0" height="2.0" fill="#0000ff" fill-opacity="0.10"/><rect x="389.9" y="43.7" width="2.0" height="7.0" fill="#0000ff" fill-opacity="0.10"/><rect x="521.4" y="175.2" width="7.0" height="5.0" fill="#00ff80" fill-opacity="0.25"/><rect x="391.9" y="43.7" width="5.0" height="7.0" fill="#00ff80" fill-opacity="0.25"/><rect x="521.4" y="171.2" width="7.0" height="4.0" fill="#0000ff" fill-opacity="0.10"/><rect x="396.9" y="43.7" width="4.0" height="7.0" fill="#0000ff" fill-opacity="0.10"/><rect x="521.4" y="168.2" width="7.0" height="3.0" fill="#00ff80" fill-opacity="0.21"/><rect x="400.9" y="43.7" width="3.0" height="7.0" fill="#00ff80" fill-opacity="0.21"/><rect x="521.4" y="166.2" width="7.0" height="2.0" fill="#00ff80" fill-opacity="0.17"/><rect x="403.9" y="43.7" width="2.0" height="7.0" fill="#00ff80" fill-opacity="0.17"/><rect x="521.4" y="164.2" width="7.0" height="2.0" fill="#00ff80" fill-opacity="0.27"/><rect x="405.9" y="43.7" width="2.0" height="7.0" fill="#00ff80" fill-opacity="0.27"/><rect x="521.4" y="158.2" width="7.0" height="6.0" fill="#0000ff" fill-opacity="0.10"/><rect x="407.9" y="43.7" width="6.0" height="7.0" fill="#0000ff" fill-opacity="0.10"/><rect x="521.4" y="155.2" width="7.0" height="3.0" fill="#00ff80" fill-opacity="0.25"/><rect x="413.9" y="43.7" width="3.0" height="7.0" fill="#00ff80" fill-opacity="0.25"/><rect x="521.4" y="151.2" width="7.0" height="4.0" fill="#00ff80" fill-opacity="0.15"/><rect x="416.9" y="43.7" width="4.0" height="7.0" fill="#00ff80" fill-opacity="0.15"/><rect x="521.4" y="146.2" width="7.0" height="5.0" fill="#0000ff" fill-opacity="0.10"/><rect x="420.9" y="43.7" width="5.0" height="7.0" fill="#0000ff" fill-opacity="0.10"/><rect x="521.4" y="142.2" width="7.0" height="4.0" fill="#00ff80" fill-opacity="0.18"/><rect x="425.9" y="43.7" width="4.0" height="7.0" fill="#00ff80" fill-opacity="0.18"/><rect x="521.4" y="139.2" width="7.0" height="3.0" fill="#00ff80" fill-opacity="0.22"/><rect x="429.9" y="43.7" width="3.0" height="7.0" fill="#00ff80" fill-opacity="0.22"/><rect x="521.4" y="136.2" width="7.0" height="3.0" fill="#00ff80" fill-opacity="0.18"/><rect x="432.9" y="43.7" width="3.0" height="7.0" fill="#00ff80" fill-opacity="0.18"/><rect x="521.4" y="132.2" width="7.0" height="4.0" fill="#00ff80" fill-opacity="0.25"/><rect x="435.9" y="43.7" width="4.0" height="7.0" fill="#00ff80" fill-opacity="0.25"/><rect x="521.4" y="130.2" width="7.0" height="2.0" fill="#00ff80" fill-opacity="0.27"/><rect x="439.9" y="43.7" width="2.0" height="7.0" fill="#00ff80" fill-opacity="0.27"/><rect x="521.4" y="124.2" width="7.0" height="6.0" fill="#00ff80" fill-opacity="0.19"/><rect x="441.9" y="43.7" width="6.0" height="7.0" fill="#00ff80" fill-opacity="0.19"/><rect x="521.4" y="121.2" width="7.0" height="3.0" fill="#00ff80" fill-opacity="0.15"/><rect x="447.9" y="43.7" width="3.0" height="7.0" fill="#00ff80" fill-opacity="0.15"/><rect x="521.4" y="118.2" width="7.0" height="3.0" fill="#00ff80" fill-opacity="0.26"/><rect x="450.9" y="43.7" width="3.0" height="7.0" fill="#00ff80" fill-opacity="0.26"/><rect x="521.4" y="109.2" width="7.0" height="3.0" fill="#00ff80" fill-opacity="0.22"/><rect x="459.9" y="43.7" width="3.0" height="7.0" fill="#00ff80" fill-opacity="0.22"/><rect x="521.4" y="103.2" width="7.0" height="6.0" fill="#00ff80" fill-opacity="0.21"/><rect x="462.9" y="43.7" width="6.0" height="7.0" fill="#00ff80" fill-opacity="0.21"/><rect x="521.4" y="101.2" width="7.0" height="2.0" fill="#00ff80" fill-opacity="0.19"/><rect x="468.9" y="43.7" width="2.0" height="7.0" fill="#00ff80" fill-opacity="0.19"/><rect x="521.4" y="95.2" width="7.0" height="6.0" fill="#00ff80" fill-opacity="0.18"/><rect x="470.9" y="43.7" width="6.0" height="7.0" fill="#00ff80" fill-opacity="0.18"/><rect x="521.4" y="83.2" width="7.0" height="6.0" fill="#00ff80" fill-opacity="0.25"/><rect x="482.9" y="43.7" width="6.0" height="7.0" fill="#00ff80" fill-opacity="0.25"/><rect x="521.4" y="78.2" width="7.0" height="5.0" fill="#00ff80" fill-opacity="0.22"/><rect x="488.9" y="43.7" width="5.0" height="7.0" fill="#00ff80" fill-opacity="0.22"/><rect x="521.4" y="76.2" width="7.0" height="2.0" fill="#00ff80" fill-opacity="0.26"/><rect x="493.9" y="43.7" width="2.0" height="7.0" fill="#00ff80" fill-opacity="0.26"/><rect x="521.4" y="65.2" width="7.0" height="6.0" fill="#00ff80" fill-opacity="0.20"/><rect x="500.9" y="43.7" width="6.0" height="7.0" fill="#00ff80" fill-opacity="0.20"/><rect x="521.4" y="59.2" width="7.0" height="6.0" fill="#00ff80" fill-opacity="0.20"/><rect x="506.9" y="43.7" width="6.0" height="7.0" fill="#00ff80" fill-opacity="0.20"/><rect x="521.4" y="49.2" width="7.0" height="3.0" fill="#00ff80" fill-opacity="0.17"/><rect x="519.9" y="43.7" width="3.0" height="7.0" fill="#00ff80" fill-opacity="0.17"/><rect x="521.4" y="45.2" width="7.0" height="4.0" fill="#00ff80" fill-opacity="0.20"/><rect x="522.9" y="43.7" width="4.0" height="7.0" fill="#00ff80" fill-opacity="0.20"/><rect x="521.4" y="43.2" width="7.0" height="2.0" fill="#00ff80" fill-opacity="0.23"/><rect x="526.9" y="43.7" width="2.0" height="7.0" fill="#00ff80" fill-opacity="0.23"/><rect x="521.4" y="41.2" width="7.0" height="2.0" fill="#0000ff" fill-opacity="0.10"/><rect x="528.9" y="43.7" width="2.0" height="7.0" fill="#0000ff" fill-opacity="0.10"/><rect x="521.4" y="36.2" width="7.0" height="5.0" fill="#0000ff" fill-opacity="0.10"/><rect x="530.9" y="43.7" width="5.0" height="7.0" fill="#0000ff" fill-opacity="0.10"/><rect x="521.4" y="34.2" width="7.0" height="2.0" fill="#00ff80" fill-opacity="0.20"/><rect x="535.9" y="43.7" width="2.0" height="7.0" fill="#00ff80" fill-opacity="0.20"/><rect x="521.4" y="31.2" width="7.0" height="3.0" fill="#00ff80" fill-opacity="0.16"/><rect x="537.9" y="43.7" width="3.0" height="7.0" fill="#00ff80" fill-opacity="0.16"/><rect x="521.4" y="27.2" width="7.0" height="4.0" fill="#00ff80" fill-opacity="0.25"/><rect x="540.9" y="43.7" width="4.0" height="7.0" fill="#00ff80" fill-opacity="0.25"/><rect x="521.4" y="24.2" width="7.0" height="3.0" fill="#00ff80" fill-opacity="0.27"/><rect x="544.9" y="43.7" width="3.0" height="7.0" fill="#00ff80" fill-opacity="0.27"/><rect x="521.4" y="21.2" width="7.0" height="3.0" fill="#00ff80" fill-opacity="0.24"/><rect x="547.9" y="43.7" width="3.0" height="7.0" fill="#00ff80" fill-opacity="0.24"/><rect x="521.4" y="11.2" width="7.0" height="4.0" fill="#0000ff" fill-opacity="0.10"/><rect x="556.9" y="43.7" width="4.0" height="7.0" fill="#0000ff" fill-opacity="0.10"/><rect x="521.4" y="9.2" width="7.0" height="2.0" fill="#00ff80" fill-opacity="0.26"/><rect x="560.9" y="43.7" width="2.0" height="7.0" fill="#00ff80" fill-opacity="0.26"/><rect x="521.4" y="7.2" width="7.0" height="2.0" fill="#00ff80" fill-opacity="0.25"/><rect x="562.9" y="43.7" width="2.0" height="7.0" fill="#00ff80" fill-opacity="0.25"/><rect x="521.4" y="6.9" width="7.0" height="0.3" fill="#00ff80" fill-opacity="0.23"/><rect x="564.9" y="43.7" width="0.3" height="7.0" fill="#00ff80" fill-opacity="0.23"/></g><line x1="0.90" y1="571.20" x2="565.20" y2="6.75" stroke="#00ff80" stroke-opacity="0.30" stroke-width="1.3"/></g><rect x="0.90" y="6.75" width="564.30" height="564.45" fill="none" stroke="#000" stroke-width="1.6"/><line x1="0.0" y1="523.1" x2="148.7" y2="523.1" stroke="#000" stroke-width="3"/><line x1="146.4" y1="423.6" x2="259.5" y2="423.6" stroke="#000" stroke-width="3"/><line x1="258.0" y1="312.1" x2="550.0" y2="312.1" stroke="#000" stroke-width="3"/><line x1="548.2" y1="22.3" x2="565.0" y2="22.3" stroke="#000" stroke-width="3"/><text x="30.9" y="547.6" font-size="23" font-family="'DejaVu Sans', 'Liberation Sans', sans-serif" fill="#000">Low-z</text><text x="162.6" y="451.9" font-size="23" font-family="'DejaVu Sans', 'Liberation Sans', sans-serif" fill="#000">SDSS</text><text x="372.0" y="344.0" font-size="23" font-family="'DejaVu Sans', 'Liberation Sans', sans-serif" fill="#000">SNLS</text><text x="516.0" y="56.0" font-size="23" font-family="'DejaVu Sans', 'Liberation Sans', sans-serif" fill="#000">HST</text><rect x="601.80" y="6.75" width="28.20" height="564.45" fill="url(#cb)" stroke="#000" stroke-width="1.6"/><line x1="623.6" y1="6.60" x2="630.00" y2="6.60" stroke="#000" stroke-width="1.2"/><text x="636.2" y="13.80" font-size="20" font-family="'DejaVu Sans', 'Liberation Sans', sans-serif" fill="#000">1.0</text><line x1="623.6" y1="63.80" x2="630.00" y2="63.80" stroke="#000" stroke-width="1.2"/><text x="636.2" y="71.00" font-size="20" font-family="'DejaVu Sans', 'Liberation Sans', sans-serif" fill="#000">0.8</text><line x1="623.6" y1="121.00" x2="630.00" y2="121.00" stroke="#000" stroke-width="1.2"/><text x="636.2" y="128.20" font-size="20" font-family="'DejaVu Sans', 'Liberation Sans', sans-serif" fill="#000">0.6</text><line x1="623.6" y1="178.20" x2="630.00" y2="178.20" stroke="#000" stroke-width="1.2"/><text x="636.2" y="185.40" font-size="20" font-family="'DejaVu Sans', 'Liberation Sans', sans-serif" fill="#000">0.4</text><line x1="623.6" y1="235.40" x2="630.00" y2="235.40" stroke="#000" stroke-width="1.2"/><text x="636.2" y="242.60" font-size="20" font-family="'DejaVu Sans', 'Liberation Sans', sans-serif" fill="#000">0.2</text><line x1="623.6" y1="292.60" x2="630.00" y2="292.60" stroke="#000" stroke-width="1.2"/><text x="636.2" y="299.80" font-size="20" font-family="'DejaVu Sans', 'Liberation Sans', sans-serif" fill="#000">0.0</text><line x1="623.6" y1="349.80" x2="630.00" y2="349.80" stroke="#000" stroke-width="1.2"/><text x="636.2" y="357.00" font-size="20" font-family="'DejaVu Sans', 'Liberation Sans', sans-serif" fill="#000">−0.2</text><line x1="623.6" y1="407.00" x2="630.00" y2="407.00" stroke="#000" stroke-width="1.2"/><text x="636.2" y="414.20" font-size="20" font-family="'DejaVu Sans', 'Liberation Sans', sans-serif" fill="#000">−0.4</text><line x1="623.6" y1="464.20" x2="630.00" y2="464.20" stroke="#000" stroke-width="1.2"/><text x="636.2" y="471.40" font-size="20" font-family="'DejaVu Sans', 'Liberation Sans', sans-serif" fill="#000">−0.6</text><line x1="623.6" y1="521.40" x2="630.00" y2="521.40" stroke="#000" stroke-width="1.2"/><text x="636.2" y="528.60" font-size="20" font-family="'DejaVu Sans', 'Liberation Sans', sans-serif" fill="#000">−0.8</text></svg></body></html>
